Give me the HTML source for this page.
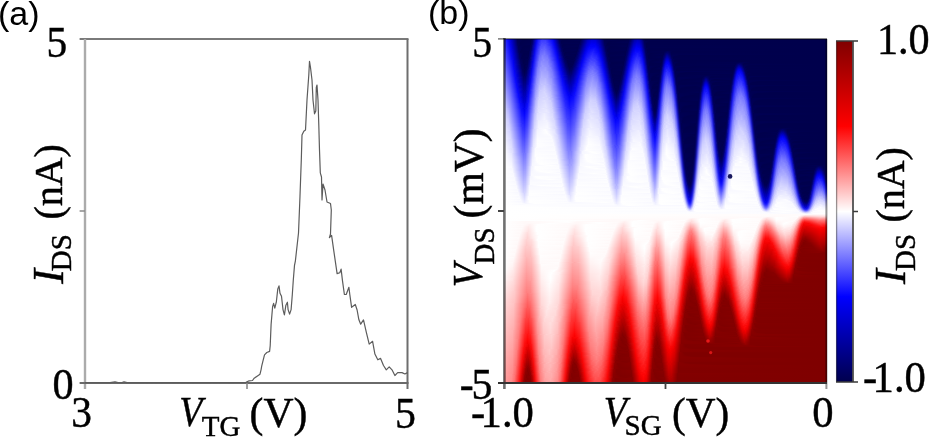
<!DOCTYPE html>
<html><head><meta charset="utf-8"><title>figure</title>
<style>
html,body{margin:0;padding:0;background:#fff}
body{width:930px;height:439px;position:relative;overflow:hidden}
#hm{position:absolute;left:504px;top:39px;width:323px;height:344px}
#hm i{display:block;height:1px;width:323px}
svg{position:absolute;left:0;top:0}
.s{font-family:"Liberation Serif","Times New Roman",serif;fill:#000;stroke:#000;stroke-width:0.45px}
.a{font-family:"Liberation Sans",Arial,sans-serif;fill:#000}
</style></head><body>

<div id="hm"><i style="background:linear-gradient(90deg,#2b2bff 0.5px,#0707f9 4.5px,#0000cd 7.5px,#000056 13.5px,#00004c 19.5px,#005 27.5px,#000081 29.5px,#0606e5 32.5px,#1c1cfd 34.5px,#3d3dff 38.5px,#3030ff 43.5px,#0808f6 48.5px,#0101d2 50.5px,#00006b 54.5px,#000050 56.5px,#000051 76.5px,#00007c 79.5px,#0000c6 84.5px,#0000dc 88.5px,#0000ce 92.5px,#000097 96.5px,#00005d 99.5px,#00004d 102.5px,#00004f 124.5px,#000063 126.5px,#0000a9 130.5px,#0000bd 133.5px,#0000b4 135.5px,#000090 137.5px,#000060 139.5px,#00004e 141.5px,#00004c 322.5px)"></i><i style="background:linear-gradient(90deg,#2d2dff 0.5px,#0909f9 4.5px,#0000cf 7.5px,#000057 13.5px,#00004c 18.5px,#00004f 26.5px,#000068 28.5px,#0707e8 32.5px,#1f1ffe 34.5px,#3c3cff 37.5px,#3d3dff 41.5px,#0909f8 48.5px,#0101d7 50.5px,#00005c 55.5px,#00004d 58.5px,#000053 76.5px,#0000c0 83.5px,#0000de 87.5px,#0000d9 91.5px,#0000ad 95.5px,#000053 100.5px,#00004c 118.5px,#00004f 124.5px,#006 126.5px,#0000ae 130.5px,#0000c2 133.5px,#0000b9 135.5px,#000095 137.5px,#000063 139.5px,#00004e 141.5px,#00004c 322.5px)"></i><i style="background:linear-gradient(90deg,#2f2fff 0.5px,#0a0afa 4.5px,#0000d2 7.5px,#000058 13.5px,#00004d 17.5px,#00004f 26.5px,#00006b 28.5px,#0909ec 32.5px,#2222fe 34.5px,#4040ff 37.5px,#4141ff 41.5px,#0c0cfa 48.5px,#0101dd 50.5px,#000060 55.5px,#00004e 57.5px,#00004f 75.5px,#000073 78.5px,#0000c6 83.5px,#0000e4 87.5px,#0000df 91.5px,#0000b2 95.5px,#005 100.5px,#00004c 106.5px,#000051 124.5px,#00006b 126.5px,#0000b5 130.5px,#0000c9 133.5px,#0000c0 135.5px,#00009c 137.5px,#000057 140.5px,#00004c 145.5px,#00004c 322.5px)"></i><i style="background:linear-gradient(90deg,#3232ff 0.5px,#0505f4 5.5px,#0000ad 9.5px,#00005a 13.5px,#00004d 16.5px,#000050 26.5px,#000070 28.5px,#0404d6 31.5px,#0b0bef 32.5px,#2626fe 34.5px,#44f 37.5px,#4545ff 41.5px,#1818fe 47.5px,#0707f3 49.5px,#0000b0 52.5px,#000065 55.5px,#00004f 57.5px,#000050 75.5px,#000079 78.5px,#0000cd 83.5px,#0000ea 87.5px,#0000e5 91.5px,#0000b8 95.5px,#000058 100.5px,#00004d 104.5px,#000053 124.5px,#008 127.5px,#0000bd 130.5px,#0000d1 133.5px,#0000c7 135.5px,#0000a4 137.5px,#000059 140.5px,#00004d 143.5px,#00004c 322.5px)"></i><i style="background:linear-gradient(90deg,#3434ff 0.5px,#0606f6 5.5px,#0000b0 9.5px,#00005d 13.5px,#00004d 16.5px,#000051 26.5px,#000074 28.5px,#0505db 31.5px,#0d0df1 32.5px,#3737ff 35.5px,#4c4cff 38.5px,#3f3fff 43.5px,#0909f7 49.5px,#0101d2 51.5px,#00006a 55.5px,#000050 57.5px,#000052 75.5px,#000080 78.5px,#0000d4 83.5px,#0000f1 87.5px,#0000ec 91.5px,#0000bf 95.5px,#00005b 100.5px,#00004d 103.5px,#00004f 123.5px,#000063 125.5px,#0000b6 129.5px,#0000d6 132.5px,#0000cf 135.5px,#0000ab 137.5px,#00005c 140.5px,#00004d 142.5px,#00004c 322.5px)"></i><i style="background:linear-gradient(90deg,#3737ff 0.5px,#0707f7 5.5px,#0000c8 8.5px,#00005f 13.5px,#00004d 16.5px,#000052 26.5px,#000079 28.5px,#0606e0 31.5px,#1e1efc 33.5px,#4d4dff 37.5px,#4d4dff 41.5px,#2020ff 47.5px,#0b0bf9 49.5px,#0101d9 51.5px,#00005d 56.5px,#00004d 59.5px,#00004f 74.5px,#000061 76.5px,#0000ce 82.5px,#0000f3 86.5px,#0101f6 90.5px,#0000d4 94.5px,#008 98.5px,#00005e 100.5px,#00004d 103.5px,#00004f 123.5px,#000068 125.5px,#0000be 129.5px,#00d 132.5px,#0000d7 135.5px,#0000b3 137.5px,#00005f 140.5px,#00004d 142.5px,#00004c 322.5px)"></i><i style="background:linear-gradient(90deg,#3939ff 0.5px,#0808f9 5.5px,#00c 8.5px,#000062 13.5px,#00004f 15.5px,#00004e 25.5px,#000064 27.5px,#0707e4 31.5px,#2222fd 33.5px,#5151ff 37.5px,#5151ff 41.5px,#2323ff 47.5px,#0606f1 50.5px,#0000ab 53.5px,#000061 56.5px,#00004e 58.5px,#000050 74.5px,#000079 77.5px,#0000d4 82.5px,#0202f8 86.5px,#0101f7 91.5px,#0000cb 95.5px,#000062 100.5px,#00004e 102.5px,#000051 123.5px,#00006e 125.5px,#0000c5 129.5px,#0000e5 132.5px,#0000df 135.5px,#00b 137.5px,#000063 140.5px,#00004e 142.5px,#00004c 322.5px)"></i><i style="background:linear-gradient(90deg,#3c3cff 0.5px,#0a0afa 5.5px,#0000cf 8.5px,#000056 14.5px,#00004c 20.5px,#00004f 25.5px,#000067 27.5px,#0909e8 31.5px,#2626fe 33.5px,#4e4eff 36.5px,#5959ff 40.5px,#3c3cff 45.5px,#0808f5 50.5px,#0101cd 52.5px,#006 56.5px,#00004f 58.5px,#000052 74.5px,#00007f 77.5px,#0000db 82.5px,#0202f8 85.5px,#0303fb 91.5px,#0000e0 94.5px,#000094 98.5px,#000057 101.5px,#00004c 106.5px,#000053 123.5px,#000074 125.5px,#0000cd 129.5px,#0000ed 132.5px,#0000e6 135.5px,#0000c2 137.5px,#000067 140.5px,#00004e 142.5px,#00004c 322.5px)"></i><i style="background:linear-gradient(90deg,#3e3eff 0.5px,#0c0cfb 5.5px,#0000d2 8.5px,#000058 14.5px,#00004d 18.5px,#00004f 25.5px,#00006b 27.5px,#0b0bec 31.5px,#2929fe 33.5px,#5252ff 36.5px,#5d5dff 40.5px,#3f3fff 45.5px,#0a0af7 50.5px,#0101d4 52.5px,#00006c 56.5px,#000051 58.5px,#00004e 73.5px,#000060 75.5px,#0000e2 82.5px,#0505fc 85.5px,#0606fd 91.5px,#0000e6 94.5px,#00009a 98.5px,#000059 101.5px,#00004d 105.5px,#00004f 122.5px,#000064 124.5px,#0000d5 129.5px,#0101f4 132.5px,#0000ed 135.5px,#0000ca 137.5px,#00006c 140.5px,#00004f 142.5px,#00004c 322.5px)"></i><i style="background:linear-gradient(90deg,#4141ff 0.5px,#0e0efc 5.5px,#0000d5 8.5px,#00005a 14.5px,#00004d 18.5px,#000050 25.5px,#000070 27.5px,#0404d6 30.5px,#0d0def 31.5px,#2d2dfe 33.5px,#5656ff 36.5px,#6161ff 40.5px,#4343ff 45.5px,#0d0dfa 50.5px,#0101da 52.5px,#00005e 57.5px,#00004d 60.5px,#00004f 73.5px,#000064 75.5px,#0000da 81.5px,#0505fa 84.5px,#0d0dff 90.5px,#0303f6 93.5px,#0000cb 96.5px,#00005c 101.5px,#00004d 104.5px,#00004f 122.5px,#000069 124.5px,#0000ca 128.5px,#0101f4 131.5px,#0202fa 134.5px,#0101e7 136.5px,#0000b5 138.5px,#000071 140.5px,#00005a 141.5px,#00004d 144.5px,#00004c 322.5px)"></i><i style="background:linear-gradient(90deg,#4343ff 0.5px,#0707f6 6.5px,#0000af 10.5px,#00005c 14.5px,#00004d 17.5px,#000051 25.5px,#000074 27.5px,#0505da 30.5px,#0f0ff1 31.5px,#4242ff 34.5px,#6262ff 37.5px,#6262ff 41.5px,#33f 47.5px,#1010fb 50.5px,#0202e0 52.5px,#000063 57.5px,#00004f 59.5px,#000051 73.5px,#00007e 76.5px,#0000e0 81.5px,#0808fc 84.5px,#1313ff 89.5px,#0505f9 93.5px,#0000d2 96.5px,#000060 101.5px,#00004e 103.5px,#000050 122.5px,#00006e 124.5px,#0000d2 128.5px,#0303f8 131.5px,#0303f8 135.5px,#0000d9 137.5px,#00005d 141.5px,#00004d 143.5px,#00004c 322.5px)"></i><i style="background:linear-gradient(90deg,#4646ff 0.5px,#0808f8 6.5px,#0000c8 9.5px,#00005f 14.5px,#00004d 17.5px,#000053 25.5px,#000079 27.5px,#0707df 30.5px,#2323fc 32.5px,#5f5fff 36.5px,#6969ff 40.5px,#4b4bff 45.5px,#1313fd 50.5px,#0303e5 52.5px,#000068 57.5px,#000050 59.5px,#000053 73.5px,#000084 76.5px,#0101e7 81.5px,#0c0cfe 84.5px,#1818ff 89.5px,#0303f5 94.5px,#0000c3 97.5px,#000064 101.5px,#00004f 103.5px,#000052 122.5px,#000074 124.5px,#0000d9 128.5px,#0606fc 131.5px,#0606fb 135.5px,#0101df 137.5px,#000060 141.5px,#00004d 143.5px,#00004f 165.5px,#00004c 322.5px)"></i><i style="background:linear-gradient(90deg,#4949ff 0.5px,#0a0af9 6.5px,#0000cb 9.5px,#000061 14.5px,#00004e 16.5px,#00004e 24.5px,#000064 26.5px,#0808e3 30.5px,#2626fd 32.5px,#6363ff 36.5px,#6e6eff 40.5px,#4f4fff 45.5px,#0b0bf8 51.5px,#0101d4 53.5px,#00006d 57.5px,#000051 59.5px,#00004f 72.5px,#000063 74.5px,#0202ec 81.5px,#1010fe 84.5px,#1d1dff 89.5px,#0505f8 94.5px,#0000c9 97.5px,#000068 101.5px,#00004f 103.5px,#00004e 121.5px,#000063 123.5px,#0101e0 128.5px,#0909fd 131.5px,#0a0afc 135.5px,#0202e5 137.5px,#0000a7 139.5px,#000063 141.5px,#00004e 143.5px,#000050 160.5px,#00005d 163.5px,#00004d 168.5px,#00004c 322.5px)"></i><i style="background:linear-gradient(90deg,#4b4bff 0.5px,#0b0bfa 6.5px,#0000cf 9.5px,#000064 14.5px,#00004f 16.5px,#00004f 24.5px,#000067 26.5px,#0909e7 30.5px,#2a2afe 32.5px,#6767ff 36.5px,#7272ff 40.5px,#5353ff 45.5px,#0e0efa 51.5px,#0202db 53.5px,#000060 58.5px,#00004d 61.5px,#000051 72.5px,#00007c 75.5px,#0101e3 80.5px,#0e0efe 83.5px,#22f 88.5px,#0808fa 94.5px,#0000cf 97.5px,#00005a 102.5px,#00004d 105.5px,#00004f 121.5px,#000068 123.5px,#0101e7 128.5px,#0e0efe 131.5px,#0e0efd 135.5px,#0404eb 137.5px,#0000ae 139.5px,#000067 141.5px,#00004e 143.5px,#00004f 159.5px,#000069 163.5px,#00004e 167.5px,#00004c 322.5px)"></i><i style="background:linear-gradient(90deg,#4e4eff 0.5px,#0d0dfb 6.5px,#0000d2 9.5px,#000058 15.5px,#00004d 19.5px,#00004f 24.5px,#00006b 26.5px,#0b0beb 30.5px,#2d2dfe 32.5px,#6b6bff 36.5px,#7676ff 40.5px,#5757ff 45.5px,#1010fb 51.5px,#0202e0 53.5px,#000065 58.5px,#00004f 60.5px,#000053 72.5px,#000082 75.5px,#0101e9 80.5px,#1212fe 83.5px,#2727ff 88.5px,#1212fe 93.5px,#0202e8 96.5px,#00008b 100.5px,#00005d 102.5px,#00004d 105.5px,#000050 121.5px,#00006d 123.5px,#0101d9 127.5px,#0707f8 129.5px,#1818ff 133.5px,#0b0bfa 136.5px,#0202d8 138.5px,#00006c 141.5px,#000057 142.5px,#00004c 146.5px,#000051 159.5px,#000074 162.5px,#00006e 164.5px,#00004f 167.5px,#00004c 322.5px)"></i><i style="background:linear-gradient(90deg,#5050ff 0.5px,#0f0ffc 6.5px,#0000d6 9.5px,#00005a 15.5px,#00004d 19.5px,#000050 24.5px,#00006f 26.5px,#0d0dee 30.5px,#3131fe 32.5px,#6f6fff 36.5px,#7a7aff 40.5px,#5b5bff 45.5px,#1313fd 51.5px,#0303e6 53.5px,#00006a 58.5px,#000051 60.5px,#00004f 71.5px,#000062 73.5px,#0303ee 80.5px,#1616ff 83.5px,#2b2bff 88.5px,#1616ff 93.5px,#0303ec 96.5px,#000091 100.5px,#000060 102.5px,#00004e 104.5px,#000051 121.5px,#000072 123.5px,#0101e0 127.5px,#0a0afa 129.5px,#1c1cff 133.5px,#0f0ffc 136.5px,#0303de 138.5px,#000071 141.5px,#000059 142.5px,#00004d 145.5px,#000053 159.5px,#000081 162.5px,#000085 163.5px,#000051 167.5px,#00004c 322.5px)"></i><i style="background:linear-gradient(90deg,#5353ff 0.5px,#0707f7 7.5px,#0000af 11.5px,#00005d 15.5px,#00004d 18.5px,#000051 24.5px,#000074 26.5px,#0505d8 29.5px,#0f0ff0 30.5px,#3535fe 32.5px,#6868ff 35.5px,#7e7eff 38.5px,#7070ff 43.5px,#2323ff 50.5px,#0c0cf8 52.5px,#0101d5 54.5px,#000070 58.5px,#000053 60.5px,#000050 71.5px,#00007a 74.5px,#0101e4 79.5px,#1212fe 82.5px,#2f2fff 87.5px,#22f 92.5px,#0a0afa 95.5px,#0101e0 97.5px,#000064 102.5px,#00004f 104.5px,#000053 121.5px,#000078 123.5px,#0202e6 127.5px,#0e0efc 129.5px,#2121ff 133.5px,#0a0af5 137.5px,#0404e3 138.5px,#000076 141.5px,#00005c 142.5px,#00004d 144.5px,#00004f 158.5px,#000069 160.5px,#000090 162.5px,#000093 163.5px,#007 165.5px,#005 167.5px,#00004c 175.5px,#00004c 322.5px)"></i><i style="background:linear-gradient(90deg,#55f 0.5px,#0909f8 7.5px,#0000c8 10.5px,#00005f 15.5px,#00004d 18.5px,#000053 24.5px,#000078 26.5px,#0606dc 29.5px,#2424fc 31.5px,#6c6cff 35.5px,#8181ff 38.5px,#7474ff 43.5px,#2626ff 50.5px,#0606ef 53.5px,#000062 59.5px,#00004d 62.5px,#000052 71.5px,#000080 74.5px,#0202e9 79.5px,#1616fe 82.5px,#3434ff 87.5px,#2626ff 92.5px,#0606f4 96.5px,#0000b8 99.5px,#000069 102.5px,#00004f 104.5px,#00004e 120.5px,#000065 122.5px,#0404eb 127.5px,#1212fd 129.5px,#2626ff 133.5px,#0d0df8 137.5px,#0606e8 138.5px,#0000a3 140.5px,#00005e 142.5px,#00004d 144.5px,#000051 158.5px,#000072 160.5px,#00009e 162.5px,#0000a2 163.5px,#000084 165.5px,#000059 167.5px,#00004d 170.5px,#00004c 322.5px)"></i><i style="background:linear-gradient(90deg,#5858ff 0.5px,#0b0bf9 7.5px,#0000cb 10.5px,#000062 15.5px,#00004f 17.5px,#00004e 23.5px,#000064 25.5px,#0808e0 29.5px,#2727fc 31.5px,#7070ff 35.5px,#8484ff 38.5px,#7878ff 43.5px,#3737ff 49.5px,#0707f2 53.5px,#000067 59.5px,#000050 61.5px,#00004f 70.5px,#000072 73.5px,#0303ee 79.5px,#1b1bff 82.5px,#3939ff 87.5px,#2b2bff 92.5px,#0808f7 96.5px,#0101d6 98.5px,#00005a 103.5px,#00004d 106.5px,#00004f 120.5px,#00006a 122.5px,#0202dd 126.5px,#0d0dfa 128.5px,#2929ff 132.5px,#2323ff 135.5px,#1010fa 137.5px,#0707ec 138.5px,#0000a9 140.5px,#000061 142.5px,#00004d 144.5px,#000052 158.5px,#00007c 160.5px,#0000ac 162.5px,#0000b1 163.5px,#000091 165.5px,#00005f 167.5px,#00004d 169.5px,#00004c 322.5px)"></i><i style="background:linear-gradient(90deg,#5a5aff 0.5px,#0c0cfa 7.5px,#0000cf 10.5px,#000065 15.5px,#00004f 17.5px,#00004f 23.5px,#000068 25.5px,#0909e4 29.5px,#2a2afd 31.5px,#7474ff 35.5px,#8686ff 38.5px,#7c7cff 43.5px,#3b3bff 49.5px,#0909f5 53.5px,#0000b4 56.5px,#00005c 60.5px,#00004d 63.5px,#000050 70.5px,#000078 73.5px,#0505f2 79.5px,#2828ff 83.5px,#3e3eff 88.5px,#2727ff 93.5px,#0a0af9 96.5px,#0101db 98.5px,#00005d 103.5px,#00004d 106.5px,#000050 120.5px,#00006f 122.5px,#0303e3 126.5px,#1111fc 128.5px,#2e2eff 132.5px,#2727ff 135.5px,#1414fb 137.5px,#0a0af0 138.5px,#0303d6 139.5px,#000064 142.5px,#00004e 144.5px,#00004e 157.5px,#005 158.5px,#000068 159.5px,#0000a7 161.5px,#00b 162.5px,#0000bf 163.5px,#0000b5 164.5px,#006 167.5px,#00004e 169.5px,#00004c 322.5px)"></i><i style="background:linear-gradient(90deg,#5d5dff 0.5px,#0e0efb 7.5px,#0000d2 10.5px,#000059 16.5px,#00004d 20.5px,#000059 24.5px,#000087 26.5px,#0a0ae8 29.5px,#2e2efe 31.5px,#77f 35.5px,#8a8aff 39.5px,#7878ff 44.5px,#0b0bf8 53.5px,#0101d5 55.5px,#000073 59.5px,#005 61.5px,#00004d 68.5px,#00005c 71.5px,#0000c0 76.5px,#0707f6 79.5px,#3b3bff 85.5px,#3f3fff 90.5px,#0d0dfb 96.5px,#0202e1 98.5px,#000060 103.5px,#00004e 105.5px,#000051 120.5px,#000074 122.5px,#0404e8 126.5px,#1515fd 128.5px,#33f 132.5px,#2c2cff 135.5px,#0c0cf2 138.5px,#0505db 139.5px,#000068 142.5px,#000054 143.5px,#00004c 152.5px,#00004f 157.5px,#000058 158.5px,#00006f 159.5px,#0000b5 161.5px,#0000ca 162.5px,#0000ce 163.5px,#0000c4 164.5px,#000059 168.5px,#00004d 171.5px,#00004c 322.5px)"></i><i style="background:linear-gradient(90deg,#5f5fff 0.5px,#1d1dff 6.5px,#0202e8 9.5px,#00005b 16.5px,#00004d 19.5px,#000051 23.5px,#000070 25.5px,#0c0cec 29.5px,#3131fe 31.5px,#7b7bff 35.5px,#8c8cff 39.5px,#7b7bff 44.5px,#0e0efa 53.5px,#0101db 55.5px,#006 60.5px,#00004d 63.5px,#005 70.5px,#000085 73.5px,#0303ed 78.5px,#1e1eff 81.5px,#44f 86.5px,#3e3eff 91.5px,#1010fc 96.5px,#0202e5 98.5px,#000064 103.5px,#00004f 105.5px,#000053 120.5px,#00007a 122.5px,#0202d7 125.5px,#0e0ef9 127.5px,#3434ff 131.5px,#3636ff 134.5px,#0f0ff5 138.5px,#0606e0 139.5px,#00006c 142.5px,#000056 143.5px,#00004c 148.5px,#000050 157.5px,#00005d 158.5px,#00009f 160.5px,#0000c2 161.5px,#0000d8 162.5px,#00d 163.5px,#0000d3 164.5px,#00009b 166.5px,#00005d 168.5px,#00004d 170.5px,#00004c 322.5px)"></i><i style="background:linear-gradient(90deg,#6262ff 0.5px,#1f1fff 6.5px,#0303eb 9.5px,#00005e 16.5px,#00004d 19.5px,#000052 23.5px,#000074 25.5px,#0404d5 28.5px,#0e0eee 29.5px,#3535fe 31.5px,#7171ff 34.5px,#8b8bff 37.5px,#8585ff 43.5px,#5353ff 48.5px,#1010fb 53.5px,#0202e0 55.5px,#00006b 60.5px,#00004e 63.5px,#000050 69.5px,#007 72.5px,#0505f1 78.5px,#2d2dff 82.5px,#4c4cff 87.5px,#3c3cff 92.5px,#0a0af7 97.5px,#0101d5 99.5px,#000068 103.5px,#00004f 105.5px,#00004f 119.5px,#006 121.5px,#0202dd 125.5px,#1212fb 127.5px,#3939ff 131.5px,#3b3bff 134.5px,#1212f7 138.5px,#0808e5 139.5px,#000071 142.5px,#000059 143.5px,#00004d 146.5px,#000052 157.5px,#000061 158.5px,#0000d0 161.5px,#0101e5 162.5px,#0101ea 163.5px,#0101e0 164.5px,#0000a8 166.5px,#000063 168.5px,#00004d 170.5px,#00004c 322.5px)"></i><i style="background:linear-gradient(90deg,#6464ff 0.5px,#22f 6.5px,#0303ed 9.5px,#000061 16.5px,#00004d 19.5px,#000054 23.5px,#000079 25.5px,#0505d9 28.5px,#1010f0 29.5px,#3939fe 31.5px,#7575ff 34.5px,#8e8eff 37.5px,#8787ff 43.5px,#5757ff 48.5px,#1313fc 53.5px,#0303e5 55.5px,#000071 60.5px,#00004f 63.5px,#000053 69.5px,#00007d 72.5px,#0202e7 77.5px,#0f0ffc 79.5px,#4a4aff 85.5px,#4c4cff 90.5px,#22f 95.5px,#0505ee 98.5px,#0000a4 101.5px,#00005a 104.5px,#00004d 107.5px,#00004f 119.5px,#00006b 121.5px,#0404e2 125.5px,#1616fc 127.5px,#3d3dff 131.5px,#3f3fff 134.5px,#1515f9 138.5px,#0909e9 139.5px,#01019f 141.5px,#000076 142.5px,#00005b 143.5px,#00004d 145.5px,#000053 157.5px,#006 158.5px,#0101db 161.5px,#0202ef 162.5px,#0303f4 163.5px,#0202eb 164.5px,#0101d7 165.5px,#000069 168.5px,#005 169.5px,#00004c 176.5px,#000050 232.5px,#000056 236.5px,#00004c 246.5px,#00004c 322.5px)"></i><i style="background:linear-gradient(90deg,#6767ff 0.5px,#2424ff 6.5px,#0404ef 9.5px,#000064 16.5px,#00004d 19.5px,#000056 23.5px,#00007e 25.5px,#0707dd 28.5px,#2626fc 30.5px,#7878ff 34.5px,#9191ff 37.5px,#8a8aff 43.5px,#6767ff 47.5px,#0b0bf7 54.5px,#0101d5 56.5px,#000065 61.5px,#00004d 64.5px,#005 69.5px,#000098 73.5px,#0303eb 77.5px,#1f1fff 80.5px,#4e4eff 85.5px,#5151ff 90.5px,#2626ff 95.5px,#0606f1 98.5px,#00a 101.5px,#00005c 104.5px,#00004d 107.5px,#000050 119.5px,#000070 121.5px,#0505e7 125.5px,#1a1afd 127.5px,#4242ff 131.5px,#44f 134.5px,#1919fa 138.5px,#0c0ced 139.5px,#0404cf 140.5px,#00007b 142.5px,#00005e 143.5px,#00004d 145.5px,#00004e 156.5px,#005 157.5px,#00006b 158.5px,#0303e5 161.5px,#0505f6 162.5px,#0404f4 164.5px,#0202e2 165.5px,#000071 168.5px,#000058 169.5px,#00004d 172.5px,#00004f 231.5px,#000067 235.5px,#00004d 240.5px,#00004c 322.5px)"></i><i style="background:linear-gradient(90deg,#6969ff 0.5px,#2727ff 6.5px,#0505f2 9.5px,#000058 17.5px,#00004d 21.5px,#000058 23.5px,#000083 25.5px,#0808e1 28.5px,#2929fd 30.5px,#7b7bff 34.5px,#9393ff 37.5px,#8c8cff 43.5px,#6b6bff 47.5px,#0d0df9 54.5px,#0101db 56.5px,#00006b 61.5px,#00004e 64.5px,#000051 68.5px,#007 71.5px,#0505f0 77.5px,#2323ff 80.5px,#5353ff 85.5px,#55f 90.5px,#2a2aff 95.5px,#0808f4 98.5px,#0101cc 100.5px,#000060 104.5px,#00004e 106.5px,#000052 119.5px,#000075 121.5px,#0202d4 124.5px,#1111f9 126.5px,#4141ff 130.5px,#4b4bff 133.5px,#3838ff 136.5px,#1c1cfb 138.5px,#0e0eef 139.5px,#0505d4 140.5px,#000080 142.5px,#000061 143.5px,#00004d 145.5px,#00004f 156.5px,#000058 157.5px,#000071 158.5px,#0303cc 160.5px,#0606eb 161.5px,#0a0afd 163.5px,#0404ea 165.5px,#0202cd 166.5px,#00007a 168.5px,#00005d 169.5px,#00004d 171.5px,#000052 231.5px,#000078 234.5px,#000073 236.5px,#000050 239.5px,#00004c 322.5px)"></i><i style="background:linear-gradient(90deg,#6c6cff 0.5px,#2929ff 6.5px,#0606f4 9.5px,#000093 14.5px,#00005b 17.5px,#00004d 20.5px,#00005b 23.5px,#008 25.5px,#0909e5 28.5px,#2c2cfd 30.5px,#7e7eff 34.5px,#9898ff 38.5px,#8a8aff 44.5px,#5454ff 49.5px,#0f0ffb 54.5px,#0202e0 56.5px,#000070 61.5px,#00004f 64.5px,#000054 68.5px,#00007d 71.5px,#0606f4 77.5px,#33f 81.5px,#5c5cff 86.5px,#5454ff 91.5px,#0a0af7 98.5px,#0101d2 100.5px,#000064 104.5px,#00004e 106.5px,#000053 119.5px,#00007b 121.5px,#0303da 124.5px,#1414fb 126.5px,#4545ff 130.5px,#5050ff 133.5px,#3c3cff 136.5px,#1111f2 139.5px,#0606d9 140.5px,#000063 143.5px,#00004d 145.5px,#000050 156.5px,#00005b 157.5px,#000079 158.5px,#0404d4 160.5px,#0a0af1 161.5px,#0f0ffe 163.5px,#0808f1 165.5px,#0303d8 166.5px,#000083 168.5px,#000061 169.5px,#00004d 171.5px,#00004f 230.5px,#000068 232.5px,#00008c 234.5px,#000090 235.5px,#000075 237.5px,#005 239.5px,#00004c 247.5px,#00004c 322.5px)"></i><i style="background:linear-gradient(90deg,#6f6fff 0.5px,#2c2cff 6.5px,#0707f6 9.5px,#0000ad 13.5px,#00005e 17.5px,#00004d 20.5px,#00005e 23.5px,#00008d 25.5px,#0a0ae9 28.5px,#2f2ffe 30.5px,#8181ff 34.5px,#9a9aff 38.5px,#8c8cff 44.5px,#5757ff 49.5px,#1212fc 54.5px,#0303e5 56.5px,#000076 61.5px,#000051 64.5px,#000050 67.5px,#000071 70.5px,#0808f7 77.5px,#5656ff 84.5px,#6464ff 88.5px,#4949ff 93.5px,#0d0df9 98.5px,#0101d7 100.5px,#000068 104.5px,#00004f 106.5px,#00004f 118.5px,#006 120.5px,#0404e0 124.5px,#1818fc 126.5px,#4a4aff 130.5px,#5454ff 133.5px,#4141ff 136.5px,#1414f5 139.5px,#0808de 140.5px,#006 143.5px,#000053 144.5px,#00004d 155.5px,#00005f 157.5px,#000081 158.5px,#0707dc 160.5px,#0d0df4 161.5px,#1111fd 164.5px,#0b0bf5 165.5px,#0505e0 166.5px,#006 169.5px,#000053 170.5px,#00004c 190.5px,#000051 230.5px,#000075 232.5px,#0000a2 234.5px,#0000a6 235.5px,#008 237.5px,#00005c 239.5px,#00004d 242.5px,#00004c 322.5px)"></i><i style="background:linear-gradient(90deg,#7171ff 0.5px,#2e2eff 6.5px,#0909f7 9.5px,#0000b0 13.5px,#000061 17.5px,#00004d 20.5px,#000054 22.5px,#000076 24.5px,#0c0cec 28.5px,#3333fe 30.5px,#7575ff 33.5px,#9696ff 36.5px,#9b9bff 41.5px,#8080ff 46.5px,#0a0af7 55.5px,#0000bd 58.5px,#00006b 62.5px,#00004f 65.5px,#00005b 68.5px,#00009d 72.5px,#0404ee 76.5px,#22f 79.5px,#5b5bff 84.5px,#6868ff 88.5px,#4d4dff 93.5px,#0f0ffa 98.5px,#0202dc 100.5px,#00006c 104.5px,#000050 106.5px,#00004f 118.5px,#00006b 120.5px,#0505e5 124.5px,#1c1cfd 126.5px,#4f4fff 130.5px,#5959ff 133.5px,#4545ff 136.5px,#1616f7 139.5px,#0909e3 140.5px,#00006a 143.5px,#005 144.5px,#00004c 151.5px,#000052 156.5px,#000063 157.5px,#0909e2 160.5px,#1212f7 161.5px,#1717fe 164.5px,#0808e8 166.5px,#0303c5 167.5px,#00006c 169.5px,#005 170.5px,#00004c 176.5px,#00004e 229.5px,#000067 231.5px,#0000a4 233.5px,#0000b7 234.5px,#0000bc 235.5px,#00009c 237.5px,#000065 239.5px,#00004e 241.5px,#00004c 322.5px)"></i><i style="background:linear-gradient(90deg,#7474ff 0.5px,#3131ff 6.5px,#0a0af9 9.5px,#0000c9 12.5px,#000064 17.5px,#00004e 20.5px,#000056 22.5px,#00007b 24.5px,#0404d6 27.5px,#1f1ffb 29.5px,#7979ff 33.5px,#9898ff 36.5px,#9d9dff 41.5px,#8383ff 46.5px,#0c0cf9 55.5px,#0101db 57.5px,#000071 62.5px,#000052 65.5px,#000060 68.5px,#0000b8 73.5px,#0606f2 76.5px,#3434ff 80.5px,#66f 85.5px,#6b6bff 89.5px,#4646ff 94.5px,#1212fc 98.5px,#0202e1 100.5px,#00005c 105.5px,#00004d 108.5px,#000050 118.5px,#000070 120.5px,#0707e9 124.5px,#2020fd 126.5px,#5454ff 130.5px,#5e5eff 133.5px,#4949ff 136.5px,#1919f9 139.5px,#0b0be7 140.5px,#00006e 143.5px,#000057 144.5px,#00004c 148.5px,#000053 156.5px,#000067 157.5px,#0d0de7 160.5px,#1616f9 161.5px,#1c1cfe 164.5px,#0b0bed 166.5px,#0505ce 167.5px,#000072 169.5px,#000058 170.5px,#00004d 173.5px,#000050 229.5px,#00005a 230.5px,#000096 232.5px,#0000b8 233.5px,#0000cd 234.5px,#0000d1 235.5px,#0000c7 236.5px,#000091 238.5px,#00005b 240.5px,#00004d 243.5px,#00004c 322.5px)"></i><i style="background:linear-gradient(90deg,#7676ff 0.5px,#33f 6.5px,#0c0cfa 9.5px,#0000cd 12.5px,#000059 18.5px,#000050 21.5px,#000068 23.5px,#0505da 27.5px,#2222fb 29.5px,#7c7cff 33.5px,#9b9bff 36.5px,#a0a0ff 41.5px,#7c7cff 47.5px,#0e0efb 55.5px,#0202e0 57.5px,#007 62.5px,#005 65.5px,#006 68.5px,#0000be 73.5px,#0707f5 76.5px,#4545ff 81.5px,#6f6fff 86.5px,#6c6cff 90.5px,#3e3eff 95.5px,#0a0af5 99.5px,#0101cd 101.5px,#000060 105.5px,#00004e 107.5px,#000052 118.5px,#000076 120.5px,#0303d6 123.5px,#1515fa 125.5px,#5959ff 130.5px,#6363ff 133.5px,#4e4eff 136.5px,#1d1dfa 139.5px,#0e0eea 140.5px,#0404c9 141.5px,#000073 143.5px,#000059 144.5px,#00004d 147.5px,#00004e 155.5px,#005 156.5px,#00006c 157.5px,#0707c9 159.5px,#1010ec 160.5px,#2323fe 162.5px,#1a1afc 165.5px,#0f0ff2 166.5px,#0707d7 167.5px,#00007a 169.5px,#00005c 170.5px,#00004d 172.5px,#000051 229.5px,#000060 230.5px,#0000cb 233.5px,#0101e0 234.5px,#0101e4 235.5px,#0101db 236.5px,#0000a4 238.5px,#000062 240.5px,#00004e 242.5px,#00004c 322.5px)"></i><i style="background:linear-gradient(90deg,#7979ff 0.5px,#3636ff 6.5px,#0505f2 10.5px,#00005c 18.5px,#00004f 20.5px,#00005b 22.5px,#0000a1 25.5px,#0606de 27.5px,#2626fc 29.5px,#7f7fff 33.5px,#9d9dff 36.5px,#a2a2ff 41.5px,#7f7fff 47.5px,#1111fc 55.5px,#0202e5 57.5px,#00007e 62.5px,#00005a 65.5px,#000060 67.5px,#00009c 71.5px,#0303ec 75.5px,#2020ff 78.5px,#6969ff 84.5px,#77f 88.5px,#5959ff 93.5px,#0c0cf7 99.5px,#0101d3 101.5px,#000064 105.5px,#00004e 107.5px,#000054 118.5px,#00007b 120.5px,#0404dc 123.5px,#1818fb 125.5px,#5454ff 129.5px,#6767ff 132.5px,#5d5dff 135.5px,#2020fb 139.5px,#1010ed 140.5px,#0606cf 141.5px,#000078 143.5px,#00005c 144.5px,#00004d 146.5px,#00004e 155.5px,#000056 156.5px,#000070 157.5px,#0909d0 159.5px,#1414f0 160.5px,#2929ff 162.5px,#1f1ffd 165.5px,#1313f6 166.5px,#0909de 167.5px,#010183 169.5px,#000060 170.5px,#00004d 172.5px,#00004e 228.5px,#000054 229.5px,#000067 230.5px,#0202dc 233.5px,#0202ee 234.5px,#0202eb 236.5px,#0101d7 237.5px,#00006c 240.5px,#000057 241.5px,#00004d 245.5px,#00004c 322.5px)"></i><i style="background:linear-gradient(90deg,#7b7bff 0.5px,#3939ff 6.5px,#0606f4 10.5px,#00005f 18.5px,#000050 20.5px,#00005f 22.5px,#0000a6 25.5px,#0707e2 27.5px,#2929fc 29.5px,#8282ff 33.5px,#a4a4ff 37.5px,#9e9eff 43.5px,#7676ff 48.5px,#0a0af7 56.5px,#0000c0 59.5px,#000074 63.5px,#000060 65.5px,#006 67.5px,#0000a2 71.5px,#0505f0 75.5px,#2424ff 78.5px,#6e6eff 84.5px,#7b7bff 88.5px,#5e5eff 93.5px,#0f0ff9 99.5px,#0202d8 101.5px,#000068 105.5px,#00004f 107.5px,#00004f 117.5px,#000067 119.5px,#0505e1 123.5px,#1c1cfc 125.5px,#5959ff 129.5px,#6c6cff 132.5px,#6161ff 135.5px,#2424fb 139.5px,#1313f0 140.5px,#0707d4 141.5px,#00007d 143.5px,#00005f 144.5px,#00004d 146.5px,#00004f 155.5px,#000059 156.5px,#010176 157.5px,#0b0bd7 159.5px,#1818f3 160.5px,#3030ff 163.5px,#1818f8 166.5px,#0c0ce4 167.5px,#000065 170.5px,#000052 171.5px,#00004f 228.5px,#000057 229.5px,#000070 230.5px,#0202c8 232.5px,#0404e8 233.5px,#0606fa 235.5px,#0303e6 237.5px,#0000a0 239.5px,#000078 240.5px,#00005c 241.5px,#00004d 243.5px,#00004c 322.5px)"></i><i style="background:linear-gradient(90deg,#7e7eff 0.5px,#3b3bff 6.5px,#0808f6 10.5px,#0000af 14.5px,#000062 18.5px,#000052 20.5px,#000062 22.5px,#0000ab 25.5px,#0909e5 27.5px,#2c2cfd 29.5px,#8585ff 33.5px,#a7a7ff 37.5px,#a0a0ff 43.5px,#7a7aff 48.5px,#0c0cf9 56.5px,#0101dc 58.5px,#00007a 63.5px,#006 65.5px,#00006c 67.5px,#0000a9 71.5px,#0606f3 75.5px,#3636ff 79.5px,#7272ff 84.5px,#7f7fff 88.5px,#6c6cff 92.5px,#1111fb 99.5px,#0202dd 101.5px,#00006c 105.5px,#000050 107.5px,#00004f 117.5px,#00006b 119.5px,#0606e6 123.5px,#2020fd 125.5px,#5e5eff 129.5px,#7171ff 132.5px,#6565ff 135.5px,#2727fc 139.5px,#1515f2 140.5px,#0808d9 141.5px,#000082 143.5px,#000061 144.5px,#00004d 146.5px,#000050 155.5px,#00005c 156.5px,#01017c 157.5px,#0e0edd 159.5px,#1c1cf6 160.5px,#3434ff 162.5px,#2a2afe 165.5px,#1d1dfa 166.5px,#1010e9 167.5px,#0606c5 168.5px,#000069 170.5px,#000054 171.5px,#00004c 182.5px,#000050 228.5px,#00005c 229.5px,#00007a 230.5px,#0303d5 232.5px,#0606f0 233.5px,#0a0afd 235.5px,#0606f0 237.5px,#0303d8 238.5px,#000063 241.5px,#00004d 243.5px,#00004c 322.5px)"></i><i style="background:linear-gradient(90deg,#8080ff 0.5px,#3e3eff 6.5px,#0909f8 10.5px,#0000b3 14.5px,#006 18.5px,#005 20.5px,#006 22.5px,#0000b0 25.5px,#0a0ae9 27.5px,#2f2ffe 29.5px,#88f 33.5px,#a9a9ff 37.5px,#a3a3ff 43.5px,#7d7dff 48.5px,#0e0efb 56.5px,#0202e1 58.5px,#000080 63.5px,#00006c 65.5px,#000072 67.5px,#0000af 71.5px,#0808f6 75.5px,#6363ff 82.5px,#8181ff 86.5px,#7878ff 91.5px,#4040ff 96.5px,#0909f4 100.5px,#0101c8 102.5px,#000071 105.5px,#000051 107.5px,#000050 117.5px,#000070 119.5px,#0808ea 123.5px,#2424fe 125.5px,#6363ff 129.5px,#7575ff 132.5px,#6a6aff 135.5px,#2b2bfd 139.5px,#1818f5 140.5px,#0a0ade 141.5px,#000064 144.5px,#000052 145.5px,#000051 155.5px,#000060 156.5px,#010183 157.5px,#1111e1 159.5px,#2121f7 160.5px,#3939ff 162.5px,#2f2fff 165.5px,#1414ee 167.5px,#0808cd 168.5px,#00006e 170.5px,#005 171.5px,#00004c 176.5px,#000052 228.5px,#000062 229.5px,#000086 230.5px,#0505e0 232.5px,#0a0af6 233.5px,#0d0dfd 236.5px,#0505e4 238.5px,#00006b 241.5px,#005 242.5px,#00004c 248.5px,#00004c 322.5px)"></i><i style="background:linear-gradient(90deg,#8383ff 0.5px,#4040ff 6.5px,#0b0bf9 10.5px,#0000cb 13.5px,#00006a 18.5px,#000058 20.5px,#00006b 22.5px,#0101b5 25.5px,#0b0bec 27.5px,#3232fe 29.5px,#8a8aff 33.5px,#acacff 37.5px,#a5a5ff 43.5px,#8080ff 48.5px,#1010fc 56.5px,#0202e6 58.5px,#000086 63.5px,#000072 65.5px,#000078 67.5px,#0000b5 71.5px,#0a0af9 75.5px,#7b7bff 84.5px,#8484ff 89.5px,#6a6aff 93.5px,#1717fd 99.5px,#0404e6 101.5px,#000060 106.5px,#00004e 108.5px,#000052 117.5px,#000076 119.5px,#0303d7 122.5px,#1717fa 124.5px,#6767ff 129.5px,#7a7aff 132.5px,#6e6eff 135.5px,#2e2efe 139.5px,#1b1bf7 140.5px,#0b0be2 141.5px,#000067 144.5px,#000053 145.5px,#00004d 154.5px,#000052 155.5px,#000063 156.5px,#02028a 157.5px,#1414e5 159.5px,#2525f9 160.5px,#3e3eff 162.5px,#3535ff 165.5px,#1818f2 167.5px,#0a0ad4 168.5px,#010173 170.5px,#000058 171.5px,#00004d 174.5px,#00004e 227.5px,#000053 228.5px,#000068 229.5px,#0808e8 232.5px,#0e0ef9 233.5px,#1212fe 236.5px,#0808ed 238.5px,#0303cf 239.5px,#000075 241.5px,#00005a 242.5px,#00004d 244.5px,#00004c 322.5px)"></i><i style="background:linear-gradient(90deg,#8585ff 0.5px,#4343ff 6.5px,#0d0dfa 10.5px,#0000cf 13.5px,#00006e 18.5px,#00005b 20.5px,#00006f 22.5px,#0101ba 25.5px,#0d0def 27.5px,#3636fe 29.5px,#8d8dff 33.5px,#aeaeff 37.5px,#a8a8ff 43.5px,#8282ff 48.5px,#0909f7 57.5px,#000080 64.5px,#007 66.5px,#000098 69.5px,#0505f2 74.5px,#3434ff 78.5px,#7676ff 83.5px,#8989ff 87.5px,#7878ff 92.5px,#0e0ef8 100.5px,#0101d3 102.5px,#000064 106.5px,#00004e 108.5px,#00004e 116.5px,#000063 118.5px,#0404dc 122.5px,#1a1afb 124.5px,#6c6cff 129.5px,#7e7eff 132.5px,#7272ff 135.5px,#4747ff 138.5px,#1e1ef8 140.5px,#0d0de6 141.5px,#00006a 144.5px,#005 145.5px,#00004d 152.5px,#000053 155.5px,#000067 156.5px,#0909c3 158.5px,#1818e9 159.5px,#2a2afa 160.5px,#44f 162.5px,#3a3aff 165.5px,#1c1cf5 167.5px,#0d0ddb 168.5px,#01017a 170.5px,#00005b 171.5px,#00004d 173.5px,#000051 200.5px,#00004e 227.5px,#000056 228.5px,#00006e 229.5px,#0505cd 231.5px,#0b0bee 232.5px,#1818ff 234.5px,#1212fd 237.5px,#0c0cf3 238.5px,#0505db 239.5px,#000081 241.5px,#000060 242.5px,#00004d 244.5px,#00004c 322.5px)"></i><i style="background:linear-gradient(90deg,#88f 0.5px,#4545ff 6.5px,#0f0ffb 10.5px,#0000d2 13.5px,#000065 19.5px,#000065 21.5px,#0000a2 24.5px,#0f0ff1 27.5px,#5252ff 30.5px,#9090ff 33.5px,#b1b1ff 37.5px,#aaf 43.5px,#7979ff 49.5px,#0b0bfa 57.5px,#0000c9 60.5px,#000086 64.5px,#00007d 66.5px,#00009e 69.5px,#0707f5 74.5px,#4646ff 79.5px,#8282ff 84.5px,#8b8bff 89.5px,#7272ff 93.5px,#1010fa 100.5px,#0202d9 102.5px,#000068 106.5px,#00004f 108.5px,#00004f 116.5px,#000067 118.5px,#0505e1 122.5px,#1e1efc 124.5px,#7171ff 129.5px,#8282ff 132.5px,#77f 135.5px,#4b4bff 138.5px,#2121f9 140.5px,#0f0fe9 141.5px,#010198 143.5px,#00006f 144.5px,#000057 145.5px,#00004c 149.5px,#000054 155.5px,#00006b 156.5px,#0b0bca 158.5px,#1b1bed 159.5px,#4040fe 161.5px,#4c4cff 163.5px,#3232fe 166.5px,#2121f7 167.5px,#1111e0 168.5px,#010181 170.5px,#00005e 171.5px,#00004d 173.5px,#000051 199.5px,#00005e 202.5px,#00004d 207.5px,#00004f 227.5px,#000059 228.5px,#000075 229.5px,#0707d7 231.5px,#0f0ff3 232.5px,#1e1eff 235.5px,#1010f8 238.5px,#0808e4 239.5px,#006 242.5px,#000053 243.5px,#00004c 280.5px,#00004c 322.5px)"></i><i style="background:linear-gradient(90deg,#8a8aff 0.5px,#4848ff 6.5px,#0707f5 11.5px,#000069 19.5px,#00006a 21.5px,#0000a7 24.5px,#1111f3 27.5px,#5656ff 30.5px,#9292ff 33.5px,#b3b3ff 37.5px,#acacff 43.5px,#7c7cff 49.5px,#0d0dfb 57.5px,#0202e3 59.5px,#00008c 64.5px,#000083 66.5px,#0000a5 69.5px,#0808f8 74.5px,#7e7eff 83.5px,#8f8fff 88.5px,#7676ff 93.5px,#1313fb 100.5px,#0202de 102.5px,#00006d 106.5px,#000050 108.5px,#000050 116.5px,#00006c 118.5px,#0707e6 122.5px,#2222fd 124.5px,#7575ff 129.5px,#8484ff 133.5px,#6f6fff 136.5px,#2424fa 140.5px,#1212eb 141.5px,#0606cb 142.5px,#000073 144.5px,#000059 145.5px,#00004d 148.5px,#00004e 154.5px,#005 155.5px,#01016f 156.5px,#0d0dd0 158.5px,#1f1ff0 159.5px,#4545ff 161.5px,#5252ff 163.5px,#3838fe 166.5px,#2626f9 167.5px,#1414e5 168.5px,#020289 170.5px,#000063 171.5px,#000052 172.5px,#00004f 198.5px,#00006b 201.5px,#000063 203.5px,#00004d 206.5px,#000050 227.5px,#00005d 228.5px,#01017e 229.5px,#0a0ade 231.5px,#1313f6 232.5px,#2323ff 235.5px,#1515fa 238.5px,#0c0cec 239.5px,#0505ca 240.5px,#00006d 242.5px,#005 243.5px,#00004c 249.5px,#00004c 322.5px)"></i><i style="background:linear-gradient(90deg,#8d8dff 0.5px,#4b4bff 6.5px,#0808f7 11.5px,#00009f 16.5px,#00006e 19.5px,#00006e 21.5px,#0000ac 24.5px,#0707e3 26.5px,#2727fc 28.5px,#8585ff 32.5px,#b1b1ff 36.5px,#b6b6ff 41.5px,#9494ff 47.5px,#44f 53.5px,#0707f6 58.5px,#000092 64.5px,#000089 66.5px,#0000ab 69.5px,#0404f0 73.5px,#22f 76.5px,#8282ff 83.5px,#9292ff 88.5px,#7a7aff 93.5px,#1616fc 100.5px,#0303e2 102.5px,#00005d 107.5px,#00004d 110.5px,#000051 116.5px,#000071 118.5px,#0808ea 122.5px,#2626fe 124.5px,#6d6dff 128.5px,#8686ff 131.5px,#7e7eff 135.5px,#5353ff 138.5px,#2828fb 140.5px,#1414ee 141.5px,#0707d0 142.5px,#000078 144.5px,#00005c 145.5px,#00004d 147.5px,#00004e 154.5px,#000057 155.5px,#010173 156.5px,#0f0fd6 158.5px,#2323f3 159.5px,#4a4aff 161.5px,#5757ff 163.5px,#3e3efe 166.5px,#2b2bfa 167.5px,#1818e9 168.5px,#0a0ac4 169.5px,#000067 171.5px,#000053 172.5px,#00004d 197.5px,#00005c 199.5px,#00007b 201.5px,#00007c 202.5px,#000053 205.5px,#000051 227.5px,#000062 228.5px,#010187 229.5px,#0d0de4 231.5px,#1717f8 232.5px,#2828ff 235.5px,#1a1afc 238.5px,#1010f1 239.5px,#0707d4 240.5px,#000075 242.5px,#000059 243.5px,#00004d 246.5px,#00004c 322.5px)"></i><i style="background:linear-gradient(90deg,#8f8fff 0.5px,#4d4dff 6.5px,#0a0af8 11.5px,#0000b6 15.5px,#000072 19.5px,#000073 21.5px,#0000b1 24.5px,#0808e6 26.5px,#2a2afd 28.5px,#88f 32.5px,#b4b4ff 36.5px,#b8b8ff 41.5px,#9797ff 47.5px,#4747ff 53.5px,#0909f8 58.5px,#000098 64.5px,#00008f 66.5px,#0000b1 69.5px,#0505f4 73.5px,#3434ff 77.5px,#8585ff 83.5px,#9595ff 88.5px,#7e7eff 93.5px,#1818fd 100.5px,#0404e6 102.5px,#000061 107.5px,#00004e 109.5px,#000053 116.5px,#007 118.5px,#0303d7 121.5px,#1818fa 123.5px,#7272ff 128.5px,#8989ff 131.5px,#8181ff 135.5px,#5757ff 138.5px,#2b2bfc 140.5px,#1717f1 141.5px,#0909d5 142.5px,#00007d 144.5px,#00005e 145.5px,#00004d 147.5px,#00004f 154.5px,#000059 155.5px,#010177 156.5px,#1212da 158.5px,#2727f5 159.5px,#5050ff 161.5px,#5d5dff 163.5px,#4343ff 166.5px,#1c1cee 168.5px,#0c0ccb 169.5px,#00006b 171.5px,#000054 172.5px,#00004c 181.5px,#00004e 197.5px,#000065 199.5px,#00008b 201.5px,#00008c 202.5px,#000057 205.5px,#00004c 210.5px,#000053 227.5px,#000067 228.5px,#0606c4 230.5px,#1010ea 231.5px,#1b1bfa 232.5px,#2e2eff 235.5px,#1f1ffd 238.5px,#1414f6 239.5px,#0a0add 240.5px,#01017f 242.5px,#00005e 243.5px,#00004d 245.5px,#00004c 322.5px)"></i><i style="background:linear-gradient(90deg,#9292ff 0.5px,#5050ff 6.5px,#0c0cfa 11.5px,#0000ce 14.5px,#000076 19.5px,#007 21.5px,#0000b6 24.5px,#0909ea 26.5px,#2d2dfe 28.5px,#8b8bff 32.5px,#b6b6ff 36.5px,#bbf 41.5px,#99f 47.5px,#5a5aff 52.5px,#0a0afa 58.5px,#0000ce 61.5px,#00009e 64.5px,#000095 66.5px,#0000b7 69.5px,#0707f7 73.5px,#4747ff 78.5px,#8989ff 83.5px,#99f 88.5px,#8181ff 93.5px,#0e0ef8 101.5px,#0101d4 103.5px,#000065 107.5px,#00004f 109.5px,#00004e 115.5px,#000064 117.5px,#0404dc 121.5px,#1b1bfb 123.5px,#7676ff 128.5px,#8e8eff 132.5px,#8585ff 135.5px,#5a5aff 138.5px,#1919f3 141.5px,#0a0ada 142.5px,#000082 144.5px,#000061 145.5px,#00004d 147.5px,#000050 154.5px,#00005c 155.5px,#02027d 156.5px,#1515de 158.5px,#2c2cf7 159.5px,#55f 161.5px,#6262ff 163.5px,#4949ff 166.5px,#2020f1 168.5px,#0e0ed2 169.5px,#01016f 171.5px,#000056 172.5px,#00004c 177.5px,#000050 197.5px,#00006f 199.5px,#00009c 201.5px,#00009d 202.5px,#00005c 205.5px,#00004d 207.5px,#00004e 226.5px,#005 227.5px,#00006c 228.5px,#0808ce 230.5px,#1313ef 231.5px,#2a2aff 233.5px,#3131ff 236.5px,#1919f8 239.5px,#0d0de5 240.5px,#000064 243.5px,#000052 244.5px,#00004c 322.5px)"></i><i style="background:linear-gradient(90deg,#9494ff 0.5px,#5252ff 6.5px,#0e0efb 11.5px,#0000d2 14.5px,#00007b 19.5px,#00007c 21.5px,#00b 24.5px,#0a0aed 26.5px,#3131fe 28.5px,#8e8eff 32.5px,#b9b9ff 36.5px,#bdbdff 41.5px,#9b9bff 47.5px,#5d5dff 52.5px,#0c0cfc 58.5px,#0000d4 61.5px,#0000a4 64.5px,#00009b 66.5px,#0000bd 69.5px,#0909f9 73.5px,#5b5bff 79.5px,#8c8cff 83.5px,#9c9cff 88.5px,#8585ff 93.5px,#1111fa 101.5px,#0202d9 103.5px,#000069 107.5px,#000050 109.5px,#00004f 115.5px,#000069 117.5px,#0505e1 121.5px,#1e1efc 123.5px,#7a7aff 128.5px,#9191ff 132.5px,#88f 135.5px,#5e5eff 138.5px,#1c1cf5 141.5px,#0b0bdf 142.5px,#000064 145.5px,#000052 146.5px,#000051 154.5px,#00005f 155.5px,#020283 156.5px,#1919e2 158.5px,#3030f8 159.5px,#5b5bff 161.5px,#6868ff 163.5px,#4f4fff 166.5px,#2525f4 168.5px,#1111d8 169.5px,#010174 171.5px,#000057 172.5px,#00004d 175.5px,#000051 197.5px,#000060 198.5px,#0000ae 201.5px,#0000af 202.5px,#00007f 204.5px,#000053 206.5px,#00004e 226.5px,#000056 227.5px,#010172 228.5px,#0b0bd5 230.5px,#1717f3 231.5px,#3535ff 234.5px,#3232ff 237.5px,#1e1efb 239.5px,#1111eb 240.5px,#0707c7 241.5px,#00006a 243.5px,#000054 244.5px,#00004c 255.5px,#00004c 322.5px)"></i><i style="background:linear-gradient(90deg,#9696ff 0.5px,#55f 6.5px,#0f0ffc 11.5px,#0000d5 14.5px,#00007f 19.5px,#000080 21.5px,#0101bf 24.5px,#0c0cef 26.5px,#3434fe 28.5px,#9090ff 32.5px,#bbf 36.5px,#c0c0ff 41.5px,#9e9eff 47.5px,#6060ff 52.5px,#0f0ffd 58.5px,#0000d9 61.5px,#00a 64.5px,#0000a1 66.5px,#0000c3 69.5px,#0b0bfb 73.5px,#8686ff 82.5px,#9f9fff 87.5px,#9090ff 92.5px,#6262ff 96.5px,#1313fb 101.5px,#0202de 103.5px,#00006e 107.5px,#000051 109.5px,#000050 115.5px,#00006e 117.5px,#0606e5 121.5px,#2222fd 123.5px,#7e7eff 128.5px,#9393ff 132.5px,#8282ff 136.5px,#4d4dff 139.5px,#1f1ff7 141.5px,#0d0de3 142.5px,#006 145.5px,#000053 146.5px,#00004d 153.5px,#000052 154.5px,#000063 155.5px,#030389 156.5px,#1c1ce5 158.5px,#3535f9 159.5px,#6060ff 161.5px,#6d6dff 163.5px,#5454ff 166.5px,#2a2af6 168.5px,#1515dc 169.5px,#020278 171.5px,#000059 172.5px,#00004d 174.5px,#00004e 196.5px,#000054 197.5px,#006 198.5px,#0000a9 200.5px,#0000bf 201.5px,#0000c0 202.5px,#0000ad 203.5px,#00006b 205.5px,#000056 206.5px,#00004c 211.5px,#00004f 226.5px,#000059 227.5px,#010177 228.5px,#0d0ddb 230.5px,#1b1bf5 231.5px,#3a3aff 234.5px,#3737ff 237.5px,#2323fc 239.5px,#1616f0 240.5px,#0a0ad1 241.5px,#010170 243.5px,#000056 244.5px,#00004c 248.5px,#00004c 322.5px)"></i><i style="background:linear-gradient(90deg,#99f 0.5px,#5858ff 6.5px,#0808f7 12.5px,#000084 19.5px,#000085 21.5px,#0101c4 24.5px,#0e0ef2 26.5px,#5151ff 29.5px,#9393ff 32.5px,#bebeff 36.5px,#c2c2ff 41.5px,#a0a0ff 47.5px,#6363ff 52.5px,#1111fe 58.5px,#0101df 61.5px,#0000b0 64.5px,#0000a7 66.5px,#0000c9 69.5px,#0606f6 72.5px,#4242ff 77.5px,#8a8aff 82.5px,#a2a2ff 87.5px,#9393ff 92.5px,#66f 96.5px,#1616fc 101.5px,#0303e2 103.5px,#00005f 108.5px,#00004e 110.5px,#000052 115.5px,#000073 117.5px,#0808ea 121.5px,#2626fe 123.5px,#7474ff 127.5px,#9191ff 130.5px,#9393ff 134.5px,#7878ff 137.5px,#2222f9 141.5px,#0f0fe6 142.5px,#00006a 145.5px,#005 146.5px,#00004d 153.5px,#000053 154.5px,#006 155.5px,#0c0cc3 157.5px,#1f1fe9 158.5px,#3a3afa 159.5px,#6565ff 161.5px,#7373ff 163.5px,#5a5aff 166.5px,#3030f7 168.5px,#1919e0 169.5px,#02027e 171.5px,#00005c 172.5px,#00004d 174.5px,#00004e 196.5px,#000057 197.5px,#00006e 198.5px,#0000b9 200.5px,#0000d0 201.5px,#0000d1 202.5px,#0000bd 203.5px,#000075 205.5px,#00005b 206.5px,#00004d 208.5px,#000050 226.5px,#00005c 227.5px,#01017e 228.5px,#1010e0 230.5px,#1f1ff7 231.5px,#3f3fff 234.5px,#3d3dff 237.5px,#1a1af4 240.5px,#0d0dd9 241.5px,#010177 243.5px,#000059 244.5px,#00004d 246.5px,#00004c 322.5px)"></i><i style="background:linear-gradient(90deg,#9b9bff 0.5px,#5a5aff 6.5px,#0909f8 12.5px,#008 19.5px,#00008a 21.5px,#0101c9 24.5px,#1010f3 26.5px,#6d6dff 30.5px,#a4a4ff 33.5px,#c5c5ff 37.5px,#bebeff 43.5px,#8f8fff 49.5px,#1414fe 58.5px,#0101e4 61.5px,#0000ae 65.5px,#0000b4 67.5px,#0707f8 72.5px,#4646ff 77.5px,#8d8dff 82.5px,#a5a5ff 87.5px,#9696ff 92.5px,#6a6aff 96.5px,#0c0cf6 102.5px,#0101cf 104.5px,#000063 108.5px,#00004f 110.5px,#000054 115.5px,#000079 117.5px,#0a0aee 121.5px,#2a2afe 123.5px,#7878ff 127.5px,#9797ff 131.5px,#9191ff 135.5px,#6a6aff 138.5px,#2525fa 141.5px,#1212e9 142.5px,#010197 144.5px,#00006e 145.5px,#000057 146.5px,#00004c 150.5px,#000054 154.5px,#01016a 155.5px,#0e0ec9 157.5px,#2323ed 158.5px,#5858fe 160.5px,#7575ff 162.5px,#6d6dff 165.5px,#3535f9 168.5px,#1d1de4 169.5px,#030385 171.5px,#000060 172.5px,#00004d 174.5px,#000050 196.5px,#00005b 197.5px,#007 198.5px,#0000c9 200.5px,#0101e0 201.5px,#0101e1 202.5px,#0000cd 203.5px,#000060 206.5px,#00004d 208.5px,#000051 226.5px,#000061 227.5px,#020286 228.5px,#1313e5 230.5px,#2323f9 231.5px,#44f 234.5px,#4242ff 237.5px,#1f1ff7 240.5px,#1010e0 241.5px,#010180 243.5px,#00005d 244.5px,#00004d 246.5px,#00004c 322.5px)"></i><i style="background:linear-gradient(90deg,#9e9eff 0.5px,#5d5dff 6.5px,#0b0bf9 12.5px,#00b 16.5px,#00008c 19.5px,#00008e 21.5px,#0606e5 25.5px,#2525fd 27.5px,#8686ff 31.5px,#bcbcff 35.5px,#c9c9ff 40.5px,#aeaeff 46.5px,#7878ff 51.5px,#1616fe 58.5px,#0202e9 61.5px,#0000b4 65.5px,#0000ba 67.5px,#0909fa 72.5px,#4a4aff 77.5px,#9090ff 82.5px,#a8a8ff 87.5px,#99f 92.5px,#6e6eff 96.5px,#0e0ef8 102.5px,#0101d4 104.5px,#000067 108.5px,#00004f 110.5px,#00004f 114.5px,#000067 116.5px,#0404db 120.5px,#1a1afb 122.5px,#7c7cff 127.5px,#9a9aff 131.5px,#9494ff 135.5px,#6e6eff 138.5px,#2929fa 141.5px,#1414ec 142.5px,#0707cb 143.5px,#000073 145.5px,#000059 146.5px,#00004d 149.5px,#005 154.5px,#01016d 155.5px,#1010cf 157.5px,#2626f0 158.5px,#5d5dff 160.5px,#7a7aff 162.5px,#7272ff 165.5px,#3a3afa 168.5px,#2121e9 169.5px,#0d0dc1 170.5px,#000064 172.5px,#000052 173.5px,#000051 196.5px,#000060 197.5px,#000082 198.5px,#0101d7 200.5px,#0202ec 201.5px,#0202ed 202.5px,#0101db 203.5px,#006 206.5px,#000053 207.5px,#00004d 225.5px,#000052 226.5px,#000065 227.5px,#1616ea 230.5px,#2727fa 231.5px,#4949ff 234.5px,#4747ff 237.5px,#2424f9 240.5px,#1414e6 241.5px,#000063 244.5px,#000052 245.5px,#00004c 322.5px)"></i><i style="background:linear-gradient(90deg,#a0a0ff 0.5px,#5f5fff 6.5px,#0d0dfb 12.5px,#0000d2 15.5px,#000091 19.5px,#000093 21.5px,#0707e8 25.5px,#2828fd 27.5px,#8989ff 31.5px,#bebeff 35.5px,#ccf 40.5px,#b0b0ff 46.5px,#6c6cff 52.5px,#0f0ffd 59.5px,#0101df 62.5px,#0000ba 65.5px,#0000c0 67.5px,#0c0cfc 72.5px,#5e5eff 78.5px,#9393ff 82.5px,#ababff 87.5px,#9c9cff 92.5px,#7171ff 96.5px,#1111fa 102.5px,#0202d9 104.5px,#00006c 108.5px,#000051 110.5px,#000050 114.5px,#00006c 116.5px,#0505e0 120.5px,#1e1efc 122.5px,#7f7fff 127.5px,#9d9dff 131.5px,#9797ff 135.5px,#7171ff 138.5px,#2c2cfb 141.5px,#1616ee 142.5px,#0808d0 143.5px,#000078 145.5px,#00005c 146.5px,#00004d 148.5px,#00004e 153.5px,#000056 154.5px,#010171 155.5px,#1212d4 157.5px,#2a2af3 158.5px,#6262ff 160.5px,#7e7eff 162.5px,#77f 165.5px,#5858ff 167.5px,#2525ed 169.5px,#0f0fc9 170.5px,#010168 172.5px,#000053 173.5px,#00004c 191.5px,#000053 196.5px,#006 197.5px,#0303e2 200.5px,#0505f5 201.5px,#0505f5 202.5px,#0303e6 203.5px,#0101c3 204.5px,#00006c 206.5px,#005 207.5px,#00004c 213.5px,#00004e 225.5px,#000054 226.5px,#01016a 227.5px,#0b0bcc 229.5px,#1a1aef 230.5px,#3b3bff 232.5px,#5151ff 235.5px,#4545ff 238.5px,#2a2afb 240.5px,#1818ec 241.5px,#0a0ac7 242.5px,#000068 244.5px,#000053 245.5px,#00004c 263.5px,#00004c 322.5px)"></i><i style="background:linear-gradient(90deg,#a3a3ff 0.5px,#6262ff 6.5px,#0f0ffc 12.5px,#0000d6 15.5px,#000095 19.5px,#000097 21.5px,#0909eb 25.5px,#2b2bfe 27.5px,#8c8cff 31.5px,#c1c1ff 35.5px,#ceceff 40.5px,#b2b2ff 46.5px,#6f6fff 52.5px,#1111fe 59.5px,#0101e5 62.5px,#0000c0 65.5px,#0000c6 67.5px,#0606f8 71.5px,#4141ff 76.5px,#8c8cff 81.5px,#adadff 86.5px,#a5a5ff 91.5px,#8383ff 95.5px,#1313fb 102.5px,#0202de 104.5px,#000072 108.5px,#000053 110.5px,#000052 114.5px,#000072 116.5px,#0606e5 120.5px,#2121fd 122.5px,#8383ff 127.5px,#a0a0ff 131.5px,#9a9aff 135.5px,#7575ff 138.5px,#2f2ffc 141.5px,#1919f1 142.5px,#0909d5 143.5px,#00007d 145.5px,#00005e 146.5px,#00004d 148.5px,#00004e 153.5px,#000058 154.5px,#010175 155.5px,#1515d8 157.5px,#2e2ef5 158.5px,#6767ff 160.5px,#8282ff 162.5px,#7c7cff 165.5px,#5e5eff 167.5px,#2929f0 169.5px,#1212cf 170.5px,#01016c 172.5px,#005 173.5px,#00004c 181.5px,#00004e 195.5px,#005 196.5px,#00006b 197.5px,#0303c8 199.5px,#0606ea 200.5px,#0909f9 201.5px,#0909fa 202.5px,#0606ed 203.5px,#0303ce 204.5px,#000073 206.5px,#000058 207.5px,#00004d 210.5px,#00004e 225.5px,#005 226.5px,#01016e 227.5px,#0d0dd2 229.5px,#1d1df2 230.5px,#4040ff 232.5px,#5656ff 235.5px,#4b4bff 238.5px,#2f2ffc 240.5px,#1d1df0 241.5px,#0d0dd0 242.5px,#01016e 244.5px,#005 245.5px,#00004c 251.5px,#00004c 322.5px)"></i><i style="background:linear-gradient(90deg,#a5a5ff 0.5px,#6464ff 6.5px,#0707f6 13.5px,#00009a 19.5px,#00009c 21.5px,#0a0aee 25.5px,#2e2efe 27.5px,#8f8fff 31.5px,#c3c3ff 35.5px,#d1d1ff 40.5px,#b5b5ff 46.5px,#7272ff 52.5px,#1313fe 59.5px,#0101ea 62.5px,#0000c6 65.5px,#00c 67.5px,#0808fa 71.5px,#4545ff 76.5px,#8f8fff 81.5px,#b0b0ff 86.5px,#a9a9ff 91.5px,#7878ff 96.5px,#1616fc 102.5px,#0303e3 104.5px,#000062 109.5px,#00004f 111.5px,#000054 114.5px,#000078 116.5px,#0707e9 120.5px,#2525fe 122.5px,#8686ff 127.5px,#a3a3ff 131.5px,#9d9dff 135.5px,#7878ff 138.5px,#3333fd 141.5px,#1b1bf3 142.5px,#0b0bda 143.5px,#000082 145.5px,#000061 146.5px,#00004d 148.5px,#00004f 153.5px,#00005a 154.5px,#02027a 155.5px,#1818dc 157.5px,#3232f6 158.5px,#6b6bff 160.5px,#8585ff 162.5px,#8080ff 165.5px,#6363ff 167.5px,#2e2ef3 169.5px,#1515d5 170.5px,#010170 172.5px,#000056 173.5px,#00004c 177.5px,#00004e 195.5px,#000056 196.5px,#000071 197.5px,#0404d1 199.5px,#0909f0 200.5px,#0d0dfc 202.5px,#0909f3 203.5px,#0505d8 204.5px,#00007c 206.5px,#00005c 207.5px,#00004d 209.5px,#00004e 225.5px,#000057 226.5px,#010173 227.5px,#1010d7 229.5px,#2121f4 230.5px,#5050ff 233.5px,#5b5bff 236.5px,#4545ff 239.5px,#2222f4 241.5px,#1010d7 242.5px,#010173 244.5px,#000057 245.5px,#00004d 248.5px,#00004c 322.5px)"></i><i style="background:linear-gradient(90deg,#a8a8ff 0.5px,#6767ff 6.5px,#0909f8 13.5px,#00009e 19.5px,#0000a0 21.5px,#0b0bf1 25.5px,#4b4bff 28.5px,#9191ff 31.5px,#c6c6ff 35.5px,#d3d3ff 40.5px,#b7b7ff 46.5px,#7575ff 52.5px,#1616ff 59.5px,#0202ee 62.5px,#00c 65.5px,#0000d2 67.5px,#0a0afc 71.5px,#4848ff 76.5px,#9292ff 81.5px,#b3b3ff 86.5px,#acacff 91.5px,#7c7cff 96.5px,#0c0cf6 103.5px,#0101d0 105.5px,#000067 109.5px,#000050 111.5px,#000057 114.5px,#00007e 116.5px,#0909ed 120.5px,#2828fe 122.5px,#8989ff 127.5px,#a6a6ff 131.5px,#9f9fff 135.5px,#7c7cff 138.5px,#1e1ef5 142.5px,#0c0cdf 143.5px,#000063 146.5px,#000052 147.5px,#000050 153.5px,#00005d 154.5px,#02027f 155.5px,#1b1bdf 157.5px,#3737f7 158.5px,#7070ff 160.5px,#88f 162.5px,#8383ff 165.5px,#6969ff 167.5px,#3333f5 169.5px,#1919d9 170.5px,#020274 172.5px,#000057 173.5px,#00004d 176.5px,#00004f 195.5px,#000059 196.5px,#007 197.5px,#0707d9 199.5px,#0d0df4 200.5px,#1212fd 202.5px,#0d0df6 203.5px,#0707e0 204.5px,#010185 206.5px,#000061 207.5px,#00004d 209.5px,#00004e 225.5px,#000059 226.5px,#020277 227.5px,#1313dc 229.5px,#2525f6 230.5px,#55f 233.5px,#6060ff 236.5px,#4b4bff 239.5px,#2727f6 241.5px,#1414dd 242.5px,#02027a 244.5px,#00005a 245.5px,#00004d 247.5px,#00004c 322.5px)"></i><i style="background:linear-gradient(90deg,#aaf 0.5px,#6a6aff 6.5px,#0a0af9 13.5px,#0000af 18.5px,#00009e 20.5px,#0000b5 22.5px,#0d0df3 25.5px,#6868ff 29.5px,#a5a5ff 32.5px,#cfcfff 36.5px,#d3d3ff 41.5px,#b1b1ff 47.5px,#6969ff 53.5px,#1818ff 59.5px,#0303f2 62.5px,#0000d2 65.5px,#0000d8 67.5px,#0c0cfd 71.5px,#4c4cff 76.5px,#9595ff 81.5px,#b6b6ff 86.5px,#afafff 91.5px,#7f7fff 96.5px,#0e0ef8 103.5px,#0101d5 105.5px,#00006c 109.5px,#000051 111.5px,#000051 113.5px,#00006c 115.5px,#0b0bf1 120.5px,#4141ff 123.5px,#8d8dff 127.5px,#a9a9ff 131.5px,#a2a2ff 135.5px,#7f7fff 138.5px,#2121f7 142.5px,#0e0ee3 143.5px,#006 146.5px,#000053 147.5px,#000051 153.5px,#000061 154.5px,#020285 155.5px,#1e1ee3 157.5px,#3b3bf8 158.5px,#7474ff 160.5px,#8b8bff 162.5px,#8787ff 165.5px,#6e6eff 167.5px,#3939f6 169.5px,#1d1ddc 170.5px,#020277 172.5px,#000058 173.5px,#00004d 175.5px,#000050 195.5px,#00005d 196.5px,#01017f 197.5px,#0a0ae0 199.5px,#1111f7 200.5px,#1717fe 202.5px,#1212f9 203.5px,#0a0ae6 204.5px,#006 207.5px,#000053 208.5px,#00004f 225.5px,#00005b 226.5px,#02027d 227.5px,#1616e0 229.5px,#2a2af7 230.5px,#5a5aff 233.5px,#6565ff 236.5px,#5050ff 239.5px,#2d2df8 241.5px,#1818e2 242.5px,#020281 244.5px,#00005e 245.5px,#00004d 247.5px,#00004c 322.5px)"></i><i style="background:linear-gradient(90deg,#adadff 0.5px,#6c6cff 6.5px,#0c0cfb 13.5px,#0000d4 16.5px,#0000a7 19.5px,#0000a9 21.5px,#0505e5 24.5px,#2121fc 26.5px,#9696ff 31.5px,#cacaff 35.5px,#d7d7ff 40.5px,#bcbcff 46.5px,#7b7bff 52.5px,#1b1bff 59.5px,#0404f6 62.5px,#0000d8 65.5px,#0000de 67.5px,#0f0ffe 71.5px,#4f4fff 76.5px,#9898ff 81.5px,#b9b9ff 86.5px,#b2b2ff 91.5px,#8282ff 96.5px,#1010fa 103.5px,#0202db 105.5px,#000072 109.5px,#000054 111.5px,#000053 113.5px,#000072 115.5px,#0404e1 119.5px,#1c1cfc 121.5px,#8282ff 126.5px,#a8a8ff 130.5px,#ababff 134.5px,#9292ff 137.5px,#5757ff 140.5px,#2424f9 142.5px,#1010e6 143.5px,#00006a 146.5px,#005 147.5px,#00004d 152.5px,#000052 153.5px,#000064 154.5px,#03038b 155.5px,#2121e6 157.5px,#3f3ff9 158.5px,#7878ff 160.5px,#8e8eff 162.5px,#8a8aff 165.5px,#7373ff 167.5px,#3e3ef7 169.5px,#2121e0 170.5px,#03037c 172.5px,#00005b 173.5px,#00004d 175.5px,#000051 195.5px,#000062 196.5px,#010188 197.5px,#0d0de6 199.5px,#1616f9 200.5px,#1616fb 203.5px,#0d0deb 204.5px,#0606c8 205.5px,#00006b 207.5px,#000054 208.5px,#00004c 217.5px,#000050 225.5px,#00005f 226.5px,#020284 227.5px,#1919e4 229.5px,#2e2ef9 230.5px,#5f5fff 233.5px,#6b6bff 236.5px,#5656ff 239.5px,#3232fa 241.5px,#1d1de8 242.5px,#0c0cbf 243.5px,#03038b 244.5px,#000063 245.5px,#000052 246.5px,#00004c 322.5px)"></i><i style="background:linear-gradient(90deg,#afafff 0.5px,#6f6fff 6.5px,#0e0efc 13.5px,#0000d8 16.5px,#0000ab 19.5px,#0000ae 21.5px,#0606e8 24.5px,#2323fd 26.5px,#99f 31.5px,#cdcdff 35.5px,#d8d8ff 40.5px,#bfbfff 46.5px,#7e7eff 52.5px,#1e1eff 59.5px,#0202f0 63.5px,#00d 66.5px,#0909fd 70.5px,#4343ff 75.5px,#9b9bff 81.5px,#bcbcff 86.5px,#b5b5ff 91.5px,#8686ff 96.5px,#1313fb 103.5px,#0202df 105.5px,#000064 110.5px,#000052 112.5px,#000063 114.5px,#0000ae 117.5px,#0606e5 119.5px,#1f1ffd 121.5px,#8585ff 126.5px,#ababff 130.5px,#adadff 134.5px,#9595ff 137.5px,#5b5bff 140.5px,#2727f9 142.5px,#1212e9 143.5px,#010197 145.5px,#00006e 146.5px,#000057 147.5px,#00004d 151.5px,#000053 153.5px,#000067 154.5px,#0e0ec3 156.5px,#2424e9 157.5px,#4343fa 158.5px,#7b7bff 160.5px,#9191ff 162.5px,#8d8dff 165.5px,#77f 167.5px,#4444f8 169.5px,#2525e4 170.5px,#040482 172.5px,#01015e 173.5px,#00004d 175.5px,#000053 195.5px,#000067 196.5px,#0707c5 198.5px,#1010eb 199.5px,#1a1afb 200.5px,#2121ff 202.5px,#1111f0 204.5px,#0808d0 205.5px,#000070 207.5px,#000056 208.5px,#00004c 212.5px,#000052 225.5px,#000063 226.5px,#03038c 227.5px,#0b0bc1 228.5px,#1c1ce9 229.5px,#3232fa 230.5px,#6464ff 233.5px,#7070ff 236.5px,#5c5cff 239.5px,#3838fb 241.5px,#2121ed 242.5px,#0e0ec9 243.5px,#010168 245.5px,#000053 246.5px,#00004c 268.5px,#00004c 322.5px)"></i><i style="background:linear-gradient(90deg,#b2b2ff 0.5px,#7171ff 6.5px,#0707f7 14.5px,#0000b0 19.5px,#0000b3 21.5px,#0707eb 24.5px,#2626fd 26.5px,#9c9cff 31.5px,#cfcfff 35.5px,#d8d8ff 41.5px,#c1c1ff 46.5px,#8181ff 52.5px,#2020ff 59.5px,#0303f4 63.5px,#0000e3 66.5px,#0c0cfe 70.5px,#4646ff 75.5px,#9e9eff 81.5px,#bfbfff 86.5px,#b8b8ff 91.5px,#8989ff 96.5px,#1515fc 103.5px,#0303e4 105.5px,#000069 110.5px,#005 112.5px,#000069 114.5px,#0707ea 119.5px,#2323fd 121.5px,#8989ff 126.5px,#aeaeff 130.5px,#b0b0ff 134.5px,#9898ff 137.5px,#5e5eff 140.5px,#2a2afa 142.5px,#1515eb 143.5px,#0707cb 144.5px,#000073 146.5px,#000059 147.5px,#00004d 150.5px,#000054 153.5px,#01016a 154.5px,#0f0fc9 156.5px,#2727ed 157.5px,#6767fe 159.5px,#8d8dff 161.5px,#9494ff 164.5px,#7b7bff 167.5px,#4949fa 169.5px,#2929e8 170.5px,#1111bf 171.5px,#040489 172.5px,#010162 173.5px,#000051 174.5px,#00004e 194.5px,#000054 195.5px,#00006b 196.5px,#0909cd 198.5px,#1414ef 199.5px,#2626ff 201.5px,#1515f4 204.5px,#0a0ad8 205.5px,#010175 207.5px,#000058 208.5px,#00004d 211.5px,#000053 225.5px,#010168 226.5px,#0d0dc9 228.5px,#2020ed 229.5px,#4b4bff 231.5px,#7171ff 234.5px,#7272ff 237.5px,#5252ff 240.5px,#2626f1 242.5px,#1111d1 243.5px,#01016d 245.5px,#005 246.5px,#00004c 253.5px,#00004c 322.5px)"></i><i style="background:linear-gradient(90deg,#b4b4ff 0.5px,#7474ff 6.5px,#0909f9 14.5px,#0000b4 19.5px,#0000b7 21.5px,#0808ef 24.5px,#4141ff 27.5px,#9e9eff 31.5px,#d1d1ff 35.5px,#d9d9ff 41.5px,#c3c3ff 46.5px,#7575ff 53.5px,#1919ff 60.5px,#0101f0 64.5px,#0000e9 66.5px,#0e0efe 70.5px,#4949ff 75.5px,#a1a1ff 81.5px,#c2c2ff 86.5px,#bbf 91.5px,#8c8cff 96.5px,#0c0cf7 104.5px,#0101d2 106.5px,#00006f 110.5px,#00005a 112.5px,#00006f 114.5px,#0808ee 119.5px,#2626fe 121.5px,#8c8cff 126.5px,#b1b1ff 130.5px,#b3b3ff 134.5px,#9b9bff 137.5px,#6262ff 140.5px,#2e2efb 142.5px,#1717ee 143.5px,#0808d0 144.5px,#000078 146.5px,#00005c 147.5px,#00004d 149.5px,#005 153.5px,#01016e 154.5px,#1111cf 156.5px,#2b2bf0 157.5px,#6c6cff 159.5px,#9090ff 161.5px,#9797ff 164.5px,#8080ff 167.5px,#4e4efb 169.5px,#2e2eec 170.5px,#1313c6 171.5px,#010166 173.5px,#000052 174.5px,#00004e 194.5px,#000056 195.5px,#010170 196.5px,#0c0cd4 198.5px,#1818f3 199.5px,#2b2bff 201.5px,#2525fe 203.5px,#1919f6 204.5px,#0d0ddd 205.5px,#01017c 207.5px,#00005b 208.5px,#00004d 210.5px,#00004e 224.5px,#000054 225.5px,#01016c 226.5px,#0f0fcf 228.5px,#2323f1 229.5px,#5050ff 231.5px,#7575ff 234.5px,#77f 237.5px,#5858ff 240.5px,#2b2bf4 242.5px,#1515d7 243.5px,#010172 245.5px,#000056 246.5px,#00004c 250.5px,#00004c 322.5px)"></i><i style="background:linear-gradient(90deg,#b7b7ff 0.5px,#7676ff 6.5px,#0a0afa 14.5px,#0000b8 19.5px,#0000bc 21.5px,#0a0af1 24.5px,#44f 27.5px,#a1a1ff 31.5px,#d3d3ff 35.5px,#d9d9ff 42.5px,#bdbdff 47.5px,#6868ff 54.5px,#1b1bff 60.5px,#0202f4 64.5px,#0101f3 67.5px,#1919ff 71.5px,#6e6eff 77.5px,#aeaeff 82.5px,#c7c7ff 87.5px,#b8b8ff 92.5px,#8181ff 97.5px,#0e0ef9 104.5px,#0101d7 106.5px,#000075 110.5px,#00005f 112.5px,#000075 114.5px,#0a0af1 119.5px,#3e3eff 122.5px,#8f8fff 126.5px,#b4b4ff 130.5px,#b6b6ff 134.5px,#9e9eff 137.5px,#6565ff 140.5px,#3131fc 142.5px,#1919f0 143.5px,#0a0ad5 144.5px,#00007d 146.5px,#00005f 147.5px,#00004d 149.5px,#00004e 152.5px,#000057 153.5px,#010171 154.5px,#1313d4 156.5px,#2e2ef2 157.5px,#7070ff 159.5px,#9494ff 161.5px,#9a9aff 164.5px,#8484ff 167.5px,#5454fc 169.5px,#3232ef 170.5px,#1515cc 171.5px,#01016a 173.5px,#000054 174.5px,#00004c 187.5px,#00004e 194.5px,#000057 195.5px,#010174 196.5px,#0f0fd9 198.5px,#1d1df5 199.5px,#3030ff 201.5px,#2a2afe 203.5px,#1e1ef8 204.5px,#1010e2 205.5px,#010183 207.5px,#00005f 208.5px,#00004d 210.5px,#00004e 224.5px,#005 225.5px,#01016f 226.5px,#1212d4 228.5px,#2727f3 229.5px,#55f 231.5px,#7a7aff 234.5px,#7c7cff 237.5px,#5e5eff 240.5px,#3131f6 242.5px,#1919db 243.5px,#020277 245.5px,#000058 246.5px,#00004d 249.5px,#00004c 322.5px)"></i><i style="background:linear-gradient(90deg,#b9b9ff 0.5px,#7979ff 6.5px,#0c0cfb 14.5px,#0000c8 18.5px,#0000b9 20.5px,#0101d0 22.5px,#0b0bf4 24.5px,#4747ff 27.5px,#a3a3ff 31.5px,#d4d4ff 35.5px,#dadaff 42.5px,#c0c0ff 47.5px,#6b6bff 54.5px,#1e1eff 60.5px,#0101f4 65.5px,#0b0bfe 69.5px,#4141ff 74.5px,#a7a7ff 81.5px,#c8c8ff 86.5px,#c1c1ff 91.5px,#9393ff 96.5px,#1010fa 104.5px,#0202dd 106.5px,#00007c 110.5px,#000065 112.5px,#00007c 114.5px,#0404e2 118.5px,#1a1afc 120.5px,#9292ff 126.5px,#b6b6ff 130.5px,#b9b9ff 134.5px,#a1a1ff 137.5px,#6969ff 140.5px,#1c1cf3 143.5px,#0b0bda 144.5px,#000082 146.5px,#000061 147.5px,#00004d 149.5px,#00004f 152.5px,#000059 153.5px,#010176 154.5px,#1515d8 156.5px,#3232f4 157.5px,#7474ff 159.5px,#9797ff 161.5px,#9d9dff 164.5px,#8787ff 167.5px,#5959fd 169.5px,#3737f2 170.5px,#1919d2 171.5px,#01016d 173.5px,#005 174.5px,#00004c 181.5px,#00004e 194.5px,#000059 195.5px,#020278 196.5px,#1212dd 198.5px,#2121f6 199.5px,#3535ff 201.5px,#2f2ffe 203.5px,#2323f9 204.5px,#1414e7 205.5px,#000064 208.5px,#000052 209.5px,#00004e 224.5px,#000057 225.5px,#020273 226.5px,#1515d8 228.5px,#2b2bf5 229.5px,#6a6aff 232.5px,#8181ff 235.5px,#7b7bff 238.5px,#5050fe 241.5px,#3737f7 242.5px,#1e1ee0 243.5px,#03037d 245.5px,#00005b 246.5px,#00004d 248.5px,#00004c 322.5px)"></i><i style="background:linear-gradient(90deg,#bbf 0.5px,#7c7cff 6.5px,#0e0efc 14.5px,#0000dc 17.5px,#0000c1 19.5px,#0000c5 21.5px,#0d0df5 24.5px,#4b4bff 27.5px,#a6a6ff 31.5px,#cfcfff 34.5px,#ddf 39.5px,#d1d1ff 45.5px,#8b8bff 52.5px,#2020ff 60.5px,#0101f8 65.5px,#0e0eff 69.5px,#44f 74.5px,#aaf 81.5px,#cbcbff 86.5px,#c4c4ff 91.5px,#9696ff 96.5px,#1313fc 104.5px,#0202e2 106.5px,#000082 110.5px,#00006c 112.5px,#000082 114.5px,#0505e6 118.5px,#1d1dfd 120.5px,#9595ff 126.5px,#b9b9ff 130.5px,#bcbcff 134.5px,#a4a4ff 137.5px,#6c6cff 140.5px,#1e1ef5 143.5px,#0c0cde 144.5px,#000064 147.5px,#000053 148.5px,#000050 152.5px,#00005c 153.5px,#01017b 154.5px,#1818dc 156.5px,#3535f6 157.5px,#7878ff 159.5px,#9a9aff 161.5px,#a0a0ff 164.5px,#8b8bff 167.5px,#5e5efd 169.5px,#3c3cf4 170.5px,#1c1cd6 171.5px,#020271 173.5px,#000056 174.5px,#00004c 178.5px,#00004f 194.5px,#00005b 195.5px,#02027e 196.5px,#1616e2 198.5px,#2626f8 199.5px,#3a3aff 201.5px,#3434fe 203.5px,#1717eb 205.5px,#0a0ac6 206.5px,#000068 208.5px,#000053 209.5px,#00004e 224.5px,#000058 225.5px,#020277 226.5px,#1818dc 228.5px,#2f2ff6 229.5px,#6f6fff 232.5px,#8484ff 235.5px,#77f 239.5px,#5656fe 241.5px,#3d3df9 242.5px,#2222e5 243.5px,#030385 245.5px,#01015f 246.5px,#00004d 248.5px,#00004c 322.5px)"></i><i style="background:linear-gradient(90deg,#bebeff 0.5px,#7e7eff 6.5px,#0707f8 15.5px,#0000c5 19.5px,#0000c9 21.5px,#0f0ff7 24.5px,#6767ff 28.5px,#b8b8ff 32.5px,#d7d7ff 35.5px,#dadaff 43.5px,#bbf 48.5px,#6262ff 55.5px,#1a1aff 61.5px,#0303fc 65.5px,#1010ff 69.5px,#4747ff 74.5px,#adadff 81.5px,#ceceff 86.5px,#c8c8ff 91.5px,#99f 96.5px,#1515fd 104.5px,#0303e6 106.5px,#000089 110.5px,#000072 112.5px,#000089 114.5px,#0606eb 118.5px,#2020fe 120.5px,#9898ff 126.5px,#bcbcff 130.5px,#bfbfff 134.5px,#a7a7ff 137.5px,#7070ff 140.5px,#2121f7 143.5px,#0e0ee3 144.5px,#000067 147.5px,#000054 148.5px,#000050 152.5px,#00005e 153.5px,#020280 154.5px,#1b1bdf 156.5px,#3939f7 157.5px,#7b7bff 159.5px,#9d9dff 161.5px,#a3a3ff 164.5px,#8e8eff 167.5px,#6464fd 169.5px,#4242f5 170.5px,#2121d9 171.5px,#0b0ba7 172.5px,#030374 173.5px,#000057 174.5px,#00004d 177.5px,#000050 194.5px,#00005f 195.5px,#030384 196.5px,#1919e6 198.5px,#2b2bf9 199.5px,#3f3fff 201.5px,#3939ff 203.5px,#1b1bef 205.5px,#0c0cce 206.5px,#01016c 208.5px,#000054 209.5px,#00004c 217.5px,#00004f 224.5px,#00005b 225.5px,#02027c 226.5px,#1b1bdf 228.5px,#3333f7 229.5px,#7373ff 232.5px,#8686ff 235.5px,#7b7bff 239.5px,#5c5cfe 241.5px,#4343fb 242.5px,#2727ea 243.5px,#1010c3 244.5px,#010164 246.5px,#000052 247.5px,#00004c 322.5px)"></i><i style="background:linear-gradient(90deg,#c0c0ff 0.5px,#8181ff 6.5px,#0909fa 15.5px,#0000ca 19.5px,#0000ce 21.5px,#1111f9 24.5px,#6a6aff 28.5px,#bbf 32.5px,#d9d9ff 35.5px,#dbdbff 43.5px,#bebeff 48.5px,#6565ff 55.5px,#1c1cff 61.5px,#0404fe 65.5px,#1313ff 69.5px,#4a4aff 74.5px,#b0b0ff 81.5px,#d1d1ff 86.5px,#cbcbff 91.5px,#9c9cff 96.5px,#0c0cf8 105.5px,#0101d5 107.5px,#00007f 111.5px,#000079 112.5px,#000090 114.5px,#0808ef 118.5px,#2424fe 120.5px,#8c8cff 125.5px,#b9b9ff 129.5px,#c4c4ff 133.5px,#aaf 137.5px,#7373ff 140.5px,#2424f8 143.5px,#1010e6 144.5px,#00006c 147.5px,#000056 148.5px,#00004d 151.5px,#000061 153.5px,#020286 154.5px,#1e1ee2 156.5px,#3d3df8 157.5px,#7f7fff 159.5px,#a0a0ff 161.5px,#a6a6ff 164.5px,#9292ff 167.5px,#6969fe 169.5px,#4747f6 170.5px,#2525dc 171.5px,#0e0eab 172.5px,#030377 173.5px,#000058 174.5px,#00004d 176.5px,#000051 194.5px,#010163 195.5px,#03038c 196.5px,#0d0dc3 197.5px,#1d1deb 198.5px,#2f2ffb 199.5px,#44f 201.5px,#3e3eff 203.5px,#1f1ff2 205.5px,#0e0ed4 206.5px,#010170 208.5px,#000056 209.5px,#00004c 213.5px,#000050 224.5px,#00005e 225.5px,#030382 226.5px,#1e1ee3 228.5px,#3838f8 229.5px,#77f 232.5px,#8989ff 235.5px,#7f7fff 239.5px,#6262ff 241.5px,#2c2cef 243.5px,#1313cb 244.5px,#010169 246.5px,#000053 247.5px,#00004c 263.5px,#00004c 322.5px)"></i><i style="background:linear-gradient(90deg,#c3c3ff 0.5px,#8383ff 6.5px,#0b0bfb 15.5px,#0000ce 19.5px,#0000d2 21.5px,#1313fa 24.5px,#adadff 31.5px,#d4d4ff 34.5px,#e0e0ff 40.5px,#d1d1ff 46.5px,#8585ff 53.5px,#2828ff 60.5px,#0606ff 65.5px,#1515ff 69.5px,#4d4dff 74.5px,#b3b3ff 81.5px,#d4d4ff 86.5px,#ceceff 91.5px,#9f9fff 96.5px,#0e0efa 105.5px,#0101db 107.5px,#000086 111.5px,#00007f 112.5px,#000096 114.5px,#0909f2 118.5px,#3b3bff 121.5px,#8f8fff 125.5px,#bcbcff 129.5px,#c7c7ff 133.5px,#adadff 137.5px,#77f 140.5px,#2727f9 143.5px,#1212e9 144.5px,#010199 146.5px,#000070 147.5px,#000058 148.5px,#00004d 151.5px,#000052 152.5px,#000064 153.5px,#0c0cbd 155.5px,#2121e5 156.5px,#4141f9 157.5px,#8282ff 159.5px,#a2a2ff 161.5px,#a9a9ff 164.5px,#9595ff 167.5px,#6e6efe 169.5px,#4c4cf7 170.5px,#2929df 171.5px,#1010b0 172.5px,#04047b 173.5px,#01015a 174.5px,#00004d 176.5px,#000053 194.5px,#010167 195.5px,#0f0fca 197.5px,#2121ef 198.5px,#4343ff 200.5px,#4a4aff 202.5px,#3636fd 204.5px,#2323f5 205.5px,#1111d9 206.5px,#010174 208.5px,#000057 209.5px,#00004d 212.5px,#000051 224.5px,#000062 225.5px,#030389 226.5px,#0d0dbe 227.5px,#2121e7 228.5px,#3c3cfa 229.5px,#7a7aff 232.5px,#8c8cff 236.5px,#7979ff 240.5px,#4f4ffd 242.5px,#3131f2 243.5px,#1717d2 244.5px,#01016e 246.5px,#005 247.5px,#00004c 254.5px,#00004c 322.5px)"></i><i style="background:linear-gradient(90deg,#c5c5ff 0.5px,#8686ff 6.5px,#0d0dfc 15.5px,#0000d3 19.5px,#0000d7 21.5px,#1515fb 24.5px,#b0b0ff 31.5px,#d6d6ff 34.5px,#e1e1ff 40.5px,#d3d3ff 46.5px,#88f 53.5px,#2b2bff 60.5px,#0808ff 65.5px,#1818ff 69.5px,#5050ff 74.5px,#b6b6ff 81.5px,#d6d6ff 86.5px,#cbcbff 92.5px,#9494ff 97.5px,#1010fb 105.5px,#0202e0 107.5px,#00008c 111.5px,#000086 112.5px,#00009d 114.5px,#0b0bf5 118.5px,#55f 122.5px,#a1a1ff 126.5px,#c5c5ff 130.5px,#c8c8ff 134.5px,#a2a2ff 138.5px,#6161ff 141.5px,#2a2afa 143.5px,#1414eb 144.5px,#0707cb 145.5px,#000075 147.5px,#00005b 148.5px,#00004d 150.5px,#000053 152.5px,#000067 153.5px,#0d0dc3 155.5px,#2424e8 156.5px,#4545fa 157.5px,#8686ff 159.5px,#a5a5ff 161.5px,#acacff 164.5px,#9898ff 167.5px,#7373fe 169.5px,#5252f8 170.5px,#2e2ee3 171.5px,#1212b6 172.5px,#050580 173.5px,#01015d 174.5px,#00004d 176.5px,#00004e 193.5px,#000054 194.5px,#01016b 195.5px,#1212d0 197.5px,#2525f1 198.5px,#4848ff 200.5px,#4f4fff 202.5px,#3b3bfe 204.5px,#2828f6 205.5px,#1515dc 206.5px,#020279 208.5px,#000059 209.5px,#00004d 211.5px,#000052 224.5px,#010166 225.5px,#0f0fc5 227.5px,#2525eb 228.5px,#5a5afe 230.5px,#7e7eff 232.5px,#8e8eff 236.5px,#7d7dff 240.5px,#5555fd 242.5px,#3737f4 243.5px,#1b1bd7 244.5px,#020272 246.5px,#000056 247.5px,#00004c 251.5px,#00004c 322.5px)"></i><i style="background:linear-gradient(90deg,#c8c8ff 0.5px,#88f 6.5px,#0f0ffd 15.5px,#0000d7 19.5px,#0101db 21.5px,#1818fc 24.5px,#b2b2ff 31.5px,#d7d7ff 34.5px,#e1e1ff 41.5px,#ceceff 47.5px,#7c7cff 54.5px,#2424ff 61.5px,#0b0bff 65.5px,#1a1aff 69.5px,#5353ff 74.5px,#b9b9ff 81.5px,#d5d5ff 85.5px,#d3d3ff 91.5px,#a5a5ff 96.5px,#1212fc 105.5px,#0303e5 107.5px,#000093 111.5px,#00008d 112.5px,#0000a4 114.5px,#0505e9 117.5px,#1b1bfd 119.5px,#9595ff 125.5px,#c2c2ff 129.5px,#cdcdff 133.5px,#b3b3ff 137.5px,#7e7eff 140.5px,#2e2efb 143.5px,#1717ee 144.5px,#0808d0 145.5px,#00007a 147.5px,#00005d 148.5px,#00004d 150.5px,#000054 152.5px,#01016b 153.5px,#0f0fc8 155.5px,#2727eb 156.5px,#6d6dfe 158.5px,#9d9dff 160.5px,#b0b0ff 163.5px,#9c9cff 167.5px,#7777fe 169.5px,#5757fa 170.5px,#3232e7 171.5px,#1414bd 172.5px,#050587 173.5px,#010160 174.5px,#000051 175.5px,#00004e 193.5px,#005 194.5px,#02026f 195.5px,#1515d4 197.5px,#2a2af3 198.5px,#4d4dff 200.5px,#5454ff 202.5px,#4040fe 204.5px,#2d2df7 205.5px,#1818e0 206.5px,#02027f 208.5px,#00005c 209.5px,#00004d 211.5px,#000054 224.5px,#01016a 225.5px,#11c 227.5px,#2828ef 228.5px,#5f5fff 230.5px,#8181ff 232.5px,#9191ff 236.5px,#8181ff 240.5px,#5b5bfe 242.5px,#3d3df6 243.5px,#2020db 244.5px,#030376 246.5px,#000058 247.5px,#00004d 250.5px,#00004c 322.5px)"></i><i style="background:linear-gradient(90deg,#cacaff 0.5px,#8b8bff 6.5px,#0808fa 16.5px,#0000d8 20.5px,#0c0cf7 23.5px,#4545ff 26.5px,#b4b4ff 31.5px,#d9d9ff 34.5px,#e2e2ff 41.5px,#d0d0ff 47.5px,#7f7fff 54.5px,#2626ff 61.5px,#0d0dff 65.5px,#1d1dff 69.5px,#5757ff 74.5px,#bcbcff 81.5px,#d7d7ff 85.5px,#d0d0ff 92.5px,#9a9aff 97.5px,#1515fd 105.5px,#0404e9 107.5px,#009 111.5px,#000093 112.5px,#0000ab 114.5px,#0606ed 117.5px,#1e1efe 119.5px,#9898ff 125.5px,#c5c5ff 129.5px,#d0d0ff 133.5px,#b6b6ff 137.5px,#8181ff 140.5px,#3131fc 143.5px,#1919f0 144.5px,#0909d5 145.5px,#000080 147.5px,#000060 148.5px,#00004d 150.5px,#000056 152.5px,#01016f 153.5px,#1010ce 155.5px,#2a2aef 156.5px,#7171ff 158.5px,#a0a0ff 160.5px,#b3b3ff 163.5px,#9f9fff 167.5px,#7c7cfe 169.5px,#5c5cfb 170.5px,#3636eb 171.5px,#1717c4 172.5px,#06068e 173.5px,#010164 174.5px,#000052 175.5px,#00004e 193.5px,#000057 194.5px,#020273 195.5px,#1919d8 197.5px,#2f2ff5 198.5px,#5252ff 200.5px,#5959ff 202.5px,#4545fe 204.5px,#3232f9 205.5px,#1c1ce4 206.5px,#030385 208.5px,#000060 209.5px,#00004d 211.5px,#00004e 223.5px,#005 224.5px,#01016d 225.5px,#1313d1 227.5px,#2c2cf2 228.5px,#6363ff 230.5px,#8484ff 232.5px,#9393ff 236.5px,#8484ff 240.5px,#6161fe 242.5px,#4343f7 243.5px,#2424e0 244.5px,#03037c 246.5px,#00005a 247.5px,#00004d 249.5px,#00004c 322.5px)"></i><i style="background:linear-gradient(90deg,#cdcdff 0.5px,#8d8dff 6.5px,#0a0afb 16.5px,#0000dc 20.5px,#0e0ef9 23.5px,#4848ff 26.5px,#b7b7ff 31.5px,#dadaff 34.5px,#e4e4ff 41.5px,#d2d2ff 47.5px,#8181ff 54.5px,#2929ff 61.5px,#0f0fff 65.5px,#1f1fff 69.5px,#5a5aff 74.5px,#bebeff 81.5px,#d8d8ff 85.5px,#d2d2ff 92.5px,#9d9dff 97.5px,#1818fe 105.5px,#0505ee 107.5px,#0000a0 111.5px,#00009a 112.5px,#0000b1 114.5px,#0707f1 117.5px,#3434ff 120.5px,#9b9bff 125.5px,#c8c8ff 129.5px,#d2d2ff 133.5px,#b9b9ff 137.5px,#8484ff 140.5px,#3434fc 143.5px,#1c1cf3 144.5px,#0b0bda 145.5px,#000063 148.5px,#00004e 150.5px,#000058 152.5px,#010174 153.5px,#1212d3 155.5px,#2d2df2 156.5px,#7575ff 158.5px,#a3a3ff 160.5px,#b6b6ff 163.5px,#a2a2ff 167.5px,#8080ff 169.5px,#3a3aee 171.5px,#1919ca 172.5px,#070794 173.5px,#010168 174.5px,#000053 175.5px,#00004e 193.5px,#000058 194.5px,#030376 195.5px,#1c1cdc 197.5px,#3434f6 198.5px,#5757ff 200.5px,#5e5eff 202.5px,#4a4afe 204.5px,#3636fa 205.5px,#1f1fe9 206.5px,#0d0dc1 207.5px,#03038c 208.5px,#000064 209.5px,#000052 210.5px,#00004e 223.5px,#000056 224.5px,#010170 225.5px,#1616d5 227.5px,#3030f4 228.5px,#7a7aff 231.5px,#9393ff 234.5px,#8e8eff 239.5px,#7b7bff 241.5px,#4949f9 243.5px,#2929e4 244.5px,#1010b8 245.5px,#040483 246.5px,#01015e 247.5px,#00004d 249.5px,#00004c 322.5px)"></i><i style="background:linear-gradient(90deg,#cfcfff 0.5px,#9090ff 6.5px,#0c0cfc 16.5px,#0000e1 20.5px,#1010fa 23.5px,#4b4bff 26.5px,#b9b9ff 31.5px,#dbdbff 34.5px,#e5e5ff 41.5px,#d3d3ff 47.5px,#8484ff 54.5px,#2b2bff 61.5px,#1212ff 65.5px,#22f 69.5px,#5d5dff 74.5px,#c1c1ff 81.5px,#d9d9ff 85.5px,#d4d4ff 92.5px,#afafff 96.5px,#0e0efb 106.5px,#0202e0 108.5px,#0000a7 111.5px,#0000a0 112.5px,#0000b8 114.5px,#0909f4 117.5px,#3838ff 120.5px,#9e9eff 125.5px,#cbcbff 129.5px,#d2d2ff 134.5px,#bbf 137.5px,#8787ff 140.5px,#1e1ef5 144.5px,#0c0cdf 145.5px,#000067 148.5px,#000054 149.5px,#000050 151.5px,#00005b 152.5px,#010179 153.5px,#1414d9 155.5px,#3030f4 156.5px,#9494ff 159.5px,#b1b1ff 161.5px,#b7b7ff 164.5px,#a5a5ff 167.5px,#8484ff 169.5px,#3f3ff1 171.5px,#1c1ccf 172.5px,#08089a 173.5px,#01016b 174.5px,#000054 175.5px,#00004c 185.5px,#00004e 193.5px,#000059 194.5px,#03037a 195.5px,#2020df 197.5px,#3939f7 198.5px,#5c5cff 200.5px,#6363ff 202.5px,#5050ff 204.5px,#2323ed 206.5px,#0f0fc8 207.5px,#010168 209.5px,#000053 210.5px,#00004e 223.5px,#000057 224.5px,#020274 225.5px,#1919d9 227.5px,#3434f5 228.5px,#7e7eff 231.5px,#9696ff 234.5px,#9191ff 239.5px,#7f7fff 241.5px,#4f4ffa 243.5px,#2e2ee9 244.5px,#1313c1 245.5px,#05058b 246.5px,#010162 247.5px,#000051 248.5px,#00004c 322.5px)"></i><i style="background:linear-gradient(90deg,#d1d1ff 0.5px,#9292ff 6.5px,#0e0efd 16.5px,#0000e5 20.5px,#1212fc 23.5px,#6767ff 27.5px,#bcbcff 31.5px,#ddf 34.5px,#e6e6ff 41.5px,#d5d5ff 47.5px,#8686ff 54.5px,#2e2eff 61.5px,#1414ff 65.5px,#2424ff 69.5px,#6060ff 74.5px,#c4c4ff 81.5px,#dbdbff 85.5px,#d6d6ff 92.5px,#b2b2ff 96.5px,#1010fc 106.5px,#0202e5 108.5px,#0000ad 111.5px,#0000a7 112.5px,#0000be 114.5px,#0b0bf6 117.5px,#5151ff 121.5px,#a1a1ff 125.5px,#cdcdff 129.5px,#d5d5ff 134.5px,#bebeff 137.5px,#8b8bff 140.5px,#2121f7 144.5px,#0e0ee3 145.5px,#00006c 148.5px,#000056 149.5px,#000051 151.5px,#00005e 152.5px,#01017e 153.5px,#1616dd 155.5px,#3333f6 156.5px,#7c7cff 158.5px,#a9a9ff 160.5px,#bcbcff 163.5px,#a8a8ff 167.5px,#88f 169.5px,#4545f3 171.5px,#2020d4 172.5px,#0a0a9f 173.5px,#02026f 174.5px,#005 175.5px,#00004c 181.5px,#00004f 193.5px,#01015b 194.5px,#04047e 195.5px,#2424e3 197.5px,#3e3ef8 198.5px,#6262ff 200.5px,#6868ff 202.5px,#55f 204.5px,#2727f0 206.5px,#1111ce 207.5px,#01016c 209.5px,#000054 210.5px,#00004c 219.5px,#00004e 223.5px,#000059 224.5px,#020277 225.5px,#1c1cdc 227.5px,#3838f6 228.5px,#6f6fff 230.5px,#9494ff 233.5px,#9797ff 238.5px,#8383ff 241.5px,#5555fc 243.5px,#3333ed 244.5px,#1616c9 245.5px,#010167 247.5px,#000053 248.5px,#00004c 322.5px)"></i><i style="background:linear-gradient(90deg,#d3d3ff 0.5px,#9494ff 6.5px,#1010fe 16.5px,#0101e9 20.5px,#1414fd 23.5px,#6a6aff 27.5px,#bebeff 31.5px,#dedeff 34.5px,#e5e5ff 42.5px,#d0d0ff 48.5px,#5e5eff 57.5px,#2020ff 63.5px,#1616ff 66.5px,#3a3aff 71.5px,#c7c7ff 81.5px,#dcdcff 85.5px,#d3d3ff 93.5px,#a7a7ff 97.5px,#1313fd 106.5px,#0303ea 108.5px,#0000b4 111.5px,#0000ae 112.5px,#0000c5 114.5px,#0d0df8 117.5px,#5454ff 121.5px,#a4a4ff 125.5px,#d0d0ff 129.5px,#d6d6ff 134.5px,#c1c1ff 137.5px,#8e8eff 140.5px,#2424f9 144.5px,#0f0fe7 145.5px,#000071 148.5px,#000059 149.5px,#000052 151.5px,#000061 152.5px,#020284 153.5px,#1919e0 155.5px,#3737f7 156.5px,#7f7fff 158.5px,#acacff 160.5px,#bfbfff 163.5px,#ababff 167.5px,#8d8dff 169.5px,#4a4af4 171.5px,#2525d7 172.5px,#0c0ca4 173.5px,#030372 174.5px,#000056 175.5px,#00004c 179.5px,#00004f 193.5px,#01015d 194.5px,#040483 195.5px,#2828e7 197.5px,#4242fa 198.5px,#6767ff 200.5px,#6e6eff 202.5px,#5a5aff 204.5px,#2b2bf3 206.5px,#1414d3 207.5px,#01016f 209.5px,#005 210.5px,#00004c 215.5px,#00004f 223.5px,#00005b 224.5px,#03037c 225.5px,#2020df 227.5px,#3c3cf7 228.5px,#7373ff 230.5px,#9797ff 233.5px,#9a9aff 238.5px,#8787ff 241.5px,#5b5bfd 243.5px,#3939f1 244.5px,#1a1acf 245.5px,#01016c 247.5px,#000054 248.5px,#00004c 257.5px,#00004c 322.5px)"></i><i style="background:linear-gradient(90deg,#d5d5ff 0.5px,#a4a4ff 5.5px,#1313fe 16.5px,#0101f0 19.5px,#0a0af9 22.5px,#3d3dff 25.5px,#aeaeff 30.5px,#d9d9ff 33.5px,#e9e9ff 39.5px,#d8d8ff 47.5px,#99f 53.5px,#33f 61.5px,#1919ff 65.5px,#2929ff 69.5px,#66f 74.5px,#c9c9ff 81.5px,#dedeff 86.5px,#d5d5ff 93.5px,#aaf 97.5px,#1515fe 106.5px,#0404ee 108.5px,#0000ba 111.5px,#0000b4 112.5px,#0000cb 114.5px,#0f0ffa 117.5px,#5858ff 121.5px,#a7a7ff 125.5px,#d2d2ff 129.5px,#d4d4ff 135.5px,#b7b7ff 138.5px,#7979ff 141.5px,#2727fa 144.5px,#1212ea 145.5px,#01019e 147.5px,#000076 148.5px,#00005c 149.5px,#000051 150.5px,#000053 151.5px,#000064 152.5px,#020289 153.5px,#1b1be3 155.5px,#3b3bf8 156.5px,#8383ff 158.5px,#afafff 160.5px,#c1c1ff 163.5px,#aeaeff 167.5px,#9090ff 169.5px,#5050f5 171.5px,#2929da 172.5px,#0f0fa8 173.5px,#030375 174.5px,#000057 175.5px,#00004d 178.5px,#000050 193.5px,#010160 194.5px,#050589 195.5px,#1313c2 196.5px,#2b2beb 197.5px,#4747fb 198.5px,#6c6cff 200.5px,#7373ff 202.5px,#5f5fff 204.5px,#3030f4 206.5px,#1717d7 207.5px,#020272 209.5px,#000057 210.5px,#00004d 213.5px,#000050 223.5px,#00005e 224.5px,#030382 225.5px,#2323e3 227.5px,#4040f8 228.5px,#77f 230.5px,#99f 233.5px,#9c9cff 238.5px,#8a8aff 241.5px,#6161fd 243.5px,#3f3ff3 244.5px,#1e1ed4 245.5px,#0a0aa1 246.5px,#020270 247.5px,#000056 248.5px,#00004c 253.5px,#00004c 322.5px)"></i><i style="background:linear-gradient(90deg,#d6d6ff 0.5px,#a6a6ff 5.5px,#0b0bfd 17.5px,#0101f1 20.5px,#1919fe 23.5px,#c2c2ff 31.5px,#e0e0ff 34.5px,#e8e8ff 42.5px,#d3d3ff 48.5px,#7272ff 56.5px,#2c2cff 62.5px,#1b1bff 66.5px,#4040ff 71.5px,#ccf 81.5px,#dfdfff 86.5px,#d7d7ff 93.5px,#adadff 97.5px,#1818fe 106.5px,#0505f2 108.5px,#0000c1 111.5px,#00b 112.5px,#0000d2 114.5px,#0707f4 116.5px,#3131ff 119.5px,#aaf 125.5px,#d4d4ff 129.5px,#d6d6ff 135.5px,#b9b9ff 138.5px,#7c7cff 141.5px,#2a2afa 144.5px,#1414ec 145.5px,#0202a4 147.5px,#00007b 148.5px,#00005e 149.5px,#000052 150.5px,#000054 151.5px,#000067 152.5px,#0a0abf 154.5px,#1e1ee6 155.5px,#3f3ff9 156.5px,#8686ff 158.5px,#b2b2ff 160.5px,#c4c4ff 163.5px,#b1b1ff 167.5px,#9494ff 169.5px,#5555f6 171.5px,#2e2edd 172.5px,#1111ac 173.5px,#040478 174.5px,#010158 175.5px,#00004d 177.5px,#000052 193.5px,#010164 194.5px,#060690 195.5px,#1515c8 196.5px,#3030ee 197.5px,#6363ff 199.5px,#77f 201.5px,#7171ff 203.5px,#4f4ffe 205.5px,#3535f5 206.5px,#1b1bdb 207.5px,#020276 209.5px,#000058 210.5px,#00004d 213.5px,#000051 223.5px,#010162 224.5px,#040488 225.5px,#2626e7 227.5px,#4444f9 228.5px,#7a7aff 230.5px,#9c9cff 233.5px,#9f9fff 238.5px,#8d8dff 241.5px,#6666fd 243.5px,#4545f5 244.5px,#2323d9 245.5px,#0c0ca6 246.5px,#030373 247.5px,#000057 248.5px,#00004d 251.5px,#00004c 322.5px)"></i><i style="background:linear-gradient(90deg,#d7d7ff 0.5px,#b5b5ff 4.5px,#0e0efe 17.5px,#0202f5 20.5px,#1c1cfe 23.5px,#c5c5ff 31.5px,#e1e1ff 34.5px,#e9e9ff 42.5px,#d5d5ff 48.5px,#7575ff 56.5px,#2f2fff 62.5px,#1d1dff 66.5px,#4242ff 71.5px,#ceceff 81.5px,#e0e0ff 87.5px,#d3d3ff 94.5px,#a0a0ff 98.5px,#1b1bff 106.5px,#0202e8 109.5px,#0000c7 111.5px,#0000c1 112.5px,#0101d8 114.5px,#0909f6 116.5px,#3535ff 119.5px,#adadff 125.5px,#d6d6ff 129.5px,#d8d8ff 135.5px,#bcbcff 138.5px,#8080ff 141.5px,#2d2dfb 144.5px,#1616ef 145.5px,#0808d3 146.5px,#000080 148.5px,#000062 149.5px,#000054 150.5px,#000056 151.5px,#00006b 152.5px,#0c0cc4 154.5px,#2121e9 155.5px,#4242fa 156.5px,#8a8aff 158.5px,#b5b5ff 160.5px,#c7c7ff 163.5px,#b5b5ff 167.5px,#9898ff 169.5px,#5a5af7 171.5px,#3232e0 172.5px,#1313b1 173.5px,#05057c 174.5px,#01015a 175.5px,#00004d 177.5px,#000053 193.5px,#020268 194.5px,#1919cd 196.5px,#3434f0 197.5px,#6868ff 199.5px,#7c7cff 201.5px,#7676ff 203.5px,#5555fe 205.5px,#3a3af7 206.5px,#1e1ede 207.5px,#03037a 209.5px,#00005a 210.5px,#00004d 212.5px,#000052 223.5px,#010165 224.5px,#1111c4 226.5px,#2929ea 227.5px,#4949fb 228.5px,#7e7eff 230.5px,#9e9eff 233.5px,#a1a1ff 238.5px,#9090ff 241.5px,#6c6cfe 243.5px,#4b4bf6 244.5px,#2828dc 245.5px,#0f0fac 246.5px,#040478 247.5px,#010159 248.5px,#00004d 250.5px,#00004c 322.5px)"></i><i style="background:linear-gradient(90deg,#d8d8ff 0.5px,#b7b7ff 4.5px,#1010fe 17.5px,#0303f8 20.5px,#1e1eff 23.5px,#c7c7ff 31.5px,#e2e2ff 34.5px,#eaeaff 42.5px,#d7d7ff 48.5px,#8585ff 55.5px,#3131ff 62.5px,#2020ff 66.5px,#4545ff 71.5px,#d0d0ff 81.5px,#e2e2ff 87.5px,#d4d4ff 94.5px,#a4a4ff 98.5px,#1d1dff 106.5px,#0303ec 109.5px,#0000ce 111.5px,#0000c8 112.5px,#0101de 114.5px,#1717fe 117.5px,#7878ff 122.5px,#bebeff 126.5px,#dadaff 130.5px,#d4d4ff 136.5px,#afafff 139.5px,#4c4cff 143.5px,#1919f1 145.5px,#0909d8 146.5px,#006 149.5px,#000056 150.5px,#000059 151.5px,#000070 152.5px,#0d0dca 154.5px,#2424eb 155.5px,#6c6cfe 157.5px,#a6a6ff 159.5px,#c8c8ff 162.5px,#c0c0ff 166.5px,#9b9bff 169.5px,#5f5ff9 171.5px,#3636e3 172.5px,#1616b7 173.5px,#060681 174.5px,#01015d 175.5px,#00004d 177.5px,#00004e 192.5px,#000054 193.5px,#02026b 194.5px,#1c1cd1 196.5px,#3939f2 197.5px,#6d6dff 199.5px,#8080ff 201.5px,#7a7aff 203.5px,#5a5afe 205.5px,#3f3ff8 206.5px,#2222e1 207.5px,#030380 209.5px,#00005d 210.5px,#00004d 212.5px,#000053 223.5px,#010169 224.5px,#1212ca 226.5px,#2c2cee 227.5px,#6b6bff 229.5px,#9090ff 231.5px,#a7a7ff 235.5px,#9b9bff 240.5px,#8686ff 242.5px,#5151f8 244.5px,#2d2de1 245.5px,#1212b2 246.5px,#04047d 247.5px,#01015b 248.5px,#00004d 250.5px,#00004c 322.5px)"></i><i style="background:linear-gradient(90deg,#dadaff 0.5px,#babaff 4.5px,#1313ff 17.5px,#0404fb 20.5px,#2121ff 23.5px,#c9c9ff 31.5px,#e7e7ff 35.5px,#e7e7ff 44.5px,#d1d1ff 49.5px,#3434ff 62.5px,#22f 66.5px,#4848ff 71.5px,#d2d2ff 81.5px,#e3e3ff 88.5px,#d6d6ff 94.5px,#a7a7ff 98.5px,#2020ff 106.5px,#0404f0 109.5px,#0000cf 112.5px,#0d0dfb 116.5px,#5050ff 120.5px,#b3b3ff 125.5px,#d4d4ff 128.5px,#dcdcff 134.5px,#ceceff 137.5px,#9e9eff 140.5px,#3333fd 144.5px,#1b1bf4 145.5px,#0a0add 146.5px,#00006b 149.5px,#00005a 150.5px,#00005d 151.5px,#010176 152.5px,#0f0fd0 154.5px,#2727ee 155.5px,#7070ff 157.5px,#a9a9ff 159.5px,#cbcbff 162.5px,#c3c3ff 166.5px,#9f9fff 169.5px,#6464fa 171.5px,#3b3be7 172.5px,#1818bd 173.5px,#060687 174.5px,#010160 175.5px,#000050 176.5px,#00004e 192.5px,#005 193.5px,#03036f 194.5px,#2020d4 196.5px,#3e3ef3 197.5px,#7272ff 199.5px,#8383ff 201.5px,#7e7eff 203.5px,#5f5ffe 205.5px,#4343f9 206.5px,#2626e5 207.5px,#040486 209.5px,#010160 210.5px,#00004d 212.5px,#00004e 222.5px,#000054 223.5px,#01016c 224.5px,#1515d0 226.5px,#3030f1 227.5px,#6f6fff 229.5px,#9393ff 231.5px,#a9a9ff 235.5px,#9e9eff 240.5px,#8a8aff 242.5px,#5757f9 244.5px,#3232e5 245.5px,#1414b9 246.5px,#050584 247.5px,#01015e 248.5px,#00004d 250.5px,#00004c 322.5px)"></i><i style="background:linear-gradient(90deg,#dbdbff 0.5px,#bcbcff 4.5px,#1515ff 17.5px,#0505fc 20.5px,#2424ff 23.5px,#babaff 30.5px,#dfdfff 33.5px,#eef 40.5px,#dadaff 48.5px,#9797ff 54.5px,#3636ff 62.5px,#2424ff 66.5px,#4b4bff 71.5px,#cbcbff 80.5px,#e2e2ff 85.5px,#d8d8ff 94.5px,#aaf 98.5px,#2323ff 106.5px,#0505f4 109.5px,#0000d5 112.5px,#1010fc 116.5px,#5353ff 120.5px,#b6b6ff 125.5px,#d6d6ff 128.5px,#dbdbff 135.5px,#c5c5ff 138.5px,#8989ff 141.5px,#1d1df6 145.5px,#0c0ce2 146.5px,#000070 149.5px,#00005d 150.5px,#000060 151.5px,#01017c 152.5px,#1010d5 154.5px,#2929f1 155.5px,#7474ff 157.5px,#adadff 159.5px,#ceceff 162.5px,#c6c6ff 166.5px,#a3a3ff 169.5px,#6969fb 171.5px,#3f3feb 172.5px,#1b1bc4 173.5px,#07078d 174.5px,#010164 175.5px,#000052 176.5px,#00004e 192.5px,#000056 193.5px,#030372 194.5px,#0e0ea4 195.5px,#2424d7 196.5px,#4343f4 197.5px,#7676ff 199.5px,#8686ff 201.5px,#77f 204.5px,#4848fa 206.5px,#2929e9 207.5px,#1111c1 208.5px,#04048d 209.5px,#010164 210.5px,#000052 211.5px,#00004e 222.5px,#005 223.5px,#01016f 224.5px,#1717d4 226.5px,#3434f3 227.5px,#7272ff 229.5px,#9696ff 231.5px,#acacff 235.5px,#a0a0ff 240.5px,#8d8dff 242.5px,#5c5cfa 244.5px,#3737ea 245.5px,#1717c2 246.5px,#06068c 247.5px,#010163 248.5px,#000051 249.5px,#00004c 322.5px)"></i><i style="background:linear-gradient(90deg,#dcdcff 0.5px,#bfbfff 4.5px,#1818ff 17.5px,#0707fe 20.5px,#2727ff 23.5px,#bdbdff 30.5px,#e0e0ff 33.5px,#efefff 40.5px,#dbdbff 48.5px,#9a9aff 54.5px,#3838ff 62.5px,#2727ff 66.5px,#4d4dff 71.5px,#ceceff 80.5px,#e3e3ff 85.5px,#d9d9ff 94.5px,#bcbcff 97.5px,#2626ff 106.5px,#0606f7 109.5px,#0000dc 112.5px,#0808f8 115.5px,#4242ff 119.5px,#b9b9ff 125.5px,#d7d7ff 128.5px,#dcdcff 135.5px,#c7c7ff 138.5px,#8d8dff 141.5px,#2020f8 145.5px,#0d0de6 146.5px,#000076 149.5px,#000061 150.5px,#000065 151.5px,#010182 152.5px,#1212da 154.5px,#2c2cf4 155.5px,#9898ff 158.5px,#c0c0ff 160.5px,#d3d3ff 163.5px,#c1c1ff 167.5px,#a6a6ff 169.5px,#6e6efc 171.5px,#44e 172.5px,#1d1dca 173.5px,#080894 174.5px,#010167 175.5px,#000053 176.5px,#00004e 192.5px,#010158 193.5px,#040476 194.5px,#1010a9 195.5px,#2828db 196.5px,#4848f6 197.5px,#7a7aff 199.5px,#8a8aff 202.5px,#7b7bff 204.5px,#4d4dfb 206.5px,#2d2dec 207.5px,#1313c8 208.5px,#010168 210.5px,#000053 211.5px,#00004e 222.5px,#000057 223.5px,#020272 224.5px,#1a1ad7 226.5px,#3838f4 227.5px,#7676ff 229.5px,#99f 231.5px,#aeaeff 235.5px,#a3a3ff 240.5px,#7f7fff 243.5px,#3c3cee 245.5px,#1a1ac9 246.5px,#070793 247.5px,#010167 248.5px,#000053 249.5px,#00004c 312.5px,#00004c 322.5px)"></i><i style="background:linear-gradient(90deg,#ddf 0.5px,#c1c1ff 4.5px,#1a1aff 17.5px,#0909ff 20.5px,#2a2aff 23.5px,#bfbfff 30.5px,#e2e2ff 33.5px,#f0f0ff 40.5px,#dcdcff 48.5px,#a9a9ff 53.5px,#3b3bff 62.5px,#2929ff 66.5px,#5050ff 71.5px,#d0d0ff 80.5px,#e5e5ff 86.5px,#dbdbff 94.5px,#bfbfff 97.5px,#2929ff 106.5px,#0303f1 110.5px,#0000e2 112.5px,#0a0afa 115.5px,#4545ff 119.5px,#bcbcff 125.5px,#d9d9ff 128.5px,#dedeff 135.5px,#cacaff 138.5px,#9090ff 141.5px,#2323f9 145.5px,#0f0fe9 146.5px,#00007c 149.5px,#006 150.5px,#00006a 151.5px,#010188 152.5px,#1414df 154.5px,#2f2ff6 155.5px,#9b9bff 158.5px,#c3c3ff 160.5px,#d5d5ff 163.5px,#c4c4ff 167.5px,#9494ff 170.5px,#4848f1 172.5px,#2121cf 173.5px,#0a0a99 174.5px,#02026b 175.5px,#000054 176.5px,#00004c 187.5px,#00004e 192.5px,#010159 193.5px,#040479 194.5px,#1212ae 195.5px,#2c2cde 196.5px,#4d4df7 197.5px,#7e7eff 199.5px,#8d8dff 202.5px,#7f7fff 204.5px,#5252fc 206.5px,#3131f0 207.5px,#1515ce 208.5px,#01016b 210.5px,#000054 211.5px,#00004d 221.5px,#000058 223.5px,#020276 224.5px,#1e1eda 226.5px,#3c3cf5 227.5px,#7a7aff 229.5px,#a5a5ff 232.5px,#b0b0ff 237.5px,#9e9eff 241.5px,#8383ff 243.5px,#4242f1 245.5px,#1e1ecf 246.5px,#09099a 247.5px,#02026b 248.5px,#000054 249.5px,#00004c 258.5px,#00004c 322.5px)"></i><i style="background:linear-gradient(90deg,#dedeff 0.5px,#c3c3ff 4.5px,#1d1dff 17.5px,#0c0cff 20.5px,#2c2cff 23.5px,#c1c1ff 30.5px,#e3e3ff 33.5px,#f1f1ff 40.5px,#dedeff 48.5px,#ababff 53.5px,#3d3dff 62.5px,#2b2bff 66.5px,#5353ff 71.5px,#d2d2ff 80.5px,#e6e6ff 86.5px,#dcdcff 94.5px,#c2c2ff 97.5px,#2b2bff 106.5px,#0404f5 110.5px,#0000e8 112.5px,#0c0cfc 115.5px,#4848ff 119.5px,#bebeff 125.5px,#dadaff 128.5px,#dfdfff 135.5px,#ccf 138.5px,#9393ff 141.5px,#2626fa 145.5px,#1212ec 146.5px,#0101a8 148.5px,#000083 149.5px,#00006d 150.5px,#000071 151.5px,#01018f 152.5px,#1616e2 154.5px,#3333f7 155.5px,#9e9eff 158.5px,#c6c6ff 160.5px,#d7d7ff 163.5px,#c7c7ff 167.5px,#9898ff 170.5px,#4d4df3 172.5px,#2525d3 173.5px,#0c0c9e 174.5px,#02026e 175.5px,#005 176.5px,#00004c 183.5px,#00004f 192.5px,#01015a 193.5px,#05057c 194.5px,#1414b3 195.5px,#3030e2 196.5px,#5252f8 197.5px,#8282ff 199.5px,#9090ff 202.5px,#8383ff 204.5px,#5757fd 206.5px,#3535f2 207.5px,#1818d2 208.5px,#01016e 210.5px,#005 211.5px,#00004c 217.5px,#00004f 222.5px,#00005a 223.5px,#03037a 224.5px,#2121dd 226.5px,#4040f6 227.5px,#7d7dff 229.5px,#a7a7ff 232.5px,#b3b3ff 237.5px,#9797ff 242.5px,#6d6dfd 244.5px,#4848f3 245.5px,#2323d4 246.5px,#0b0ba0 247.5px,#02026f 248.5px,#005 249.5px,#00004c 254.5px,#00004c 322.5px)"></i><i style="background:linear-gradient(90deg,#dfdfff 0.5px,#c5c5ff 4.5px,#2020ff 17.5px,#0f0fff 20.5px,#2f2fff 23.5px,#c3c3ff 30.5px,#e4e4ff 33.5px,#f2f2ff 40.5px,#dfdfff 48.5px,#aeaeff 53.5px,#4040ff 62.5px,#2e2eff 66.5px,#55f 71.5px,#d4d4ff 80.5px,#e8e8ff 87.5px,#d8d8ff 95.5px,#a5a5ff 99.5px,#2e2eff 106.5px,#0505f8 110.5px,#0202f2 113.5px,#1a1aff 116.5px,#6060ff 120.5px,#c1c1ff 125.5px,#dbdbff 128.5px,#e0e0ff 135.5px,#ceceff 138.5px,#9696ff 141.5px,#2929fb 145.5px,#1414ef 146.5px,#0202af 148.5px,#00008a 149.5px,#000074 150.5px,#000078 151.5px,#020296 152.5px,#1818e5 154.5px,#3636f8 155.5px,#a1a1ff 158.5px,#c9c9ff 160.5px,#d8d8ff 163.5px,#cacaff 167.5px,#9c9cff 170.5px,#5353f4 172.5px,#2929d6 173.5px,#0e0ea2 174.5px,#030371 175.5px,#000056 176.5px,#00004c 180.5px,#00004f 192.5px,#01015b 193.5px,#060680 194.5px,#1616b8 195.5px,#3434e5 196.5px,#5757f9 197.5px,#8585ff 199.5px,#9292ff 202.5px,#8686ff 204.5px,#5c5cfd 206.5px,#3a3af4 207.5px,#1b1bd6 208.5px,#020271 210.5px,#000056 211.5px,#00004c 215.5px,#000050 222.5px,#00005d 223.5px,#030380 224.5px,#0d0db3 225.5px,#2424e1 226.5px,#4545f7 227.5px,#8181ff 229.5px,#aaf 232.5px,#b5b5ff 237.5px,#9a9aff 242.5px,#7272fd 244.5px,#4e4ef5 245.5px,#2828d8 246.5px,#0e0ea5 247.5px,#030373 248.5px,#000057 249.5px,#00004d 252.5px,#00004c 322.5px)"></i><i style="background:linear-gradient(90deg,#e0e0ff 0.5px,#c8c8ff 4.5px,#2323ff 17.5px,#11f 20.5px,#3232ff 23.5px,#c5c5ff 30.5px,#e5e5ff 33.5px,#f3f3ff 40.5px,#dbdbff 49.5px,#7c7cff 57.5px,#3a3aff 63.5px,#3030ff 66.5px,#5858ff 71.5px,#d5d5ff 80.5px,#e9e9ff 87.5px,#dadaff 95.5px,#b9b9ff 98.5px,#3131ff 106.5px,#0707fb 110.5px,#0303f6 113.5px,#1d1dff 116.5px,#6464ff 120.5px,#c4c4ff 125.5px,#ddf 128.5px,#e1e1ff 135.5px,#d0d0ff 138.5px,#9a9aff 141.5px,#2c2cfc 145.5px,#1616f1 146.5px,#0202b6 148.5px,#000092 149.5px,#00007c 150.5px,#000080 151.5px,#0909c7 153.5px,#1b1be8 154.5px,#3a3af9 155.5px,#a4a4ff 158.5px,#cbcbff 160.5px,#d9d9ff 163.5px,#cdcdff 167.5px,#9f9fff 170.5px,#5858f5 172.5px,#2e2ed9 173.5px,#1111a7 174.5px,#040474 175.5px,#010157 176.5px,#00004d 179.5px,#00004f 192.5px,#01015d 193.5px,#060684 194.5px,#1818bd 195.5px,#3737e9 196.5px,#5b5bfa 197.5px,#8989ff 199.5px,#9595ff 202.5px,#8a8aff 204.5px,#6060fd 206.5px,#3f3ff5 207.5px,#1f1fd9 208.5px,#0a0aa7 209.5px,#020274 210.5px,#000057 211.5px,#00004d 214.5px,#000051 222.5px,#010160 223.5px,#040486 224.5px,#0f0fba 225.5px,#2727e4 226.5px,#4949f9 227.5px,#8484ff 229.5px,#adadff 232.5px,#b8b8ff 237.5px,#9d9dff 242.5px,#7777fe 244.5px,#5454f6 245.5px,#2d2ddc 246.5px,#1111ab 247.5px,#040477 248.5px,#010158 249.5px,#00004d 252.5px,#00004c 322.5px)"></i><i style="background:linear-gradient(90deg,#e1e1ff 0.5px,#cacaff 4.5px,#2525ff 17.5px,#1414ff 20.5px,#3535ff 23.5px,#c7c7ff 30.5px,#e6e6ff 33.5px,#f4f4ff 40.5px,#dcdcff 49.5px,#8b8bff 56.5px,#3d3dff 63.5px,#33f 66.5px,#5b5bff 71.5px,#ceceff 79.5px,#e7e7ff 84.5px,#e3e3ff 93.5px,#cacaff 97.5px,#2727ff 107.5px,#0404f9 111.5px,#0a0afd 114.5px,#3f3fff 118.5px,#c6c6ff 125.5px,#e1e1ff 129.5px,#dfdfff 136.5px,#c5c5ff 139.5px,#8383ff 142.5px,#1919f4 146.5px,#0909df 147.5px,#00009a 149.5px,#000084 150.5px,#008 151.5px,#0a0acc 153.5px,#1e1eeb 154.5px,#6464fe 156.5px,#a7a7ff 158.5px,#cdcdff 160.5px,#dadaff 164.5px,#c6c6ff 168.5px,#a3a3ff 170.5px,#5e5ef6 172.5px,#3333dc 173.5px,#1313ab 174.5px,#050577 175.5px,#010158 176.5px,#00004d 179.5px,#000050 192.5px,#010160 193.5px,#07078a 194.5px,#1a1ac3 195.5px,#3b3bec 196.5px,#6060fb 197.5px,#8c8cff 199.5px,#9898ff 202.5px,#8d8dff 204.5px,#6565fe 206.5px,#4444f6 207.5px,#2323dc 208.5px,#0c0cab 209.5px,#030378 210.5px,#000059 211.5px,#00004d 213.5px,#000052 222.5px,#010164 223.5px,#04048c 224.5px,#1111c0 225.5px,#2b2be8 226.5px,#4d4dfa 227.5px,#88f 229.5px,#afafff 232.5px,#babaff 237.5px,#a0a0ff 242.5px,#7c7cfe 244.5px,#5a5af7 245.5px,#3232e0 246.5px,#1414b1 247.5px,#05057c 248.5px,#01015a 249.5px,#00004d 251.5px,#00004c 322.5px)"></i><i style="background:linear-gradient(90deg,#e2e2ff 0.5px,#ccf 4.5px,#2828ff 17.5px,#1717ff 20.5px,#3838ff 23.5px,#cacaff 30.5px,#ececff 34.5px,#f3f3ff 42.5px,#d6d6ff 50.5px,#4747ff 62.5px,#3535ff 66.5px,#5e5eff 71.5px,#d0d0ff 79.5px,#e8e8ff 84.5px,#e4e4ff 93.5px,#ccf 97.5px,#2929ff 107.5px,#0505fc 111.5px,#0c0cfe 114.5px,#4242ff 118.5px,#babaff 124.5px,#dbdbff 127.5px,#e5e5ff 134.5px,#d4d4ff 138.5px,#a0a0ff 141.5px,#1b1bf6 146.5px,#0b0be4 147.5px,#0000a1 149.5px,#00008c 150.5px,#00008f 151.5px,#0c0cd2 153.5px,#2020ee 154.5px,#6868fe 156.5px,#aaf 158.5px,#d0d0ff 160.5px,#dbdbff 164.5px,#c8c8ff 168.5px,#a7a7ff 170.5px,#6363f7 172.5px,#3737df 173.5px,#1616af 174.5px,#05057a 175.5px,#010159 176.5px,#00004d 178.5px,#000051 192.5px,#020263 193.5px,#09098f 194.5px,#1d1dc8 195.5px,#4040ee 196.5px,#8080ff 198.5px,#9898ff 200.5px,#9898ff 203.5px,#8282ff 205.5px,#4949f7 207.5px,#2727df 208.5px,#0e0eb0 209.5px,#03037d 210.5px,#00005b 211.5px,#00004d 213.5px,#000053 222.5px,#010167 223.5px,#1313c6 225.5px,#2e2eeb 226.5px,#7272fe 228.5px,#9d9dff 230.5px,#bbf 234.5px,#b2b2ff 240.5px,#9595ff 243.5px,#5f5ff9 245.5px,#3838e4 246.5px,#1717b7 247.5px,#060682 248.5px,#01015e 249.5px,#00004d 251.5px,#00004c 322.5px)"></i><i style="background:linear-gradient(90deg,#e2e2ff 0.5px,#ceceff 4.5px,#2b2bff 17.5px,#1a1aff 20.5px,#3b3bff 23.5px,#ccf 30.5px,#eef 34.5px,#f4f4ff 42.5px,#d8d8ff 50.5px,#4a4aff 62.5px,#3737ff 66.5px,#6060ff 71.5px,#d2d2ff 79.5px,#eaeaff 85.5px,#e2e2ff 94.5px,#cfcfff 97.5px,#2c2cff 107.5px,#0707fe 111.5px,#0f0fff 114.5px,#4545ff 118.5px,#bdbdff 124.5px,#dcdcff 127.5px,#e4e4ff 135.5px,#d6d6ff 138.5px,#a3a3ff 141.5px,#1e1ef8 146.5px,#0c0ce8 147.5px,#0101a9 149.5px,#000093 150.5px,#000097 151.5px,#0d0dd7 153.5px,#2323f1 154.5px,#6b6bff 156.5px,#adadff 158.5px,#d2d2ff 160.5px,#ddf 164.5px,#cbcbff 168.5px,#ababff 170.5px,#6969f8 172.5px,#3c3ce2 173.5px,#1818b4 174.5px,#06067f 175.5px,#01015c 176.5px,#00004d 178.5px,#000052 192.5px,#020267 193.5px,#0b0b94 194.5px,#2121cc 195.5px,#4545f0 196.5px,#8484ff 198.5px,#9b9bff 200.5px,#9b9bff 203.5px,#8585ff 205.5px,#4e4ef8 207.5px,#2a2ae2 208.5px,#1010b6 209.5px,#040482 210.5px,#01015f 211.5px,#00004d 213.5px,#000054 222.5px,#01016a 223.5px,#1414cc 225.5px,#3131ee 226.5px,#7676ff 228.5px,#a0a0ff 230.5px,#bebeff 234.5px,#b5b5ff 240.5px,#99f 243.5px,#6565fa 245.5px,#3d3de8 246.5px,#1919bf 247.5px,#070789 248.5px,#010162 249.5px,#000051 250.5px,#00004c 322.5px)"></i><i style="background:linear-gradient(90deg,#e3e3ff 0.5px,#d0d0ff 4.5px,#2d2dff 17.5px,#1c1cff 20.5px,#3e3eff 23.5px,#ceceff 30.5px,#efefff 34.5px,#f4f4ff 43.5px,#d9d9ff 50.5px,#4c4cff 62.5px,#3a3aff 66.5px,#5757ff 70.5px,#d4d4ff 79.5px,#ebebff 85.5px,#e3e3ff 94.5px,#c4c4ff 98.5px,#2f2fff 107.5px,#0909ff 111.5px,#11f 114.5px,#4848ff 118.5px,#c0c0ff 124.5px,#ddf 127.5px,#e5e5ff 135.5px,#ccf 139.5px,#8d8dff 142.5px,#2020fa 146.5px,#0e0eeb 147.5px,#0101b0 149.5px,#00009b 150.5px,#01019f 151.5px,#0e0edd 153.5px,#2626f4 154.5px,#9393ff 157.5px,#c6c6ff 159.5px,#ddf 162.5px,#d6d6ff 167.5px,#afafff 170.5px,#6e6ef9 172.5px,#4040e6 173.5px,#1a1aba 174.5px,#070784 175.5px,#01015f 176.5px,#00004d 178.5px,#000053 192.5px,#03036a 193.5px,#0d0d99 194.5px,#2525cf 195.5px,#4a4af1 196.5px,#8787ff 198.5px,#a1a1ff 201.5px,#9696ff 204.5px,#7373fe 206.5px,#5252f9 207.5px,#2e2ee6 208.5px,#1212bc 209.5px,#050588 210.5px,#010162 211.5px,#000051 212.5px,#00004e 221.5px,#005 222.5px,#01016d 223.5px,#1616d1 225.5px,#3535f1 226.5px,#7a7aff 228.5px,#a3a3ff 230.5px,#c0c0ff 234.5px,#b8b8ff 240.5px,#9c9cff 243.5px,#6b6bfb 245.5px,#4242ed 246.5px,#1c1cc7 247.5px,#080891 248.5px,#010166 249.5px,#000052 250.5px,#00004c 322.5px)"></i><i style="background:linear-gradient(90deg,#e4e4ff 0.5px,#d2d2ff 4.5px,#2727ff 18.5px,#1f1fff 20.5px,#4141ff 23.5px,#d0d0ff 30.5px,#f0f0ff 34.5px,#f5f5ff 43.5px,#dbdbff 50.5px,#4646ff 63.5px,#3c3cff 66.5px,#5a5aff 70.5px,#d6d6ff 79.5px,#ededff 86.5px,#e0e0ff 95.5px,#c7c7ff 98.5px,#3232ff 107.5px,#0c0cff 111.5px,#1414ff 114.5px,#4b4bff 118.5px,#c2c2ff 124.5px,#dfdfff 127.5px,#e6e6ff 135.5px,#cfcfff 139.5px,#9090ff 142.5px,#2323fb 146.5px,#1010ee 147.5px,#0000a3 150.5px,#0101a7 151.5px,#1010e2 153.5px,#2828f6 154.5px,#b3b3ff 158.5px,#d5d5ff 160.5px,#dfdfff 164.5px,#d0d0ff 168.5px,#b2b2ff 170.5px,#7373fa 172.5px,#4545e9 173.5px,#1d1dc1 174.5px,#08088b 175.5px,#010162 176.5px,#000051 177.5px,#00004e 191.5px,#005 192.5px,#03036d 193.5px,#0f0f9d 194.5px,#2929d2 195.5px,#4f4ff3 196.5px,#8b8bff 198.5px,#a4a4ff 201.5px,#9a9aff 204.5px,#7777fe 206.5px,#5757fa 207.5px,#3232e9 208.5px,#1414c2 209.5px,#010165 211.5px,#000052 212.5px,#00004e 221.5px,#000056 222.5px,#010171 223.5px,#1919d5 225.5px,#3939f3 226.5px,#7d7dff 228.5px,#a5a5ff 230.5px,#c3c3ff 234.5px,#babaff 240.5px,#9f9fff 243.5px,#7070fc 245.5px,#4747f0 246.5px,#2020ce 247.5px,#090998 248.5px,#02026a 249.5px,#000054 250.5px,#00004c 263.5px,#00004c 322.5px)"></i><i style="background:linear-gradient(90deg,#e5e5ff 0.5px,#cacaff 5.5px,#33f 17.5px,#22f 20.5px,#4343ff 23.5px,#d1d1ff 30.5px,#f1f1ff 34.5px,#f6f6ff 43.5px,#dcdcff 50.5px,#4949ff 63.5px,#3e3eff 66.5px,#5c5cff 70.5px,#d7d7ff 79.5px,#eef 86.5px,#e2e2ff 95.5px,#cacaff 98.5px,#3434ff 107.5px,#0f0fff 111.5px,#1717ff 114.5px,#4e4eff 118.5px,#c5c5ff 124.5px,#e0e0ff 127.5px,#e7e7ff 135.5px,#d1d1ff 139.5px,#9494ff 142.5px,#2626fc 146.5px,#0606da 148.5px,#00a 150.5px,#0101ae 151.5px,#1212e6 153.5px,#4f4ffe 155.5px,#b6b6ff 158.5px,#d7d7ff 160.5px,#dfdfff 165.5px,#d3d3ff 168.5px,#b6b6ff 170.5px,#7777fb 172.5px,#4949ed 173.5px,#1f1fc7 174.5px,#080891 175.5px,#010166 176.5px,#000052 177.5px,#00004e 191.5px,#010156 192.5px,#040470 193.5px,#1111a2 194.5px,#2d2dd6 195.5px,#5454f4 196.5px,#8f8fff 198.5px,#a7a7ff 201.5px,#9d9dff 204.5px,#7b7bff 206.5px,#3636ed 208.5px,#1616c8 209.5px,#010168 211.5px,#000053 212.5px,#00004e 221.5px,#000057 222.5px,#020274 223.5px,#0909a6 224.5px,#1c1cd8 225.5px,#3d3df5 226.5px,#8181ff 228.5px,#a8a8ff 230.5px,#c5c5ff 234.5px,#bdbdff 240.5px,#a2a2ff 243.5px,#7575fd 245.5px,#4d4df2 246.5px,#2525d3 247.5px,#0b0b9e 248.5px,#02026e 249.5px,#005 250.5px,#00004c 257.5px,#00004c 322.5px)"></i><i style="background:linear-gradient(90deg,#e6e6ff 0.5px,#ccf 5.5px,#3535ff 17.5px,#2424ff 20.5px,#4646ff 23.5px,#d3d3ff 30.5px,#f2f2ff 34.5px,#f7f7ff 43.5px,#dedeff 50.5px,#4b4bff 63.5px,#4141ff 66.5px,#5f5fff 70.5px,#d9d9ff 79.5px,#efefff 86.5px,#e3e3ff 95.5px,#ccf 98.5px,#3737ff 107.5px,#11f 111.5px,#1919ff 114.5px,#5151ff 118.5px,#c7c7ff 124.5px,#e5e5ff 128.5px,#e6e6ff 136.5px,#d3d3ff 139.5px,#9797ff 142.5px,#2a2afc 146.5px,#0808e0 148.5px,#0000b2 150.5px,#0101b6 151.5px,#1414e9 153.5px,#5353fe 155.5px,#9d9dff 157.5px,#cdcdff 159.5px,#e1e1ff 162.5px,#d5d5ff 168.5px,#b9b9ff 170.5px,#7c7cfc 172.5px,#4d4df0 173.5px,#2222cd 174.5px,#0a0a97 175.5px,#020269 176.5px,#000053 177.5px,#00004d 190.5px,#010157 192.5px,#050573 193.5px,#1313a6 194.5px,#3131d9 195.5px,#5858f5 196.5px,#9292ff 198.5px,#aaf 201.5px,#a0a0ff 204.5px,#7f7fff 206.5px,#3939f0 208.5px,#1818ce 209.5px,#070799 210.5px,#01016b 211.5px,#000054 212.5px,#00004d 220.5px,#00005a 222.5px,#020278 223.5px,#0b0bab 224.5px,#2020db 225.5px,#4141f6 226.5px,#8585ff 228.5px,#b6b6ff 231.5px,#cacaff 235.5px,#b9b9ff 241.5px,#9494ff 244.5px,#7a7afd 245.5px,#5353f4 246.5px,#2a2ad7 247.5px,#0e0ea3 248.5px,#030371 249.5px,#000056 250.5px,#00004c 254.5px,#00004c 322.5px)"></i><i style="background:linear-gradient(90deg,#e7e7ff 0.5px,#ceceff 5.5px,#3838ff 17.5px,#2727ff 20.5px,#4949ff 23.5px,#d5d5ff 30.5px,#f3f3ff 34.5px,#f8f8ff 43.5px,#d8d8ff 51.5px,#4d4dff 63.5px,#4343ff 66.5px,#6262ff 70.5px,#dbdbff 79.5px,#f0f0ff 86.5px,#e4e4ff 95.5px,#ceceff 98.5px,#3a3aff 107.5px,#1414ff 111.5px,#1c1cff 114.5px,#5454ff 118.5px,#cacaff 124.5px,#e6e6ff 128.5px,#e7e7ff 136.5px,#d4d4ff 139.5px,#9a9aff 142.5px,#1717f6 147.5px,#0202cc 149.5px,#0101ba 150.5px,#0202bd 151.5px,#1616ec 153.5px,#5757fe 155.5px,#a0a0ff 157.5px,#cfcfff 159.5px,#e2e2ff 162.5px,#d7d7ff 168.5px,#bdbdff 170.5px,#8181fd 172.5px,#5353f2 173.5px,#2626d1 174.5px,#0c0c9c 175.5px,#02026c 176.5px,#000054 177.5px,#00004c 185.5px,#00004e 191.5px,#010158 192.5px,#050577 193.5px,#1515ab 194.5px,#3535dc 195.5px,#5d5df6 196.5px,#9696ff 198.5px,#adadff 201.5px,#a3a3ff 204.5px,#8383ff 206.5px,#3e3ef2 208.5px,#1b1bd2 209.5px,#08089e 210.5px,#01016e 211.5px,#005 212.5px,#00004c 218.5px,#000050 221.5px,#00005c 222.5px,#03037d 223.5px,#0c0cb0 224.5px,#2323de 225.5px,#4545f7 226.5px,#88f 228.5px,#b9b9ff 231.5px,#ccf 235.5px,#bcbcff 241.5px,#9898ff 244.5px,#7f7ffe 245.5px,#5959f5 246.5px,#2f2fda 247.5px,#1111a8 248.5px,#040475 249.5px,#010157 250.5px,#00004d 253.5px,#00004c 322.5px)"></i><i style="background:linear-gradient(90deg,#e8e8ff 0.5px,#d0d0ff 5.5px,#3232ff 18.5px,#2a2aff 20.5px,#4c4cff 23.5px,#d7d7ff 30.5px,#f4f4ff 34.5px,#f9f9ff 43.5px,#d9d9ff 51.5px,#5050ff 63.5px,#4545ff 66.5px,#6464ff 70.5px,#dcdcff 79.5px,#f2f2ff 87.5px,#e1e1ff 96.5px,#c3c3ff 99.5px,#3d3dff 107.5px,#1616ff 111.5px,#1f1fff 114.5px,#5858ff 118.5px,#ccf 124.5px,#e7e7ff 128.5px,#e8e8ff 136.5px,#d6d6ff 139.5px,#9d9dff 142.5px,#1919f8 147.5px,#0303d2 149.5px,#0101c1 150.5px,#0202c4 151.5px,#1919ef 153.5px,#5a5afe 155.5px,#a3a3ff 157.5px,#d1d1ff 159.5px,#e3e3ff 162.5px,#d8d8ff 168.5px,#c0c0ff 170.5px,#8686fd 172.5px,#5858f3 173.5px,#2b2bd5 174.5px,#0e0ea0 175.5px,#03036f 176.5px,#005 177.5px,#00004c 182.5px,#00004e 191.5px,#010159 192.5px,#06067a 193.5px,#1717af 194.5px,#3939df 195.5px,#6262f7 196.5px,#8383fe 197.5px,#a6a6ff 199.5px,#b0b0ff 202.5px,#9a9aff 205.5px,#6969fd 207.5px,#4242f4 208.5px,#1f1fd6 209.5px,#0909a3 210.5px,#020271 211.5px,#000056 212.5px,#00004c 216.5px,#000051 221.5px,#00005f 222.5px,#030383 223.5px,#0e0eb6 224.5px,#2626e2 225.5px,#4a4af8 226.5px,#8c8cff 228.5px,#bcbcff 231.5px,#cfcfff 236.5px,#bebeff 241.5px,#9c9cff 244.5px,#8383fe 245.5px,#5f5ff7 246.5px,#3535de 247.5px,#1414ae 248.5px,#050579 249.5px,#010159 250.5px,#00004d 252.5px,#00004c 322.5px)"></i><i style="background:linear-gradient(90deg,#e9e9ff 0.5px,#d2d2ff 5.5px,#3434ff 18.5px,#2d2dff 20.5px,#4f4fff 23.5px,#d8d8ff 30.5px,#f8f8ff 35.5px,#f6f6ff 45.5px,#d2d2ff 52.5px,#5252ff 63.5px,#4848ff 66.5px,#6767ff 70.5px,#d5d5ff 78.5px,#f0f0ff 84.5px,#eaeaff 94.5px,#d3d3ff 98.5px,#3f3fff 107.5px,#1919ff 111.5px,#2121ff 114.5px,#5b5bff 118.5px,#ceceff 124.5px,#e8e8ff 128.5px,#e9e9ff 136.5px,#d8d8ff 139.5px,#a0a0ff 142.5px,#1c1cfa 147.5px,#0303d8 149.5px,#0101c8 150.5px,#0202cb 151.5px,#1b1bf1 153.5px,#8484ff 156.5px,#c1c1ff 158.5px,#ddf 160.5px,#e2e2ff 166.5px,#d2d2ff 169.5px,#acacff 171.5px,#5e5ef4 173.5px,#3030d7 174.5px,#1111a4 175.5px,#040472 176.5px,#000056 177.5px,#00004c 181.5px,#00004f 191.5px,#01015a 192.5px,#07077d 193.5px,#1919b4 194.5px,#3d3de2 195.5px,#6666f8 196.5px,#8787fe 197.5px,#a9a9ff 199.5px,#b3b3ff 202.5px,#9d9dff 205.5px,#6e6efd 207.5px,#4747f5 208.5px,#2222d9 209.5px,#0b0ba7 210.5px,#020275 211.5px,#000058 212.5px,#00004d 215.5px,#000052 221.5px,#010162 222.5px,#040488 223.5px,#1010bc 224.5px,#2a2ae5 225.5px,#4e4ef9 226.5px,#8f8fff 228.5px,#bebeff 231.5px,#d2d2ff 236.5px,#c1c1ff 241.5px,#9f9fff 244.5px,#8888fe 245.5px,#6565f8 246.5px,#3a3ae1 247.5px,#1717b4 248.5px,#06067f 249.5px,#01015c 250.5px,#00004d 252.5px,#000050 275.5px,#000056 279.5px,#00004c 289.5px,#00004c 322.5px)"></i><i style="background:linear-gradient(90deg,#eaeaff 0.5px,#d3d3ff 5.5px,#3737ff 18.5px,#2f2fff 20.5px,#5252ff 23.5px,#cbcbff 29.5px,#f2f2ff 33.5px,#fdfdff 41.5px,#e3e3ff 50.5px,#afafff 55.5px,#55f 63.5px,#4a4aff 66.5px,#6969ff 70.5px,#d7d7ff 78.5px,#f1f1ff 84.5px,#ebebff 94.5px,#d5d5ff 98.5px,#4242ff 107.5px,#1b1bff 111.5px,#2424ff 114.5px,#5e5eff 118.5px,#d0d0ff 124.5px,#ebebff 129.5px,#e7e7ff 137.5px,#cdcdff 140.5px,#8989ff 143.5px,#1f1ffb 147.5px,#0404de 149.5px,#0101cf 150.5px,#0303d2 151.5px,#1e1ef4 153.5px,#a9a9ff 157.5px,#d5d5ff 159.5px,#e6e6ff 163.5px,#dcdcff 168.5px,#c6c6ff 170.5px,#9090fe 172.5px,#6464f5 173.5px,#3535da 174.5px,#1414a8 175.5px,#050575 176.5px,#010157 177.5px,#00004d 180.5px,#00004f 191.5px,#01015c 192.5px,#070781 193.5px,#1b1bb8 194.5px,#4141e6 195.5px,#6b6bf9 196.5px,#8b8bfe 197.5px,#acacff 199.5px,#b5b5ff 202.5px,#a1a1ff 205.5px,#7272fe 207.5px,#4c4cf6 208.5px,#2626dc 209.5px,#0d0dac 210.5px,#030379 211.5px,#00005a 212.5px,#00004d 214.5px,#000053 221.5px,#010166 222.5px,#1212c1 224.5px,#2d2de8 225.5px,#5252fa 226.5px,#9393ff 228.5px,#c1c1ff 231.5px,#d4d4ff 236.5px,#c4c4ff 241.5px,#a3a3ff 244.5px,#8d8dfe 245.5px,#6b6bf9 246.5px,#4040e6 247.5px,#1a1abb 248.5px,#070786 249.5px,#010160 250.5px,#00004d 252.5px,#000050 274.5px,#006 278.5px,#00004d 283.5px,#00004c 322.5px)"></i><i style="background:linear-gradient(90deg,#ebebff 0.5px,#d5d5ff 5.5px,#3a3aff 18.5px,#3232ff 20.5px,#55f 23.5px,#cdcdff 29.5px,#f3f3ff 33.5px,#fefeff 41.5px,#e4e4ff 50.5px,#b2b2ff 55.5px,#5757ff 63.5px,#4c4cff 66.5px,#6c6cff 70.5px,#d9d9ff 78.5px,#f4f4ff 85.5px,#e9e9ff 95.5px,#cbcbff 99.5px,#4545ff 107.5px,#1e1eff 111.5px,#2727ff 114.5px,#6161ff 118.5px,#c4c4ff 123.5px,#e2e2ff 126.5px,#efefff 134.5px,#dbdbff 139.5px,#a7a7ff 142.5px,#2222fc 147.5px,#0505e3 149.5px,#0202d6 150.5px,#0303d9 151.5px,#2020f7 153.5px,#acacff 157.5px,#d7d7ff 159.5px,#e8e8ff 163.5px,#d6d6ff 169.5px,#b4b4ff 171.5px,#6a6af6 173.5px,#3a3add 174.5px,#1616ad 175.5px,#050578 176.5px,#010159 177.5px,#00004d 179.5px,#00004f 191.5px,#01015d 192.5px,#080885 193.5px,#1e1ebe 194.5px,#4545e9 195.5px,#6f6ffa 196.5px,#8f8ffe 197.5px,#afafff 199.5px,#b8b8ff 202.5px,#a4a4ff 205.5px,#7777fe 207.5px,#5151f7 208.5px,#2a2adf 209.5px,#0f0fb1 210.5px,#04047e 211.5px,#00005d 212.5px,#00004d 214.5px,#000053 221.5px,#010169 222.5px,#1313c7 224.5px,#3131eb 225.5px,#7a7afe 227.5px,#aaf 229.5px,#ccf 232.5px,#d5d5ff 237.5px,#bebeff 242.5px,#9191fe 245.5px,#7070fa 246.5px,#4444ea 247.5px,#1d1dc3 248.5px,#08088d 249.5px,#010164 250.5px,#000052 251.5px,#00004e 273.5px,#000075 277.5px,#000071 279.5px,#00004e 283.5px,#00004c 322.5px)"></i><i style="background:linear-gradient(90deg,#ececff 0.5px,#cdcdff 6.5px,#3d3dff 18.5px,#3535ff 20.5px,#5757ff 23.5px,#cfcfff 29.5px,#f4f4ff 33.5px,#fefeff 42.5px,#e6e6ff 50.5px,#b4b4ff 55.5px,#5a5aff 63.5px,#4f4fff 66.5px,#6e6eff 70.5px,#dadaff 78.5px,#f5f5ff 85.5px,#eaeaff 95.5px,#cdcdff 99.5px,#4848ff 107.5px,#2121ff 111.5px,#2929ff 114.5px,#6464ff 118.5px,#c7c7ff 123.5px,#e3e3ff 126.5px,#f0f0ff 134.5px,#ddf 139.5px,#aaf 142.5px,#2525fd 147.5px,#0707e8 149.5px,#0202dd 150.5px,#0e0eed 152.5px,#4343fe 154.5px,#afafff 157.5px,#d8d8ff 159.5px,#e9e9ff 163.5px,#d8d8ff 169.5px,#b8b8ff 171.5px,#9a9afe 172.5px,#6f6ff7 173.5px,#3f3fe0 174.5px,#1919b1 175.5px,#06067c 176.5px,#01015b 177.5px,#00004d 179.5px,#000050 191.5px,#010160 192.5px,#09098a 193.5px,#2020c3 194.5px,#4949ec 195.5px,#7474fb 196.5px,#9393ff 197.5px,#b2b2ff 199.5px,#bbf 202.5px,#a7a7ff 205.5px,#7b7bfe 207.5px,#5656f8 208.5px,#2e2ee2 209.5px,#1111b6 210.5px,#040483 211.5px,#010160 212.5px,#00004d 214.5px,#005 221.5px,#01016c 222.5px,#1515cc 224.5px,#3434ee 225.5px,#7e7eff 227.5px,#adadff 229.5px,#ceceff 232.5px,#d6d6ff 238.5px,#b7b7ff 243.5px,#9595ff 245.5px,#4949ee 247.5px,#2020ca 248.5px,#090994 249.5px,#010168 250.5px,#000053 251.5px,#00004d 272.5px,#000059 274.5px,#008 277.5px,#000084 279.5px,#000050 283.5px,#00004c 322.5px)"></i><i style="background:linear-gradient(90deg,#ededff 0.5px,#cfcfff 6.5px,#3f3fff 18.5px,#3838ff 20.5px,#5a5aff 23.5px,#d1d1ff 29.5px,#f5f5ff 33.5px,#fefeff 42.5px,#e7e7ff 50.5px,#b6b6ff 55.5px,#5c5cff 63.5px,#5151ff 66.5px,#7171ff 70.5px,#dcdcff 78.5px,#f6f6ff 85.5px,#ebebff 95.5px,#d0d0ff 99.5px,#4b4bff 107.5px,#2323ff 111.5px,#2c2cff 114.5px,#6767ff 118.5px,#c9c9ff 123.5px,#e9e9ff 127.5px,#f0f0ff 135.5px,#dedeff 139.5px,#adadff 142.5px,#2828fd 147.5px,#0808ed 149.5px,#0505e5 151.5px,#2626fa 153.5px,#b2b2ff 157.5px,#dadaff 159.5px,#eaeaff 163.5px,#dadaff 169.5px,#bcbcff 171.5px,#9e9efe 172.5px,#7474f9 173.5px,#4343e4 174.5px,#1b1bb7 175.5px,#070782 176.5px,#01015d 177.5px,#00004d 179.5px,#000051 191.5px,#020263 192.5px,#0b0b8f 193.5px,#2323c7 194.5px,#4d4dee 195.5px,#9797ff 197.5px,#b5b5ff 199.5px,#bebeff 202.5px,#aaf 205.5px,#7f7ffe 207.5px,#5a5af9 208.5px,#3232e5 209.5px,#1313bc 210.5px,#050589 211.5px,#010162 212.5px,#000052 213.5px,#00004e 220.5px,#000056 221.5px,#01016f 222.5px,#1717d2 224.5px,#3737f1 225.5px,#8282ff 227.5px,#b0b0ff 229.5px,#d0d0ff 232.5px,#d7d7ff 238.5px,#c4c4ff 242.5px,#9898ff 245.5px,#7a7afd 246.5px,#4f4ff1 247.5px,#2424d0 248.5px,#0b0b9b 249.5px,#02026c 250.5px,#000054 251.5px,#00004c 260.5px,#000053 273.5px,#00009b 277.5px,#000097 279.5px,#000054 283.5px,#00004c 297.5px,#00004c 322.5px)"></i><i style="background:linear-gradient(90deg,#eef 0.5px,#d1d1ff 6.5px,#4242ff 18.5px,#3a3aff 20.5px,#5d5dff 23.5px,#d3d3ff 29.5px,#f6f6ff 33.5px,#fefeff 43.5px,#e2e2ff 51.5px,#5e5eff 63.5px,#5454ff 66.5px,#7474ff 70.5px,#ddf 78.5px,#f7f7ff 85.5px,#ececff 95.5px,#d2d2ff 99.5px,#4d4dff 107.5px,#2626ff 111.5px,#2f2fff 114.5px,#6a6aff 118.5px,#ccf 123.5px,#eaeaff 127.5px,#f1f1ff 135.5px,#e0e0ff 139.5px,#b0b0ff 142.5px,#1717fa 148.5px,#0404e9 150.5px,#1212f4 152.5px,#4a4afe 154.5px,#b5b5ff 157.5px,#dcdcff 159.5px,#ebebff 163.5px,#dbdbff 169.5px,#bfbfff 171.5px,#a3a3fe 172.5px,#7979fa 173.5px,#4848e7 174.5px,#1e1ebd 175.5px,#080888 176.5px,#010161 177.5px,#000051 178.5px,#000052 191.5px,#020266 192.5px,#0d0d93 193.5px,#2727cb 194.5px,#5252f0 195.5px,#7c7cfd 196.5px,#adadff 198.5px,#c1c1ff 201.5px,#b8b8ff 204.5px,#9d9dff 206.5px,#5f5ffa 208.5px,#3636e8 209.5px,#1515c1 210.5px,#010165 212.5px,#000052 213.5px,#00004f 220.5px,#000058 221.5px,#010174 222.5px,#0707a4 223.5px,#1a1ad6 224.5px,#3b3bf3 225.5px,#8686ff 227.5px,#b3b3ff 229.5px,#d3d3ff 232.5px,#d7d7ff 239.5px,#bdbdff 243.5px,#9c9cff 245.5px,#7f7ffd 246.5px,#5555f3 247.5px,#2929d4 248.5px,#0d0da0 249.5px,#03036f 250.5px,#005 251.5px,#00004c 256.5px,#00004f 272.5px,#00006c 274.5px,#0000a0 276.5px,#0000b2 278.5px,#00009b 280.5px,#00005a 283.5px,#00004d 286.5px,#00004c 322.5px)"></i><i style="background:linear-gradient(90deg,#efefff 0.5px,#d3d3ff 6.5px,#4545ff 18.5px,#3d3dff 20.5px,#6060ff 23.5px,#d5d5ff 29.5px,#f7f7ff 33.5px,#fcfcff 45.5px,#dcdcff 52.5px,#6161ff 63.5px,#5656ff 66.5px,#7676ff 70.5px,#dfdfff 78.5px,#f8f8ff 85.5px,#ededff 95.5px,#d4d4ff 99.5px,#4343ff 108.5px,#2626ff 112.5px,#3d3dff 115.5px,#9696ff 120.5px,#ceceff 123.5px,#ebebff 127.5px,#f2f2ff 135.5px,#d7d7ff 140.5px,#99f 143.5px,#1a1afc 148.5px,#0505ee 150.5px,#1414f6 152.5px,#4e4eff 154.5px,#b8b8ff 157.5px,#ddf 159.5px,#ececff 163.5px,#ddf 169.5px,#c2c2ff 171.5px,#a7a7fe 172.5px,#7e7efb 173.5px,#4c4ceb 174.5px,#2020c4 175.5px,#09098e 176.5px,#010164 177.5px,#000052 178.5px,#00004d 190.5px,#000053 191.5px,#030369 192.5px,#0f0f98 193.5px,#2c2cce 194.5px,#5757f1 195.5px,#8181fd 196.5px,#b0b0ff 198.5px,#c4c4ff 201.5px,#bbf 204.5px,#a0a0ff 206.5px,#6363fb 208.5px,#3a3aeb 209.5px,#1818c7 210.5px,#060693 211.5px,#010168 212.5px,#000053 213.5px,#00004f 220.5px,#00005a 221.5px,#020278 222.5px,#0909aa 223.5px,#1d1dda 224.5px,#4040f5 225.5px,#8a8aff 227.5px,#b6b6ff 229.5px,#d5d5ff 232.5px,#d9d9ff 239.5px,#c0c0ff 243.5px,#a0a0ff 245.5px,#8484fd 246.5px,#5b5bf5 247.5px,#2f2fd8 248.5px,#1010a5 249.5px,#040473 250.5px,#000057 251.5px,#00004d 254.5px,#000051 272.5px,#00005e 273.5px,#0000b3 276.5px,#0000c2 277.5px,#0000bf 279.5px,#000097 281.5px,#000062 283.5px,#00004e 285.5px,#00004c 322.5px)"></i><i style="background:linear-gradient(90deg,#f0f0ff 0.5px,#d5d5ff 6.5px,#4747ff 18.5px,#4040ff 20.5px,#6363ff 23.5px,#d7d7ff 29.5px,#f8f8ff 33.5px,#fbfbff 46.5px,#d5d5ff 53.5px,#6363ff 63.5px,#5858ff 66.5px,#7979ff 70.5px,#e0e0ff 78.5px,#f9f9ff 85.5px,#eef 95.5px,#d6d6ff 99.5px,#4646ff 108.5px,#2929ff 112.5px,#3f3fff 115.5px,#99f 120.5px,#d0d0ff 123.5px,#ececff 127.5px,#f3f3ff 135.5px,#d9d9ff 140.5px,#9d9dff 143.5px,#1d1dfd 148.5px,#0606f3 150.5px,#1717f9 152.5px,#5252ff 154.5px,#babaff 157.5px,#dfdfff 159.5px,#ededff 163.5px,#dfdfff 169.5px,#c5c5ff 171.5px,#ababff 172.5px,#5151ee 174.5px,#2323ca 175.5px,#0a0a94 176.5px,#020268 177.5px,#000053 178.5px,#00004e 190.5px,#010154 191.5px,#04046c 192.5px,#11119c 193.5px,#3030d2 194.5px,#5c5cf2 195.5px,#8585fd 196.5px,#b3b3ff 198.5px,#c7c7ff 201.5px,#bebeff 204.5px,#a4a4ff 206.5px,#6868fc 208.5px,#3e3eee 209.5px,#1a1acc 210.5px,#070799 211.5px,#01016c 212.5px,#000054 213.5px,#00004d 219.5px,#00005d 221.5px,#02027d 222.5px,#0b0baf 223.5px,#2020dd 224.5px,#4444f6 225.5px,#8d8dff 227.5px,#c7c7ff 230.5px,#dcdcff 234.5px,#d3d3ff 241.5px,#b6b6ff 244.5px,#8989fe 246.5px,#6262f6 247.5px,#3535db 248.5px,#1414aa 249.5px,#050577 250.5px,#010158 251.5px,#00004d 254.5px,#00004e 271.5px,#006 273.5px,#0000c5 276.5px,#0000d5 277.5px,#0000d2 279.5px,#00a 281.5px,#00006c 283.5px,#00004f 285.5px,#00004c 322.5px)"></i><i style="background:linear-gradient(90deg,#f1f1ff 0.5px,#d6d6ff 6.5px,#4a4aff 18.5px,#4242ff 20.5px,#6565ff 23.5px,#d8d8ff 29.5px,#f9f9ff 33.5px,#f9f9ff 47.5px,#d6d6ff 53.5px,#66f 63.5px,#5b5bff 66.5px,#8787ff 71.5px,#d9d9ff 77.5px,#f7f7ff 83.5px,#f5f5ff 93.5px,#d8d8ff 99.5px,#4949ff 108.5px,#2b2bff 112.5px,#4242ff 115.5px,#9c9cff 120.5px,#d2d2ff 123.5px,#f0f0ff 128.5px,#f2f2ff 136.5px,#dbdbff 140.5px,#a0a0ff 143.5px,#2020fe 148.5px,#0808f7 150.5px,#0a0af8 151.5px,#3333fe 153.5px,#bdbdff 157.5px,#e0e0ff 159.5px,#efefff 163.5px,#e0e0ff 169.5px,#c8c8ff 171.5px,#afafff 172.5px,#5656f1 174.5px,#2727cf 175.5px,#0b0b9a 176.5px,#02026b 177.5px,#000054 178.5px,#00004c 188.5px,#010155 191.5px,#05056f 192.5px,#1313a0 193.5px,#3434d4 194.5px,#6161f3 195.5px,#8989fd 196.5px,#b6b6ff 198.5px,#cacaff 201.5px,#c1c1ff 204.5px,#a7a7ff 206.5px,#6d6dfc 208.5px,#4242f1 209.5px,#1c1cd1 210.5px,#08089e 211.5px,#01016f 212.5px,#000056 213.5px,#00004d 218.5px,#000051 220.5px,#000060 221.5px,#030383 222.5px,#0c0cb4 223.5px,#2424e0 224.5px,#4949f7 225.5px,#9191ff 227.5px,#c9c9ff 230.5px,#dedeff 234.5px,#d5d5ff 241.5px,#b9b9ff 244.5px,#8e8efe 246.5px,#6868f7 247.5px,#3b3bdf 248.5px,#1717b0 249.5px,#06067c 250.5px,#01015b 251.5px,#00004d 253.5px,#00004f 271.5px,#000058 272.5px,#00006f 273.5px,#0101d7 276.5px,#0101ea 278.5px,#0000d5 280.5px,#00009c 282.5px,#00005f 284.5px,#00004d 286.5px,#00004c 322.5px)"></i><i style="background:linear-gradient(90deg,#f2f2ff 0.5px,#d8d8ff 6.5px,#4d4dff 18.5px,#4545ff 20.5px,#6868ff 23.5px,#dadaff 29.5px,#fafaff 33.5px,#fafaff 47.5px,#d8d8ff 53.5px,#6868ff 63.5px,#5d5dff 66.5px,#8a8aff 71.5px,#dbdbff 77.5px,#f9f9ff 84.5px,#f4f4ff 94.5px,#dadaff 99.5px,#4c4cff 108.5px,#2e2eff 112.5px,#4545ff 115.5px,#9f9fff 120.5px,#d4d4ff 123.5px,#f2f2ff 128.5px,#f3f3ff 136.5px,#dcdcff 140.5px,#a3a3ff 143.5px,#2323fe 148.5px,#0909fb 150.5px,#0c0cfb 151.5px,#3737fe 153.5px,#c0c0ff 157.5px,#e2e2ff 159.5px,#efefff 164.5px,#dadaff 170.5px,#b3b3ff 172.5px,#8d8dfd 173.5px,#5c5cf3 174.5px,#2b2bd3 175.5px,#0e0e9f 176.5px,#03036e 177.5px,#005 178.5px,#00004c 184.5px,#00004e 190.5px,#010156 191.5px,#050572 192.5px,#1616a4 193.5px,#3939d7 194.5px,#6666f4 195.5px,#8e8efd 196.5px,#babaff 198.5px,#cdcdff 201.5px,#c4c4ff 204.5px,#ababff 206.5px,#7171fd 208.5px,#4646f3 209.5px,#1f1fd6 210.5px,#0909a3 211.5px,#020273 212.5px,#000057 213.5px,#00004d 216.5px,#000052 220.5px,#000063 221.5px,#030388 222.5px,#0e0eba 223.5px,#2828e3 224.5px,#4d4df8 225.5px,#9595ff 227.5px,#ccf 230.5px,#dfdfff 234.5px,#d7d7ff 241.5px,#bcbcff 244.5px,#9393fe 246.5px,#6e6ef8 247.5px,#4040e3 248.5px,#1a1ab7 249.5px,#070782 250.5px,#01015e 251.5px,#00004d 253.5px,#000050 271.5px,#00005d 272.5px,#00007a 273.5px,#0101ca 275.5px,#0202e6 276.5px,#0303f6 278.5px,#0202e5 280.5px,#0000ae 282.5px,#000067 284.5px,#00004e 286.5px,#00004c 322.5px)"></i><i style="background:linear-gradient(90deg,#f3f3ff 0.5px,#dadaff 6.5px,#4f4fff 18.5px,#4848ff 20.5px,#6b6bff 23.5px,#dcdcff 29.5px,#fbfbff 33.5px,#fbfbff 47.5px,#dadaff 53.5px,#6a6aff 63.5px,#5f5fff 66.5px,#8c8cff 71.5px,#dcdcff 77.5px,#fbfbff 84.5px,#f5f5ff 94.5px,#dbdbff 99.5px,#9d9dff 103.5px,#4e4eff 108.5px,#3030ff 112.5px,#4848ff 115.5px,#a2a2ff 120.5px,#d6d6ff 123.5px,#f3f3ff 128.5px,#f4f4ff 136.5px,#dedeff 140.5px,#a6a6ff 143.5px,#2626ff 148.5px,#0c0cfe 150.5px,#0f0ffe 151.5px,#3a3aff 153.5px,#c2c2ff 157.5px,#e3e3ff 159.5px,#f1f1ff 164.5px,#dcdcff 170.5px,#b7b7ff 172.5px,#9393fd 173.5px,#6262f4 174.5px,#3131d6 175.5px,#1010a3 176.5px,#030371 177.5px,#000056 178.5px,#00004c 182.5px,#00004e 190.5px,#010157 191.5px,#060675 192.5px,#1818a9 193.5px,#3d3dda 194.5px,#6b6bf6 195.5px,#9292fe 196.5px,#bdbdff 198.5px,#d0d0ff 201.5px,#c7c7ff 204.5px,#aeaeff 206.5px,#7676fd 208.5px,#4b4bf5 209.5px,#2222d9 210.5px,#0b0ba9 211.5px,#020277 212.5px,#000059 213.5px,#00004d 215.5px,#000053 220.5px,#010166 221.5px,#1010bf 223.5px,#2b2be6 224.5px,#5252f9 225.5px,#9898ff 227.5px,#ceceff 230.5px,#e1e1ff 235.5px,#d3d3ff 242.5px,#afafff 245.5px,#9797fe 246.5px,#7373fa 247.5px,#4545e7 248.5px,#1d1dbe 249.5px,#080889 250.5px,#010162 251.5px,#000051 252.5px,#000052 271.5px,#000063 272.5px,#0202d9 275.5px,#0404f0 276.5px,#0707fc 278.5px,#0404f1 280.5px,#0202de 281.5px,#000071 284.5px,#000059 285.5px,#00004d 288.5px,#00004c 322.5px)"></i><i style="background:linear-gradient(90deg,#f3f3ff 0.5px,#d3d3ff 7.5px,#5252ff 18.5px,#4b4bff 20.5px,#6e6eff 23.5px,#dedeff 29.5px,#fcfcff 33.5px,#f9f9ff 48.5px,#d2d2ff 54.5px,#6d6dff 63.5px,#6262ff 66.5px,#8f8fff 71.5px,#dedeff 77.5px,#fcfcff 84.5px,#f6f6ff 94.5px,#ddf 99.5px,#a0a0ff 103.5px,#5151ff 108.5px,#33f 112.5px,#4a4aff 115.5px,#d8d8ff 123.5px,#f6f6ff 129.5px,#f2f2ff 137.5px,#d3d3ff 141.5px,#7373ff 145.5px,#2a2aff 148.5px,#0f0fff 150.5px,#1212ff 151.5px,#3e3eff 153.5px,#c5c5ff 157.5px,#e5e5ff 159.5px,#f2f2ff 164.5px,#ddf 170.5px,#bbf 172.5px,#9898fd 173.5px,#6868f5 174.5px,#3636d9 175.5px,#1313a7 176.5px,#040474 177.5px,#010157 178.5px,#00004d 181.5px,#00004e 190.5px,#010159 191.5px,#070778 192.5px,#1a1aad 193.5px,#4141dd 194.5px,#7070f7 195.5px,#9696fe 196.5px,#c0c0ff 198.5px,#d2d2ff 201.5px,#cacaff 204.5px,#b1b1ff 206.5px,#7a7afe 208.5px,#4f4ff6 209.5px,#2626dc 210.5px,#0d0dae 211.5px,#03037c 212.5px,#00005c 213.5px,#00004d 215.5px,#000054 220.5px,#010169 221.5px,#1212c4 223.5px,#2f2fe9 224.5px,#5656fa 225.5px,#9c9cff 227.5px,#d0d0ff 230.5px,#e3e3ff 235.5px,#d5d5ff 242.5px,#b2b2ff 245.5px,#7878fb 247.5px,#4a4aeb 248.5px,#2020c5 249.5px,#090991 250.5px,#010166 251.5px,#000053 252.5px,#00004e 270.5px,#005 271.5px,#00006a 272.5px,#0404e4 275.5px,#0808f6 276.5px,#0a0afd 279.5px,#0404ea 281.5px,#0202cf 282.5px,#00007e 284.5px,#00005f 285.5px,#00004d 287.5px,#00004c 322.5px)"></i><i style="background:linear-gradient(90deg,#f4f4ff 0.5px,#d4d4ff 7.5px,#55f 18.5px,#4d4dff 20.5px,#7171ff 23.5px,#dfdfff 29.5px,#fdfdff 33.5px,#fafaff 48.5px,#d3d3ff 54.5px,#6f6fff 63.5px,#6464ff 66.5px,#9191ff 71.5px,#dfdfff 77.5px,#fcfcff 84.5px,#f4f4ff 95.5px,#d5d5ff 100.5px,#5454ff 108.5px,#3636ff 112.5px,#4d4dff 115.5px,#dadaff 123.5px,#f7f7ff 129.5px,#f3f3ff 137.5px,#d5d5ff 141.5px,#9292ff 144.5px,#2d2dff 148.5px,#1212ff 150.5px,#1515ff 151.5px,#4141ff 153.5px,#c7c7ff 157.5px,#e6e6ff 159.5px,#f3f3ff 164.5px,#dfdfff 170.5px,#bfbfff 172.5px,#9d9dfe 173.5px,#6e6ef6 174.5px,#3b3bdc 175.5px,#1616ab 176.5px,#050577 177.5px,#010158 178.5px,#00004d 181.5px,#00004f 190.5px,#01015a 191.5px,#07077b 192.5px,#1d1db1 193.5px,#4545e0 194.5px,#7474f8 195.5px,#9a9afe 196.5px,#c3c3ff 198.5px,#d5d5ff 201.5px,#cdcdff 204.5px,#b4b4ff 206.5px,#7e7efe 208.5px,#5454f7 209.5px,#2b2bdf 210.5px,#0f0fb3 211.5px,#030381 212.5px,#00005f 213.5px,#00004d 215.5px,#005 220.5px,#01016c 221.5px,#1414ca 223.5px,#3232ec 224.5px,#8181fe 226.5px,#b6b6ff 228.5px,#dadaff 231.5px,#e3e3ff 238.5px,#d0d0ff 243.5px,#9f9fff 246.5px,#7d7dfc 247.5px,#4f4fef 248.5px,#2323cc 249.5px,#0a0a98 250.5px,#02026a 251.5px,#000054 252.5px,#00004c 264.5px,#00004f 270.5px,#000058 271.5px,#000071 272.5px,#0303cc 274.5px,#0707ec 275.5px,#1010fe 277.5px,#0c0cfc 280.5px,#0707f3 281.5px,#0303dd 282.5px,#006 285.5px,#000054 286.5px,#00004c 301.5px,#00004c 322.5px)"></i><i style="background:linear-gradient(90deg,#f5f5ff 0.5px,#d6d6ff 7.5px,#5858ff 18.5px,#5050ff 20.5px,#7373ff 23.5px,#e1e1ff 29.5px,#fdfdff 33.5px,#fbfbff 48.5px,#d5d5ff 54.5px,#7171ff 63.5px,#66f 66.5px,#9393ff 71.5px,#e1e1ff 77.5px,#fdfdff 84.5px,#f5f5ff 95.5px,#d7d7ff 100.5px,#5656ff 108.5px,#3838ff 112.5px,#5050ff 115.5px,#dcdcff 123.5px,#f8f8ff 129.5px,#f4f4ff 137.5px,#d7d7ff 141.5px,#9595ff 144.5px,#3030ff 148.5px,#1515ff 150.5px,#1818ff 151.5px,#4545ff 153.5px,#cacaff 157.5px,#e8e8ff 159.5px,#f4f4ff 164.5px,#e1e1ff 170.5px,#c2c2ff 172.5px,#a2a2fe 173.5px,#7474f7 174.5px,#4040df 175.5px,#1919b0 176.5px,#06067b 177.5px,#01015a 178.5px,#00004d 180.5px,#00004f 190.5px,#01015b 191.5px,#08087f 192.5px,#1f1fb6 193.5px,#4949e4 194.5px,#7979f9 195.5px,#9e9efe 196.5px,#c6c6ff 198.5px,#d7d7ff 201.5px,#cfcfff 204.5px,#b8b8ff 206.5px,#8383fe 208.5px,#5959f8 209.5px,#2f2fe2 210.5px,#1111b8 211.5px,#040486 212.5px,#010162 213.5px,#00004d 215.5px,#00004f 219.5px,#000057 220.5px,#010171 221.5px,#1616cf 223.5px,#3636ef 224.5px,#8585ff 226.5px,#b9b9ff 228.5px,#dcdcff 231.5px,#e4e4ff 238.5px,#d2d2ff 243.5px,#a3a3ff 246.5px,#8282fd 247.5px,#5555f2 248.5px,#2828d2 249.5px,#0c0c9e 250.5px,#02026e 251.5px,#005 252.5px,#00004c 258.5px,#000050 270.5px,#00005c 271.5px,#00007b 272.5px,#0505d6 274.5px,#0b0bf2 275.5px,#1616ff 277.5px,#0b0bf8 281.5px,#0606e7 282.5px,#0202c6 283.5px,#00006f 285.5px,#000057 286.5px,#00004c 290.5px,#00004c 322.5px)"></i><i style="background:linear-gradient(90deg,#f6f6ff 0.5px,#d8d8ff 7.5px,#5a5aff 18.5px,#5353ff 20.5px,#7676ff 23.5px,#e2e2ff 29.5px,#fdfdff 33.5px,#f8f8ff 49.5px,#ccf 55.5px,#7474ff 63.5px,#6969ff 66.5px,#9696ff 71.5px,#e2e2ff 77.5px,#fefeff 84.5px,#f6f6ff 95.5px,#d8d8ff 100.5px,#5959ff 108.5px,#3b3bff 112.5px,#5353ff 115.5px,#d1d1ff 122.5px,#f0f0ff 126.5px,#fafaff 135.5px,#e4e4ff 140.5px,#b2b2ff 143.5px,#3434ff 148.5px,#1919ff 150.5px,#1c1cff 151.5px,#4848ff 153.5px,#ccf 157.5px,#e9e9ff 159.5px,#f5f5ff 164.5px,#e2e2ff 170.5px,#c6c6ff 172.5px,#a7a7fe 173.5px,#7979f8 174.5px,#4545e2 175.5px,#1c1cb5 176.5px,#070780 177.5px,#01015d 178.5px,#00004d 180.5px,#00004f 190.5px,#01015d 191.5px,#090983 192.5px,#2121bb 193.5px,#4d4de7 194.5px,#7d7dfa 195.5px,#a2a2fe 196.5px,#c9c9ff 198.5px,#d8d8ff 202.5px,#c9c9ff 205.5px,#a6a6ff 207.5px,#5e5ef9 209.5px,#3333e5 210.5px,#1313bd 211.5px,#010164 213.5px,#000052 214.5px,#00004f 219.5px,#00005a 220.5px,#010176 221.5px,#0606a5 222.5px,#1818d5 223.5px,#3a3af2 224.5px,#8989ff 226.5px,#bcbcff 228.5px,#ddf 231.5px,#e4e4ff 239.5px,#d4d4ff 243.5px,#a7a7ff 246.5px,#8888fd 247.5px,#5c5cf4 248.5px,#2e2ed6 249.5px,#0f0fa3 250.5px,#030371 251.5px,#000056 252.5px,#00004c 256.5px,#000051 270.5px,#000061 271.5px,#010185 272.5px,#0808df 274.5px,#1010f6 275.5px,#1c1cff 278.5px,#1010fb 281.5px,#0909ef 282.5px,#0404d3 283.5px,#00007a 285.5px,#00005c 286.5px,#00004d 288.5px,#00004c 322.5px)"></i><i style="background:linear-gradient(90deg,#f7f7ff 0.5px,#d9d9ff 7.5px,#5d5dff 18.5px,#5656ff 20.5px,#7979ff 23.5px,#e4e4ff 29.5px,#fefeff 33.5px,#f9f9ff 49.5px,#ceceff 55.5px,#7676ff 63.5px,#6b6bff 66.5px,#9898ff 71.5px,#e4e4ff 77.5px,#fefeff 84.5px,#f7f7ff 95.5px,#dadaff 100.5px,#5c5cff 108.5px,#3d3dff 112.5px,#55f 115.5px,#d3d3ff 122.5px,#f5f5ff 127.5px,#f9f9ff 136.5px,#dbdbff 141.5px,#9c9cff 144.5px,#3737ff 148.5px,#1c1cff 150.5px,#1f1fff 151.5px,#4c4cff 153.5px,#b4b4ff 156.5px,#e0e0ff 158.5px,#f6f6ff 162.5px,#eaeaff 169.5px,#dadaff 171.5px,#c9c9ff 172.5px,#ababfe 173.5px,#7f7ff9 174.5px,#4a4ae6 175.5px,#1e1ebb 176.5px,#080886 177.5px,#010160 178.5px,#00004d 180.5px,#000050 190.5px,#02025f 191.5px,#0a0a88 192.5px,#2323c0 193.5px,#5050ea 194.5px,#8181fb 195.5px,#a6a6ff 196.5px,#ccf 198.5px,#dadaff 202.5px,#ccf 205.5px,#aaf 207.5px,#6363f9 209.5px,#3737e8 210.5px,#1515c2 211.5px,#010167 213.5px,#000053 214.5px,#000050 219.5px,#00005d 220.5px,#01017c 221.5px,#0707ab 222.5px,#1a1ada 223.5px,#3e3ef4 224.5px,#8d8dff 226.5px,#bfbfff 228.5px,#dfdfff 231.5px,#e5e5ff 239.5px,#cdcdff 244.5px,#ababff 246.5px,#8e8efe 247.5px,#6363f5 248.5px,#3434da 249.5px,#1212a8 250.5px,#040475 251.5px,#010158 252.5px,#00004d 255.5px,#000053 270.5px,#000067 271.5px,#0b0be6 274.5px,#1414f9 275.5px,#22f 278.5px,#0e0ef5 282.5px,#0606df 283.5px,#000062 286.5px,#000052 287.5px,#00004c 322.5px)"></i><i style="background:linear-gradient(90deg,#f8f8ff 0.5px,#dbdbff 7.5px,#6060ff 18.5px,#5858ff 20.5px,#7b7bff 23.5px,#e5e5ff 29.5px,#fefeff 33.5px,#fafaff 49.5px,#d0d0ff 55.5px,#7979ff 63.5px,#6e6eff 66.5px,#9a9aff 71.5px,#e5e5ff 77.5px,#fff 84.5px,#f9f9ff 95.5px,#dcdcff 100.5px,#5f5fff 108.5px,#4040ff 112.5px,#5858ff 115.5px,#d5d5ff 122.5px,#f6f6ff 127.5px,#fafaff 136.5px,#ddf 141.5px,#9f9fff 144.5px,#3a3aff 148.5px,#2020ff 150.5px,#2323ff 151.5px,#5050ff 153.5px,#b7b7ff 156.5px,#e2e2ff 158.5px,#f7f7ff 162.5px,#ececff 169.5px,#ccf 172.5px,#afaffe 173.5px,#8484fa 174.5px,#4f4fe9 175.5px,#2121c2 176.5px,#09098d 177.5px,#010164 178.5px,#000052 179.5px,#000051 190.5px,#020262 191.5px,#0b0b8d 192.5px,#2626c6 193.5px,#5555ed 194.5px,#8686fc 195.5px,#aaf 196.5px,#cfcfff 198.5px,#dbdbff 202.5px,#ceceff 205.5px,#adadff 207.5px,#6868fa 209.5px,#3b3beb 210.5px,#1818c7 211.5px,#060695 212.5px,#01016b 213.5px,#005 214.5px,#00004d 218.5px,#00005f 220.5px,#020281 221.5px,#0909b1 222.5px,#1e1edd 223.5px,#4242f6 224.5px,#9191ff 226.5px,#c2c2ff 228.5px,#e1e1ff 231.5px,#e7e7ff 239.5px,#d0d0ff 244.5px,#afafff 246.5px,#9393fe 247.5px,#6a6af6 248.5px,#3a3add 249.5px,#1616ae 250.5px,#05057a 251.5px,#01015a 252.5px,#00004d 254.5px,#00004e 269.5px,#005 270.5px,#00006c 271.5px,#0606ca 273.5px,#0f0fec 274.5px,#2222fe 276.5px,#22f 280.5px,#1212f9 282.5px,#0a0ae7 283.5px,#0404c3 284.5px,#000069 286.5px,#000054 287.5px,#00004c 296.5px,#00004c 322.5px)"></i><i style="background:linear-gradient(90deg,#f9f9ff 0.5px,#dcdcff 7.5px,#6262ff 18.5px,#5b5bff 20.5px,#7e7eff 23.5px,#e7e7ff 29.5px,#fefeff 33.5px,#fbfbff 49.5px,#d2d2ff 55.5px,#7b7bff 63.5px,#7070ff 66.5px,#9d9dff 71.5px,#e7e7ff 77.5px,#fefeff 83.5px,#fafaff 95.5px,#dedeff 100.5px,#8e8eff 105.5px,#4c4cff 110.5px,#4646ff 113.5px,#7b7bff 117.5px,#d7d7ff 122.5px,#f7f7ff 127.5px,#fbfbff 136.5px,#dedeff 141.5px,#a2a2ff 144.5px,#3e3eff 148.5px,#2323ff 150.5px,#2626ff 151.5px,#5353ff 153.5px,#b9b9ff 156.5px,#e3e3ff 158.5px,#f9f9ff 162.5px,#ededff 169.5px,#cfcfff 172.5px,#b4b4ff 173.5px,#5454ed 175.5px,#2424c8 176.5px,#0a0a93 177.5px,#010167 178.5px,#000053 179.5px,#00004d 189.5px,#000052 190.5px,#020266 191.5px,#0d0d92 192.5px,#2a2aca 193.5px,#5a5aef 194.5px,#8a8afc 195.5px,#aeaeff 196.5px,#d1d1ff 198.5px,#ddf 202.5px,#d1d1ff 205.5px,#b1b1ff 207.5px,#6d6dfb 209.5px,#3f3fee 210.5px,#1a1acc 211.5px,#07079b 212.5px,#01016f 213.5px,#000056 214.5px,#00004d 218.5px,#000062 220.5px,#020286 221.5px,#0b0bb6 222.5px,#2121e1 223.5px,#4747f7 224.5px,#9595ff 226.5px,#c5c5ff 228.5px,#e2e2ff 231.5px,#e8e8ff 239.5px,#d2d2ff 244.5px,#b3b3ff 246.5px,#9898fe 247.5px,#7070f8 248.5px,#4040e1 249.5px,#1919b4 250.5px,#060681 251.5px,#01015e 252.5px,#00004d 254.5px,#00004e 269.5px,#000058 270.5px,#000073 271.5px,#0909d3 273.5px,#1313f1 274.5px,#2727ff 276.5px,#2727ff 280.5px,#1717fb 282.5px,#0e0eee 283.5px,#0606cf 284.5px,#000071 286.5px,#000057 287.5px,#00004d 290.5px,#00004c 322.5px)"></i><i style="background:linear-gradient(90deg,#fafaff 0.5px,#dedeff 7.5px,#6565ff 18.5px,#5e5eff 20.5px,#8181ff 23.5px,#e8e8ff 29.5px,#fefeff 33.5px,#f8f8ff 50.5px,#c9c9ff 56.5px,#7d7dff 63.5px,#7272ff 66.5px,#9f9fff 71.5px,#e8e8ff 77.5px,#fff 83.5px,#f7f7ff 96.5px,#d5d5ff 101.5px,#6464ff 108.5px,#4747ff 111.5px,#5252ff 114.5px,#9191ff 118.5px,#d9d9ff 122.5px,#f8f8ff 127.5px,#f9f9ff 137.5px,#e0e0ff 141.5px,#a5a5ff 144.5px,#4141ff 148.5px,#2626ff 150.5px,#2a2aff 151.5px,#5757ff 153.5px,#bcbcff 156.5px,#e5e5ff 158.5px,#fafaff 162.5px,#eef 169.5px,#d1d1ff 172.5px,#b8b8ff 173.5px,#8e8efc 174.5px,#5959f0 175.5px,#2727ce 176.5px,#0b0b99 177.5px,#02026b 178.5px,#000054 179.5px,#00004d 188.5px,#000053 190.5px,#030369 191.5px,#0f0f97 192.5px,#2e2ece 193.5px,#5f5ff1 194.5px,#8f8ffd 195.5px,#b1b1ff 196.5px,#d3d3ff 198.5px,#ddf 203.5px,#c7c7ff 206.5px,#99f 208.5px,#4343f0 210.5px,#1c1cd2 211.5px,#0707a2 212.5px,#010174 213.5px,#000059 214.5px,#00004d 217.5px,#000053 219.5px,#000065 220.5px,#0d0dbb 222.5px,#2525e3 223.5px,#4c4cf8 224.5px,#99f 226.5px,#c8c8ff 228.5px,#e4e4ff 231.5px,#eaeaff 239.5px,#d4d4ff 244.5px,#b6b6ff 246.5px,#9c9cfe 247.5px,#7575f9 248.5px,#4545e5 249.5px,#1c1cbb 250.5px,#070787 251.5px,#010161 252.5px,#000051 253.5px,#00004f 269.5px,#00005b 270.5px,#01017b 271.5px,#0b0bdb 273.5px,#1818f5 274.5px,#3232ff 277.5px,#2626ff 281.5px,#1212f4 283.5px,#0808d9 284.5px,#01017b 286.5px,#00005c 287.5px,#00004d 289.5px,#00004c 322.5px)"></i><i style="background:linear-gradient(90deg,#fbfbff 0.5px,#dfdfff 7.5px,#6868ff 18.5px,#6060ff 20.5px,#8383ff 23.5px,#dedeff 28.5px,#fdfdff 32.5px,#f9f9ff 50.5px,#cbcbff 56.5px,#7f7fff 63.5px,#7575ff 66.5px,#a1a1ff 71.5px,#e1e1ff 76.5px,#fefeff 82.5px,#f8f8ff 96.5px,#d7d7ff 101.5px,#6767ff 108.5px,#4a4aff 111.5px,#5454ff 114.5px,#9494ff 118.5px,#dbdbff 122.5px,#fafaff 127.5px,#fafaff 137.5px,#e2e2ff 141.5px,#a8a8ff 144.5px,#4545ff 148.5px,#2a2aff 150.5px,#2d2dff 151.5px,#5a5aff 153.5px,#bfbfff 156.5px,#e6e6ff 158.5px,#fbfbff 162.5px,#f0f0ff 169.5px,#d4d4ff 172.5px,#bcbcff 173.5px,#9494fd 174.5px,#5f5ff2 175.5px,#2c2cd2 176.5px,#0d0d9e 177.5px,#02026e 178.5px,#005 179.5px,#00004c 185.5px,#000054 190.5px,#04046b 191.5px,#12129b 192.5px,#3333d1 193.5px,#6565f2 194.5px,#9494fd 195.5px,#b5b5ff 196.5px,#d5d5ff 198.5px,#dedeff 203.5px,#cacaff 206.5px,#9d9dff 208.5px,#4747f3 210.5px,#1e1ed7 211.5px,#0808a8 212.5px,#010179 213.5px,#00005b 214.5px,#00004d 216.5px,#005 219.5px,#000069 220.5px,#0f0fc0 222.5px,#2929e6 223.5px,#5050f9 224.5px,#9d9dff 226.5px,#cacaff 228.5px,#e5e5ff 231.5px,#ebebff 239.5px,#d7d7ff 244.5px,#babaff 246.5px,#a0a0fe 247.5px,#7a7afa 248.5px,#4a4ae9 249.5px,#1f1fc2 250.5px,#08088e 251.5px,#010165 252.5px,#000052 253.5px,#000051 269.5px,#000060 270.5px,#010183 271.5px,#0f0fe1 273.5px,#1d1df7 274.5px,#3737ff 277.5px,#2c2cff 281.5px,#1717f7 283.5px,#0c0ce2 284.5px,#010186 286.5px,#000061 287.5px,#00004d 289.5px,#00004c 322.5px)"></i><i style="background:linear-gradient(90deg,#fcfcff 0.5px,#d9d9ff 8.5px,#6a6aff 18.5px,#6363ff 20.5px,#8686ff 23.5px,#dfdfff 28.5px,#fbfbff 31.5px,#fafaff 50.5px,#cdcdff 56.5px,#8282ff 63.5px,#77f 66.5px,#a4a4ff 71.5px,#e3e3ff 76.5px,#fefeff 82.5px,#f9f9ff 96.5px,#d9d9ff 101.5px,#5e5eff 109.5px,#4a4aff 112.5px,#6363ff 115.5px,#ddf 122.5px,#fdfdff 128.5px,#f8f8ff 138.5px,#d6d6ff 142.5px,#3636ff 149.5px,#2d2dff 150.5px,#3131ff 151.5px,#5e5eff 153.5px,#c1c1ff 156.5px,#e8e8ff 158.5px,#fcfcff 162.5px,#f1f1ff 169.5px,#d7d7ff 172.5px,#c0c0ff 173.5px,#9a9afd 174.5px,#6565f4 175.5px,#3131d6 176.5px,#1010a2 177.5px,#030371 178.5px,#000056 179.5px,#00004c 183.5px,#00004e 189.5px,#010155 190.5px,#05056e 191.5px,#14149f 192.5px,#3838d3 193.5px,#6a6af3 194.5px,#9999fd 195.5px,#b9b9ff 196.5px,#d7d7ff 198.5px,#e0e0ff 203.5px,#cdcdff 206.5px,#a1a1ff 208.5px,#4c4cf5 210.5px,#2222db 211.5px,#0a0aae 212.5px,#02027e 213.5px,#00005e 214.5px,#00004d 216.5px,#000057 219.5px,#01016e 220.5px,#1111c6 222.5px,#2d2de9 223.5px,#7e7efe 225.5px,#babaff 227.5px,#e1e1ff 230.5px,#efefff 237.5px,#d9d9ff 244.5px,#bdbdff 246.5px,#a5a5ff 247.5px,#5050ed 249.5px,#2323c9 250.5px,#090995 251.5px,#010169 252.5px,#000054 253.5px,#00004d 267.5px,#000052 269.5px,#000065 270.5px,#1313e6 273.5px,#2222f9 274.5px,#3d3dff 277.5px,#3232ff 281.5px,#1c1cfa 283.5px,#0f0fe9 284.5px,#0606c4 285.5px,#000068 287.5px,#000053 288.5px,#00004c 306.5px,#00004c 322.5px)"></i><i style="background:linear-gradient(90deg,#fdfdff 0.5px,#dadaff 8.5px,#6d6dff 18.5px,#66f 20.5px,#88f 23.5px,#e1e1ff 28.5px,#fbfbff 31.5px,#fbfbff 50.5px,#cfcfff 56.5px,#8484ff 63.5px,#7979ff 66.5px,#a6a6ff 71.5px,#e4e4ff 76.5px,#fff 82.5px,#fafaff 96.5px,#dbdbff 101.5px,#6060ff 109.5px,#4d4dff 112.5px,#66f 115.5px,#dfdfff 122.5px,#fefeff 128.5px,#f9f9ff 138.5px,#d8d8ff 142.5px,#3a3aff 149.5px,#3131ff 150.5px,#3434ff 151.5px,#6161ff 153.5px,#c4c4ff 156.5px,#e9e9ff 158.5px,#fdfdff 162.5px,#f2f2ff 169.5px,#d9d9ff 172.5px,#c4c4ff 173.5px,#9f9ffd 174.5px,#6c6cf5 175.5px,#3737d9 176.5px,#1313a6 177.5px,#040474 178.5px,#010157 179.5px,#00004d 182.5px,#00004e 189.5px,#010156 190.5px,#050571 191.5px,#1717a3 192.5px,#3d3dd6 193.5px,#7070f4 194.5px,#9d9dfd 195.5px,#bcbcff 196.5px,#d9d9ff 198.5px,#e1e1ff 203.5px,#cfcfff 206.5px,#a4a4ff 208.5px,#5050f6 210.5px,#2525df 211.5px,#0c0cb3 212.5px,#020283 213.5px,#000061 214.5px,#00004d 216.5px,#00004f 218.5px,#00005a 219.5px,#010173 220.5px,#1313cb 222.5px,#3131ec 223.5px,#8383fe 225.5px,#bebeff 227.5px,#e3e3ff 230.5px,#f0f0ff 237.5px,#dbdbff 244.5px,#c1c1ff 246.5px,#a9a9ff 247.5px,#8585fc 248.5px,#5555f0 249.5px,#2727d0 250.5px,#0b0b9c 251.5px,#02026d 252.5px,#005 253.5px,#00004c 260.5px,#000054 269.5px,#00006a 270.5px,#0909c8 272.5px,#1717eb 273.5px,#3535fe 275.5px,#4343ff 278.5px,#2e2eff 282.5px,#1414ef 284.5px,#0909cf 285.5px,#00006e 287.5px,#000056 288.5px,#00004c 293.5px,#00004c 322.5px)"></i><i style="background:linear-gradient(90deg,#fefeff 0.5px,#dcdcff 8.5px,#7070ff 18.5px,#6969ff 20.5px,#8b8bff 23.5px,#e3e3ff 28.5px,#fcfcff 31.5px,#fcfcff 50.5px,#d1d1ff 56.5px,#8686ff 63.5px,#7c7cff 66.5px,#a9a9ff 71.5px,#e6e6ff 76.5px,#fefeff 81.5px,#f8f8ff 97.5px,#d1d1ff 102.5px,#6363ff 109.5px,#4f4fff 112.5px,#6969ff 115.5px,#e0e0ff 122.5px,#fcfcff 127.5px,#fafaff 138.5px,#dadaff 142.5px,#7e7eff 146.5px,#3d3dff 149.5px,#3434ff 150.5px,#3737ff 151.5px,#6565ff 153.5px,#c7c7ff 156.5px,#ebebff 158.5px,#fefeff 162.5px,#f4f4ff 169.5px,#dcdcff 172.5px,#c7c7ff 173.5px,#a5a5fe 174.5px,#7272f6 175.5px,#3c3cdc 176.5px,#1616ab 177.5px,#050578 178.5px,#010159 179.5px,#00004d 181.5px,#00004e 189.5px,#010157 190.5px,#060674 191.5px,#1919a7 192.5px,#4141d9 193.5px,#7575f5 194.5px,#a2a2fe 195.5px,#c0c0ff 196.5px,#dbdbff 198.5px,#e2e2ff 203.5px,#d2d2ff 206.5px,#a8a8ff 208.5px,#5656f7 210.5px,#2a2ae2 211.5px,#0e0eb8 212.5px,#030388 213.5px,#000064 214.5px,#000052 215.5px,#000050 218.5px,#00005c 219.5px,#010178 220.5px,#1515d1 222.5px,#3434ef 223.5px,#8787ff 225.5px,#c1c1ff 227.5px,#e5e5ff 230.5px,#f1f1ff 237.5px,#ddf 244.5px,#c4c4ff 246.5px,#8b8bfd 248.5px,#5c5cf3 249.5px,#2c2cd5 250.5px,#0d0da2 251.5px,#030371 252.5px,#000056 253.5px,#00004c 257.5px,#00004e 268.5px,#005 269.5px,#01016f 270.5px,#0c0cd0 272.5px,#1b1bf0 273.5px,#3a3aff 275.5px,#4949ff 278.5px,#3434ff 282.5px,#1919f4 284.5px,#0c0cd8 285.5px,#010176 287.5px,#000059 288.5px,#00004d 291.5px,#00004c 322.5px)"></i><i style="background:linear-gradient(90deg,#fefeff 0.5px,#dedeff 8.5px,#7272ff 18.5px,#6b6bff 20.5px,#8d8dff 23.5px,#e4e4ff 28.5px,#fcfcff 31.5px,#f9f9ff 51.5px,#c7c7ff 57.5px,#8282ff 64.5px,#8282ff 67.5px,#c6c6ff 73.5px,#f5f5ff 78.5px,#fff 86.5px,#f9f9ff 97.5px,#d3d3ff 102.5px,#66f 109.5px,#5252ff 112.5px,#6b6bff 115.5px,#d6d6ff 121.5px,#fafaff 126.5px,#fbfbff 138.5px,#dcdcff 142.5px,#9b9bff 145.5px,#4141ff 149.5px,#3737ff 150.5px,#3b3bff 151.5px,#6868ff 153.5px,#c9c9ff 156.5px,#ececff 158.5px,#fefeff 162.5px,#f5f5ff 169.5px,#dedeff 172.5px,#cbcbff 173.5px,#a9a9fe 174.5px,#7878f7 175.5px,#4242df 176.5px,#1919b0 177.5px,#06067d 178.5px,#01015b 179.5px,#00004d 181.5px,#00004e 189.5px,#010158 190.5px,#070777 191.5px,#1c1cab 192.5px,#4646dc 193.5px,#7a7af6 194.5px,#a6a6fe 195.5px,#c3c3ff 196.5px,#ddf 198.5px,#e1e1ff 204.5px,#c5c5ff 207.5px,#8989fe 209.5px,#5b5bf8 210.5px,#2e2ee4 211.5px,#1010bd 212.5px,#000067 214.5px,#000054 215.5px,#000051 218.5px,#00005f 219.5px,#01017e 220.5px,#1717d6 222.5px,#3838f2 223.5px,#8b8bff 225.5px,#c4c4ff 227.5px,#e6e6ff 230.5px,#f3f3ff 237.5px,#dfdfff 244.5px,#c7c7ff 246.5px,#9191fd 248.5px,#6363f5 249.5px,#3232d9 250.5px,#1111a8 251.5px,#030375 252.5px,#000058 253.5px,#00004d 256.5px,#00004e 268.5px,#000058 269.5px,#010174 270.5px,#0f0fd7 272.5px,#2020f3 273.5px,#4949ff 276.5px,#4949ff 280.5px,#2d2dfe 283.5px,#1e1ef7 284.5px,#0f0fdf 285.5px,#01017f 287.5px,#00005d 288.5px,#00004d 290.5px,#00004c 322.5px)"></i><i style="background:linear-gradient(90deg,#fefeff 0.5px,#dfdfff 8.5px,#7575ff 18.5px,#6e6eff 20.5px,#9090ff 23.5px,#e6e6ff 28.5px,#fdfdff 31.5px,#fafaff 51.5px,#c9c9ff 57.5px,#8484ff 64.5px,#8585ff 67.5px,#c8c8ff 73.5px,#f6f6ff 78.5px,#fff 88.5px,#fafaff 97.5px,#d5d5ff 102.5px,#6868ff 109.5px,#55f 112.5px,#6e6eff 115.5px,#d8d8ff 121.5px,#fbfbff 126.5px,#fcfcff 138.5px,#dedeff 142.5px,#9f9fff 145.5px,#44f 149.5px,#3b3bff 150.5px,#3e3eff 151.5px,#6c6cff 153.5px,#ccf 156.5px,#eef 158.5px,#fff 162.5px,#f6f6ff 169.5px,#e0e0ff 172.5px,#ceceff 173.5px,#aeaefe 174.5px,#7e7ef8 175.5px,#4747e2 176.5px,#1c1cb6 177.5px,#070782 178.5px,#01015f 179.5px,#00004d 181.5px,#00004e 189.5px,#010159 190.5px,#08087a 191.5px,#1e1eaf 192.5px,#4a4adf 193.5px,#7e7ef7 194.5px,#aaaafe 195.5px,#c6c6ff 196.5px,#dfdfff 198.5px,#e3e3ff 204.5px,#c8c8ff 207.5px,#8d8dfe 209.5px,#6060f9 210.5px,#3333e7 211.5px,#1313c2 212.5px,#01016c 214.5px,#000056 215.5px,#00004e 217.5px,#000063 219.5px,#010184 220.5px,#0707b1 221.5px,#1919db 222.5px,#3c3cf4 223.5px,#9090ff 225.5px,#c6c6ff 227.5px,#e8e8ff 230.5px,#f4f4ff 237.5px,#e0e0ff 244.5px,#cacaff 246.5px,#9797fe 248.5px,#6a6af6 249.5px,#3838dd 250.5px,#1414ae 251.5px,#05057b 252.5px,#01015b 253.5px,#00004d 255.5px,#00004f 268.5px,#00005b 269.5px,#01017b 270.5px,#1313dc 272.5px,#2525f6 273.5px,#4f4fff 276.5px,#4f4fff 280.5px,#3333fe 283.5px,#2323f9 284.5px,#1313e6 285.5px,#000063 288.5px,#000052 289.5px,#00004c 322.5px)"></i><i style="background:linear-gradient(90deg,#fff 0.5px,#e7e7ff 7.5px,#aaf 13.5px,#7272ff 19.5px,#77f 21.5px,#e8e8ff 28.5px,#fdfdff 31.5px,#fbfbff 51.5px,#cbcbff 57.5px,#8686ff 64.5px,#8787ff 67.5px,#cbcbff 73.5px,#f7f7ff 78.5px,#fff 92.5px,#f7f7ff 98.5px,#d7d7ff 102.5px,#6b6bff 109.5px,#5757ff 112.5px,#7171ff 115.5px,#dadaff 121.5px,#fcfcff 126.5px,#f9f9ff 139.5px,#e0e0ff 142.5px,#a2a2ff 145.5px,#4747ff 149.5px,#3e3eff 150.5px,#4242ff 151.5px,#6f6fff 153.5px,#ceceff 156.5px,#efefff 158.5px,#fff 162.5px,#f8f8ff 169.5px,#e2e2ff 172.5px,#d1d1ff 173.5px,#b3b3fe 174.5px,#8484f9 175.5px,#4c4ce6 176.5px,#1f1fbd 177.5px,#080889 178.5px,#010162 179.5px,#000051 180.5px,#00004f 189.5px,#01015b 190.5px,#09097d 191.5px,#2121b3 192.5px,#4e4ee2 193.5px,#8383f8 194.5px,#aeaefe 195.5px,#c9c9ff 196.5px,#e0e0ff 198.5px,#e4e4ff 204.5px,#cacaff 207.5px,#9292fe 209.5px,#3737ea 211.5px,#1515c8 212.5px,#010171 214.5px,#000059 215.5px,#00004e 217.5px,#005 218.5px,#000067 219.5px,#0808b8 221.5px,#1c1ce0 222.5px,#4141f6 223.5px,#9494ff 225.5px,#c9c9ff 227.5px,#e9e9ff 230.5px,#f5f5ff 238.5px,#e2e2ff 244.5px,#cdcdff 246.5px,#9c9cfe 248.5px,#7171f7 249.5px,#3e3ee1 250.5px,#1818b4 251.5px,#060681 252.5px,#01015f 253.5px,#00004d 255.5px,#000051 268.5px,#00005f 269.5px,#020282 270.5px,#1717e1 272.5px,#2a2af8 273.5px,#5454ff 276.5px,#5454ff 280.5px,#3939fe 283.5px,#1818ec 285.5px,#0a0ac8 286.5px,#000069 288.5px,#000054 289.5px,#00004c 303.5px,#00004c 322.5px)"></i><i style="background:linear-gradient(90deg,#fff 0.5px,#e8e8ff 7.5px,#adadff 13.5px,#7474ff 19.5px,#7a7aff 21.5px,#e9e9ff 28.5px,#fefeff 31.5px,#fcfcff 51.5px,#ceceff 57.5px,#88f 64.5px,#8989ff 67.5px,#ececff 76.5px,#fff 81.5px,#f8f8ff 98.5px,#d9d9ff 102.5px,#6e6eff 109.5px,#5a5aff 112.5px,#7474ff 115.5px,#dcdcff 121.5px,#fdfdff 126.5px,#fafaff 139.5px,#e2e2ff 142.5px,#a5a5ff 145.5px,#4b4bff 149.5px,#4141ff 150.5px,#4545ff 151.5px,#7373ff 153.5px,#d1d1ff 156.5px,#f1f1ff 158.5px,#fff 162.5px,#f4f4ff 170.5px,#d4d4ff 173.5px,#b7b7fe 174.5px,#8a8afa 175.5px,#5252e9 176.5px,#2222c3 177.5px,#09098f 178.5px,#010166 179.5px,#000052 180.5px,#00004f 189.5px,#01015d 190.5px,#090982 191.5px,#2323b9 192.5px,#5252e5 193.5px,#8888f9 194.5px,#b2b2fe 195.5px,#dadaff 197.5px,#e9e9ff 202.5px,#dadaff 206.5px,#b7b7ff 208.5px,#6b6bfb 210.5px,#3b3bed 211.5px,#1717cd 212.5px,#0606a0 213.5px,#010176 214.5px,#00005b 215.5px,#00004f 217.5px,#000057 218.5px,#00006c 219.5px,#0a0abd 221.5px,#2020e3 222.5px,#4646f8 223.5px,#99f 225.5px,#ccf 227.5px,#ebebff 230.5px,#f6f6ff 238.5px,#e4e4ff 244.5px,#bebeff 247.5px,#a1a1fe 248.5px,#7777f8 249.5px,#4444e4 250.5px,#1b1bbb 251.5px,#070788 252.5px,#010162 253.5px,#000052 254.5px,#000052 268.5px,#000063 269.5px,#03038a 270.5px,#1b1be6 272.5px,#3030f9 273.5px,#5a5aff 276.5px,#5a5aff 280.5px,#3f3fff 283.5px,#1d1df1 285.5px,#0d0dd2 286.5px,#01016f 288.5px,#000056 289.5px,#00004c 294.5px,#00004c 322.5px)"></i><i style="background:linear-gradient(90deg,#fff 0.5px,#eaeaff 7.5px,#afafff 13.5px,#77f 19.5px,#7c7cff 21.5px,#ebebff 28.5px,#fefeff 31.5px,#f9f9ff 52.5px,#c4c4ff 58.5px,#8b8bff 64.5px,#8b8bff 67.5px,#ededff 76.5px,#fff 81.5px,#f9f9ff 98.5px,#dbdbff 102.5px,#7070ff 109.5px,#5c5cff 112.5px,#77f 115.5px,#dedeff 121.5px,#fdfdff 126.5px,#fafaff 139.5px,#e3e3ff 142.5px,#a8a8ff 145.5px,#4e4eff 149.5px,#4545ff 150.5px,#4949ff 151.5px,#7676ff 153.5px,#d3d3ff 156.5px,#f2f2ff 158.5px,#fff 163.5px,#f6f6ff 170.5px,#d7d7ff 173.5px,#bcbcff 174.5px,#8f8ffb 175.5px,#5757ed 176.5px,#2525c9 177.5px,#0a0a95 178.5px,#020269 179.5px,#000053 180.5px,#00004d 188.5px,#000050 189.5px,#020260 190.5px,#0a0a87 191.5px,#2626bf 192.5px,#5757e9 193.5px,#8d8dfa 194.5px,#b6b6fe 195.5px,#dcdcff 197.5px,#eaeaff 202.5px,#dcdcff 206.5px,#bbf 208.5px,#7070fb 210.5px,#4040ef 211.5px,#1a1ad2 212.5px,#0707a7 213.5px,#01017b 214.5px,#00005e 215.5px,#000050 217.5px,#00005a 218.5px,#000071 219.5px,#0c0cc3 221.5px,#2424e6 222.5px,#4b4bf9 223.5px,#9d9dff 225.5px,#cfcfff 227.5px,#ececff 230.5px,#f8f8ff 238.5px,#e6e6ff 244.5px,#c1c1ff 247.5px,#a6a6fe 248.5px,#7d7dfa 249.5px,#4a4ae8 250.5px,#1f1fc2 251.5px,#08088f 252.5px,#010166 253.5px,#000053 254.5px,#00004d 267.5px,#000053 268.5px,#010168 269.5px,#0d0dc6 271.5px,#1f1feb 272.5px,#4949fe 274.5px,#6464ff 277.5px,#5a5aff 281.5px,#3535fd 284.5px,#2222f5 285.5px,#1111d9 286.5px,#010176 288.5px,#000058 289.5px,#00004d 292.5px,#00004c 322.5px)"></i><i style="background:linear-gradient(90deg,#fff 0.5px,#ebebff 7.5px,#bdbdff 12.5px,#7a7aff 19.5px,#7f7fff 21.5px,#ececff 28.5px,#fefeff 31.5px,#fafaff 52.5px,#c6c6ff 58.5px,#8d8dff 64.5px,#8e8eff 67.5px,#efefff 76.5px,#fff 81.5px,#fafaff 98.5px,#d1d1ff 103.5px,#7373ff 109.5px,#5f5fff 112.5px,#7979ff 115.5px,#e0e0ff 121.5px,#fefeff 126.5px,#fbfbff 139.5px,#e5e5ff 142.5px,#ababff 145.5px,#5252ff 149.5px,#4848ff 150.5px,#4c4cff 151.5px,#7a7aff 153.5px,#d5d5ff 156.5px,#f3f3ff 158.5px,#fff 163.5px,#f7f7ff 170.5px,#dadaff 173.5px,#c0c0ff 174.5px,#9595fc 175.5px,#5d5df0 176.5px,#2929cf 177.5px,#0b0b9b 178.5px,#02026c 179.5px,#005 180.5px,#00004d 187.5px,#000051 189.5px,#020263 190.5px,#0b0b8e 191.5px,#2828c5 192.5px,#5b5bec 193.5px,#9191fb 194.5px,#b9b9ff 195.5px,#dedeff 197.5px,#ececff 202.5px,#dedeff 206.5px,#bebeff 208.5px,#7575fc 210.5px,#4444f2 211.5px,#1c1cd8 212.5px,#0707ad 213.5px,#010181 214.5px,#000062 215.5px,#000054 216.5px,#000052 217.5px,#00005d 218.5px,#007 219.5px,#0e0ec8 221.5px,#2828e9 222.5px,#7c7cfe 224.5px,#bdbdff 226.5px,#dfdfff 228.5px,#f8f8ff 233.5px,#f1f1ff 242.5px,#d6d6ff 246.5px,#aaaafe 248.5px,#5050ec 250.5px,#2222c9 251.5px,#090996 252.5px,#01016a 253.5px,#000054 254.5px,#00004c 264.5px,#005 268.5px,#01016d 269.5px,#0f0fce 271.5px,#2323ef 272.5px,#4f4fff 274.5px,#6969ff 277.5px,#6060ff 281.5px,#3b3bfe 284.5px,#2828f7 285.5px,#1515e0 286.5px,#02027e 288.5px,#00005c 289.5px,#00004d 291.5px,#00004c 322.5px)"></i><i style="background:linear-gradient(90deg,#fff 0.5px,#ececff 7.5px,#c0c0ff 12.5px,#7c7cff 19.5px,#8181ff 21.5px,#eef 28.5px,#fff 32.5px,#fbfbff 52.5px,#c8c8ff 58.5px,#8f8fff 64.5px,#9090ff 67.5px,#f0f0ff 76.5px,#fff 81.5px,#fbfbff 98.5px,#d3d3ff 103.5px,#7676ff 109.5px,#6262ff 112.5px,#7c7cff 115.5px,#e2e2ff 121.5px,#fefeff 126.5px,#f8f8ff 140.5px,#d9d9ff 143.5px,#55f 149.5px,#4c4cff 150.5px,#4f4fff 151.5px,#7d7dff 153.5px,#d7d7ff 156.5px,#f5f5ff 158.5px,#fff 164.5px,#f8f8ff 170.5px,#dcdcff 173.5px,#c4c4ff 174.5px,#9b9bfd 175.5px,#6363f3 176.5px,#2d2dd4 177.5px,#0d0da0 178.5px,#020270 179.5px,#000056 180.5px,#00004c 185.5px,#000052 189.5px,#020267 190.5px,#0d0d93 191.5px,#2c2cca 192.5px,#6060ef 193.5px,#9696fc 194.5px,#bdbdff 195.5px,#e0e0ff 197.5px,#ededff 202.5px,#e0e0ff 206.5px,#c2c2ff 208.5px,#a4a4ff 209.5px,#4848f5 211.5px,#1f1fdc 212.5px,#0808b4 213.5px,#000067 215.5px,#000056 216.5px,#005 217.5px,#000061 218.5px,#0404a4 220.5px,#1010cd 221.5px,#2c2cec 222.5px,#8080fe 224.5px,#c1c1ff 226.5px,#eaeaff 229.5px,#fbfbff 236.5px,#e9e9ff 244.5px,#c8c8ff 247.5px,#afafff 248.5px,#8888fc 249.5px,#5656f0 250.5px,#2626cf 251.5px,#0b0b9d 252.5px,#02026e 253.5px,#005 254.5px,#00004c 259.5px,#00004e 267.5px,#000057 268.5px,#010171 269.5px,#1212d4 271.5px,#2828f3 272.5px,#55f 274.5px,#6f6fff 277.5px,#6565ff 281.5px,#4141fe 284.5px,#2e2ef9 285.5px,#1919e6 286.5px,#030387 288.5px,#000061 289.5px,#000051 290.5px,#00004c 322.5px)"></i><i style="background:linear-gradient(90deg,#fff 0.5px,#eef 7.5px,#c2c2ff 12.5px,#7f7fff 19.5px,#8484ff 21.5px,#efefff 28.5px,#fff 32.5px,#fcfcff 52.5px,#cbcbff 58.5px,#9191ff 64.5px,#9292ff 67.5px,#f1f1ff 76.5px,#fff 82.5px,#f8f8ff 99.5px,#d5d5ff 103.5px,#7979ff 109.5px,#6464ff 112.5px,#7f7fff 115.5px,#e3e3ff 121.5px,#fefeff 126.5px,#f9f9ff 140.5px,#dbdbff 143.5px,#5858ff 149.5px,#4f4fff 150.5px,#5353ff 151.5px,#8181ff 153.5px,#d9d9ff 156.5px,#f6f6ff 158.5px,#fff 165.5px,#f4f4ff 171.5px,#dfdfff 173.5px,#c8c8ff 174.5px,#a1a1fd 175.5px,#6a6af4 176.5px,#3333d8 177.5px,#1010a5 178.5px,#030373 179.5px,#000057 180.5px,#00004d 183.5px,#000053 189.5px,#03036a 190.5px,#0f0f98 191.5px,#3030ce 192.5px,#6666f1 193.5px,#9b9bfd 194.5px,#c1c1ff 195.5px,#e2e2ff 197.5px,#eef 203.5px,#d7d7ff 207.5px,#a8a8ff 209.5px,#4d4df6 211.5px,#2222e1 212.5px,#0a0aba 213.5px,#00006c 215.5px,#00005a 216.5px,#000058 217.5px,#000067 218.5px,#0404ab 220.5px,#1212d3 221.5px,#3030ee 222.5px,#8585fe 224.5px,#c4c4ff 226.5px,#ebebff 229.5px,#fdfdff 236.5px,#ebebff 244.5px,#cbcbff 247.5px,#b4b4ff 248.5px,#8f8ffd 249.5px,#5c5cf3 250.5px,#2b2bd5 251.5px,#0d0da4 252.5px,#020273 253.5px,#000058 254.5px,#00004d 257.5px,#00004f 267.5px,#000059 268.5px,#020277 269.5px,#1616da 271.5px,#2e2ef5 272.5px,#5b5bff 274.5px,#7575ff 277.5px,#6b6bff 281.5px,#4848ff 284.5px,#1e1eec 286.5px,#0d0dc7 287.5px,#010167 289.5px,#000053 290.5px,#00004c 322.5px)"></i><i style="background:linear-gradient(90deg,#fff 0.5px,#efefff 7.5px,#c5c5ff 12.5px,#8181ff 19.5px,#8787ff 21.5px,#f1f1ff 28.5px,#fff 32.5px,#f8f8ff 53.5px,#b6b6ff 60.5px,#8f8fff 65.5px,#9c9cff 68.5px,#f3f3ff 76.5px,#fff 82.5px,#f9f9ff 99.5px,#d8d8ff 103.5px,#7171ff 110.5px,#6767ff 112.5px,#8282ff 115.5px,#e5e5ff 121.5px,#fff 126.5px,#fafaff 140.5px,#ddf 143.5px,#5c5cff 149.5px,#5252ff 150.5px,#5656ff 151.5px,#8484ff 153.5px,#dbdbff 156.5px,#f7f7ff 158.5px,#fff 168.5px,#eef 172.5px,#ccf 174.5px,#a7a7fe 175.5px,#7171f6 176.5px,#3939db 177.5px,#1313aa 178.5px,#040478 179.5px,#01015a 180.5px,#00004d 182.5px,#000054 189.5px,#04046d 190.5px,#11119c 191.5px,#3535d2 192.5px,#6c6cf2 193.5px,#a0a0fd 194.5px,#c5c5ff 195.5px,#e4e4ff 197.5px,#efefff 203.5px,#d9d9ff 207.5px,#acacff 209.5px,#5252f8 211.5px,#2626e4 212.5px,#0c0cc0 213.5px,#000072 215.5px,#00005f 216.5px,#00005d 217.5px,#00006d 218.5px,#0505b2 220.5px,#1515d8 221.5px,#3434f1 222.5px,#8a8aff 224.5px,#c7c7ff 226.5px,#ededff 229.5px,#fefeff 236.5px,#ededff 244.5px,#cfcfff 247.5px,#b8b8ff 248.5px,#9595fd 249.5px,#6464f5 250.5px,#3131da 251.5px,#1010aa 252.5px,#030379 253.5px,#00005b 254.5px,#00004d 256.5px,#000050 267.5px,#00005c 268.5px,#02027d 269.5px,#1a1ade 271.5px,#3434f7 272.5px,#6161ff 274.5px,#7a7aff 277.5px,#7171ff 281.5px,#4e4eff 284.5px,#2323f1 286.5px,#1010d0 287.5px,#01016d 289.5px,#005 290.5px,#00004c 297.5px,#00004c 322.5px)"></i><i style="background:linear-gradient(90deg,#fff 0.5px,#f0f0ff 7.5px,#c7c7ff 12.5px,#8484ff 19.5px,#8989ff 21.5px,#f2f2ff 28.5px,#fff 32.5px,#f9f9ff 53.5px,#b8b8ff 60.5px,#9292ff 65.5px,#9e9eff 68.5px,#f4f4ff 76.5px,#fff 83.5px,#fafaff 99.5px,#dadaff 103.5px,#7373ff 110.5px,#6969ff 112.5px,#8585ff 115.5px,#dbdbff 120.5px,#fbfbff 124.5px,#fafaff 140.5px,#dfdfff 143.5px,#5f5fff 149.5px,#5656ff 150.5px,#5a5aff 151.5px,#8787ff 153.5px,#dedeff 156.5px,#f8f8ff 158.5px,#fefeff 169.5px,#e4e4ff 173.5px,#cfcfff 174.5px,#acacfe 175.5px,#7878f7 176.5px,#3f3fde 177.5px,#1717b0 178.5px,#05057d 179.5px,#01015c 180.5px,#00004d 182.5px,#00004e 188.5px,#010155 189.5px,#04046f 190.5px,#1414a0 191.5px,#3a3ad4 192.5px,#7272f3 193.5px,#a5a5fd 194.5px,#c8c8ff 195.5px,#e5e5ff 197.5px,#f0f0ff 203.5px,#dcdcff 207.5px,#b0b0ff 209.5px,#5858f9 211.5px,#2a2ae7 212.5px,#0e0ec5 213.5px,#000079 215.5px,#000065 216.5px,#000063 217.5px,#000073 218.5px,#0606b9 220.5px,#1717dd 221.5px,#3939f4 222.5px,#b1b1ff 225.5px,#dbdbff 227.5px,#f8f8ff 231.5px,#fafaff 241.5px,#dfdfff 246.5px,#bcbcff 248.5px,#9b9bfe 249.5px,#6b6bf6 250.5px,#3838de 251.5px,#1313b1 252.5px,#04047f 253.5px,#01015e 254.5px,#00004d 256.5px,#000051 267.5px,#000060 268.5px,#030385 269.5px,#1f1fe3 271.5px,#3939f8 272.5px,#6767ff 274.5px,#7f7fff 277.5px,#7676ff 281.5px,#5454ff 284.5px,#2929f4 286.5px,#1414d8 287.5px,#010173 289.5px,#000057 290.5px,#00004d 293.5px,#00004c 322.5px)"></i><i style="background:linear-gradient(90deg,#fff 0.5px,#f1f1ff 7.5px,#bebeff 13.5px,#8686ff 19.5px,#8c8cff 21.5px,#f3f3ff 28.5px,#fff 33.5px,#fafaff 53.5px,#c6c6ff 59.5px,#9494ff 65.5px,#a0a0ff 68.5px,#f5f5ff 76.5px,#fff 84.5px,#fbfbff 99.5px,#dcdcff 103.5px,#7676ff 110.5px,#6c6cff 112.5px,#88f 115.5px,#ddf 120.5px,#fcfcff 124.5px,#fbfbff 140.5px,#e1e1ff 143.5px,#6262ff 149.5px,#5959ff 150.5px,#5d5dff 151.5px,#8b8bff 153.5px,#e0e0ff 156.5px,#fdfdff 159.5px,#f8f8ff 171.5px,#e6e6ff 173.5px,#d3d3ff 174.5px,#b1b1fe 175.5px,#7e7ef8 176.5px,#4545e2 177.5px,#1a1ab6 178.5px,#060683 179.5px,#010160 180.5px,#00004d 182.5px,#00004e 188.5px,#010156 189.5px,#050572 190.5px,#1717a4 191.5px,#4040d7 192.5px,#7777f4 193.5px,#aaaafd 194.5px,#cbcbff 195.5px,#e7e7ff 197.5px,#f2f2ff 203.5px,#dedeff 207.5px,#b4b4ff 209.5px,#5d5dfa 211.5px,#2f2fea 212.5px,#1111ca 213.5px,#000080 215.5px,#00006c 216.5px,#00006a 217.5px,#00007a 218.5px,#0707bf 220.5px,#1919e2 221.5px,#3d3df6 222.5px,#9393ff 224.5px,#cdcdff 226.5px,#f0f0ff 229.5px,#fff 236.5px,#f0f0ff 244.5px,#d5d5ff 247.5px,#a1a1fe 249.5px,#7272f8 250.5px,#3e3ee2 251.5px,#1717b8 252.5px,#050586 253.5px,#010162 254.5px,#00004d 256.5px,#000052 267.5px,#010165 268.5px,#0e0ec0 270.5px,#2424e7 271.5px,#3f3ff9 272.5px,#6c6cff 274.5px,#8383ff 277.5px,#7474ff 282.5px,#4747fe 285.5px,#2f2ff6 286.5px,#1919dd 287.5px,#02027a 289.5px,#00005a 290.5px,#00004d 292.5px,#00004c 322.5px)"></i><i style="background:linear-gradient(90deg,#fff 0.5px,#f3f3ff 7.5px,#c0c0ff 13.5px,#8989ff 19.5px,#8e8eff 21.5px,#f4f4ff 28.5px,#fff 33.5px,#fbfbff 53.5px,#c8c8ff 59.5px,#9696ff 65.5px,#a3a3ff 68.5px,#f6f6ff 76.5px,#fff 87.5px,#f7f7ff 100.5px,#d1d1ff 104.5px,#7979ff 110.5px,#6f6fff 112.5px,#8b8bff 115.5px,#dfdfff 120.5px,#fdfdff 124.5px,#fcfcff 140.5px,#e3e3ff 143.5px,#66f 149.5px,#5d5dff 150.5px,#6060ff 151.5px,#8e8eff 153.5px,#e2e2ff 156.5px,#fefeff 159.5px,#f9f9ff 171.5px,#e8e8ff 173.5px,#d6d6ff 174.5px,#b6b6fe 175.5px,#8585f9 176.5px,#4b4be5 177.5px,#1e1ebc 178.5px,#070789 179.5px,#010163 180.5px,#000052 181.5px,#00004e 188.5px,#010157 189.5px,#060675 190.5px,#1a1aa8 191.5px,#4545da 192.5px,#7d7df5 193.5px,#aeaefe 194.5px,#ceceff 195.5px,#e9e9ff 197.5px,#f3f3ff 203.5px,#e0e0ff 207.5px,#b8b8ff 209.5px,#6363fa 211.5px,#3434ec 212.5px,#1313cf 213.5px,#010187 215.5px,#000073 216.5px,#000071 217.5px,#000082 218.5px,#0808c6 220.5px,#1d1de6 221.5px,#4242f8 222.5px,#9898ff 224.5px,#d0d0ff 226.5px,#f2f2ff 229.5px,#fff 236.5px,#f2f2ff 244.5px,#d7d7ff 247.5px,#a6a6fe 249.5px,#7979f9 250.5px,#4545e6 251.5px,#1b1bbe 252.5px,#07078c 253.5px,#010165 254.5px,#000053 255.5px,#00004e 266.5px,#000054 267.5px,#010169 268.5px,#1111c7 270.5px,#2828eb 271.5px,#5f5ffe 273.5px,#7d7dff 275.5px,#8686ff 279.5px,#6f6fff 283.5px,#3636f8 286.5px,#1e1ee3 287.5px,#030382 289.5px,#00005e 290.5px,#00004d 292.5px,#00004c 322.5px)"></i><i style="background:linear-gradient(90deg,#fff 0.5px,#f4f4ff 7.5px,#c2c2ff 13.5px,#8b8bff 19.5px,#9090ff 21.5px,#f6f6ff 28.5px,#fff 35.5px,#fcfcff 53.5px,#cacaff 59.5px,#9898ff 65.5px,#a5a5ff 68.5px,#f8f8ff 76.5px,#fff 94.5px,#f8f8ff 100.5px,#d4d4ff 104.5px,#7b7bff 110.5px,#7171ff 112.5px,#8e8eff 115.5px,#e1e1ff 120.5px,#fdfdff 124.5px,#fcfcff 140.5px,#e5e5ff 143.5px,#9191ff 147.5px,#6969ff 149.5px,#6060ff 150.5px,#6464ff 151.5px,#9191ff 153.5px,#e4e4ff 156.5px,#fefeff 159.5px,#fafaff 171.5px,#d9d9ff 174.5px,#bbbbfe 175.5px,#8b8bfa 176.5px,#5151e8 177.5px,#2121c2 178.5px,#08088f 179.5px,#010166 180.5px,#000053 181.5px,#00004f 188.5px,#010159 189.5px,#070778 190.5px,#1d1dac 191.5px,#4a4add 192.5px,#8282f6 193.5px,#b3b3fe 194.5px,#d1d1ff 195.5px,#eaeaff 197.5px,#f5f5ff 203.5px,#e2e2ff 207.5px,#bcbcff 209.5px,#6969fb 211.5px,#3939ef 212.5px,#1616d4 213.5px,#01018e 215.5px,#00007a 216.5px,#000079 217.5px,#000089 218.5px,#0a0acb 220.5px,#2121e9 221.5px,#7474fe 223.5px,#bcbcff 225.5px,#e2e2ff 227.5px,#fcfcff 231.5px,#f8f8ff 243.5px,#dadaff 247.5px,#ababfe 249.5px,#8080fa 250.5px,#4b4be9 251.5px,#1f1fc5 252.5px,#080893 253.5px,#010169 254.5px,#000054 255.5px,#00004d 265.5px,#005 267.5px,#01016d 268.5px,#1313ce 270.5px,#2d2def 271.5px,#6565ff 273.5px,#8282ff 275.5px,#88f 280.5px,#7575ff 283.5px,#3c3cfa 286.5px,#2323e9 287.5px,#0e0ec2 288.5px,#04048c 289.5px,#010163 290.5px,#000052 291.5px,#00004c 322.5px)"></i><i style="background:linear-gradient(90deg,#fff 0.5px,#f5f5ff 7.5px,#c5c5ff 13.5px,#8e8eff 19.5px,#9393ff 21.5px,#f7f7ff 28.5px,#fff 37.5px,#f8f8ff 54.5px,#9e9eff 64.5px,#9f9fff 67.5px,#f9f9ff 76.5px,#fdfdff 99.5px,#e2e2ff 103.5px,#7e7eff 110.5px,#7474ff 112.5px,#9191ff 115.5px,#e3e3ff 120.5px,#fefeff 124.5px,#f9f9ff 141.5px,#d8d8ff 144.5px,#6d6dff 149.5px,#6363ff 150.5px,#6767ff 151.5px,#9595ff 153.5px,#e6e6ff 156.5px,#fefeff 159.5px,#fbfbff 171.5px,#ddf 174.5px,#c0c0fe 175.5px,#9292fb 176.5px,#5757ec 177.5px,#2424c8 178.5px,#0a0a96 179.5px,#01016a 180.5px,#000054 181.5px,#00004d 187.5px,#01015b 189.5px,#08087d 190.5px,#2020b1 191.5px,#4f4fe0 192.5px,#8888f7 193.5px,#b7b7fe 194.5px,#d4d4ff 195.5px,#f1f1ff 198.5px,#f1f1ff 205.5px,#d6d6ff 208.5px,#bfbfff 209.5px,#6f6ffc 211.5px,#3d3df2 212.5px,#1818da 213.5px,#0606b7 214.5px,#010196 215.5px,#000082 216.5px,#000080 217.5px,#000090 218.5px,#0d0dd0 220.5px,#2525ec 221.5px,#7a7afe 223.5px,#c0c0ff 225.5px,#e4e4ff 227.5px,#fdfdff 231.5px,#f9f9ff 243.5px,#ddf 247.5px,#b0b0fe 249.5px,#5151ed 251.5px,#2323cc 252.5px,#09099b 253.5px,#01016e 254.5px,#000056 255.5px,#00004c 260.5px,#00004e 266.5px,#000057 267.5px,#010172 268.5px,#1616d5 270.5px,#3232f3 271.5px,#6b6bff 273.5px,#8686ff 275.5px,#8b8bff 280.5px,#7a7aff 283.5px,#4343fc 286.5px,#2828ef 287.5px,#1212cb 288.5px,#010169 290.5px,#000053 291.5px,#00004c 306.5px,#00004d 322.5px)"></i><i style="background:linear-gradient(90deg,#fff 0.5px,#f6f6ff 7.5px,#c7c7ff 13.5px,#9090ff 19.5px,#9595ff 21.5px,#f8f8ff 28.5px,#fff 46.5px,#fafaff 54.5px,#a0a0ff 64.5px,#a1a1ff 67.5px,#fafaff 76.5px,#fafaff 100.5px,#d8d8ff 104.5px,#8181ff 110.5px,#7676ff 112.5px,#9393ff 115.5px,#e5e5ff 120.5px,#fefeff 124.5px,#fafaff 141.5px,#dadaff 144.5px,#7070ff 149.5px,#6767ff 150.5px,#6b6bff 151.5px,#9898ff 153.5px,#e7e7ff 156.5px,#fefeff 159.5px,#fcfcff 171.5px,#e0e0ff 174.5px,#c5c5ff 175.5px,#9898fc 176.5px,#5d5def 177.5px,#2828ce 178.5px,#0b0b9c 179.5px,#02026e 180.5px,#005 181.5px,#00004d 186.5px,#000050 188.5px,#01015e 189.5px,#090982 190.5px,#2323b7 191.5px,#5454e3 192.5px,#8d8df8 193.5px,#bbbbfe 194.5px,#d7d7ff 195.5px,#f3f3ff 198.5px,#f2f2ff 205.5px,#d9d9ff 208.5px,#a2a2ff 210.5px,#4242f4 212.5px,#1b1bdf 213.5px,#0707be 214.5px,#01019d 215.5px,#000089 216.5px,#000087 217.5px,#000098 218.5px,#0f0fd5 220.5px,#2a2aef 221.5px,#7f7ffe 223.5px,#c3c3ff 225.5px,#e6e6ff 227.5px,#fefeff 231.5px,#fbfbff 243.5px,#dfdfff 247.5px,#b5b5ff 249.5px,#8d8dfc 250.5px,#5858f1 251.5px,#2727d3 252.5px,#0b0ba3 253.5px,#020274 254.5px,#000059 255.5px,#00004d 258.5px,#00004f 266.5px,#00005a 267.5px,#020278 268.5px,#1b1bda 270.5px,#3838f5 271.5px,#7070ff 273.5px,#8a8aff 275.5px,#8f8fff 280.5px,#7373ff 284.5px,#4949fd 286.5px,#2e2ef2 287.5px,#1616d3 288.5px,#01016f 290.5px,#005 291.5px,#00004c 296.5px,#000053 313.5px,#00004d 322.5px)"></i><i style="background:linear-gradient(90deg,#fff 0.5px,#f8f8ff 7.5px,#c9c9ff 13.5px,#9393ff 19.5px,#9898ff 21.5px,#f0f0ff 27.5px,#fff 31.5px,#fbfbff 54.5px,#9f9fff 65.5px,#acacff 68.5px,#f5f5ff 75.5px,#fff 82.5px,#fbfbff 100.5px,#dadaff 104.5px,#8484ff 110.5px,#7979ff 112.5px,#9797ff 115.5px,#e7e7ff 120.5px,#fefeff 124.5px,#fbfbff 141.5px,#dcdcff 144.5px,#7373ff 149.5px,#6a6aff 150.5px,#6e6eff 151.5px,#9b9bff 153.5px,#e9e9ff 156.5px,#fefeff 159.5px,#f8f8ff 172.5px,#e2e2ff 174.5px,#c9c9ff 175.5px,#9e9efd 176.5px,#6363f2 177.5px,#2c2cd4 178.5px,#0d0da3 179.5px,#020273 180.5px,#000057 181.5px,#00004d 184.5px,#000051 188.5px,#010161 189.5px,#0a0a88 190.5px,#2626bd 191.5px,#5959e7 192.5px,#9393f9 193.5px,#bfbffe 194.5px,#dadaff 195.5px,#f4f4ff 198.5px,#f4f4ff 205.5px,#dbdbff 208.5px,#a6a6ff 210.5px,#4747f6 212.5px,#1e1ee3 213.5px,#0808c4 214.5px,#0101a4 215.5px,#000090 216.5px,#00008e 217.5px,#01019f 218.5px,#1111db 220.5px,#2e2ef1 221.5px,#aaf 224.5px,#dbdbff 226.5px,#f8f8ff 229.5px,#fcfcff 243.5px,#e2e2ff 247.5px,#babaff 249.5px,#9393fd 250.5px,#5f5ff4 251.5px,#2c2cd9 252.5px,#0d0dab 253.5px,#02027b 254.5px,#00005c 255.5px,#00004d 257.5px,#000050 266.5px,#00005e 267.5px,#02027f 268.5px,#1f1fdf 270.5px,#3e3ef7 271.5px,#7676ff 273.5px,#9292ff 276.5px,#8b8bff 282.5px,#6767ff 285.5px,#3535f5 287.5px,#1b1bda 288.5px,#020275 290.5px,#000058 291.5px,#00004d 294.5px,#00004f 311.5px,#000062 315.5px,#00004d 320.5px,#00004d 322.5px)"></i><i style="background:linear-gradient(90deg,#fff 0.5px,#f9f9ff 7.5px,#cbcbff 13.5px,#9595ff 19.5px,#9a9aff 21.5px,#f2f2ff 27.5px,#fff 31.5px,#fbfbff 54.5px,#a1a1ff 65.5px,#aeaeff 68.5px,#f6f6ff 75.5px,#fff 85.5px,#f7f7ff 101.5px,#cfcfff 105.5px,#8787ff 110.5px,#7c7cff 112.5px,#9a9aff 115.5px,#e8e8ff 120.5px,#fefeff 124.5px,#fcfcff 141.5px,#dfdfff 144.5px,#77f 149.5px,#6e6eff 150.5px,#7272ff 151.5px,#9f9fff 153.5px,#ebebff 156.5px,#fff 159.5px,#f9f9ff 172.5px,#e5e5ff 174.5px,#cdcdff 175.5px,#a4a4fd 176.5px,#6a6af4 177.5px,#3232d9 178.5px,#0f0fa9 179.5px,#030378 180.5px,#00005a 181.5px,#00004d 183.5px,#000052 188.5px,#020265 189.5px,#0b0b8e 190.5px,#2929c3 191.5px,#5e5eea 192.5px,#9898fb 193.5px,#c3c3fe 194.5px,#e9e9ff 196.5px,#fbfbff 201.5px,#f0f0ff 206.5px,#dedeff 208.5px,#ababff 210.5px,#4c4cf8 212.5px,#2121e7 213.5px,#0a0aca 214.5px,#000097 216.5px,#000096 217.5px,#0505c2 219.5px,#1414e0 220.5px,#5e5efc 222.5px,#afafff 224.5px,#dedeff 226.5px,#f9f9ff 229.5px,#fafaff 244.5px,#e4e4ff 247.5px,#bfbfff 249.5px,#9a9afe 250.5px,#6767f6 251.5px,#3232de 252.5px,#1010b2 253.5px,#030382 254.5px,#000060 255.5px,#00004d 257.5px,#000051 266.5px,#000061 267.5px,#030386 268.5px,#0e0eb8 269.5px,#2424e3 270.5px,#4444f8 271.5px,#7b7bff 273.5px,#9696ff 276.5px,#8f8fff 282.5px,#6e6eff 285.5px,#3b3bf7 287.5px,#2020df 288.5px,#03037c 290.5px,#00005b 291.5px,#00004d 293.5px,#000052 311.5px,#000071 314.5px,#00006c 316.5px,#00004f 319.5px,#00004d 322.5px)"></i><i style="background:linear-gradient(90deg,#fff 0.5px,#f5f5ff 8.5px,#c3c3ff 14.5px,#9797ff 19.5px,#9c9cff 21.5px,#f3f3ff 27.5px,#fff 31.5px,#fcfcff 54.5px,#cacaff 60.5px,#a3a3ff 65.5px,#b0b0ff 68.5px,#f8f8ff 75.5px,#fff 92.5px,#f9f9ff 101.5px,#d2d2ff 105.5px,#8a8aff 110.5px,#7e7eff 112.5px,#9d9dff 115.5px,#eaeaff 120.5px,#fff 124.5px,#fcfcff 141.5px,#e1e1ff 144.5px,#7a7aff 149.5px,#7171ff 150.5px,#7575ff 151.5px,#a2a2ff 153.5px,#ededff 156.5px,#fff 159.5px,#fafaff 172.5px,#e7e7ff 174.5px,#d1d1ff 175.5px,#aaaafe 176.5px,#7272f6 177.5px,#3838dd 178.5px,#1212af 179.5px,#04047e 180.5px,#00005d 181.5px,#00004d 183.5px,#000053 188.5px,#020268 189.5px,#0c0c94 190.5px,#2c2cc9 191.5px,#6363ee 192.5px,#9d9dfc 193.5px,#c7c7ff 194.5px,#ebebff 196.5px,#fcfcff 201.5px,#ebebff 207.5px,#cdcdff 209.5px,#afafff 210.5px,#5252fa 212.5px,#2626eb 213.5px,#0c0cd0 214.5px,#00009f 216.5px,#00009d 217.5px,#0606c9 219.5px,#1616e5 220.5px,#6464fd 222.5px,#b3b3ff 224.5px,#e0e0ff 226.5px,#fbfbff 229.5px,#fbfbff 244.5px,#d9d9ff 248.5px,#c3c3ff 249.5px,#a1a1fe 250.5px,#6f6ff7 251.5px,#3939e2 252.5px,#1414b9 253.5px,#040488 254.5px,#010164 255.5px,#000052 256.5px,#00004d 265.5px,#000053 266.5px,#010165 267.5px,#1010bf 269.5px,#2929e7 270.5px,#4b4bf9 271.5px,#8080ff 273.5px,#9a9aff 276.5px,#9292ff 282.5px,#7474ff 285.5px,#4242f9 287.5px,#2525e5 288.5px,#040484 290.5px,#01015f 291.5px,#00004d 293.5px,#000050 310.5px,#000082 314.5px,#00007c 316.5px,#000053 319.5px,#00004d 322.5px)"></i><i style="background:linear-gradient(90deg,#fff 0.5px,#f6f6ff 8.5px,#bbf 15.5px,#9a9aff 19.5px,#9f9fff 21.5px,#f4f4ff 27.5px,#fff 32.5px,#f9f9ff 55.5px,#a5a5ff 65.5px,#b2b2ff 68.5px,#f9f9ff 75.5px,#fdfdff 100.5px,#e1e1ff 104.5px,#8484ff 111.5px,#8686ff 113.5px,#ececff 120.5px,#fff 124.5px,#f8f8ff 142.5px,#d2d2ff 145.5px,#7e7eff 149.5px,#7474ff 150.5px,#7878ff 151.5px,#a5a5ff 153.5px,#eef 156.5px,#fff 159.5px,#fbfbff 172.5px,#eaeaff 174.5px,#d5d5ff 175.5px,#b0b0fe 176.5px,#7a7af7 177.5px,#3f3fe1 178.5px,#1616b6 179.5px,#050584 180.5px,#010161 181.5px,#00004d 183.5px,#000054 188.5px,#02026b 189.5px,#0e0e9a 190.5px,#2f2fcf 191.5px,#6868f1 192.5px,#a2a2fc 193.5px,#cbcbff 194.5px,#ededff 196.5px,#fdfdff 202.5px,#ededff 207.5px,#d0d0ff 209.5px,#b3b3ff 210.5px,#5858fa 212.5px,#2a2aed 213.5px,#0e0ed5 214.5px,#0000a6 216.5px,#0000a4 217.5px,#0707cf 219.5px,#1919e9 220.5px,#6969fe 222.5px,#b7b7ff 224.5px,#e3e3ff 226.5px,#fcfcff 229.5px,#fcfcff 244.5px,#dcdcff 248.5px,#c8c8ff 249.5px,#a7a7fe 250.5px,#7777f9 251.5px,#4141e6 252.5px,#1818bf 253.5px,#06068f 254.5px,#010168 255.5px,#000054 256.5px,#00004e 265.5px,#000054 266.5px,#01016a 267.5px,#1313c7 269.5px,#2e2eeb 270.5px,#6f6ffe 272.5px,#9191ff 274.5px,#a0a0ff 278.5px,#9090ff 283.5px,#7979ff 285.5px,#4949fb 287.5px,#2b2beb 288.5px,#1212c4 289.5px,#010165 291.5px,#000052 292.5px,#000052 310.5px,#000093 314.5px,#00008d 316.5px,#000058 319.5px,#00004d 322.5px)"></i><i style="background:linear-gradient(90deg,#fff 0.5px,#f8f8ff 8.5px,#bdbdff 15.5px,#9c9cff 19.5px,#a1a1ff 21.5px,#f5f5ff 27.5px,#fff 33.5px,#fafaff 55.5px,#a7a7ff 65.5px,#b5b5ff 68.5px,#fafaff 75.5px,#fbfbff 101.5px,#d7d7ff 105.5px,#8787ff 111.5px,#8989ff 113.5px,#eef 120.5px,#fff 124.5px,#f9f9ff 142.5px,#d4d4ff 145.5px,#8181ff 149.5px,#7878ff 150.5px,#7c7cff 151.5px,#a8a8ff 153.5px,#dedeff 155.5px,#fafaff 157.5px,#fcfcff 172.5px,#ececff 174.5px,#d9d9ff 175.5px,#b6b6fe 176.5px,#8181f8 177.5px,#4646e4 178.5px,#1a1abc 179.5px,#06068a 180.5px,#010164 181.5px,#000052 182.5px,#00004e 187.5px,#005 188.5px,#03036e 189.5px,#10109f 190.5px,#3434d3 191.5px,#6e6ef3 192.5px,#a8a8fd 193.5px,#ceceff 194.5px,#efefff 196.5px,#fefeff 202.5px,#efefff 207.5px,#d3d3ff 209.5px,#b7b7ff 210.5px,#5e5efb 212.5px,#3030f0 213.5px,#1111da 214.5px,#0101ad 216.5px,#0000ab 217.5px,#0909d5 219.5px,#1d1ded 220.5px,#6f6ffe 222.5px,#bbf 224.5px,#e5e5ff 226.5px,#fcfcff 229.5px,#f9f9ff 245.5px,#dfdfff 248.5px,#ccf 249.5px,#adadfe 250.5px,#4848e9 252.5px,#1c1cc6 253.5px,#070797 254.5px,#01016e 255.5px,#000056 256.5px,#00004d 260.5px,#00004e 265.5px,#000056 266.5px,#01016f 267.5px,#1616ce 269.5px,#3333ef 270.5px,#7575ff 272.5px,#9595ff 274.5px,#a3a3ff 278.5px,#9494ff 283.5px,#6b6bff 286.5px,#3131f0 288.5px,#1616ce 289.5px,#01016b 291.5px,#000054 292.5px,#00004c 303.5px,#00004f 309.5px,#000068 311.5px,#000098 313.5px,#0000a7 315.5px,#00008c 317.5px,#00005f 319.5px,#00004e 321.5px,#00004d 322.5px)"></i><i style="background:linear-gradient(90deg,#fff 0.5px,#f9f9ff 8.5px,#cacaff 14.5px,#9f9fff 19.5px,#a4a4ff 21.5px,#f7f7ff 27.5px,#fff 36.5px,#fbfbff 55.5px,#a9a9ff 65.5px,#b7b7ff 68.5px,#fbfbff 75.5px,#fcfcff 101.5px,#d9d9ff 105.5px,#8a8aff 111.5px,#8c8cff 113.5px,#efefff 120.5px,#fff 124.5px,#fafaff 142.5px,#d7d7ff 145.5px,#8585ff 149.5px,#7b7bff 150.5px,#7f7fff 151.5px,#acacff 153.5px,#e0e0ff 155.5px,#fafaff 157.5px,#fdfdff 172.5px,#eef 174.5px,#ddf 175.5px,#bcbcfe 176.5px,#8989f9 177.5px,#4d4de7 178.5px,#1e1ec2 179.5px,#070790 180.5px,#010168 181.5px,#000054 182.5px,#00004e 187.5px,#000056 188.5px,#040472 189.5px,#1313a3 190.5px,#3a3ad6 191.5px,#7575f4 192.5px,#adadfd 193.5px,#d2d2ff 194.5px,#f1f1ff 196.5px,#fff 202.5px,#f0f0ff 207.5px,#d6d6ff 209.5px,#bcbcff 210.5px,#6464fc 212.5px,#3535f2 213.5px,#1414df 214.5px,#0101b4 216.5px,#0000b3 217.5px,#0b0bda 219.5px,#2222f0 220.5px,#7575fe 222.5px,#bfbfff 224.5px,#e7e7ff 226.5px,#fdfdff 229.5px,#fbfbff 245.5px,#e2e2ff 248.5px,#b2b2fe 250.5px,#4f4fed 252.5px,#2121cd 253.5px,#08089f 254.5px,#010174 255.5px,#00005a 256.5px,#00004d 259.5px,#00004f 265.5px,#000059 266.5px,#010175 267.5px,#1919d5 269.5px,#3939f2 270.5px,#7a7aff 272.5px,#99f 274.5px,#a6a6ff 279.5px,#9090ff 284.5px,#7171ff 286.5px,#3838f3 288.5px,#1b1bd5 289.5px,#020270 291.5px,#000056 292.5px,#00004c 296.5px,#000050 309.5px,#000074 311.5px,#00a 313.5px,#0000b9 315.5px,#00009e 317.5px,#000057 320.5px,#00004d 322.5px)"></i><i style="background:linear-gradient(90deg,#fff 0.5px,#fafaff 8.5px,#ccf 14.5px,#a1a1ff 19.5px,#a6a6ff 21.5px,#f8f8ff 27.5px,#fff 44.5px,#f7f7ff 56.5px,#acacff 65.5px,#b9b9ff 68.5px,#fcfcff 75.5px,#fcfcff 101.5px,#dcdcff 105.5px,#8d8dff 111.5px,#8f8fff 113.5px,#f1f1ff 120.5px,#fff 124.5px,#fbfbff 142.5px,#d9d9ff 145.5px,#88f 149.5px,#7f7fff 150.5px,#8383ff 151.5px,#afafff 153.5px,#e2e2ff 155.5px,#fbfbff 157.5px,#f9f9ff 173.5px,#e0e0ff 175.5px,#c2c2fe 176.5px,#5353eb 178.5px,#2222c8 179.5px,#090997 180.5px,#01016d 181.5px,#000056 182.5px,#00004d 186.5px,#010158 188.5px,#050576 189.5px,#1616a8 190.5px,#4040d9 191.5px,#7b7bf5 192.5px,#b2b2fe 193.5px,#d5d5ff 194.5px,#f2f2ff 196.5px,#fff 202.5px,#f2f2ff 207.5px,#d9d9ff 209.5px,#c0c0ff 210.5px,#6a6afd 212.5px,#3a3af5 213.5px,#1616e4 214.5px,#0606cc 215.5px,#0101bb 216.5px,#0000ba 217.5px,#0e0edf 219.5px,#2727f2 220.5px,#a4a4ff 223.5px,#dadaff 225.5px,#fafaff 228.5px,#fcfcff 245.5px,#e4e4ff 248.5px,#b7b7ff 250.5px,#5656f1 252.5px,#2525d4 253.5px,#0a0aa8 254.5px,#02027b 255.5px,#00005d 256.5px,#00004d 258.5px,#000050 265.5px,#00005c 266.5px,#02027c 267.5px,#0909ac 268.5px,#1d1ddb 269.5px,#3f3ff5 270.5px,#8080ff 272.5px,#9d9dff 274.5px,#a9a9ff 279.5px,#9494ff 284.5px,#7878ff 286.5px,#3f3ff6 288.5px,#2121db 289.5px,#030376 291.5px,#000058 292.5px,#00004d 295.5px,#000053 309.5px,#000063 310.5px,#00b 313.5px,#0000cb 315.5px,#0000af 317.5px,#00005c 320.5px,#00004d 322.5px)"></i><i style="background:linear-gradient(90deg,#fff 0.5px,#f7f7ff 9.5px,#a3a3ff 19.5px,#a8a8ff 21.5px,#f9f9ff 27.5px,#fcfcff 55.5px,#aeaeff 65.5px,#bbf 68.5px,#f7f7ff 74.5px,#fff 89.5px,#f9f9ff 102.5px,#d1d1ff 106.5px,#9090ff 111.5px,#9292ff 113.5px,#f2f2ff 120.5px,#fff 125.5px,#fcfcff 142.5px,#dcdcff 145.5px,#8b8bff 149.5px,#8282ff 150.5px,#8686ff 151.5px,#b2b2ff 153.5px,#e5e5ff 155.5px,#fcfcff 157.5px,#fafaff 173.5px,#e3e3ff 175.5px,#c7c7ff 176.5px,#9797fb 177.5px,#5a5aee 178.5px,#2626ce 179.5px,#0a0a9f 180.5px,#010172 181.5px,#000058 182.5px,#00004d 185.5px,#00004f 187.5px,#01015b 188.5px,#06067b 189.5px,#1a1aad 190.5px,#4646dd 191.5px,#8282f6 192.5px,#b7b7fe 193.5px,#d8d8ff 194.5px,#f4f4ff 196.5px,#fff 203.5px,#f4f4ff 207.5px,#dcdcff 209.5px,#c4c4ff 210.5px,#7171fd 212.5px,#1919e8 214.5px,#0707d3 215.5px,#0101c2 216.5px,#0101c1 217.5px,#1010e4 219.5px,#2c2cf5 220.5px,#a9a9ff 223.5px,#ddf 225.5px,#fbfbff 228.5px,#f8f8ff 246.5px,#d7d7ff 249.5px,#bdbdff 250.5px,#9494fd 251.5px,#5d5df4 252.5px,#2a2adb 253.5px,#0c0cb0 254.5px,#020282 255.5px,#000061 256.5px,#00004d 258.5px,#000051 265.5px,#000060 266.5px,#020283 267.5px,#0b0bb4 268.5px,#2222df 269.5px,#4545f7 270.5px,#8585ff 272.5px,#a7a7ff 275.5px,#a9a9ff 281.5px,#8d8dff 285.5px,#6666fe 287.5px,#4747f8 288.5px,#2727e1 289.5px,#0f0fb2 290.5px,#04047e 291.5px,#01015b 292.5px,#00004d 294.5px,#00004e 308.5px,#000056 309.5px,#00006b 310.5px,#0000cd 313.5px,#0000dc 315.5px,#0000c1 317.5px,#000063 320.5px,#00004e 322.5px)"></i><i style="background:linear-gradient(90deg,#fff 0.5px,#f8f8ff 9.5px,#a6a6ff 19.5px,#ababff 21.5px,#fafaff 27.5px,#f9f9ff 56.5px,#b0b0ff 65.5px,#bdbdff 68.5px,#f9f9ff 74.5px,#fdfdff 101.5px,#e0e0ff 105.5px,#9393ff 111.5px,#9595ff 113.5px,#f4f4ff 120.5px,#fff 126.5px,#fcfcff 142.5px,#dedeff 145.5px,#8f8fff 149.5px,#8686ff 150.5px,#8989ff 151.5px,#e7e7ff 155.5px,#fcfcff 157.5px,#fbfbff 173.5px,#e6e6ff 175.5px,#cbcbff 176.5px,#9d9dfc 177.5px,#6161f2 178.5px,#2a2ad5 179.5px,#0b0ba7 180.5px,#020279 181.5px,#00005b 182.5px,#00004d 184.5px,#000050 187.5px,#01015e 188.5px,#070780 189.5px,#1d1db3 190.5px,#4c4ce0 191.5px,#8989f7 192.5px,#bcbcfe 193.5px,#dcdcff 194.5px,#f6f6ff 196.5px,#fff 204.5px,#ededff 208.5px,#c8c8ff 210.5px,#7777fe 212.5px,#1d1ded 214.5px,#0808d9 215.5px,#0101c9 216.5px,#0101c8 217.5px,#1313e9 219.5px,#3131f7 220.5px,#adadff 223.5px,#e0e0ff 225.5px,#fcfcff 228.5px,#fafaff 246.5px,#dbdbff 249.5px,#c2c2ff 250.5px,#9b9bfe 251.5px,#6666f6 252.5px,#3131e0 253.5px,#0f0fb8 254.5px,#006 256.5px,#000054 257.5px,#00004d 264.5px,#000052 265.5px,#000064 266.5px,#0e0eba 268.5px,#2727e3 269.5px,#4c4cf8 270.5px,#8a8aff 272.5px,#ababff 275.5px,#acacff 281.5px,#9292ff 285.5px,#6c6cfe 287.5px,#4e4ef9 288.5px,#2d2de7 289.5px,#1212bd 290.5px,#050587 291.5px,#010160 292.5px,#000051 293.5px,#000050 308.5px,#00005b 309.5px,#000075 310.5px,#0000c3 312.5px,#0101dd 313.5px,#0202eb 315.5px,#0101d2 317.5px,#00006c 320.5px,#000057 321.5px,#00004f 322.5px)"></i><i style="background:linear-gradient(90deg,#fff 0.5px,#f9f9ff 9.5px,#a8a8ff 19.5px,#adadff 21.5px,#fafaff 27.5px,#fafaff 56.5px,#b2b2ff 65.5px,#c0c0ff 68.5px,#fafaff 74.5px,#fbfbff 102.5px,#d6d6ff 106.5px,#9696ff 111.5px,#9898ff 113.5px,#f5f5ff 120.5px,#fff 127.5px,#f8f8ff 143.5px,#ceceff 146.5px,#9292ff 149.5px,#8989ff 150.5px,#8d8dff 151.5px,#e9e9ff 155.5px,#fdfdff 157.5px,#fcfcff 173.5px,#e9e9ff 175.5px,#d0d0ff 176.5px,#a4a4fd 177.5px,#6868f4 178.5px,#2f2fdb 179.5px,#0e0eae 180.5px,#02027f 181.5px,#00005f 182.5px,#00004d 184.5px,#000051 187.5px,#010161 188.5px,#080886 189.5px,#2121b9 190.5px,#5252e3 191.5px,#8f8ff8 192.5px,#c1c1fe 193.5px,#dfdfff 194.5px,#f7f7ff 196.5px,#fefeff 205.5px,#efefff 208.5px,#ccf 210.5px,#7d7dfe 212.5px,#2121f0 214.5px,#0a0adf 215.5px,#0202d0 216.5px,#0101cf 217.5px,#1616ed 219.5px,#6161fe 221.5px,#b2b2ff 223.5px,#e3e3ff 225.5px,#fdfdff 228.5px,#fbfbff 246.5px,#dedeff 249.5px,#c7c7ff 250.5px,#a3a3fe 251.5px,#6f6ff8 252.5px,#3838e5 253.5px,#1313bf 254.5px,#01016c 256.5px,#000056 257.5px,#00004d 262.5px,#000054 265.5px,#010169 266.5px,#1111c1 268.5px,#2d2de7 269.5px,#5252f9 270.5px,#8f8fff 272.5px,#afafff 275.5px,#b0b0ff 281.5px,#9797ff 285.5px,#7373ff 287.5px,#3333ec 289.5px,#1616c7 290.5px,#010166 292.5px,#000052 293.5px,#000051 308.5px,#000061 309.5px,#0101d2 312.5px,#0303ea 313.5px,#0505f6 315.5px,#0202e1 317.5px,#00009e 319.5px,#00005c 321.5px,#000050 322.5px)"></i><i style="background:linear-gradient(90deg,#fff 0.5px,#fafaff 9.5px,#ababff 19.5px,#b0b0ff 21.5px,#f4f4ff 26.5px,#fff 31.5px,#fbfbff 56.5px,#b4b4ff 65.5px,#c2c2ff 68.5px,#fbfbff 74.5px,#fcfcff 102.5px,#d8d8ff 106.5px,#99f 111.5px,#9b9bff 113.5px,#eef 119.5px,#fff 123.5px,#f9f9ff 143.5px,#d1d1ff 146.5px,#9696ff 149.5px,#8c8cff 150.5px,#9090ff 151.5px,#ebebff 155.5px,#fdfdff 157.5px,#fdfdff 173.5px,#ebebff 175.5px,#d4d4ff 176.5px,#ababfe 177.5px,#7070f6 178.5px,#3636df 179.5px,#1111b5 180.5px,#030386 181.5px,#000063 182.5px,#00004d 184.5px,#000052 187.5px,#010165 188.5px,#09098c 189.5px,#2424bf 190.5px,#5858e7 191.5px,#9595f9 192.5px,#c5c5fe 193.5px,#e2e2ff 194.5px,#fdfdff 197.5px,#f8f8ff 207.5px,#e4e4ff 209.5px,#afafff 211.5px,#2626f3 214.5px,#0d0de4 215.5px,#0303d6 216.5px,#0202d6 217.5px,#0808e2 218.5px,#1a1af1 219.5px,#9393ff 222.5px,#d2d2ff 224.5px,#fafaff 227.5px,#fcfcff 246.5px,#e1e1ff 249.5px,#ccf 250.5px,#a9a9fe 251.5px,#4040e9 253.5px,#1818c7 254.5px,#06069a 255.5px,#010172 256.5px,#00005a 257.5px,#00004d 260.5px,#00004f 264.5px,#000057 265.5px,#01016f 266.5px,#1414c9 268.5px,#3232eb 269.5px,#7c7cfe 271.5px,#a3a3ff 273.5px,#b8b8ff 277.5px,#ababff 283.5px,#8e8eff 286.5px,#5d5dfc 288.5px,#3a3af1 289.5px,#1b1bd0 290.5px,#02026c 292.5px,#000054 293.5px,#00004c 301.5px,#000053 308.5px,#000067 309.5px,#0404df 312.5px,#0707f3 313.5px,#0b0bfc 315.5px,#0505ec 317.5px,#0202d4 318.5px,#000062 321.5px,#000052 322.5px)"></i><i style="background:linear-gradient(90deg,#fff 0.5px,#f7f7ff 10.5px,#adadff 19.5px,#b2b2ff 21.5px,#f5f5ff 26.5px,#fff 32.5px,#fcfcff 56.5px,#b7b7ff 65.5px,#c4c4ff 68.5px,#fcfcff 74.5px,#fdfdff 102.5px,#dbdbff 106.5px,#9c9cff 111.5px,#9e9eff 113.5px,#f0f0ff 119.5px,#fff 123.5px,#fafaff 143.5px,#d4d4ff 146.5px,#99f 149.5px,#9090ff 150.5px,#9494ff 151.5px,#ececff 155.5px,#fff 158.5px,#f9f9ff 174.5px,#d9d9ff 176.5px,#b3b3fe 177.5px,#7979f8 178.5px,#3d3de3 179.5px,#1515bc 180.5px,#04048c 181.5px,#010167 182.5px,#000054 183.5px,#00004e 186.5px,#000054 187.5px,#020269 188.5px,#0a0a93 189.5px,#2828c5 190.5px,#5e5eea 191.5px,#9b9bfa 192.5px,#cacafe 193.5px,#e5e5ff 194.5px,#fdfdff 197.5px,#f9f9ff 207.5px,#e6e6ff 209.5px,#b4b4ff 211.5px,#2c2cf5 214.5px,#1010e9 215.5px,#0303dc 217.5px,#0a0ae7 218.5px,#1f1ff4 219.5px,#bbf 223.5px,#e8e8ff 225.5px,#fefeff 228.5px,#f9f9ff 247.5px,#e4e4ff 249.5px,#d0d0ff 250.5px,#b0b0fe 251.5px,#4848ec 253.5px,#1c1cce 254.5px,#0707a3 255.5px,#01017a 256.5px,#00005e 257.5px,#00004d 259.5px,#000050 264.5px,#00005a 265.5px,#010176 266.5px,#1717d0 268.5px,#3838ef 269.5px,#8181ff 271.5px,#a7a7ff 273.5px,#bbf 277.5px,#afafff 283.5px,#9393ff 286.5px,#6464fd 288.5px,#4141f4 289.5px,#2020d7 290.5px,#0b0ba4 291.5px,#020272 292.5px,#000057 293.5px,#00004d 296.5px,#00004e 307.5px,#000056 308.5px,#00006e 309.5px,#0303c8 311.5px,#0808e9 312.5px,#1111fe 314.5px,#0a0af4 317.5px,#0505e0 318.5px,#00006a 321.5px,#005 322.5px)"></i><i style="background:linear-gradient(90deg,#fff 0.5px,#f8f8ff 10.5px,#afafff 19.5px,#b5b5ff 21.5px,#f7f7ff 26.5px,#fff 35.5px,#f9f9ff 57.5px,#b9b9ff 65.5px,#c6c6ff 68.5px,#fcfcff 74.5px,#f9f9ff 103.5px,#c2c2ff 108.5px,#9f9fff 111.5px,#a1a1ff 113.5px,#f2f2ff 119.5px,#fff 123.5px,#fbfbff 143.5px,#d7d7ff 146.5px,#9d9dff 149.5px,#9494ff 150.5px,#9797ff 151.5px,#eef 155.5px,#fff 158.5px,#fafaff 174.5px,#ddf 176.5px,#b9b9fe 177.5px,#8282f9 178.5px,#4545e7 179.5px,#1919c2 180.5px,#060694 181.5px,#01016d 182.5px,#000057 183.5px,#00004e 186.5px,#005 187.5px,#02026d 188.5px,#0c0c99 189.5px,#2b2bcc 190.5px,#6363ee 191.5px,#a1a1fb 192.5px,#ceceff 193.5px,#e7e7ff 194.5px,#fefeff 197.5px,#fbfbff 207.5px,#e9e9ff 209.5px,#b9b9ff 211.5px,#3131f8 214.5px,#1212ed 215.5px,#0505e3 216.5px,#0d0dec 218.5px,#2424f7 219.5px,#c0c0ff 223.5px,#eaeaff 225.5px,#fefeff 228.5px,#fafaff 247.5px,#e7e7ff 249.5px,#d5d5ff 250.5px,#b6b6ff 251.5px,#4f4ff0 253.5px,#2121d5 254.5px,#0808ac 255.5px,#000063 257.5px,#00004e 259.5px,#000051 264.5px,#00005e 265.5px,#01017d 266.5px,#0707ab 267.5px,#1a1ad7 268.5px,#3e3ef2 269.5px,#8787ff 271.5px,#ababff 273.5px,#bfbfff 277.5px,#b3b3ff 283.5px,#9797ff 286.5px,#6c6cfe 288.5px,#4a4af6 289.5px,#2727dd 290.5px,#0e0ead 291.5px,#030379 292.5px,#000059 293.5px,#00004d 295.5px,#00004f 307.5px,#00005a 308.5px,#007 309.5px,#0606d3 311.5px,#0d0df0 312.5px,#1919fe 314.5px,#1111f9 317.5px,#0909ea 318.5px,#0404ca 319.5px,#000073 321.5px,#000059 322.5px)"></i><i style="background:linear-gradient(90deg,#fff 0.5px,#f9f9ff 10.5px,#b2b2ff 19.5px,#b7b7ff 21.5px,#f8f8ff 26.5px,#fff 45.5px,#fafaff 57.5px,#bbf 65.5px,#c9c9ff 68.5px,#f9f9ff 73.5px,#fefeff 102.5px,#e0e0ff 106.5px,#a3a3ff 111.5px,#a4a4ff 113.5px,#f3f3ff 119.5px,#fff 124.5px,#fbfbff 143.5px,#dadaff 146.5px,#a1a1ff 149.5px,#9797ff 150.5px,#9b9bff 151.5px,#f0f0ff 155.5px,#fff 158.5px,#fbfbff 174.5px,#e1e1ff 176.5px,#c0c0fe 177.5px,#4d4dea 179.5px,#1e1ec9 180.5px,#07079c 181.5px,#010173 182.5px,#00005a 183.5px,#00004d 185.5px,#000058 187.5px,#020272 188.5px,#0d0da1 189.5px,#2f2fd2 190.5px,#6a6af1 191.5px,#a7a7fc 192.5px,#d2d2ff 193.5px,#f6f6ff 195.5px,#fff 202.5px,#f6f6ff 208.5px,#d9d9ff 210.5px,#9696ff 212.5px,#3737fa 214.5px,#1616f2 215.5px,#0606e9 216.5px,#0505e9 217.5px,#1010f1 218.5px,#2a2af9 219.5px,#a4a4ff 222.5px,#dcdcff 224.5px,#fcfcff 227.5px,#fbfbff 247.5px,#d9d9ff 250.5px,#bcbcff 251.5px,#5858f3 253.5px,#2626dc 254.5px,#0a0ab5 255.5px,#000069 257.5px,#00004f 259.5px,#000053 264.5px,#000063 265.5px,#020284 266.5px,#0909b3 267.5px,#1f1fdd 268.5px,#4444f5 269.5px,#8d8dff 271.5px,#afafff 273.5px,#c2c2ff 277.5px,#b7b7ff 283.5px,#9c9cff 286.5px,#7373fe 288.5px,#5252f8 289.5px,#2d2de3 290.5px,#1212b7 291.5px,#050582 292.5px,#01015e 293.5px,#00004d 295.5px,#000051 307.5px,#00005f 308.5px,#010181 309.5px,#0909de 311.5px,#1313f5 312.5px,#2323ff 315.5px,#1919fc 317.5px,#0f0ff1 318.5px,#0707d6 319.5px,#00007d 321.5px,#00005e 322.5px)"></i><i style="background:linear-gradient(90deg,#fff 0.5px,#fafaff 10.5px,#b4b4ff 19.5px,#b9b9ff 21.5px,#f9f9ff 26.5px,#fbfbff 57.5px,#bdbdff 65.5px,#cbcbff 68.5px,#fafaff 73.5px,#fbfbff 103.5px,#d6d6ff 107.5px,#a6a6ff 111.5px,#a8a8ff 113.5px,#f5f5ff 119.5px,#fff 125.5px,#fcfcff 143.5px,#dcdcff 146.5px,#a4a4ff 149.5px,#9b9bff 150.5px,#9f9fff 151.5px,#f1f1ff 155.5px,#fff 159.5px,#fcfcff 174.5px,#e5e5ff 176.5px,#c6c6fe 177.5px,#5454ee 179.5px,#2222d0 180.5px,#0909a4 181.5px,#01017a 182.5px,#00005e 183.5px,#00004e 185.5px,#00005b 187.5px,#030378 188.5px,#0f0fa8 189.5px,#3434d8 190.5px,#7070f4 191.5px,#adadfd 192.5px,#d6d6ff 193.5px,#f7f7ff 195.5px,#fefeff 206.5px,#ededff 209.5px,#c2c2ff 211.5px,#3e3efc 214.5px,#1a1af6 215.5px,#0808ef 216.5px,#0707ef 217.5px,#1313f5 218.5px,#5858fe 220.5px,#aaf 222.5px,#e0e0ff 224.5px,#fdfdff 227.5px,#fcfcff 247.5px,#ddf 250.5px,#c2c2ff 251.5px,#9898fd 252.5px,#6060f6 253.5px,#2c2ce2 254.5px,#0d0dbd 255.5px,#000070 257.5px,#00005a 258.5px,#00004d 261.5px,#005 264.5px,#000068 265.5px,#0c0cbb 267.5px,#2424e2 268.5px,#4b4bf7 269.5px,#9292ff 271.5px,#b3b3ff 273.5px,#c6c6ff 277.5px,#babaff 283.5px,#a1a1ff 286.5px,#7a7afe 288.5px,#5959fa 289.5px,#3434e9 290.5px,#1616c1 291.5px,#06068c 292.5px,#010163 293.5px,#000052 294.5px,#000052 307.5px,#000065 308.5px,#0e0ee6 311.5px,#1919f8 312.5px,#2b2bff 315.5px,#1616f6 318.5px,#0b0be1 319.5px,#000064 322.5px)"></i><i style="background:linear-gradient(90deg,#fff 0.5px,#f7f7ff 11.5px,#b7b7ff 19.5px,#bcbcff 21.5px,#fafaff 26.5px,#fcfcff 57.5px,#bfbfff 65.5px,#cdcdff 68.5px,#fbfbff 73.5px,#fcfcff 103.5px,#d8d8ff 107.5px,#a9a9ff 111.5px,#ababff 113.5px,#f6f6ff 119.5px,#fff 127.5px,#fdfdff 143.5px,#dfdfff 146.5px,#a8a8ff 149.5px,#9e9eff 150.5px,#a2a2ff 151.5px,#f3f3ff 155.5px,#fff 159.5px,#fdfdff 174.5px,#e8e8ff 176.5px,#cbcbff 177.5px,#9a9afc 178.5px,#5c5cf1 179.5px,#2626d6 180.5px,#0a0aad 181.5px,#020282 182.5px,#000062 183.5px,#00004e 185.5px,#00005e 187.5px,#04047e 188.5px,#1212af 189.5px,#3a3adc 190.5px,#7878f5 191.5px,#b3b3fe 192.5px,#dadaff 193.5px,#f9f9ff 195.5px,#fdfdff 207.5px,#e0e0ff 210.5px,#a2a2ff 212.5px,#4545fd 214.5px,#1f1ff9 215.5px,#0b0bf4 216.5px,#0909f4 217.5px,#1818f8 218.5px,#5f5fff 220.5px,#afafff 222.5px,#e3e3ff 224.5px,#fefeff 227.5px,#f8f8ff 248.5px,#e1e1ff 250.5px,#c8c8ff 251.5px,#a0a0fe 252.5px,#6a6af8 253.5px,#3333e7 254.5px,#1111c5 255.5px,#000078 257.5px,#00005f 258.5px,#00004e 260.5px,#00004f 263.5px,#000059 264.5px,#00006f 265.5px,#0f0fc2 267.5px,#2a2ae6 268.5px,#5252f9 269.5px,#9898ff 271.5px,#b7b7ff 273.5px,#c9c9ff 277.5px,#bebeff 283.5px,#9797ff 287.5px,#6161fc 289.5px,#3b3bef 290.5px,#1a1acc 291.5px,#080897 292.5px,#01016a 293.5px,#000054 294.5px,#00004d 305.5px,#000054 307.5px,#00006b 308.5px,#0808c9 310.5px,#1313ec 311.5px,#2c2cfe 313.5px,#3131ff 316.5px,#1e1ef9 318.5px,#1111e9 319.5px,#0606c5 320.5px,#00006c 322.5px)"></i><i style="background:linear-gradient(90deg,#fff 0.5px,#f8f8ff 11.5px,#b9b9ff 19.5px,#bebeff 21.5px,#fbfbff 26.5px,#fdfdff 57.5px,#c1c1ff 65.5px,#cfcfff 68.5px,#fcfcff 73.5px,#fdfdff 103.5px,#dbdbff 107.5px,#acacff 111.5px,#aeaeff 113.5px,#f8f8ff 119.5px,#fff 135.5px,#f9f9ff 144.5px,#d0d0ff 147.5px,#a2a2ff 150.5px,#a6a6ff 151.5px,#f4f4ff 155.5px,#fff 160.5px,#f8f8ff 175.5px,#ebebff 176.5px,#d0d0ff 177.5px,#a2a2fd 178.5px,#6464f4 179.5px,#2b2bdd 180.5px,#0c0cb5 181.5px,#000068 183.5px,#000056 184.5px,#000052 186.5px,#010162 187.5px,#050585 188.5px,#1616b5 189.5px,#4141e0 190.5px,#7f7ff7 191.5px,#b9b9fe 192.5px,#dedeff 193.5px,#fafaff 195.5px,#fafaff 208.5px,#e3e3ff 210.5px,#a8a8ff 212.5px,#2525fb 215.5px,#0f0ff8 216.5px,#0d0df8 217.5px,#1e1efb 218.5px,#b4b4ff 222.5px,#e6e6ff 224.5px,#fefeff 227.5px,#fafaff 248.5px,#e4e4ff 250.5px,#ceceff 251.5px,#a8a8fe 252.5px,#3c3ceb 254.5px,#1515cd 255.5px,#0505a6 256.5px,#000065 258.5px,#00004f 260.5px,#000051 263.5px,#00005d 264.5px,#010177 265.5px,#1212c9 267.5px,#3030ea 268.5px,#8080fe 270.5px,#afafff 272.5px,#cbcbff 276.5px,#c2c2ff 283.5px,#9c9cff 287.5px,#6969fd 289.5px,#4444f3 290.5px,#2020d4 291.5px,#0a0aa1 292.5px,#020270 293.5px,#000056 294.5px,#00004c 298.5px,#00004e 306.5px,#000057 307.5px,#010172 308.5px,#0c0cd3 310.5px,#1a1af1 311.5px,#3434ff 313.5px,#3a3aff 316.5px,#2727fb 318.5px,#1717ef 319.5px,#0a0ad0 320.5px,#000076 322.5px)"></i><i style="background:linear-gradient(90deg,#fff 0.5px,#f9f9ff 11.5px,#bcbcff 19.5px,#c1c1ff 21.5px,#fbfbff 26.5px,#f9f9ff 58.5px,#c4c4ff 65.5px,#d2d2ff 68.5px,#fcfcff 73.5px,#fafaff 104.5px,#afafff 111.5px,#b1b1ff 113.5px,#f9f9ff 119.5px,#fafaff 144.5px,#d3d3ff 147.5px,#a5a5ff 150.5px,#a9a9ff 151.5px,#f6f6ff 155.5px,#fff 161.5px,#f9f9ff 175.5px,#eef 176.5px,#d6d6ff 177.5px,#aaaafe 178.5px,#6d6df7 179.5px,#3232e2 180.5px,#0f0fbd 181.5px,#00006f 183.5px,#00005a 184.5px,#005 186.5px,#010167 187.5px,#06068c 188.5px,#1a1abb 189.5px,#4848e3 190.5px,#8787f8 191.5px,#bfbffe 192.5px,#e1e1ff 193.5px,#fbfbff 195.5px,#fbfbff 208.5px,#e6e6ff 210.5px,#adadff 212.5px,#2c2cfd 215.5px,#1414fb 216.5px,#1212fb 217.5px,#2424fd 218.5px,#b9b9ff 222.5px,#e9e9ff 224.5px,#fefeff 227.5px,#fbfbff 248.5px,#e8e8ff 250.5px,#d3d3ff 251.5px,#b0b0fe 252.5px,#4545ee 254.5px,#1a1ad4 255.5px,#0606af 256.5px,#00006d 258.5px,#000051 260.5px,#000054 263.5px,#000063 264.5px,#0505a7 266.5px,#1616d1 267.5px,#3636ee 268.5px,#8787fe 270.5px,#b4b4ff 272.5px,#cfcfff 276.5px,#c6c6ff 283.5px,#a1a1ff 287.5px,#7171fe 289.5px,#4c4cf5 290.5px,#2727db 291.5px,#0e0eaa 292.5px,#030377 293.5px,#000059 294.5px,#00004d 296.5px,#00004f 306.5px,#00005a 307.5px,#010179 308.5px,#1010db 310.5px,#2020f5 311.5px,#4343ff 314.5px,#3c3cff 317.5px,#1f1ff4 319.5px,#0f0fdb 320.5px,#010184 322.5px)"></i><i style="background:linear-gradient(90deg,#fff 0.5px,#fbfbff 11.5px,#bebeff 19.5px,#c3c3ff 21.5px,#fcfcff 26.5px,#fbfbff 58.5px,#c6c6ff 65.5px,#d4d4ff 68.5px,#fdfdff 73.5px,#fbfbff 104.5px,#c7c7ff 109.5px,#afafff 112.5px,#cdcdff 115.5px,#fafaff 119.5px,#fbfbff 144.5px,#d6d6ff 147.5px,#a9a9ff 150.5px,#adadff 151.5px,#f7f7ff 155.5px,#fff 163.5px,#fafaff 175.5px,#dbdbff 177.5px,#b2b2fe 178.5px,#7777f9 179.5px,#3a3ae7 180.5px,#1313c5 181.5px,#007 183.5px,#00005f 184.5px,#005 185.5px,#000059 186.5px,#01016e 187.5px,#070794 188.5px,#1e1ec2 189.5px,#4f4fe7 190.5px,#8f8ff9 191.5px,#c4c4fe 192.5px,#e5e5ff 193.5px,#fcfcff 195.5px,#fcfcff 208.5px,#e8e8ff 210.5px,#b3b3ff 212.5px,#3333fe 215.5px,#1b1bfe 216.5px,#1818fe 217.5px,#2b2bfe 218.5px,#bfbfff 222.5px,#ebebff 224.5px,#fefeff 227.5px,#fcfcff 248.5px,#ebebff 250.5px,#d7d7ff 251.5px,#b7b7ff 252.5px,#4d4df2 254.5px,#1f1fdb 255.5px,#0808b8 256.5px,#000075 258.5px,#000054 260.5px,#000051 262.5px,#00006a 264.5px,#0707b1 266.5px,#1919d8 267.5px,#3d3df1 268.5px,#8d8dff 270.5px,#b8b8ff 272.5px,#d2d2ff 276.5px,#cacaff 283.5px,#a7a7ff 287.5px,#7979fe 289.5px,#5555f8 290.5px,#2f2fe1 291.5px,#1212b4 292.5px,#040480 293.5px,#01015d 294.5px,#00004d 296.5px,#000050 306.5px,#00005f 307.5px,#020283 308.5px,#1616e2 310.5px,#2828f8 311.5px,#4c4cff 314.5px,#4545ff 317.5px,#2727f7 319.5px,#1515e3 320.5px,#020295 322.5px)"></i><i style="background:linear-gradient(90deg,#fff 0.5px,#f7f7ff 12.5px,#c0c0ff 19.5px,#c5c5ff 21.5px,#f7f7ff 25.5px,#fff 36.5px,#fcfcff 58.5px,#c8c8ff 65.5px,#d6d6ff 68.5px,#fefeff 73.5px,#fcfcff 104.5px,#cacaff 109.5px,#b2b2ff 112.5px,#cfcfff 115.5px,#fbfbff 119.5px,#fcfcff 144.5px,#d9d9ff 147.5px,#adadff 150.5px,#b0b0ff 151.5px,#f8f8ff 155.5px,#fff 168.5px,#fbfbff 175.5px,#e0e0ff 177.5px,#babafe 178.5px,#4343ea 180.5px,#1818cc 181.5px,#0505a4 182.5px,#006 184.5px,#00005a 185.5px,#00005f 186.5px,#010175 187.5px,#09099c 188.5px,#2323c9 189.5px,#5656ea 190.5px,#9696fa 191.5px,#cacafe 192.5px,#e8e8ff 193.5px,#fdfdff 195.5px,#fcfcff 208.5px,#ebebff 210.5px,#b8b8ff 212.5px,#3b3bff 215.5px,#2323ff 216.5px,#2020ff 217.5px,#3434ff 218.5px,#c4c4ff 222.5px,#eef 224.5px,#fff 227.5px,#fdfdff 248.5px,#eef 250.5px,#dcdcff 251.5px,#bebeff 252.5px,#5656f5 254.5px,#2525e2 255.5px,#0a0ac1 256.5px,#00007f 258.5px,#00005a 260.5px,#005 262.5px,#000072 264.5px,#0808ba 266.5px,#1d1ddf 267.5px,#4343f5 268.5px,#9494ff 270.5px,#bdbdff 272.5px,#d5d5ff 276.5px,#ceceff 283.5px,#acacff 287.5px,#8181fe 289.5px,#5e5efa 290.5px,#3636e8 291.5px,#1616bf 292.5px,#06068b 293.5px,#010163 294.5px,#000052 295.5px,#000052 306.5px,#000065 307.5px,#0b0bc1 309.5px,#1b1be8 310.5px,#3030fa 311.5px,#5454ff 314.5px,#4f4fff 317.5px,#3131fa 319.5px,#1c1cea 320.5px,#0303a7 322.5px)"></i><i style="background:linear-gradient(90deg,#fff 0.5px,#f9f9ff 12.5px,#c3c3ff 19.5px,#c8c8ff 21.5px,#f8f8ff 25.5px,#fefeff 57.5px,#e8e8ff 61.5px,#cacaff 65.5px,#d8d8ff 68.5px,#fbfbff 72.5px,#fdfdff 104.5px,#d9d9ff 108.5px,#b8b8ff 111.5px,#babaff 113.5px,#f6f6ff 118.5px,#fff 126.5px,#fcfcff 144.5px,#dbdbff 147.5px,#b0b0ff 150.5px,#b4b4ff 151.5px,#f9f9ff 155.5px,#fcfcff 175.5px,#e4e4ff 177.5px,#c2c2fe 178.5px,#4c4cee 180.5px,#1d1dd2 181.5px,#0707ad 182.5px,#00006f 184.5px,#000062 185.5px,#006 186.5px,#01017e 187.5px,#0a0aa5 188.5px,#2727cf 189.5px,#5d5dee 190.5px,#9d9dfb 191.5px,#cfcffe 192.5px,#ebebff 193.5px,#fdfdff 195.5px,#f8f8ff 209.5px,#dbdbff 211.5px,#9797ff 213.5px,#44f 215.5px,#2c2cff 216.5px,#2929ff 217.5px,#3d3dff 218.5px,#c9c9ff 222.5px,#f0f0ff 224.5px,#fff 228.5px,#fafaff 249.5px,#e1e1ff 251.5px,#c5c5ff 252.5px,#9999fe 253.5px,#2c2ce7 255.5px,#0d0dca 256.5px,#008 258.5px,#000062 260.5px,#00005c 262.5px,#00007b 264.5px,#0a0ac2 266.5px,#2222e4 267.5px,#4b4bf7 268.5px,#9a9aff 270.5px,#c1c1ff 272.5px,#d9d9ff 276.5px,#d1d1ff 283.5px,#b1b1ff 287.5px,#88f 289.5px,#3e3eee 291.5px,#1b1bca 292.5px,#080896 293.5px,#01016a 294.5px,#000054 295.5px,#00004e 305.5px,#000054 306.5px,#01016b 307.5px,#0f0fcb 309.5px,#22e 310.5px,#4a4aff 312.5px,#5f5fff 315.5px,#4d4dff 318.5px,#2424f0 320.5px,#0404b8 322.5px)"></i><i style="background:linear-gradient(90deg,#fff 0.5px,#fafaff 12.5px,#c5c5ff 19.5px,#cacaff 21.5px,#fafaff 25.5px,#f9f9ff 59.5px,#ccf 65.5px,#dbdbff 68.5px,#fcfcff 72.5px,#f9f9ff 105.5px,#bbf 111.5px,#bdbdff 113.5px,#f7f7ff 118.5px,#fff 133.5px,#f8f8ff 145.5px,#b4b4ff 150.5px,#b7b7ff 151.5px,#f9f9ff 155.5px,#fdfdff 175.5px,#e8e8ff 177.5px,#c8c8ff 178.5px,#5555f1 180.5px,#2222d9 181.5px,#0909b6 182.5px,#000078 184.5px,#00006b 185.5px,#000070 186.5px,#020287 187.5px,#0b0bae 188.5px,#2b2bd6 189.5px,#6565f1 190.5px,#a5a5fc 191.5px,#d4d4ff 192.5px,#eef 193.5px,#fefeff 195.5px,#f9f9ff 209.5px,#dedeff 211.5px,#9e9eff 213.5px,#4d4dff 215.5px,#3535ff 216.5px,#33f 217.5px,#4646ff 218.5px,#ceceff 222.5px,#f3f3ff 224.5px,#fff 228.5px,#fbfbff 249.5px,#e5e5ff 251.5px,#ccf 252.5px,#a3a3fe 253.5px,#3434ec 255.5px,#1111d2 256.5px,#000092 258.5px,#00006b 260.5px,#000065 262.5px,#000085 264.5px,#0e0eca 266.5px,#2929e9 267.5px,#7e7efe 269.5px,#b7b7ff 271.5px,#d6d6ff 274.5px,#d8d8ff 282.5px,#c1c1ff 286.5px,#9090ff 289.5px,#4747f2 291.5px,#2121d4 292.5px,#0b0ba1 293.5px,#020271 294.5px,#000056 295.5px,#00004c 299.5px,#00004e 305.5px,#000056 306.5px,#010171 307.5px,#1313d4 309.5px,#2929f2 310.5px,#5252ff 312.5px,#6868ff 315.5px,#5757ff 318.5px,#2c2cf5 320.5px,#0707c8 322.5px)"></i><i style="background:linear-gradient(90deg,#fff 0.5px,#fbfbff 12.5px,#c8c8ff 19.5px,#cdcdff 21.5px,#fafaff 25.5px,#fbfbff 59.5px,#cfcfff 65.5px,#ddf 68.5px,#fdfdff 72.5px,#fbfbff 105.5px,#bebeff 111.5px,#c0c0ff 113.5px,#f9f9ff 118.5px,#fdfdff 144.5px,#e1e1ff 147.5px,#b7b7ff 150.5px,#bbf 151.5px,#f1f1ff 154.5px,#fff 157.5px,#f9f9ff 176.5px,#ebebff 177.5px,#cfcfff 178.5px,#9d9dfd 179.5px,#5e5ef4 180.5px,#2727e0 181.5px,#0a0abf 182.5px,#000082 184.5px,#000075 185.5px,#00007a 186.5px,#020291 187.5px,#0d0db7 188.5px,#3030dd 189.5px,#6c6cf4 190.5px,#acacfd 191.5px,#d9d9ff 192.5px,#f0f0ff 193.5px,#fff 196.5px,#fafaff 209.5px,#e2e2ff 211.5px,#a5a5ff 213.5px,#5757ff 215.5px,#3f3fff 216.5px,#3c3cff 217.5px,#4f4fff 218.5px,#d2d2ff 222.5px,#f5f5ff 224.5px,#fff 229.5px,#fcfcff 249.5px,#e9e9ff 251.5px,#d2d2ff 252.5px,#acacfe 253.5px,#3e3ef0 255.5px,#1717d9 256.5px,#0505ba 257.5px,#000085 259.5px,#00006d 261.5px,#000079 263.5px,#0404af 265.5px,#1111d1 266.5px,#3030ed 267.5px,#8686fe 269.5px,#bcbcff 271.5px,#d9d9ff 274.5px,#dbdbff 282.5px,#c6c6ff 286.5px,#9797ff 289.5px,#5151f5 291.5px,#2929db 292.5px,#0f0fab 293.5px,#030379 294.5px,#00005a 295.5px,#00004d 297.5px,#00004f 305.5px,#00005a 306.5px,#020278 307.5px,#1919db 309.5px,#3030f5 310.5px,#5a5aff 312.5px,#7070ff 315.5px,#6161ff 318.5px,#3636f9 320.5px,#0a0ad7 322.5px)"></i><i style="background:linear-gradient(90deg,#fff 0.5px,#f8f8ff 13.5px,#cacaff 19.5px,#cfcfff 21.5px,#fbfbff 25.5px,#fcfcff 59.5px,#d1d1ff 65.5px,#e0e0ff 68.5px,#fdfdff 72.5px,#fcfcff 105.5px,#bfbfff 112.5px,#fafaff 118.5px,#fafaff 145.5px,#bbf 150.5px,#ceceff 152.5px,#f2f2ff 154.5px,#fff 158.5px,#fafaff 176.5px,#efefff 177.5px,#d5d5ff 178.5px,#a7a7fe 179.5px,#2e2ee6 181.5px,#0d0dc8 182.5px,#00008c 184.5px,#00007f 185.5px,#000083 186.5px,#03039b 187.5px,#1010bf 188.5px,#3636e2 189.5px,#7575f7 190.5px,#b3b3fe 191.5px,#ddf 192.5px,#f3f3ff 193.5px,#fff 197.5px,#fbfbff 209.5px,#e5e5ff 211.5px,#ababff 213.5px,#5f5fff 215.5px,#4848ff 216.5px,#4646ff 217.5px,#5858ff 218.5px,#d7d7ff 222.5px,#f7f7ff 224.5px,#fff 232.5px,#fdfdff 249.5px,#ececff 251.5px,#d8d8ff 252.5px,#b4b4ff 253.5px,#4848f3 255.5px,#1c1ce0 256.5px,#0707c3 257.5px,#00008f 259.5px,#007 261.5px,#000084 263.5px,#0505b8 265.5px,#1515d9 266.5px,#3737f0 267.5px,#8e8efe 269.5px,#c1c1ff 271.5px,#dcdcff 274.5px,#dedeff 282.5px,#cacaff 286.5px,#9e9eff 289.5px,#5b5bf8 291.5px,#3232e2 292.5px,#1313b7 293.5px,#050584 294.5px,#010160 295.5px,#00004d 297.5px,#000050 305.5px,#00005e 306.5px,#030381 307.5px,#1f1fe2 309.5px,#3939f8 310.5px,#6363ff 312.5px,#7979ff 315.5px,#6b6bff 318.5px,#4141fb 320.5px,#0f0fe4 322.5px)"></i><i style="background:linear-gradient(90deg,#fff 0.5px,#f9f9ff 13.5px,#cdcdff 19.5px,#d2d2ff 21.5px,#fcfcff 25.5px,#fcfcff 59.5px,#d3d3ff 65.5px,#e2e2ff 68.5px,#fefeff 72.5px,#fcfcff 105.5px,#c2c2ff 112.5px,#fbfbff 118.5px,#fbfbff 145.5px,#bebeff 150.5px,#d1d1ff 152.5px,#f4f4ff 154.5px,#fff 158.5px,#fbfbff 176.5px,#f2f2ff 177.5px,#dbdbff 178.5px,#b0b0fe 179.5px,#3636ea 181.5px,#1111cf 182.5px,#000096 184.5px,#000089 185.5px,#00008d 186.5px,#0404a4 187.5px,#1414c6 188.5px,#3e3ee6 189.5px,#7e7ef8 190.5px,#bbbbfe 191.5px,#e2e2ff 192.5px,#fcfcff 194.5px,#fcfcff 209.5px,#e8e8ff 211.5px,#b2b2ff 213.5px,#6868ff 215.5px,#5151ff 216.5px,#4f4fff 217.5px,#6161ff 218.5px,#dbdbff 222.5px,#f8f8ff 224.5px,#fff 248.5px,#f0f0ff 251.5px,#ddf 252.5px,#bdbdff 253.5px,#5252f7 255.5px,#2222e6 256.5px,#0909cc 257.5px,#009 259.5px,#000081 261.5px,#00008e 263.5px,#0707c1 265.5px,#1919df 266.5px,#6c6cfc 268.5px,#b2b2ff 270.5px,#d2d2ff 272.5px,#e5e5ff 277.5px,#d6d6ff 285.5px,#b7b7ff 288.5px,#8a8afe 290.5px,#6565fa 291.5px,#3a3ae9 292.5px,#1818c3 293.5px,#060690 294.5px,#010167 295.5px,#000053 296.5px,#00004d 304.5px,#000052 305.5px,#010164 306.5px,#04048c 307.5px,#1010c0 308.5px,#2626e8 309.5px,#4141fa 310.5px,#6c6cff 312.5px,#8181ff 315.5px,#7575ff 318.5px,#4c4cfd 320.5px,#1414f0 322.5px)"></i><i style="background:linear-gradient(90deg,#fff 0.5px,#fbfbff 13.5px,#cfcfff 19.5px,#d4d4ff 21.5px,#fdfdff 25.5px,#f9f9ff 60.5px,#d6d6ff 65.5px,#e4e4ff 68.5px,#fefeff 72.5px,#f9f9ff 106.5px,#c5c5ff 112.5px,#fcfcff 118.5px,#fcfcff 145.5px,#dadaff 148.5px,#c2c2ff 150.5px,#d4d4ff 152.5px,#f5f5ff 154.5px,#fff 160.5px,#fcfcff 176.5px,#e1e1ff 178.5px,#babafe 179.5px,#4040ee 181.5px,#1616d6 182.5px,#0505b9 183.5px,#0101a0 184.5px,#000093 185.5px,#010197 186.5px,#0606ad 187.5px,#1919cd 188.5px,#4646ea 189.5px,#c2c2fe 191.5px,#e6e6ff 192.5px,#fdfdff 194.5px,#fdfdff 209.5px,#ebebff 211.5px,#b8b8ff 213.5px,#7171ff 215.5px,#5b5bff 216.5px,#5858ff 217.5px,#6a6aff 218.5px,#dfdfff 222.5px,#fafaff 224.5px,#fbfbff 250.5px,#e2e2ff 252.5px,#c5c5ff 253.5px,#5d5df9 255.5px,#2a2aec 256.5px,#0c0cd5 257.5px,#0000a3 259.5px,#00008b 261.5px,#000098 263.5px,#0909ca 265.5px,#1e1ee6 266.5px,#7575fd 268.5px,#b8b8ff 270.5px,#dedeff 273.5px,#e6e6ff 281.5px,#d3d3ff 286.5px,#ababff 289.5px,#6f6ffc 291.5px,#4444ef 292.5px,#1e1ece 293.5px,#09099c 294.5px,#02026f 295.5px,#000056 296.5px,#00004c 301.5px,#000054 305.5px,#01016a 306.5px,#1414cb 308.5px,#2d2dee 309.5px,#6363ff 311.5px,#8787ff 314.5px,#8686ff 317.5px,#6f6fff 319.5px,#1d1df9 322.5px)"></i><i style="background:linear-gradient(90deg,#fff 0.5px,#f7f7ff 14.5px,#d2d2ff 19.5px,#d7d7ff 21.5px,#fdfdff 25.5px,#fbfbff 60.5px,#d8d8ff 65.5px,#f0f0ff 69.5px,#fff 73.5px,#fafaff 106.5px,#c8c8ff 112.5px,#fdfdff 118.5px,#fdfdff 145.5px,#ddf 148.5px,#c5c5ff 150.5px,#d7d7ff 152.5px,#f7f7ff 154.5px,#fff 162.5px,#fdfdff 176.5px,#e6e6ff 178.5px,#c2c2ff 179.5px,#4a4af2 181.5px,#1c1cdd 182.5px,#0707c2 183.5px,#00009d 185.5px,#0101a1 186.5px,#0707b6 187.5px,#1e1ed4 188.5px,#4f4fee 189.5px,#c8c8fe 191.5px,#e9e9ff 192.5px,#fefeff 194.5px,#f9f9ff 210.5px,#dbdbff 212.5px,#7a7aff 215.5px,#6464ff 216.5px,#6262ff 217.5px,#8f8fff 219.5px,#e3e3ff 222.5px,#fbfbff 224.5px,#fcfcff 250.5px,#e7e7ff 252.5px,#cdcdff 253.5px,#a2a2fe 254.5px,#3434f1 256.5px,#1111dc 257.5px,#0000ad 259.5px,#000095 261.5px,#0000a2 263.5px,#0b0bd2 265.5px,#2424eb 266.5px,#7e7efe 268.5px,#bebeff 270.5px,#e1e1ff 273.5px,#e8e8ff 281.5px,#d7d7ff 286.5px,#b2b2ff 289.5px,#7979fd 291.5px,#4e4ef4 292.5px,#2626d8 293.5px,#0c0ca9 294.5px,#030378 295.5px,#00005a 296.5px,#00004d 298.5px,#00004e 304.5px,#000056 305.5px,#020271 306.5px,#1919d4 308.5px,#3535f2 309.5px,#6c6cff 311.5px,#9090ff 314.5px,#9090ff 317.5px,#7a7aff 319.5px,#2929fd 322.5px)"></i><i style="background:linear-gradient(90deg,#fff 0.5px,#f9f9ff 14.5px,#d3d3ff 20.5px,#fefeff 25.5px,#fcfcff 60.5px,#dbdbff 65.5px,#fff 72.5px,#fbfbff 106.5px,#cbcbff 112.5px,#fdfdff 118.5px,#f8f8ff 146.5px,#c9c9ff 150.5px,#dadaff 152.5px,#f8f8ff 154.5px,#fff 169.5px,#f9f9ff 177.5px,#eaeaff 178.5px,#cacaff 179.5px,#5555f5 181.5px,#2222e4 182.5px,#0909cb 183.5px,#0000a7 185.5px,#0101ab 186.5px,#0909bf 187.5px,#2323db 188.5px,#5858f1 189.5px,#9a9afc 190.5px,#cfcfff 191.5px,#ededff 192.5px,#fefeff 194.5px,#fafaff 210.5px,#dfdfff 212.5px,#8383ff 215.5px,#6d6dff 216.5px,#6b6bff 217.5px,#9797ff 219.5px,#e7e7ff 222.5px,#fcfcff 224.5px,#fdfdff 250.5px,#ebebff 252.5px,#d4d4ff 253.5px,#acacff 254.5px,#3e3ef4 256.5px,#1717e3 257.5px,#0606cc 258.5px,#0000a7 260.5px,#0000a0 262.5px,#0303c0 264.5px,#0f0fda 265.5px,#2c2cef 266.5px,#8787fe 268.5px,#c4c4ff 270.5px,#e4e4ff 273.5px,#ebebff 281.5px,#d3d3ff 287.5px,#a2a2ff 290.5px,#5959f7 292.5px,#2f2fe1 293.5px,#1111b6 294.5px,#040484 295.5px,#010161 296.5px,#00004d 298.5px,#00004f 304.5px,#00005a 305.5px,#030379 306.5px,#1f1fdb 308.5px,#3e3ef5 309.5px,#7575ff 311.5px,#99f 314.5px,#99f 317.5px,#8484ff 319.5px,#3737ff 322.5px)"></i><i style="background:linear-gradient(90deg,#fff 0.5px,#fafaff 14.5px,#d6d6ff 20.5px,#fefeff 25.5px,#f8f8ff 61.5px,#ddf 65.5px,#fff 72.5px,#fcfcff 106.5px,#ceceff 112.5px,#fefeff 118.5px,#fafaff 146.5px,#ccf 150.5px,#ddf 152.5px,#fefeff 155.5px,#fafaff 177.5px,#eef 178.5px,#d2d2ff 179.5px,#a0a0fe 180.5px,#2929ea 182.5px,#0c0cd3 183.5px,#0000b1 185.5px,#0202b5 186.5px,#0b0bc8 187.5px,#2828e2 188.5px,#a3a3fd 190.5px,#d5d5ff 191.5px,#f0f0ff 192.5px,#fff 195.5px,#fbfbff 210.5px,#e3e3ff 212.5px,#8b8bff 215.5px,#77f 216.5px,#7474ff 217.5px,#9f9fff 219.5px,#ebebff 222.5px,#fff 225.5px,#fafaff 251.5px,#dadaff 253.5px,#b7b7ff 254.5px,#4a4af7 256.5px,#1e1eea 257.5px,#0808d5 258.5px,#0000b1 260.5px,#00a 262.5px,#0505ca 264.5px,#1414e1 265.5px,#3434f3 266.5px,#9090ff 268.5px,#cacaff 270.5px,#e7e7ff 273.5px,#ededff 282.5px,#d8d8ff 287.5px,#aaf 290.5px,#6565f9 292.5px,#3939e8 293.5px,#1717c3 294.5px,#010169 296.5px,#000054 297.5px,#00004d 303.5px,#01015f 305.5px,#040483 306.5px,#0f0fb6 307.5px,#2727e2 308.5px,#4747f8 309.5px,#7e7eff 311.5px,#a1a1ff 314.5px,#a2a2ff 317.5px,#8f8fff 319.5px,#4747ff 322.5px)"></i><i style="background:linear-gradient(90deg,#fff 0.5px,#fcfcff 14.5px,#d9d9ff 20.5px,#fefeff 25.5px,#fafaff 61.5px,#e1e1ff 66.5px,#fefeff 71.5px,#f9f9ff 107.5px,#d1d1ff 112.5px,#fcfcff 117.5px,#fbfbff 146.5px,#d0d0ff 150.5px,#e1e1ff 152.5px,#fefeff 155.5px,#fcfcff 177.5px,#f2f2ff 178.5px,#dadaff 179.5px,#acacfe 180.5px,#3232ef 182.5px,#1010db 183.5px,#0101bb 185.5px,#0202be 186.5px,#0d0dd1 187.5px,#2f2fe8 188.5px,#acacfd 190.5px,#dbdbff 191.5px,#f3f3ff 192.5px,#fff 195.5px,#fcfcff 210.5px,#e7e7ff 212.5px,#8080ff 216.5px,#7e7eff 217.5px,#a7a7ff 219.5px,#eef 222.5px,#fff 225.5px,#fbfbff 251.5px,#e1e1ff 253.5px,#c1c1ff 254.5px,#2626f0 257.5px,#0b0bde 258.5px,#00b 260.5px,#0000b4 262.5px,#0606d3 264.5px,#1919e8 265.5px,#6d6dfd 267.5px,#b9b9ff 269.5px,#ddf 271.5px,#f2f2ff 276.5px,#e7e7ff 285.5px,#c5c5ff 289.5px,#9797ff 291.5px,#4444ef 293.5px,#1d1dcf 294.5px,#0808a0 295.5px,#010173 296.5px,#000059 297.5px,#00004d 300.5px,#000053 304.5px,#010166 305.5px,#1313c2 307.5px,#2f2fe8 308.5px,#5151fa 309.5px,#88f 311.5px,#aaf 314.5px,#a4a4ff 318.5px,#8787ff 320.5px,#5656ff 322.5px)"></i><i style="background:linear-gradient(90deg,#fff 0.5px,#f9f9ff 15.5px,#dcdcff 20.5px,#fcfcff 24.5px,#fbfbff 61.5px,#e4e4ff 66.5px,#fefeff 71.5px,#fbfbff 107.5px,#d4d4ff 112.5px,#fcfcff 117.5px,#fcfcff 146.5px,#d4d4ff 150.5px,#e4e4ff 152.5px,#fefeff 155.5px,#fdfdff 177.5px,#f5f5ff 178.5px,#e0e0ff 179.5px,#b7b7fe 180.5px,#3d3df3 182.5px,#1515e2 183.5px,#0505cf 184.5px,#0101c4 185.5px,#0303c8 186.5px,#1111d9 187.5px,#3737ed 188.5px,#b6b6fe 190.5px,#e1e1ff 191.5px,#f5f5ff 192.5px,#fff 197.5px,#fdfdff 210.5px,#ebebff 212.5px,#8989ff 216.5px,#8787ff 217.5px,#afafff 219.5px,#f1f1ff 222.5px,#fff 226.5px,#fcfcff 251.5px,#e6e6ff 253.5px,#cacaff 254.5px,#3030f4 257.5px,#1010e5 258.5px,#0000c5 260.5px,#0000be 262.5px,#0909db 264.5px,#1f1fee 265.5px,#a2a2ff 268.5px,#d4d4ff 270.5px,#f1f1ff 274.5px,#eef 284.5px,#d8d8ff 288.5px,#b9b9ff 290.5px,#7c7cfd 292.5px,#4f4ff4 293.5px,#2626db 294.5px,#0c0cae 295.5px,#02027f 296.5px,#00005f 297.5px,#00004d 299.5px,#000056 304.5px,#01016e 305.5px,#1818cd 307.5px,#3737ee 308.5px,#7b7bff 310.5px,#a3a3ff 312.5px,#b6b6ff 315.5px,#aeaeff 318.5px,#9292ff 320.5px,#6565ff 322.5px)"></i><i style="background:linear-gradient(90deg,#fff 0.5px,#fafaff 15.5px,#dfdfff 20.5px,#fdfdff 24.5px,#fcfcff 61.5px,#e7e7ff 66.5px,#fff 71.5px,#fcfcff 107.5px,#d8d8ff 112.5px,#fdfdff 117.5px,#fdfdff 146.5px,#d7d7ff 150.5px,#e7e7ff 152.5px,#fefeff 155.5px,#fdfdff 177.5px,#e6e6ff 179.5px,#c2c2ff 180.5px,#4a4af6 182.5px,#1c1ce9 183.5px,#0707d8 184.5px,#0202ce 185.5px,#0505d1 186.5px,#1616e0 187.5px,#4141f1 188.5px,#bfbffe 190.5px,#e6e6ff 191.5px,#fdfdff 193.5px,#f9f9ff 211.5px,#dadaff 213.5px,#9292ff 216.5px,#9090ff 217.5px,#b6b6ff 219.5px,#f4f4ff 222.5px,#fff 227.5px,#f8f8ff 252.5px,#ececff 253.5px,#d3d3ff 254.5px,#a9a9ff 255.5px,#3c3cf8 257.5px,#1717ec 258.5px,#0606dc 259.5px,#0000c7 261.5px,#0303d2 263.5px,#0d0de3 264.5px,#2727f2 265.5px,#ababff 268.5px,#d9d9ff 270.5px,#f4f4ff 274.5px,#f1f1ff 284.5px,#dcdcff 288.5px,#c1c1ff 290.5px,#8888fe 292.5px,#5c5cf8 293.5px,#3030e4 294.5px,#1212bd 295.5px,#010169 297.5px,#005 298.5px,#00004d 302.5px,#00005a 304.5px,#020277 305.5px,#0a0aa7 306.5px,#1f1fd7 307.5px,#4141f3 308.5px,#8585ff 310.5px,#adadff 312.5px,#bfbfff 315.5px,#b7b7ff 318.5px,#88f 321.5px,#7575ff 322.5px)"></i><i style="background:linear-gradient(90deg,#fff 0.5px,#fcfcff 15.5px,#e2e2ff 20.5px,#fefeff 24.5px,#fafaff 62.5px,#e9e9ff 66.5px,#fff 71.5px,#fdfdff 107.5px,#dbdbff 112.5px,#fefeff 117.5px,#f9f9ff 147.5px,#dbdbff 150.5px,#e9e9ff 152.5px,#fff 155.5px,#fafaff 178.5px,#ececff 179.5px,#ccf 180.5px,#2424ef 183.5px,#0a0ae1 184.5px,#0707da 186.5px,#1c1ce7 187.5px,#4c4cf5 188.5px,#c7c7ff 190.5px,#eaeaff 191.5px,#fefeff 193.5px,#fafaff 211.5px,#dfdfff 213.5px,#9b9bff 216.5px,#99f 217.5px,#bebeff 219.5px,#eaeaff 221.5px,#fff 224.5px,#fafaff 252.5px,#dbdbff 254.5px,#b6b6ff 255.5px,#4a4afa 257.5px,#1f1ff2 258.5px,#0909e5 259.5px,#0000d1 261.5px,#0404dc 263.5px,#1212ea 264.5px,#3030f6 265.5px,#b3b3ff 268.5px,#dedeff 270.5px,#f7f7ff 274.5px,#f2f2ff 285.5px,#d7d7ff 289.5px,#b3b3ff 291.5px,#6a6afa 293.5px,#3c3cec 294.5px,#1818cb 295.5px,#06069f 296.5px,#010175 297.5px,#00005b 298.5px,#00004d 300.5px,#000052 303.5px,#000061 304.5px,#030383 305.5px,#0e0eb4 306.5px,#2727e0 307.5px,#4b4bf7 308.5px,#9090ff 310.5px,#b6b6ff 312.5px,#c7c7ff 315.5px,#b7b7ff 319.5px,#8383ff 322.5px)"></i><i style="background:linear-gradient(90deg,#fff 0.5px,#f9f9ff 16.5px,#e5e5ff 20.5px,#fefeff 24.5px,#fbfbff 62.5px,#ececff 66.5px,#fff 71.5px,#fafaff 108.5px,#dfdfff 112.5px,#fefeff 117.5px,#fafaff 147.5px,#dfdfff 150.5px,#fff 155.5px,#fbfbff 178.5px,#f0f0ff 179.5px,#d5d5ff 180.5px,#a4a4fe 181.5px,#2e2ef4 183.5px,#0f0fe9 184.5px,#0404e1 185.5px,#0909e3 186.5px,#2323ed 187.5px,#5757f8 188.5px,#d0d0ff 190.5px,#efefff 191.5px,#fefeff 193.5px,#fcfcff 211.5px,#e4e4ff 213.5px,#a4a4ff 216.5px,#a2a2ff 217.5px,#eef 221.5px,#fff 224.5px,#fcfcff 252.5px,#e2e2ff 254.5px,#c2c2ff 255.5px,#2a2af7 258.5px,#0e0eec 259.5px,#0101da 261.5px,#0707e4 263.5px,#1818f0 264.5px,#3b3bf9 265.5px,#9898ff 267.5px,#d4d4ff 269.5px,#f3f3ff 272.5px,#fcfcff 281.5px,#e6e6ff 288.5px,#bbf 291.5px,#7878fc 293.5px,#4a4af2 294.5px,#2121d9 295.5px,#0a0ab0 296.5px,#000065 298.5px,#00004f 300.5px,#000056 303.5px,#01016a 304.5px,#1313c1 306.5px,#3030e7 307.5px,#5757f9 308.5px,#9c9cff 310.5px,#c0c0ff 312.5px,#cfcfff 316.5px,#c1c1ff 319.5px,#9191ff 322.5px)"></i><i style="background:linear-gradient(90deg,#fff 0.5px,#fbfbff 16.5px,#e9e9ff 20.5px,#fff 25.5px,#fcfcff 62.5px,#efefff 66.5px,#fff 72.5px,#fbfbff 108.5px,#e2e2ff 112.5px,#fefeff 117.5px,#fbfbff 147.5px,#e3e3ff 150.5px,#fff 155.5px,#fdfdff 178.5px,#f4f4ff 179.5px,#dedeff 180.5px,#b2b2ff 181.5px,#3b3bf8 183.5px,#1515f0 184.5px,#0707e9 185.5px,#0d0deb 186.5px,#2b2bf3 187.5px,#a5a5fe 189.5px,#d8d8ff 190.5px,#f2f2ff 191.5px,#fff 194.5px,#fdfdff 211.5px,#e9e9ff 213.5px,#adadff 216.5px,#ababff 217.5px,#f1f1ff 221.5px,#fff 225.5px,#fdfdff 252.5px,#e9e9ff 254.5px,#cdcdff 255.5px,#3737fa 258.5px,#1616f3 259.5px,#0101e4 261.5px,#0a0aec 263.5px,#2020f6 264.5px,#a3a3ff 267.5px,#dbdbff 269.5px,#f6f6ff 272.5px,#fcfcff 283.5px,#e2e2ff 289.5px,#c4c4ff 291.5px,#8686fe 293.5px,#5858f7 294.5px,#2c2ce4 295.5px,#0f0fc1 296.5px,#000074 298.5px,#000053 300.5px,#000052 302.5px,#00005d 303.5px,#010177 304.5px,#0707a1 305.5px,#1919cf 306.5px,#3a3aee 307.5px,#8a8afe 309.5px,#bcbcff 311.5px,#d5d5ff 314.5px,#d1d1ff 318.5px,#9f9fff 322.5px)"></i><i style="background:linear-gradient(90deg,#fff 0.5px,#f8f8ff 17.5px,#ececff 20.5px,#fff 25.5px,#fafaff 63.5px,#f2f2ff 66.5px,#fff 72.5px,#fcfcff 108.5px,#e6e6ff 112.5px,#fff 117.5px,#fcfcff 147.5px,#e7e7ff 150.5px,#fff 155.5px,#fdfdff 178.5px,#e6e6ff 180.5px,#c0c0ff 181.5px,#4a4afb 183.5px,#1f1ff6 184.5px,#0c0cf1 185.5px,#1313f2 186.5px,#3636f8 187.5px,#b2b2fe 189.5px,#dfdfff 190.5px,#f5f5ff 191.5px,#fff 196.5px,#f8f8ff 212.5px,#b6b6ff 216.5px,#b4b4ff 217.5px,#f4f4ff 221.5px,#fff 226.5px,#fafaff 253.5px,#efefff 254.5px,#d7d7ff 255.5px,#afafff 256.5px,#4747fd 258.5px,#2020f8 259.5px,#0b0bf2 260.5px,#0505ee 262.5px,#1010f3 263.5px,#2b2bfa 264.5px,#afafff 267.5px,#e1e1ff 269.5px,#f9f9ff 272.5px,#fbfbff 285.5px,#e7e7ff 289.5px,#cdcdff 291.5px,#9494fe 293.5px,#3a3aed 295.5px,#1717d1 296.5px,#010186 298.5px,#00005d 300.5px,#00005a 302.5px,#000069 303.5px,#020287 304.5px,#0a0ab2 305.5px,#2020db 306.5px,#4646f4 307.5px,#9797ff 309.5px,#c6c6ff 311.5px,#dbdbff 314.5px,#d2d2ff 319.5px,#acacff 322.5px)"></i><i style="background:linear-gradient(90deg,#fff 0.5px,#fafaff 17.5px,#efefff 20.5px,#fff 25.5px,#fcfcff 63.5px,#f8f8ff 67.5px,#fff 101.5px,#fafaff 109.5px,#eaeaff 112.5px,#fff 117.5px,#f8f8ff 148.5px,#ececff 151.5px,#fff 155.5px,#fafaff 179.5px,#ececff 180.5px,#ccf 181.5px,#2b2bfa 184.5px,#1515f7 185.5px,#1c1cf8 186.5px,#4343fb 187.5px,#bebeff 189.5px,#e6e6ff 190.5px,#f8f8ff 191.5px,#fff 208.5px,#fafaff 212.5px,#bfbfff 216.5px,#bdbdff 217.5px,#f7f7ff 221.5px,#fff 231.5px,#fcfcff 253.5px,#e0e0ff 255.5px,#bebeff 256.5px,#2e2efc 259.5px,#1313f8 260.5px,#0808f5 261.5px,#0a0af5 262.5px,#1919f9 263.5px,#3838fc 264.5px,#babaff 267.5px,#e6e6ff 269.5px,#fefeff 273.5px,#f8f8ff 287.5px,#d5d5ff 291.5px,#a2a2ff 293.5px,#4a4af4 295.5px,#2121df 296.5px,#0a0abe 297.5px,#00007f 299.5px,#006 301.5px,#000069 302.5px,#00007a 303.5px,#0f0fc2 305.5px,#2a2ae5 306.5px,#5454f8 307.5px,#a4a4ff 309.5px,#d0d0ff 311.5px,#e2e2ff 315.5px,#dadaff 319.5px,#b9b9ff 322.5px)"></i><i style="background:linear-gradient(90deg,#fff 0.5px,#fcfcff 17.5px,#f6f6ff 21.5px,#fff 30.5px,#fafaff 64.5px,#fbfbff 109.5px,#ededff 112.5px,#fff 118.5px,#fafaff 148.5px,#f0f0ff 151.5px,#fff 155.5px,#fcfcff 179.5px,#f2f2ff 180.5px,#d8d8ff 181.5px,#a9a9ff 182.5px,#3c3cfd 184.5px,#2222fc 185.5px,#2a2afc 186.5px,#5454fd 187.5px,#cacaff 189.5px,#ececff 190.5px,#fefeff 192.5px,#fcfcff 212.5px,#c7c7ff 216.5px,#c6c6ff 217.5px,#f9f9ff 221.5px,#fdfdff 253.5px,#e8e8ff 255.5px,#cbcbff 256.5px,#4040fe 259.5px,#2020fc 260.5px,#1212fb 261.5px,#1414fb 262.5px,#2626fc 263.5px,#7575ff 265.5px,#c5c5ff 267.5px,#ececff 269.5px,#fefeff 273.5px,#f7f7ff 288.5px,#dcdcff 291.5px,#b0b0ff 293.5px,#5c5cf9 295.5px,#2f2fea 296.5px,#1111d0 297.5px,#010195 299.5px,#00007a 301.5px,#00007e 302.5px,#01018f 303.5px,#1616d1 305.5px,#3737ed 306.5px,#8f8ffe 308.5px,#cacaff 310.5px,#e4e4ff 313.5px,#e0e0ff 319.5px,#c6c6ff 322.5px)"></i><i style="background:linear-gradient(90deg,#fff 0.5px,#fafaff 18.5px,#fcfcff 22.5px,#fcfcff 109.5px,#f4f4ff 113.5px,#fff 119.5px,#fcfcff 148.5px,#f3f3ff 151.5px,#fff 157.5px,#fdfdff 179.5px,#f6f6ff 180.5px,#e2e2ff 181.5px,#bbf 182.5px,#5151fe 184.5px,#3535fe 185.5px,#3d3dfe 186.5px,#6868ff 187.5px,#d5d5ff 189.5px,#f1f1ff 190.5px,#fff 192.5px,#fdfdff 212.5px,#d0d0ff 216.5px,#d8d8ff 218.5px,#fbfbff 221.5px,#fafaff 254.5px,#efefff 255.5px,#d8d8ff 256.5px,#5454ff 259.5px,#3232fe 260.5px,#2222fe 261.5px,#2323fe 262.5px,#3737fe 263.5px,#afafff 266.5px,#e4e4ff 268.5px,#fdfdff 271.5px,#fafaff 288.5px,#e4e4ff 291.5px,#bdbdff 293.5px,#7070fc 295.5px,#1c1ce0 297.5px,#0808c5 298.5px,#009 300.5px,#000094 302.5px,#0909c1 304.5px,#1f1fdf 305.5px,#7474fc 307.5px,#bfbfff 309.5px,#e0e0ff 311.5px,#ededff 316.5px,#d9d9ff 321.5px,#d1d1ff 322.5px)"></i><i style="background:linear-gradient(90deg,#fff 0.5px,#fdfdff 22.5px,#fafaff 110.5px,#f7f7ff 113.5px,#fff 124.5px,#f9f9ff 149.5px,#f9f9ff 180.5px,#ebebff 181.5px,#cbcbff 182.5px,#6969ff 184.5px,#4d4dff 185.5px,#5454ff 186.5px,#7d7dff 187.5px,#dfdfff 189.5px,#f5f5ff 190.5px,#fff 195.5px,#f9f9ff 213.5px,#d8d8ff 216.5px,#e0e0ff 218.5px,#fdfdff 221.5px,#fcfcff 254.5px,#e3e3ff 256.5px,#9898ff 258.5px,#4848ff 260.5px,#3636ff 261.5px,#3737ff 262.5px,#4b4bff 263.5px,#bebeff 266.5px,#ebebff 268.5px,#fefeff 271.5px,#f9f9ff 289.5px,#dedeff 292.5px,#adadff 294.5px,#5656f9 296.5px,#2b2bec 297.5px,#1010d8 298.5px,#0101b1 300.5px,#0101ac 302.5px,#1010d3 304.5px,#2c2cea 305.5px,#8787fe 307.5px,#ccf 309.5px,#e7e7ff 311.5px,#f1f1ff 317.5px,#dbdbff 322.5px)"></i><i style="background:linear-gradient(90deg,#fff 0.5px,#f9f9ff 111.5px,#fbfbff 149.5px,#fcfcff 180.5px,#f2f2ff 181.5px,#d9d9ff 182.5px,#8383ff 184.5px,#6767ff 185.5px,#6d6dff 186.5px,#e8e8ff 189.5px,#fefeff 191.5px,#fbfbff 213.5px,#e0e0ff 216.5px,#e7e7ff 218.5px,#fefeff 221.5px,#f9f9ff 255.5px,#ececff 256.5px,#d3d3ff 257.5px,#6060ff 260.5px,#4d4dff 261.5px,#4d4dff 262.5px,#6161ff 263.5px,#ccf 266.5px,#f2f2ff 268.5px,#fff 272.5px,#f8f8ff 290.5px,#d7d7ff 293.5px,#9b9bfe 295.5px,#4040f5 297.5px,#1d1de8 298.5px,#0303c8 300.5px,#0202c3 302.5px,#1a1ae3 304.5px,#6c6cfc 306.5px,#bfbfff 308.5px,#e6e6ff 310.5px,#f7f7ff 315.5px,#e9e9ff 321.5px,#e4e4ff 322.5px)"></i><i style="background:linear-gradient(90deg,#fff 0.5px,#fdfdff 180.5px,#e6e6ff 182.5px,#9d9dff 184.5px,#8383ff 185.5px,#88f 186.5px,#d4d4ff 188.5px,#f0f0ff 189.5px,#fefeff 191.5px,#fdfdff 213.5px,#e7e7ff 217.5px,#fefeff 221.5px,#fcfcff 255.5px,#e1e1ff 257.5px,#7979ff 260.5px,#6565ff 261.5px,#66f 262.5px,#7979ff 263.5px,#d9d9ff 266.5px,#f7f7ff 268.5px,#fff 278.5px,#f7f7ff 291.5px,#e2e2ff 293.5px,#b1b1ff 295.5px,#3232f3 298.5px,#1616e8 299.5px,#0404d6 301.5px,#1010e2 303.5px,#2929f0 304.5px,#afafff 307.5px,#ceceff 308.5px,#eef 310.5px,#fbfbff 316.5px,#ececff 322.5px)"></i><i style="background:linear-gradient(90deg,#fff 0.5px,#fbfbff 181.5px,#f0f0ff 182.5px,#a2a2ff 185.5px,#a6a6ff 186.5px,#e3e3ff 188.5px,#fdfdff 190.5px,#fbfbff 214.5px,#eef 217.5px,#fff 222.5px,#f9f9ff 256.5px,#d6d6ff 258.5px,#9696ff 260.5px,#8282ff 261.5px,#8181ff 262.5px,#b2b2ff 264.5px,#e6e6ff 266.5px,#fefeff 269.5px,#fbfbff 291.5px,#ddf 294.5px,#a4a4ff 296.5px,#2d2df4 299.5px,#1818ee 300.5px,#1212eb 302.5px,#2222f1 303.5px,#4242f8 304.5px,#c3c3ff 307.5px,#ececff 309.5px,#fdfdff 313.5px,#f3f3ff 322.5px)"></i><i style="background:linear-gradient(90deg,#fff 0.5px,#fdfdff 181.5px,#e9e9ff 183.5px,#c3c3ff 185.5px,#c5c5ff 186.5px,#efefff 188.5px,#fefeff 190.5px,#f9f9ff 215.5px,#fcfcff 219.5px,#fcfcff 256.5px,#e7e7ff 258.5px,#a3a3ff 261.5px,#a2a2ff 262.5px,#f0f0ff 266.5px,#fff 270.5px,#fbfbff 292.5px,#eaeaff 294.5px,#bfbfff 296.5px,#5151fb 299.5px,#3636f9 300.5px,#2a2af7 301.5px,#2d2df7 302.5px,#4141fa 303.5px,#b8b8ff 306.5px,#eaeaff 308.5px,#fdfdff 311.5px,#f9f9ff 322.5px)"></i><i style="background:linear-gradient(90deg,#fff 0.5px,#fcfcff 182.5px,#dfdfff 185.5px,#ececff 187.5px,#fff 190.5px,#fbfbff 257.5px,#c6c6ff 261.5px,#c5c5ff 262.5px,#f8f8ff 266.5px,#fff 283.5px,#fbfbff 293.5px,#eaeaff 295.5px,#bfbfff 297.5px,#6666fd 300.5px,#5858fd 301.5px,#5b5bfd 302.5px,#6e6efe 303.5px,#d2d2ff 306.5px,#f4f4ff 308.5px,#fff 314.5px,#fdfdff 322.5px)"></i><i style="background:linear-gradient(90deg,#fff 0.5px,#fbfbff 183.5px,#f2f2ff 186.5px,#fff 192.5px,#fafaff 258.5px,#e2e2ff 262.5px,#fefeff 267.5px,#fbfbff 294.5px,#dcdcff 297.5px,#9d9dff 300.5px,#9292ff 301.5px,#9494ff 302.5px,#bbf 304.5px,#e7e7ff 306.5px,#fdfdff 309.5px,#fff 322.5px)"></i><i style="background:linear-gradient(90deg,#fff 0.5px,#fbfbff 259.5px,#f7f7ff 263.5px,#fff 279.5px,#f8f8ff 296.5px,#c8c8ff 301.5px,#d2d2ff 303.5px,#fbfbff 307.5px,#fff 322.5px)"></i><i style="background:linear-gradient(90deg,#fff 0.5px,#fbfbff 297.5px,#ececff 302.5px,#fff 309.5px,#fff 322.5px)"></i><i style="background:linear-gradient(90deg,#fff 0.5px,#fffbfb 297.5px,#fff7f7 309.5px,#fff8f8 322.5px)"></i><i style="background:linear-gradient(90deg,#fff 0.5px,#fffbfb 295.5px,#ffe0e0 301.5px,#ffecec 321.5px,#ffebeb 322.5px)"></i><i style="background:linear-gradient(90deg,#fff 0.5px,#fffafa 259.5px,#fff9f9 265.5px,#fffdfd 293.5px,#ffeaea 296.5px,#ffc1c1 300.5px,#ffdcdc 318.5px,#ffd6d6 322.5px)"></i><i style="background:linear-gradient(90deg,#fff 0.5px,#fffbfb 184.5px,#fffafa 218.5px,#fff9f9 258.5px,#ffebeb 263.5px,#fff 272.5px,#fff9f9 293.5px,#ffd7d7 296.5px,#ffa3a3 299.5px,#ff9c9c 302.5px,#ffc4c4 316.5px,#ffbaba 322.5px)"></i><i style="background:linear-gradient(90deg,#fff 0.5px,#fffafa 183.5px,#fff2f2 188.5px,#fff 197.5px,#fff9f9 217.5px,#fff7f7 222.5px,#fff 241.5px,#fffafa 257.5px,#ffdede 262.5px,#fff 272.5px,#fff9f9 292.5px,#ffd5d5 295.5px,#ff8080 299.5px,#ff7878 302.5px,#ffa9a9 315.5px,#ffa0a0 321.5px,#ff9d9d 322.5px)"></i><i style="background:linear-gradient(90deg,#fff 0.5px,#fff9f9 116.5px,#fffafa 151.5px,#fffafa 182.5px,#ffeaea 187.5px,#fff 195.5px,#fff9f9 216.5px,#ffefef 221.5px,#fff 228.5px,#fffbfb 256.5px,#ffd2d2 262.5px,#fffefe 272.5px,#fff9f9 291.5px,#ffd8d8 294.5px,#ff7171 298.5px,#ff5656 300.5px,#ff6a6a 306.5px,#ff8f8f 315.5px,#ff8686 321.5px,#ff8282 322.5px)"></i><i style="background:linear-gradient(90deg,#fff 0.5px,#fff 28.5px,#fffefe 74.5px,#fff9f9 115.5px,#fff7f7 121.5px,#fff 136.5px,#fff8f8 151.5px,#fffefe 180.5px,#ffe3e3 187.5px,#fff 195.5px,#fffafa 215.5px,#ffe7e7 220.5px,#fff 228.5px,#fffcfc 255.5px,#ffc7c7 261.5px,#ffcbcb 264.5px,#fffcfc 272.5px,#fffafa 290.5px,#ffdcdc 293.5px,#ff8f8f 296.5px,#ff5454 298.5px,#ff3838 300.5px,#ff4949 305.5px,#ff7676 314.5px,#ff7474 320.5px,#ff6b6b 322.5px)"></i><i style="background:linear-gradient(90deg,#fff 0.5px,#fff8f8 22.5px,#fff 63.5px,#fff9f9 72.5px,#fff9f9 114.5px,#fff1f1 120.5px,#fff 129.5px,#fff9f9 150.5px,#fff5f5 154.5px,#fff 163.5px,#fff9f9 181.5px,#ffdcdc 187.5px,#fffefe 195.5px,#fffcfc 214.5px,#ffe2e2 220.5px,#fff 228.5px,#fffafa 255.5px,#ffb9b9 261.5px,#ffbebe 264.5px,#fff8f8 272.5px,#fffdfd 288.5px,#ffeded 291.5px,#ffb8b8 294.5px,#fe3a3a 298.5px,#fd1e1e 300.5px,#fe2929 304.5px,#ff6161 313.5px,#ff6565 319.5px,#ff5757 322.5px)"></i><i style="background:linear-gradient(90deg,#fff 0.5px,#fff8f8 21.5px,#fffefe 64.5px,#fff7f7 72.5px,#fff 93.5px,#fffafa 113.5px,#ffeded 120.5px,#fff 128.5px,#fffbfb 149.5px,#fff2f2 154.5px,#fff 161.5px,#fffafa 180.5px,#ffd4d4 186.5px,#ffe9e9 191.5px,#fff 196.5px,#fffafa 214.5px,#ffdcdc 219.5px,#ffefef 224.5px,#fff 229.5px,#fffcfc 254.5px,#ffe1e1 257.5px,#ffacac 261.5px,#ffb0b0 264.5px,#fff3f3 272.5px,#fff 282.5px,#fff5f5 289.5px,#ffd6d6 292.5px,#ffa7a7 294.5px,#fd2424 298.5px,#fa0c0c 300.5px,#fe1a1a 305.5px,#ff4f4f 313.5px,#ff5454 319.5px,#ff4545 322.5px)"></i><i style="background:linear-gradient(90deg,#fff 0.5px,#fff8f8 20.5px,#fff7f7 26.5px,#fff 45.5px,#fff9f9 66.5px,#fff7f7 73.5px,#fff 95.5px,#fff8f8 113.5px,#ffe8e8 119.5px,#fff 128.5px,#fffafa 149.5px,#ffeded 153.5px,#fff 160.5px,#fffcfc 179.5px,#ffcbcb 186.5px,#ffdbdb 190.5px,#fffefe 196.5px,#fffcfc 213.5px,#ffd6d6 219.5px,#ffe3e3 223.5px,#fffefe 228.5px,#fffafa 254.5px,#ffd9d9 257.5px,#ff9e9e 261.5px,#ffa3a3 264.5px,#fee 272.5px,#fff 280.5px,#fff6f6 288.5px,#ffdcdc 291.5px,#ffb4b4 293.5px,#fd2d2d 297.5px,#f70808 299.5px,#f90707 304.5px,#f44 315.5px,#ff3e3e 320.5px,#ff3232 322.5px)"></i><i style="background:linear-gradient(90deg,#fff 0.5px,#fffafa 19.5px,#fff2f2 25.5px,#fff 33.5px,#fffafa 65.5px,#fff3f3 72.5px,#fff 82.5px,#fffafa 112.5px,#ffe5e5 119.5px,#fff 128.5px,#fff8f8 149.5px,#ffeaea 153.5px,#fff 160.5px,#fffafa 179.5px,#ffc1c1 186.5px,#fcc 189.5px,#fffdfd 196.5px,#fffafa 213.5px,#ffd0d0 219.5px,#ffdede 223.5px,#fffdfd 228.5px,#fffcfc 253.5px,#ffe0e0 256.5px,#ff9191 261.5px,#ff9595 264.5px,#ffe8e8 272.5px,#fffdfd 279.5px,#fff6f6 287.5px,#ffd2d2 291.5px,#ffa6a6 293.5px,#fa1f1f 297.5px,#f10303 299.5px,#fb0909 307.5px,#ff3636 316.5px,#ff2727 321.5px,#ff2121 322.5px)"></i><i style="background:linear-gradient(90deg,#fff 0.5px,#fff8f8 19.5px,#fff0f0 25.5px,#fff 33.5px,#fff9f9 65.5px,#ffefef 71.5px,#fff 81.5px,#fffbfb 111.5px,#ffe1e1 119.5px,#fff 128.5px,#fffbfb 148.5px,#ffe7e7 153.5px,#fff 160.5px,#fff8f8 179.5px,#ffb7b7 186.5px,#ffc3c3 189.5px,#fffbfb 196.5px,#fffcfc 212.5px,#ffc9c9 219.5px,#ffd9d9 223.5px,#fffefe 229.5px,#fffafa 253.5px,#ffd9d9 256.5px,#ff8f8f 260.5px,#ff8181 262.5px,#ff9c9c 266.5px,#ffe1e1 272.5px,#fffafa 279.5px,#fff1f1 287.5px,#ffd8d8 290.5px,#ffb3b3 292.5px,#f71414 297.5px,#eb0101 299.5px,#f70303 307.5px,#ff2626 317.5px,#fe1212 322.5px)"></i><i style="background:linear-gradient(90deg,#fff 0.5px,#fffafa 18.5px,#ffecec 24.5px,#fff 32.5px,#fffafa 64.5px,#ffeded 71.5px,#fff 81.5px,#fffafa 111.5px,#ffdede 119.5px,#fff 128.5px,#fffafa 148.5px,#ffe4e4 153.5px,#fff 160.5px,#fffafa 178.5px,#fcc 183.5px,#ffadad 186.5px,#fbb 189.5px,#fff9f9 196.5px,#fffbfb 212.5px,#ffc2c2 219.5px,#ffd3d3 223.5px,#fffdfd 229.5px,#fffcfc 252.5px,#ffe2e2 255.5px,#ff8383 260.5px,#ff7575 262.5px,#ff8f8f 266.5px,#ffdbdb 272.5px,#fff7f7 279.5px,#fff0f0 286.5px,#ffd0d0 290.5px,#ff8a8a 293.5px,#f92222 296.5px,#ea0303 298.5px,#e20000 302.5px,#fd0b0b 312.5px,#ff1717 318.5px,#fb0707 322.5px)"></i><i style="background:linear-gradient(90deg,#fff 0.5px,#fff8f8 18.5px,#ffeaea 24.5px,#fff 32.5px,#fff9f9 64.5px,#ffebeb 71.5px,#fff 81.5px,#fffcfc 110.5px,#ffdada 118.5px,#fff5f5 125.5px,#fff 134.5px,#fff8f8 148.5px,#ffe1e1 153.5px,#fff 160.5px,#fff8f8 178.5px,#ffc5c5 183.5px,#ffa3a3 186.5px,#ffb2b2 189.5px,#fff6f6 196.5px,#fff 205.5px,#fff9f9 212.5px,#fbb 219.5px,#ffc4c4 222.5px,#fffcfc 229.5px,#fffbfb 252.5px,#ffdcdc 255.5px,#ff7979 260.5px,#ff6b6b 262.5px,#ff8484 266.5px,#ffdcdc 273.5px,#fff4f4 280.5px,#ffe6e6 287.5px,#ffc8c8 290.5px,#ff7d7d 293.5px,#f61818 296.5px,#e30202 298.5px,#dc0000 302.5px,#fd0909 315.5px,#f70202 322.5px)"></i><i style="background:linear-gradient(90deg,#fff 0.5px,#fffbfb 17.5px,#ffe8e8 24.5px,#fff 32.5px,#fffbfb 63.5px,#ffe8e8 70.5px,#fff 81.5px,#fffafa 110.5px,#ffd7d7 118.5px,#ffeded 124.5px,#fff 130.5px,#fffcfc 147.5px,#ffdede 153.5px,#fff 160.5px,#fffbfb 177.5px,#fcc 182.5px,#f99 186.5px,#ff9e9e 188.5px,#ffebeb 195.5px,#fff 200.5px,#fffbfb 211.5px,#ffb4b4 219.5px,#ffbebe 222.5px,#fffbfb 229.5px,#fffdfd 251.5px,#ffe5e5 254.5px,#ff6f6f 260.5px,#ff6161 262.5px,#ff7979 266.5px,#ffd5d5 273.5px,#fee 279.5px,#ffe7e7 286.5px,#ffcece 289.5px,#ff9090 292.5px,#fa2a2a 295.5px,#f21111 296.5px,#dd0101 298.5px,#d50000 302.5px,#fb0404 316.5px,#f30000 322.5px)"></i><i style="background:linear-gradient(90deg,#fff 0.5px,#fff9f9 17.5px,#ffe6e6 24.5px,#fff 32.5px,#fffafa 63.5px,#ffe5e5 70.5px,#fff 81.5px,#fff8f8 110.5px,#ffd4d4 118.5px,#ffebeb 124.5px,#fff 130.5px,#fffbfb 147.5px,#ffdbdb 152.5px,#ffeaea 156.5px,#fff 161.5px,#fff9f9 177.5px,#ffd4d4 181.5px,#ff8f8f 186.5px,#ff9595 188.5px,#ffe7e7 195.5px,#fffefe 200.5px,#fff9f9 211.5px,#ffadad 219.5px,#ffb7b7 222.5px,#fff9f9 229.5px,#fffcfc 251.5px,#ffe0e0 254.5px,#ff6565 260.5px,#ff5959 263.5px,#ff7a7a 267.5px,#ffcece 273.5px,#ffe8e8 278.5px,#ffe6e6 285.5px,#ffc6c6 289.5px,#ff8484 292.5px,#f82020 295.5px,#e10303 297.5px,#c00 300.5px,#f70101 316.5px,#ed0000 322.5px)"></i><i style="background:linear-gradient(90deg,#fff 0.5px,#fff8f8 17.5px,#ffe4e4 24.5px,#fff 32.5px,#fff9f9 63.5px,#ffe3e3 70.5px,#fff 81.5px,#fffbfb 109.5px,#ffd1d1 118.5px,#ffe8e8 124.5px,#fff 130.5px,#fff9f9 147.5px,#ffd8d8 152.5px,#ffe7e7 156.5px,#fff 161.5px,#fffcfc 176.5px,#ffdcdc 180.5px,#ff8f8f 185.5px,#ff8686 187.5px,#ffe3e3 195.5px,#fffefe 200.5px,#fffcfc 210.5px,#ffd0d0 215.5px,#ffa7a7 219.5px,#ffb0b0 222.5px,#fff6f6 229.5px,#fff 239.5px,#fffafa 251.5px,#ffdada 254.5px,#ff5b5b 260.5px,#ff4e4e 262.5px,#ff6565 266.5px,#ffd0d0 274.5px,#ffe7e7 280.5px,#fdd 286.5px,#ffbebe 289.5px,#ff7979 292.5px,#f41818 295.5px,#da0101 297.5px,#c50000 300.5px,#f20000 316.5px,#e80000 322.5px)"></i><i style="background:linear-gradient(90deg,#fff 0.5px,#fffafa 16.5px,#ffe2e2 24.5px,#fff 32.5px,#fffbfb 62.5px,#ffe1e1 70.5px,#fff 81.5px,#fff9f9 109.5px,#ffcece 118.5px,#ffe5e5 124.5px,#fff 130.5px,#fff8f8 147.5px,#ffd5d5 152.5px,#ffe5e5 156.5px,#fff 161.5px,#fffafa 176.5px,#ffd8d8 180.5px,#ff8787 185.5px,#ff7f7f 187.5px,#ffa0a0 190.5px,#ffdfdf 195.5px,#fffcfc 200.5px,#fffafa 210.5px,#fcc 215.5px,#ffa0a0 219.5px,#faa 222.5px,#fff3f3 229.5px,#fff 235.5px,#fffcfc 250.5px,#ffe4e4 253.5px,#faa 256.5px,#ff6262 259.5px,#ff4848 261.5px,#ff4b4b 264.5px,#ff8181 269.5px,#ffc8c8 274.5px,#ffe2e2 279.5px,#fdd 285.5px,#ffc5c5 288.5px,#ff8b8b 291.5px,#fa2b2b 294.5px,#f01212 295.5px,#d30101 297.5px,#be0000 300.5px,#ed0000 316.5px,#e30000 322.5px)"></i><i style="background:linear-gradient(90deg,#fff 0.5px,#fff9f9 16.5px,#ffdfdf 23.5px,#fff 33.5px,#fffafa 62.5px,#ffdfdf 70.5px,#fff 82.5px,#fffbfb 108.5px,#ffcbcb 118.5px,#ffdcdc 123.5px,#fffefe 130.5px,#fffcfc 146.5px,#ffd2d2 152.5px,#ffe2e2 156.5px,#fffefe 161.5px,#fff8f8 176.5px,#ffd3d3 180.5px,#ff8080 185.5px,#ff7979 187.5px,#f99 190.5px,#ffdada 195.5px,#fffdfd 201.5px,#fff7f7 210.5px,#ffc7c7 215.5px,#f99 219.5px,#ffa3a3 222.5px,#fff0f0 229.5px,#fff 234.5px,#fffbfb 250.5px,#ffdfdf 253.5px,#ffa2a2 256.5px,#ff5959 259.5px,#ff3e3e 261.5px,#ff4141 264.5px,#ff7878 269.5px,#ffc9c9 275.5px,#ffdfdf 280.5px,#ffd2d2 286.5px,#ffaeae 289.5px,#ff6464 292.5px,#f72222 294.5px,#dc0303 296.5px,#ba0000 299.5px,#c40000 305.5px,#e80000 315.5px,#d00 322.5px)"></i><i style="background:linear-gradient(90deg,#fff 0.5px,#fff8f8 16.5px,#fdd 23.5px,#fff 33.5px,#fff9f9 62.5px,#fdd 70.5px,#fff 82.5px,#fffafa 108.5px,#ffc8c8 118.5px,#ffd9d9 123.5px,#fffefe 130.5px,#fffbfb 146.5px,#ffcece 152.5px,#ffdfdf 156.5px,#fffefe 161.5px,#fffbfb 175.5px,#ffdbdb 179.5px,#ff7b7b 185.5px,#ff7979 188.5px,#ffd6d6 195.5px,#fffbfb 201.5px,#fff9f9 209.5px,#ffd0d0 214.5px,#ff9292 219.5px,#ff9c9c 222.5px,#ffeded 229.5px,#fff 234.5px,#fff9f9 250.5px,#ffdada 253.5px,#ff9a9a 256.5px,#ff4f4f 259.5px,#ff3434 261.5px,#ff3838 264.5px,#ff6e6e 269.5px,#ffc1c1 275.5px,#ffdada 280.5px,#ffd2d2 285.5px,#ffb6b6 288.5px,#ff7878 291.5px,#f41b1b 294.5px,#d50202 296.5px,#b30000 299.5px,#b90000 304.5px,#e30000 315.5px,#d80000 322.5px)"></i><i style="background:linear-gradient(90deg,#fff 0.5px,#fffafa 15.5px,#ffdbdb 23.5px,#fff 33.5px,#fffbfb 61.5px,#ffdbdb 70.5px,#fff 82.5px,#fff9f9 108.5px,#ffc7c7 117.5px,#ffd0d0 122.5px,#fffefe 130.5px,#fffafa 146.5px,#ffcbcb 152.5px,#ffdcdc 156.5px,#fffefe 161.5px,#fff9f9 175.5px,#ffd7d7 179.5px,#ff7575 185.5px,#ff7474 188.5px,#ffd2d2 195.5px,#fff8f8 201.5px,#fffbfb 208.5px,#ffd7d7 213.5px,#ff8c8c 219.5px,#ff9696 222.5px,#ffeaea 229.5px,#fff 234.5px,#fffbfb 249.5px,#ffe4e4 252.5px,#ffacac 255.5px,#ff4646 259.5px,#ff2b2b 261.5px,#ff2e2e 264.5px,#ff6565 269.5px,#ffb9b9 275.5px,#ffd5d5 280.5px,#fcc 285.5px,#ffaeae 288.5px,#ff6e6e 291.5px,#f11515 294.5px,#cf0101 296.5px,#ab0000 299.5px,#b30000 304.5px,#de0000 315.5px,#d30000 322.5px)"></i><i style="background:linear-gradient(90deg,#fff 0.5px,#fff9f9 15.5px,#ffd9d9 23.5px,#fff1f1 29.5px,#fff 35.5px,#fffafa 61.5px,#ffd9d9 69.5px,#fff1f1 77.5px,#fff 84.5px,#fffbfb 107.5px,#ffc4c4 117.5px,#ffcdcd 122.5px,#fffdfd 130.5px,#fff9f9 146.5px,#ffc7c7 152.5px,#ffd1d1 155.5px,#fffdfd 161.5px,#fffbfb 174.5px,#ffd3d3 179.5px,#ff7b7b 184.5px,#ff6b6b 187.5px,#ff8686 190.5px,#ffcfcf 195.5px,#fff5f5 201.5px,#fff8f8 208.5px,#ffd4d4 213.5px,#ff8686 219.5px,#ff9090 222.5px,#ffe7e7 229.5px,#fff 234.5px,#fffafa 249.5px,#ffd0d0 253.5px,#ff8b8b 256.5px,#ff3d3d 259.5px,#ff2121 261.5px,#ff2424 264.5px,#ff5c5c 269.5px,#ffbaba 276.5px,#ffd1d1 281.5px,#ffbebe 286.5px,#ff9595 289.5px,#fd4646 292.5px,#ed1010 294.5px,#c80101 296.5px,#a40000 299.5px,#ac0000 304.5px,#d90000 315.5px,#d10000 321.5px,#cd0000 322.5px)"></i><i style="background:linear-gradient(90deg,#fff 0.5px,#fff8f8 15.5px,#ffd7d7 23.5px,#ffefef 29.5px,#fff 34.5px,#fff9f9 61.5px,#ffd7d7 69.5px,#ffefef 77.5px,#fff 84.5px,#fffafa 107.5px,#ffc1c1 117.5px,#ffcaca 122.5px,#fffcfc 130.5px,#fffcfc 145.5px,#ffc4c4 152.5px,#ffcece 155.5px,#fffcfc 161.5px,#fffafa 174.5px,#ffcfcf 179.5px,#ff7676 184.5px,#f66 187.5px,#ff8080 190.5px,#ffcbcb 195.5px,#fff2f2 201.5px,#fff5f5 208.5px,#ffd0d0 213.5px,#ff8080 219.5px,#ff8a8a 222.5px,#ffecec 230.5px,#fff 235.5px,#fff8f8 249.5px,#ffdbdb 252.5px,#ff9e9e 255.5px,#ff3434 259.5px,#ff1717 261.5px,#ff1b1b 264.5px,#ff5353 269.5px,#ffb2b2 276.5px,#ffcaca 281.5px,#ffb7b7 286.5px,#ff8d8d 289.5px,#f62020 293.5px,#d50303 295.5px,#a40000 298.5px,#9b0000 301.5px,#d40000 315.5px,#c00 321.5px,#c80000 322.5px)"></i><i style="background:linear-gradient(90deg,#fff 0.5px,#fffbfb 14.5px,#ffd5d5 23.5px,#fee 29.5px,#fff 34.5px,#fff8f8 61.5px,#ffd5d5 69.5px,#ffe9e9 76.5px,#fff 83.5px,#fff8f8 107.5px,#ffbebe 117.5px,#ffc8c8 122.5px,#fffbfb 130.5px,#fffbfb 145.5px,#ffc0c0 152.5px,#ffcbcb 155.5px,#fffcfc 161.5px,#fff8f8 174.5px,#ffd8d8 178.5px,#ff7171 184.5px,#ff6262 187.5px,#ff7b7b 190.5px,#ffc7c7 195.5px,#ffefef 201.5px,#fff5f5 207.5px,#ffd8d8 212.5px,#ff7c7c 219.5px,#ff8484 222.5px,#ffe9e9 230.5px,#fff 235.5px,#fffafa 248.5px,#ffd7d7 252.5px,#ff9797 255.5px,#ff2b2b 259.5px,#fe0f0f 261.5px,#ff1212 264.5px,#ff4a4a 269.5px,#faa 276.5px,#ffc4c4 281.5px,#ffb8b8 285.5px,#ff9797 288.5px,#fe5353 291.5px,#f31919 293.5px,#ce0202 295.5px,#9d0000 298.5px,#940000 301.5px,#cf0000 315.5px,#c70000 321.5px,#c30000 322.5px)"></i><i style="background:linear-gradient(90deg,#fff 0.5px,#fffafa 14.5px,#ffd4d4 23.5px,#ffecec 29.5px,#fff 34.5px,#fffbfb 60.5px,#ffd3d3 69.5px,#ffe7e7 76.5px,#fff 83.5px,#fffbfb 106.5px,#ffbcbc 117.5px,#ffc5c5 122.5px,#fffdfd 131.5px,#fffafa 145.5px,#ffbdbd 152.5px,#ffc8c8 155.5px,#fffafa 161.5px,#fffafa 173.5px,#ffd5d5 178.5px,#ff6c6c 184.5px,#ff5d5d 187.5px,#ff7676 190.5px,#ffc3c3 195.5px,#ffecec 201.5px,#fff3f3 207.5px,#ffd4d4 212.5px,#ff7f7f 218.5px,#ff7878 221.5px,#ffa6a6 225.5px,#ffe6e6 230.5px,#fffefe 235.5px,#fff9f9 248.5px,#ffd3d3 252.5px,#ff9090 255.5px,#f22 259.5px,#fd0808 261.5px,#fe0a0a 264.5px,#f33 268.5px,#ffa2a2 276.5px,#ffbdbd 281.5px,#ffb2b2 285.5px,#ff8f8f 288.5px,#fe4a4a 291.5px,#f01414 293.5px,#c70101 295.5px,#960000 298.5px,#8e0000 301.5px,#cb0000 315.5px,#c10000 321.5px,#bd0000 322.5px)"></i><i style="background:linear-gradient(90deg,#fff 0.5px,#fff9f9 14.5px,#ffd3d3 22.5px,#ffdede 27.5px,#fffefe 33.5px,#fffafa 60.5px,#ffd1d1 69.5px,#ffe5e5 76.5px,#fff 83.5px,#fffafa 106.5px,#ffb9b9 117.5px,#ffc2c2 122.5px,#fffcfc 131.5px,#fff9f9 145.5px,#ffb9b9 152.5px,#ffc4c4 155.5px,#fff9f9 161.5px,#fffcfc 172.5px,#fdd 177.5px,#ff9b9b 181.5px,#ff6767 184.5px,#ff5959 187.5px,#ff7171 190.5px,#ffc0c0 195.5px,#ffeaea 201.5px,#fff0f0 207.5px,#ffd1d1 212.5px,#ff7b7b 218.5px,#ff7474 221.5px,#ff9191 224.5px,#ffe3e3 230.5px,#fffefe 235.5px,#fffbfb 247.5px,#ffdcdc 251.5px,#ffa4a4 254.5px,#fe1a1a 259.5px,#fb0404 261.5px,#fd0a0a 265.5px,#ff4848 270.5px,#ff9a9a 276.5px,#ffb6b6 281.5px,#ffabab 285.5px,#f88 288.5px,#fe4242 291.5px,#ec0f0f 293.5px,#c00101 295.5px,#900000 298.5px,#8a0000 302.5px,#c40000 314.5px,#c10000 320.5px,#b80000 322.5px)"></i><i style="background:linear-gradient(90deg,#fff 0.5px,#fff7f7 14.5px,#ffd1d1 22.5px,#ffdcdc 27.5px,#fffefe 33.5px,#fff9f9 60.5px,#ffd0d0 69.5px,#ffe3e3 76.5px,#fff 83.5px,#fff8f8 106.5px,#ffb6b6 117.5px,#ffbfbf 122.5px,#fffbfb 131.5px,#fffcfc 144.5px,#ffdede 148.5px,#ffb6b6 152.5px,#ffc1c1 155.5px,#fff8f8 161.5px,#fffdfd 171.5px,#ffe3e3 176.5px,#ffbebe 179.5px,#ff6363 184.5px,#ff5454 187.5px,#ff6c6c 190.5px,#ffbcbc 195.5px,#ffe7e7 201.5px,#ffeded 207.5px,#ffcece 212.5px,#ff7676 218.5px,#ff7070 221.5px,#ff8c8c 224.5px,#ffe0e0 230.5px,#fffdfd 235.5px,#fff9f9 247.5px,#ffd9d9 251.5px,#ff9e9e 254.5px,#fe2929 258.5px,#fa0707 260.5px,#fb0505 265.5px,#ff2f2f 269.5px,#ff9292 276.5px,#ffafaf 281.5px,#ffa4a4 285.5px,#ff8181 288.5px,#f61f1f 292.5px,#d10303 294.5px,#950000 297.5px,#830000 300.5px,#970000 306.5px,#c10000 315.5px,#bc0000 320.5px,#b30000 322.5px)"></i><i style="background:linear-gradient(90deg,#fff 0.5px,#fffafa 13.5px,#ffd0d0 22.5px,#ffdada 27.5px,#fff 34.5px,#fffcfc 59.5px,#ffcece 69.5px,#ffe2e2 76.5px,#fffefe 83.5px,#fffbfb 105.5px,#ffb3b3 117.5px,#ffbcbc 122.5px,#fff9f9 131.5px,#fffcfc 144.5px,#ffdbdb 148.5px,#ffb2b2 152.5px,#ffbebe 155.5px,#fff6f6 161.5px,#fff 169.5px,#ffe9e9 175.5px,#ffb9b9 179.5px,#ff6b6b 183.5px,#ff5050 186.5px,#ff5c5c 189.5px,#ffc4c4 196.5px,#ffeaea 203.5px,#ffe2e2 209.5px,#ffc0c0 213.5px,#ff7272 218.5px,#ff6c6c 221.5px,#ff8787 224.5px,#ffdcdc 230.5px,#fffdfd 236.5px,#fff7f7 247.5px,#ffd5d5 251.5px,#ff9898 254.5px,#fe2121 258.5px,#f80404 260.5px,#fb0606 266.5px,#ff3636 270.5px,#ff8a8a 276.5px,#ffa8a8 281.5px,#ff9d9d 285.5px,#ff7979 288.5px,#f31919 292.5px,#cb0202 294.5px,#8f0000 297.5px,#810000 301.5px,#980000 307.5px,#bc0000 315.5px,#b70000 320.5px,#ad0000 322.5px)"></i><i style="background:linear-gradient(90deg,#fff 0.5px,#fff9f9 13.5px,#ffcece 22.5px,#ffd8d8 27.5px,#fffefe 34.5px,#fffbfb 59.5px,#fcc 69.5px,#ffe0e0 76.5px,#fff 84.5px,#fffafa 105.5px,#ffb0b0 117.5px,#ffb9b9 122.5px,#fff8f8 131.5px,#fffefe 143.5px,#ffe4e4 147.5px,#ffafaf 152.5px,#fbb 155.5px,#fff4f4 161.5px,#fff 168.5px,#ffeded 174.5px,#ffc6c6 178.5px,#ff5959 184.5px,#ff4b4b 187.5px,#ff6363 190.5px,#ffc0c0 196.5px,#ffe7e7 203.5px,#ffdfdf 209.5px,#ffbcbc 213.5px,#ff6e6e 218.5px,#ff6868 221.5px,#ff8282 224.5px,#ffd9d9 230.5px,#fffcfc 236.5px,#fff9f9 246.5px,#fdd 250.5px,#ffabab 253.5px,#fd1b1b 258.5px,#f40303 260.5px,#f50101 265.5px,#fe1111 268.5px,#ff8383 276.5px,#ffa1a1 281.5px,#ff9797 285.5px,#ff7272 288.5px,#fb2b2b 291.5px,#dd0606 293.5px,#980000 296.5px,#800000 299.5px,#8c0000 306.5px,#b70000 315.5px,#b20000 320.5px,#a80000 322.5px)"></i><i style="background:linear-gradient(90deg,#fff 0.5px,#fff8f8 13.5px,#ffcdcd 22.5px,#ffd7d7 27.5px,#fffefe 34.5px,#fffafa 59.5px,#ffcaca 69.5px,#ffdede 76.5px,#fff 84.5px,#fff8f8 105.5px,#ffadad 117.5px,#ffb6b6 122.5px,#fff6f6 131.5px,#fff 142.5px,#ffecec 146.5px,#ffabab 152.5px,#ffb7b7 155.5px,#fff3f3 161.5px,#fff 167.5px,#ffebeb 174.5px,#ffc2c2 178.5px,#ff6262 183.5px,#ff4747 186.5px,#ff5353 189.5px,#ffbdbd 196.5px,#ffe1e1 202.5px,#ffe1e1 208.5px,#ffb9b9 213.5px,#ff6a6a 218.5px,#ff6565 221.5px,#ff8c8c 225.5px,#ffd6d6 230.5px,#fffafa 236.5px,#fffafa 245.5px,#ffdada 250.5px,#ffa6a6 253.5px,#fb1515 258.5px,#f10202 260.5px,#f10000 265.5px,#fc0b0b 268.5px,#ff7b7b 276.5px,#ff9a9a 281.5px,#ff9090 285.5px,#ff6b6b 288.5px,#f92525 291.5px,#d70404 293.5px,#920000 296.5px,#800000 299.5px,#870000 306.5px,#b30000 315.5px,#ad0000 320.5px,#a30000 322.5px)"></i><i style="background:linear-gradient(90deg,#fff 0.5px,#fff7f7 13.5px,#ffcbcb 22.5px,#ffd5d5 27.5px,#fffefe 34.5px,#fff9f9 59.5px,#ffc9c9 69.5px,#ffdcdc 76.5px,#fffefe 84.5px,#fffbfb 104.5px,#ffabab 117.5px,#ffb4b4 122.5px,#fff5f5 131.5px,#fff 141.5px,#ffebeb 146.5px,#ffa7a7 152.5px,#ffb4b4 155.5px,#fff1f1 161.5px,#fffefe 167.5px,#ffe9e9 174.5px,#ffbebe 178.5px,#ff5d5d 183.5px,#ff4242 186.5px,#ff4e4e 189.5px,#ffbaba 196.5px,#ffdfdf 202.5px,#ffdfdf 208.5px,#ffb6b6 213.5px,#f66 218.5px,#ff6161 221.5px,#ff8787 225.5px,#ffd2d2 230.5px,#fff8f8 236.5px,#fff8f8 245.5px,#ffd7d7 250.5px,#ffa0a0 253.5px,#fd2626 257.5px,#f30505 259.5px,#e80000 263.5px,#fa0707 268.5px,#ff7d7d 277.5px,#ff9595 282.5px,#ff8080 286.5px,#ff5050 289.5px,#f71f1f 291.5px,#d10303 293.5px,#8e0000 296.5px,#800000 299.5px,#800 307.5px,#ae0000 315.5px,#a80000 320.5px,#9d0000 322.5px)"></i><i style="background:linear-gradient(90deg,#fff 0.5px,#fffafa 12.5px,#ffc9c9 22.5px,#ffd3d3 27.5px,#fffefe 34.5px,#fffcfc 58.5px,#ffc7c7 69.5px,#ffdada 76.5px,#fffefe 84.5px,#fffafa 104.5px,#ffa8a8 117.5px,#ffb1b1 122.5px,#fff3f3 131.5px,#fff 140.5px,#fff1f1 145.5px,#ffa4a4 152.5px,#ffb1b1 155.5px,#ffefef 161.5px,#fffdfd 167.5px,#ffe6e6 174.5px,#ffbaba 178.5px,#ff5959 183.5px,#ff3e3e 186.5px,#ff4a4a 189.5px,#ffb7b7 196.5px,#ffdcdc 202.5px,#ffdcdc 208.5px,#ffc0c0 212.5px,#ff6262 218.5px,#ff5d5d 221.5px,#ff8282 225.5px,#ffd9d9 231.5px,#fff9f9 237.5px,#fff6f6 245.5px,#ffd3d3 250.5px,#ff9b9b 253.5px,#fc2020 257.5px,#f00303 259.5px,#e40000 263.5px,#fb0a0a 269.5px,#ff7676 277.5px,#ff8e8e 282.5px,#ff7a7a 286.5px,#ff4848 289.5px,#f41919 291.5px,#ca0202 293.5px,#900 295.5px,#820000 297.5px,#840000 307.5px,#ab0000 316.5px,#9d0000 321.5px,#980000 322.5px)"></i><i style="background:linear-gradient(90deg,#fff 0.5px,#fff9f9 12.5px,#ffcaca 21.5px,#ffcdcd 26.5px,#fffdfd 34.5px,#fffbfb 58.5px,#ffc7c7 68.5px,#ffcfcf 74.5px,#fffefe 84.5px,#fff8f8 104.5px,#ffa5a5 117.5px,#ffaeae 122.5px,#fff2f2 131.5px,#fff 140.5px,#fff0f0 145.5px,#ffa0a0 152.5px,#ffaeae 155.5px,#ffeded 161.5px,#fffbfb 167.5px,#ffe4e4 174.5px,#ffb6b6 178.5px,#ff5454 183.5px,#ff3939 186.5px,#ff4545 189.5px,#ff8484 193.5px,#ffbebe 197.5px,#ffdede 204.5px,#ffd5d5 209.5px,#ffb0b0 213.5px,#ff5e5e 218.5px,#ff5959 221.5px,#ff7e7e 225.5px,#ffd6d6 231.5px,#fff7f7 237.5px,#fff4f4 245.5px,#ffcfcf 250.5px,#ff9595 253.5px,#fb1a1a 257.5px,#ed0202 259.5px,#e00000 263.5px,#f90606 269.5px,#ff6f6f 277.5px,#ff8787 282.5px,#ff7373 286.5px,#fe4141 289.5px,#f21414 291.5px,#c40101 293.5px,#940000 295.5px,#810000 297.5px,#850000 308.5px,#a60000 316.5px,#980000 321.5px,#920000 322.5px)"></i><i style="background:linear-gradient(90deg,#fff 0.5px,#fff8f8 12.5px,#ffc9c9 21.5px,#ffcbcb 26.5px,#fffdfd 34.5px,#fffafa 58.5px,#ffc5c5 68.5px,#ffcdcd 74.5px,#fffefe 85.5px,#fffbfb 103.5px,#ffc8c8 111.5px,#ffa2a2 117.5px,#ffabab 122.5px,#fff0f0 131.5px,#fff 140.5px,#fee 145.5px,#ffa3a3 151.5px,#ffa1a1 154.5px,#ffebeb 161.5px,#fffafa 167.5px,#ffe2e2 174.5px,#ffb3b3 178.5px,#ff5050 183.5px,#ff3535 186.5px,#ff4141 189.5px,#ff8080 193.5px,#fbb 197.5px,#ffd9d9 203.5px,#ffd2d2 209.5px,#ffadad 213.5px,#ff5b5b 218.5px,#f55 221.5px,#ff7a7a 225.5px,#ffd3d3 231.5px,#fff5f5 237.5px,#fff4f4 244.5px,#ffd8d8 249.5px,#ffa8a8 252.5px,#f91515 257.5px,#e90101 259.5px,#dc0000 263.5px,#f60404 269.5px,#ff2525 272.5px,#ff6767 277.5px,#ff8181 282.5px,#ff6d6d 286.5px,#fe3a3a 289.5px,#ee1010 291.5px,#a30000 294.5px,#850000 296.5px,#860000 309.5px,#a20000 317.5px,#8d0000 322.5px)"></i><i style="background:linear-gradient(90deg,#fff 0.5px,#fff7f7 12.5px,#ffc7c7 21.5px,#ffcaca 26.5px,#fffefe 35.5px,#fff9f9 58.5px,#ffc3c3 68.5px,#fcc 74.5px,#fffefe 85.5px,#fff9f9 103.5px,#ffc6c6 111.5px,#ff9f9f 117.5px,#ffa8a8 122.5px,#ffefef 131.5px,#fff 140.5px,#ffeded 145.5px,#ff9f9f 151.5px,#ff9e9e 154.5px,#ffe9e9 161.5px,#fff8f8 167.5px,#ffdfdf 174.5px,#ffafaf 178.5px,#ff4b4b 183.5px,#ff3030 186.5px,#ff3c3c 189.5px,#ff7c7c 193.5px,#ffb8b8 197.5px,#ffd7d7 203.5px,#ffd0d0 209.5px,#ffa9a9 213.5px,#ff6262 217.5px,#ff4f4f 220.5px,#ff6969 224.5px,#ffd0d0 231.5px,#fff3f3 237.5px,#fff2f2 244.5px,#ffd5d5 249.5px,#ffa3a3 252.5px,#f71111 257.5px,#e50101 259.5px,#d70000 263.5px,#f80606 270.5px,#ff6969 278.5px,#ff7979 283.5px,#f66 286.5px,#fe3333 289.5px,#ea0c0c 291.5px,#8c0000 295.5px,#800000 299.5px,#860000 310.5px,#9d0000 317.5px,#890000 322.5px)"></i><i style="background:linear-gradient(90deg,#fff 0.5px,#fffafa 11.5px,#ffc5c5 21.5px,#ffc8c8 26.5px,#fffefe 35.5px,#fff8f8 58.5px,#ffc2c2 68.5px,#ffcaca 74.5px,#fffdfd 85.5px,#fff8f8 103.5px,#ffc4c4 111.5px,#ff9c9c 117.5px,#ffa5a5 122.5px,#ffeded 131.5px,#fffefe 140.5px,#ffebeb 145.5px,#ff9c9c 151.5px,#ff9b9b 154.5px,#ffe7e7 161.5px,#fff6f6 167.5px,#fdd 174.5px,#ffabab 178.5px,#ff4747 183.5px,#ff2b2b 186.5px,#ff3838 189.5px,#f77 193.5px,#ffb6b6 197.5px,#ffd4d4 203.5px,#ffcece 209.5px,#ffa6a6 213.5px,#ff5e5e 217.5px,#ff4b4b 220.5px,#ff6565 224.5px,#ffcdcd 231.5px,#ffeded 236.5px,#fff3f3 243.5px,#ffdbdb 248.5px,#ffb4b4 251.5px,#ff6464 254.5px,#fb2323 256.5px,#eb0303 258.5px,#d30000 262.5px,#e80000 268.5px,#fb0a0a 271.5px,#ff6262 278.5px,#ff7373 283.5px,#ff6060 286.5px,#f61818 290.5px,#cc0202 292.5px,#980000 294.5px,#820000 296.5px,#870000 311.5px,#970000 318.5px,#850000 322.5px)"></i><i style="background:linear-gradient(90deg,#fff 0.5px,#fff9f9 11.5px,#ffc4c4 21.5px,#ffc7c7 26.5px,#fffefe 35.5px,#fffbfb 57.5px,#ffc0c0 68.5px,#ffc8c8 74.5px,#fffdfd 85.5px,#fffafa 102.5px,#ffd2d2 109.5px,#f99 117.5px,#ffa2a2 122.5px,#ffecec 131.5px,#fffdfd 140.5px,#ffe9e9 145.5px,#ff9898 151.5px,#ff9797 154.5px,#ffe5e5 161.5px,#fff5f5 166.5px,#ffe2e2 173.5px,#ffb8b8 177.5px,#ff4242 183.5px,#ff2727 186.5px,#f33 189.5px,#ff7373 193.5px,#ffb3b3 197.5px,#ffd0d0 202.5px,#ffd0d0 208.5px,#ffb2b2 212.5px,#ff4f4f 218.5px,#ff4949 221.5px,#ff6d6d 225.5px,#ffc9c9 231.5px,#ffebeb 236.5px,#fff0f0 243.5px,#ffd8d8 248.5px,#ffafaf 251.5px,#ff5d5d 254.5px,#fa1e1e 256.5px,#e80202 258.5px,#cf0000 262.5px,#e30000 268.5px,#f80707 271.5px,#ff5b5b 278.5px,#ff6d6d 283.5px,#ff5a5a 286.5px,#f31313 290.5px,#c60202 292.5px,#940000 294.5px,#810000 296.5px,#870000 312.5px,#930000 318.5px,#820000 322.5px)"></i><i style="background:linear-gradient(90deg,#fff 0.5px,#fff8f8 11.5px,#ffc2c2 21.5px,#ffc5c5 26.5px,#fffdfd 35.5px,#fffafa 57.5px,#ffbebe 68.5px,#ffc6c6 74.5px,#fffcfc 85.5px,#fff9f9 102.5px,#ffd0d0 109.5px,#ff9797 117.5px,#ffa0a0 122.5px,#ffeaea 131.5px,#fffcfc 140.5px,#ffe8e8 145.5px,#ff9595 151.5px,#ff9494 154.5px,#ffe4e4 161.5px,#fff4f4 166.5px,#ffe0e0 173.5px,#ffb5b5 177.5px,#ff3d3d 183.5px,#f22 186.5px,#ff2e2e 189.5px,#ff6f6f 193.5px,#ffb0b0 197.5px,#ffcece 202.5px,#ffcece 208.5px,#ffafaf 212.5px,#ff5656 217.5px,#ff4343 220.5px,#ff5d5d 224.5px,#ffd1d1 232.5px,#ffefef 238.5px,#ffe8e8 245.5px,#ffcbcb 249.5px,#ff9494 252.5px,#f91919 256.5px,#e40202 258.5px,#cd0000 261.5px,#d90000 267.5px,#fb0b0b 272.5px,#ff5454 278.5px,#f66 283.5px,#ff5353 286.5px,#fb2020 289.5px,#db0505 291.5px,#8f0000 294.5px,#800000 297.5px,#860000 313.5px,#8b0000 319.5px,#810000 322.5px)"></i><i style="background:linear-gradient(90deg,#fff 0.5px,#fff7f7 11.5px,#ffc1c1 21.5px,#ffc3c3 26.5px,#fffdfd 35.5px,#fffafa 57.5px,#ffbcbc 68.5px,#ffc5c5 74.5px,#fffdfd 86.5px,#fff8f8 102.5px,#ffcece 109.5px,#ff9494 117.5px,#ff9d9d 122.5px,#ffe9e9 131.5px,#fffbfb 140.5px,#ffe6e6 145.5px,#ff9191 151.5px,#ff9090 154.5px,#ffe2e2 161.5px,#fff2f2 166.5px,#fdd 173.5px,#ffb2b2 177.5px,#ff3939 183.5px,#ff1e1e 186.5px,#ff2a2a 189.5px,#ff6a6a 193.5px,#ffadad 197.5px,#fcc 202.5px,#fcc 208.5px,#ffacac 212.5px,#ff5252 217.5px,#ff3f3f 220.5px,#ff5959 224.5px,#ffcdcd 232.5px,#ffecec 238.5px,#ffe6e6 245.5px,#ffc7c7 249.5px,#ff8f8f 252.5px,#f71414 256.5px,#e00101 258.5px,#c90000 261.5px,#d50000 267.5px,#f80707 272.5px,#ff5454 279.5px,#ff6060 283.5px,#ff4d4d 286.5px,#f91b1b 289.5px,#d50303 291.5px,#8c0000 294.5px,#800000 298.5px,#800 315.5px,#800000 322.5px)"></i><i style="background:linear-gradient(90deg,#fff 0.5px,#fffafa 10.5px,#ffbfbf 21.5px,#ffc2c2 26.5px,#fffcfc 35.5px,#fff9f9 57.5px,#fbb 68.5px,#ffc3c3 74.5px,#fffdfd 86.5px,#fffafa 101.5px,#ffd5d5 108.5px,#ff9595 116.5px,#ff9191 120.5px,#ffbcbc 126.5px,#ffecec 132.5px,#fffafa 140.5px,#ffe4e4 145.5px,#ff8e8e 151.5px,#ff8d8d 154.5px,#ffe0e0 161.5px,#fff0f0 166.5px,#ffdbdb 173.5px,#ffaeae 177.5px,#ff3434 183.5px,#ff1919 186.5px,#ff2525 189.5px,#f66 193.5px,#faa 197.5px,#ffcaca 202.5px,#ffcaca 208.5px,#faa 212.5px,#ff4e4e 217.5px,#ff3b3b 220.5px,#f55 224.5px,#ffcaca 232.5px,#ffeaea 238.5px,#ffe4e4 245.5px,#ffc4c4 249.5px,#ff8a8a 252.5px,#fc2929 255.5px,#f51010 256.5px,#dc0101 258.5px,#c50000 261.5px,#d00000 267.5px,#f50404 272.5px,#ff4d4d 279.5px,#ff5a5a 283.5px,#ff4646 286.5px,#f71616 289.5px,#cf0202 291.5px,#900 293.5px,#820000 295.5px,#800000 322.5px)"></i><i style="background:linear-gradient(90deg,#fff 0.5px,#fff9f9 10.5px,#ffbebe 21.5px,#ffc0c0 26.5px,#fffcfc 35.5px,#fffbfb 56.5px,#ffb9b9 68.5px,#ffc1c1 74.5px,#fffcfc 86.5px,#fff9f9 101.5px,#ffd3d3 108.5px,#ff9292 116.5px,#ff8e8e 120.5px,#ffbaba 126.5px,#ffeaea 132.5px,#fff9f9 140.5px,#ffe3e3 145.5px,#ff8a8a 151.5px,#ff8a8a 154.5px,#ffdede 161.5px,#ffefef 166.5px,#ffd9d9 173.5px,#ffabab 177.5px,#ff3030 183.5px,#ff1515 186.5px,#ff2121 189.5px,#ff6262 193.5px,#ffa8a8 197.5px,#ffc8c8 202.5px,#ffc8c8 208.5px,#ffa7a7 212.5px,#ff4a4a 217.5px,#ff3838 220.5px,#ff5151 224.5px,#ffc7c7 232.5px,#ffe6e6 237.5px,#ffe5e5 244.5px,#fcc 248.5px,#ff9e9e 251.5px,#fa2424 255.5px,#e50303 257.5px,#c10000 261.5px,#c00 267.5px,#f80707 273.5px,#ff4c4c 280.5px,#ff5050 284.5px,#ff3232 287.5px,#f41111 289.5px,#c90202 291.5px,#950000 293.5px,#810000 295.5px,#800000 322.5px)"></i><i style="background:linear-gradient(90deg,#fff 0.5px,#fff8f8 10.5px,#ffbcbc 21.5px,#ffbfbf 26.5px,#fffefe 36.5px,#fffbfb 56.5px,#ffb7b7 68.5px,#ffbfbf 74.5px,#fffbfb 86.5px,#fffafa 100.5px,#ffd9d9 107.5px,#ff8f8f 116.5px,#ff8b8b 120.5px,#ffb7b7 126.5px,#ffe4e4 131.5px,#fff8f8 139.5px,#ffe9e9 144.5px,#ffc6c6 147.5px,#ff8787 151.5px,#ff8686 154.5px,#ffdcdc 161.5px,#ffeded 166.5px,#ffd7d7 173.5px,#ffa7a7 177.5px,#ff2b2b 183.5px,#ff1010 186.5px,#ff1c1c 189.5px,#ff5d5d 193.5px,#ffa5a5 197.5px,#ffc6c6 202.5px,#ffc6c6 208.5px,#ffa4a4 212.5px,#ff4747 217.5px,#ff3434 220.5px,#ff4d4d 224.5px,#ffc4c4 232.5px,#ffe4e4 237.5px,#ffe3e3 244.5px,#ffc9c9 248.5px,#f99 251.5px,#f91f1f 255.5px,#e20303 257.5px,#c10000 260.5px,#c00000 265.5px,#ed0101 272.5px,#fe1616 275.5px,#ff4646 280.5px,#ff4a4a 284.5px,#fe2c2c 287.5px,#f10d0d 289.5px,#910000 293.5px,#810000 295.5px,#800000 322.5px)"></i><i style="background:linear-gradient(90deg,#fff 0.5px,#fff6f6 10.5px,#fbb 21.5px,#ffbdbd 26.5px,#fffdfd 36.5px,#fffafa 56.5px,#ffb5b5 68.5px,#ffbebe 74.5px,#fffafa 86.5px,#fff9f9 100.5px,#ffd7d7 107.5px,#ff8d8d 116.5px,#f88 120.5px,#ffb4b4 126.5px,#ffe2e2 131.5px,#fff7f7 139.5px,#ffe8e8 144.5px,#ffc3c3 147.5px,#ff8484 151.5px,#ff8383 154.5px,#ffdada 161.5px,#ffebeb 166.5px,#ffd5d5 173.5px,#ffa4a4 177.5px,#ff2727 183.5px,#ff0c0c 186.5px,#ff1818 189.5px,#ff5959 193.5px,#ffa2a2 197.5px,#ffc4c4 202.5px,#ffc4c4 208.5px,#ffa1a1 212.5px,#ff4343 217.5px,#ff3030 220.5px,#ff4949 224.5px,#ffc1c1 232.5px,#ffe1e1 237.5px,#ffe1e1 244.5px,#ffc6c6 248.5px,#ff9595 251.5px,#f71a1a 255.5px,#de0202 257.5px,#bd0000 260.5px,#bc0000 265.5px,#e80000 272.5px,#fd1010 275.5px,#ff3f3f 280.5px,#f44 284.5px,#fe2626 287.5px,#ee0a0a 289.5px,#8d0000 293.5px,#800000 296.5px,#800000 322.5px)"></i><i style="background:linear-gradient(90deg,#fff 0.5px,#fffafa 9.5px,#ffb7b7 22.5px,#ffc1c1 27.5px,#fffdfd 36.5px,#fff9f9 56.5px,#ffb4b4 68.5px,#ffbcbc 74.5px,#fff9f9 86.5px,#fffafa 99.5px,#ffd5d5 107.5px,#ff8a8a 116.5px,#ff8585 120.5px,#ffb1b1 126.5px,#ffe6e6 132.5px,#fff5f5 140.5px,#ffdede 145.5px,#ff8080 151.5px,#ff8080 154.5px,#ffd8d8 161.5px,#ffeaea 166.5px,#ffd3d3 173.5px,#ffa1a1 177.5px,#f22 183.5px,#ff0808 186.5px,#ff1313 189.5px,#ff5454 193.5px,#ff9f9f 197.5px,#ffc2c2 202.5px,#ffc2c2 208.5px,#ff9e9e 212.5px,#ff3f3f 217.5px,#ff2c2c 220.5px,#ff4545 224.5px,#ffbebe 232.5px,#ffdfdf 237.5px,#ffdfdf 244.5px,#ffc3c3 248.5px,#ff9090 251.5px,#f61616 255.5px,#da0101 257.5px,#b90000 260.5px,#b70000 265.5px,#e30000 272.5px,#fb0b0b 275.5px,#ff3d3d 281.5px,#ff3d3d 284.5px,#f71212 288.5px,#d20202 290.5px,#9c0000 292.5px,#820000 294.5px,#800000 322.5px)"></i><i style="background:linear-gradient(90deg,#fff 0.5px,#fff8f8 9.5px,#ffb5b5 22.5px,#ffbfbf 27.5px,#fffcfc 36.5px,#fff8f8 56.5px,#ffb2b2 68.5px,#ffbaba 74.5px,#fff7f7 86.5px,#fffbfb 98.5px,#ffdbdb 106.5px,#ff8787 116.5px,#ff8282 120.5px,#ffafaf 126.5px,#ffe5e5 132.5px,#fff4f4 140.5px,#ffdcdc 145.5px,#ff7d7d 151.5px,#ff7d7d 154.5px,#ffd6d6 161.5px,#ffe8e8 166.5px,#ffd7d7 172.5px,#ffaeae 176.5px,#ff1e1e 183.5px,#fd0404 186.5px,#ff0f0f 189.5px,#ff3b3b 192.5px,#ff9c9c 197.5px,#ffc0c0 202.5px,#ffc0c0 208.5px,#ff9c9c 212.5px,#ff3b3b 217.5px,#ff2828 220.5px,#ff4242 224.5px,#ffbaba 232.5px,#fdd 237.5px,#ffdcdc 244.5px,#ffc0c0 248.5px,#ff8b8b 251.5px,#f41212 255.5px,#d60101 257.5px,#b50000 260.5px,#b30000 265.5px,#de0000 272.5px,#fd0f0f 276.5px,#ff3636 281.5px,#ff3737 284.5px,#f50d0d 288.5px,#cb0101 290.5px,#970000 292.5px,#810000 294.5px,#800000 322.5px)"></i><i style="background:linear-gradient(90deg,#fff 0.5px,#fff7f7 9.5px,#ffb3b3 22.5px,#ffbebe 27.5px,#fffcfc 36.5px,#fffbfb 55.5px,#ffb0b0 68.5px,#ffb8b8 74.5px,#fff6f6 86.5px,#fffcfc 97.5px,#ffe0e0 105.5px,#ff8484 116.5px,#ff7f7f 120.5px,#ffacac 126.5px,#ffe3e3 132.5px,#fff3f3 140.5px,#ffe3e3 144.5px,#ffbaba 147.5px,#ff7a7a 151.5px,#ff7a7a 154.5px,#ffd4d4 161.5px,#ffe6e6 166.5px,#ffd5d5 172.5px,#ffabab 176.5px,#ff1a1a 183.5px,#fb0202 186.5px,#fe0b0b 189.5px,#ff3737 192.5px,#f99 197.5px,#ffbebe 202.5px,#ffbebe 208.5px,#f99 212.5px,#ff3737 217.5px,#ff2424 220.5px,#ff3e3e 224.5px,#ffc2c2 233.5px,#ffdede 238.5px,#ffdada 244.5px,#ffbcbc 248.5px,#ff8787 251.5px,#fa2727 254.5px,#f10f0f 255.5px,#d20101 257.5px,#b10000 260.5px,#af0000 265.5px,#d90000 272.5px,#fb0a0a 276.5px,#f33 282.5px,#ff2b2b 285.5px,#f20a0a 288.5px,#920000 292.5px,#810000 294.5px,#7f0000 322.5px)"></i><i style="background:linear-gradient(90deg,#fff 0.5px,#fff6f6 9.5px,#ffb2b2 22.5px,#ffbcbc 27.5px,#fffbfb 36.5px,#fffafa 55.5px,#ffaeae 68.5px,#ffb7b7 74.5px,#fff5f5 86.5px,#fffbfb 97.5px,#ffdede 105.5px,#ff8181 116.5px,#ff7c7c 120.5px,#ffa9a9 126.5px,#ffe2e2 132.5px,#fff2f2 140.5px,#ffe2e2 144.5px,#ffb8b8 147.5px,#f77 151.5px,#f77 154.5px,#ffd2d2 161.5px,#ffe5e5 166.5px,#ffd3d3 172.5px,#ffa8a8 176.5px,#ff2525 182.5px,#fa0404 185.5px,#fd0808 189.5px,#ff3232 192.5px,#ff9696 197.5px,#ffb8b8 201.5px,#ffc0c0 207.5px,#ffa5a5 211.5px,#f33 217.5px,#ff2020 220.5px,#ff3a3a 224.5px,#ffbfbf 233.5px,#ffdcdc 238.5px,#ffd8d8 244.5px,#ffb9b9 248.5px,#ff8282 251.5px,#f92222 254.5px,#df0303 256.5px,#b50000 259.5px,#a70000 263.5px,#c40000 270.5px,#f80606 276.5px,#ff2c2c 282.5px,#ff2424 285.5px,#ee0707 288.5px,#8e0000 292.5px,#800000 295.5px,#7f0000 322.5px)"></i><i style="background:linear-gradient(90deg,#fff 0.5px,#fff5f5 9.5px,#ffb0b0 22.5px,#fbb 27.5px,#fffafa 36.5px,#fff9f9 55.5px,#ffadad 68.5px,#ffb5b5 74.5px,#fff4f4 86.5px,#fffafa 97.5px,#fdd 105.5px,#ff7e7e 116.5px,#ff7979 120.5px,#ffa6a6 126.5px,#ffe0e0 132.5px,#fff0f0 140.5px,#ffe0e0 144.5px,#ffb5b5 147.5px,#ff7f7f 150.5px,#ff6f6f 153.5px,#ff8c8c 156.5px,#ffd0d0 161.5px,#ffe3e3 166.5px,#ffd1d1 172.5px,#ffa5a5 176.5px,#ff2121 182.5px,#f80202 185.5px,#fb0606 189.5px,#ff2e2e 192.5px,#ff9393 197.5px,#ffb6b6 201.5px,#ffbebe 207.5px,#ffa2a2 211.5px,#ff2f2f 217.5px,#ff1d1d 220.5px,#ff3636 224.5px,#ffbcbc 233.5px,#ffd9d9 238.5px,#ffd5d5 244.5px,#ffb6b6 248.5px,#ff7d7d 251.5px,#f71e1e 254.5px,#db0202 256.5px,#b10000 259.5px,#a30000 263.5px,#bf0000 270.5px,#fa0808 277.5px,#ff2626 282.5px,#ff1e1e 285.5px,#f70c0c 287.5px,#d30101 289.5px,#8b0000 292.5px,#800000 296.5px,#7f0000 322.5px)"></i><i style="background:linear-gradient(90deg,#fff 0.5px,#fff8f8 8.5px,#ffafaf 22.5px,#ffb9b9 27.5px,#fffafa 36.5px,#fffcfc 54.5px,#ffbfbf 64.5px,#ffa9a9 70.5px,#ffc4c4 77.5px,#fff3f3 86.5px,#fffafa 96.5px,#ffdbdb 105.5px,#ff7b7b 116.5px,#ff7676 120.5px,#ffa4a4 126.5px,#ffdfdf 132.5px,#ffefef 140.5px,#ffdfdf 144.5px,#ffb2b2 147.5px,#ff7c7c 150.5px,#ff6c6c 153.5px,#ff8989 156.5px,#ffcece 161.5px,#ffe1e1 166.5px,#ffcfcf 172.5px,#ffa2a2 176.5px,#fe1d1d 182.5px,#f40101 185.5px,#f80404 189.5px,#ff2929 192.5px,#ff9191 197.5px,#ffb4b4 201.5px,#ffbcbc 207.5px,#ffa0a0 211.5px,#ff2b2b 217.5px,#ff1919 220.5px,#ff3232 224.5px,#ffb9b9 233.5px,#ffd7d7 238.5px,#ffd3d3 244.5px,#ffb2b2 248.5px,#ff7878 251.5px,#f61919 254.5px,#d70202 256.5px,#ad0000 259.5px,#9f0000 263.5px,#ba0000 270.5px,#fc0a0a 278.5px,#ff2020 283.5px,#f40808 287.5px,#cc0101 289.5px,#900 291.5px,#820000 293.5px,#7f0000 322.5px)"></i><i style="background:linear-gradient(90deg,#fff 0.5px,#fff6f6 8.5px,#ffadad 22.5px,#ffb8b8 27.5px,#fff9f9 36.5px,#fffbfb 54.5px,#ffa9a9 68.5px,#ffb2b2 74.5px,#fff2f2 86.5px,#fff9f9 96.5px,#ffe0e0 104.5px,#ff7878 116.5px,#ff7272 120.5px,#ffa1a1 126.5px,#fdd 132.5px,#fee 140.5px,#fdd 144.5px,#ffafaf 147.5px,#ff7979 150.5px,#ff6969 153.5px,#ff8686 156.5px,#fcc 161.5px,#ffe0e0 166.5px,#ffcdcd 172.5px,#ff9f9f 176.5px,#fe1919 182.5px,#f10101 185.5px,#f00101 188.5px,#fe1414 191.5px,#ff8e8e 197.5px,#ffb2b2 201.5px,#ffbaba 207.5px,#ff9d9d 211.5px,#ff2727 217.5px,#ff1515 220.5px,#ff2e2e 224.5px,#ffb6b6 233.5px,#ffd5d5 238.5px,#ffd0d0 244.5px,#ffafaf 248.5px,#ff7373 251.5px,#f41515 254.5px,#d30101 256.5px,#a90000 259.5px,#9b0000 263.5px,#b50000 270.5px,#f90606 278.5px,#ff1a1a 283.5px,#fa0b0b 286.5px,#de0101 288.5px,#940000 291.5px,#810000 293.5px,#7f0000 322.5px)"></i><i style="background:linear-gradient(90deg,#fff 0.5px,#fff5f5 8.5px,#ffacac 22.5px,#ffb6b6 27.5px,#fffcfc 37.5px,#fffafa 54.5px,#ffa7a7 68.5px,#ffb0b0 74.5px,#fff1f1 86.5px,#fff8f8 96.5px,#ffdede 104.5px,#ff7070 117.5px,#ff7474 121.5px,#ffb5b5 128.5px,#ffe1e1 133.5px,#ffebeb 141.5px,#ffd0d0 145.5px,#ff7676 150.5px,#f66 153.5px,#ff8383 156.5px,#ffcaca 161.5px,#ffdede 166.5px,#ffcbcb 172.5px,#ff9c9c 176.5px,#fd1515 182.5px,#ed0000 185.5px,#ec0000 188.5px,#fd1111 191.5px,#ff8a8a 197.5px,#ffb0b0 201.5px,#ffb8b8 207.5px,#ff9b9b 211.5px,#ff2323 217.5px,#f11 220.5px,#ff2a2a 224.5px,#ffb2b2 233.5px,#ffd2d2 238.5px,#ffcece 244.5px,#ffacac 248.5px,#ff6e6e 251.5px,#f21212 254.5px,#cf0101 256.5px,#a40000 259.5px,#970000 263.5px,#b10000 270.5px,#fb0606 279.5px,#ff1212 284.5px,#eb0303 287.5px,#900000 291.5px,#800000 294.5px,#7f0000 322.5px)"></i><i style="background:linear-gradient(90deg,#fff 0.5px,#fff4f4 8.5px,#faa 22.5px,#ffb5b5 27.5px,#fffbfb 37.5px,#fff9f9 54.5px,#ffa6a6 68.5px,#ffaeae 74.5px,#ffefef 86.5px,#fff7f7 96.5px,#fdd 104.5px,#ff7171 116.5px,#ff6c6c 120.5px,#ff9b9b 126.5px,#ffdada 132.5px,#ffecec 140.5px,#ffdada 144.5px,#ff9494 148.5px,#ff6868 151.5px,#ff6868 154.5px,#ffc8c8 161.5px,#ffdcdc 166.5px,#ffc8c8 172.5px,#f99 176.5px,#fc1212 182.5px,#ea0000 185.5px,#e80000 188.5px,#fb0d0d 191.5px,#ff5e5e 195.5px,#ff9595 198.5px,#ffb6b6 203.5px,#ffb3b3 208.5px,#ff9898 211.5px,#ff1f1f 217.5px,#ff0d0d 220.5px,#ff2626 224.5px,#ffafaf 233.5px,#ffd0d0 238.5px,#ffcbcb 244.5px,#ffa9a9 248.5px,#ff8484 250.5px,#fa2727 253.5px,#ef0f0f 254.5px,#cb0101 256.5px,#a00000 259.5px,#930000 263.5px,#ac0000 270.5px,#fb0606 280.5px,#fe0c0c 284.5px,#f30404 286.5px,#b70000 289.5px,#8c0000 291.5px,#800000 294.5px,#7f0000 322.5px)"></i><i style="background:linear-gradient(90deg,#fff 0.5px,#fff3f3 8.5px,#ffa8a8 22.5px,#ffb3b3 27.5px,#fffafa 37.5px,#fff9f9 54.5px,#ffa4a4 68.5px,#ffacac 74.5px,#fee 86.5px,#fff6f6 96.5px,#ffdbdb 104.5px,#ff6e6e 116.5px,#ff6969 120.5px,#f99 126.5px,#ffd8d8 132.5px,#ffebeb 139.5px,#ffe0e0 143.5px,#ffbaba 146.5px,#ff7070 150.5px,#ff6060 153.5px,#ff7d7d 156.5px,#ffc6c6 161.5px,#ffdada 165.5px,#ffcdcd 171.5px,#ffa6a6 175.5px,#ff6969 178.5px,#fe1f1f 181.5px,#f50505 183.5px,#e10000 187.5px,#fa0b0b 191.5px,#ff4242 194.5px,#ff8484 197.5px,#ffacac 201.5px,#ffb5b5 207.5px,#ff9595 211.5px,#ff1b1b 217.5px,#ff0909 220.5px,#f22 224.5px,#ff8282 230.5px,#ffb6b6 234.5px,#ffd1d1 240.5px,#ffc3c3 245.5px,#ff9595 249.5px,#ff6363 251.5px,#f82323 253.5px,#da0303 255.5px,#a70000 258.5px,#910000 261.5px,#9d0000 268.5px,#d90000 276.5px,#fb0505 281.5px,#f80404 285.5px,#df0101 287.5px,#890000 291.5px,#7f0000 296.5px,#7f0000 322.5px)"></i><i style="background:linear-gradient(90deg,#fff 0.5px,#fff1f1 8.5px,#ffa7a7 22.5px,#ffb2b2 27.5px,#fff9f9 37.5px,#fffbfb 53.5px,#ffcece 61.5px,#ffa2a2 68.5px,#ffabab 74.5px,#ffeded 86.5px,#fff5f5 96.5px,#ffdada 104.5px,#ff6b6b 116.5px,#ff6565 120.5px,#ff9696 126.5px,#ffdcdc 133.5px,#ffe9e9 140.5px,#ffd6d6 144.5px,#ff6d6d 150.5px,#ff5d5d 153.5px,#ff7a7a 156.5px,#ffc4c4 161.5px,#ffd9d9 165.5px,#ffcbcb 171.5px,#ffa4a4 175.5px,#ff6464 178.5px,#fd1c1c 181.5px,#f20404 183.5px,#d00 187.5px,#f80808 191.5px,#ff3e3e 194.5px,#ff9090 198.5px,#ffb2b2 203.5px,#ffafaf 208.5px,#ff9393 211.5px,#ff1818 217.5px,#fe0606 220.5px,#ff1e1e 224.5px,#ff7e7e 230.5px,#ffb3b3 234.5px,#ffcdcd 239.5px,#ffc6c6 244.5px,#ffa2a2 248.5px,#ff7b7b 250.5px,#f71e1e 253.5px,#d60303 255.5px,#a30000 258.5px,#8d0000 261.5px,#980000 268.5px,#d30000 276.5px,#fa0303 282.5px,#f40202 285.5px,#c20000 288.5px,#870000 291.5px,#7f0000 302.5px,#7f0000 322.5px)"></i><i style="background:linear-gradient(90deg,#fff 0.5px,#fff0f0 8.5px,#ffa5a5 22.5px,#ffb0b0 27.5px,#fff9f9 37.5px,#fffafa 53.5px,#fcc 61.5px,#ffa1a1 68.5px,#ffa9a9 74.5px,#ffecec 86.5px,#fff4f4 96.5px,#ffd8d8 104.5px,#ff6868 116.5px,#ff6262 120.5px,#ff9393 126.5px,#ffdbdb 133.5px,#ffe8e8 140.5px,#ffd4d4 144.5px,#ff6a6a 150.5px,#ff5a5a 153.5px,#f77 156.5px,#ffc2c2 161.5px,#ffd7d7 165.5px,#ffc9c9 171.5px,#ffa1a1 175.5px,#ff6060 178.5px,#fd1818 181.5px,#ef0303 183.5px,#d90000 186.5px,#e30000 189.5px,#fb1212 192.5px,#ff8d8d 198.5px,#ffadad 202.5px,#ffb1b1 207.5px,#ff9090 211.5px,#ff2323 216.5px,#fd0404 219.5px,#f11 223.5px,#ff5656 228.5px,#ffa6a6 233.5px,#ffc8c8 238.5px,#ffc8c8 243.5px,#ffacac 247.5px,#ff7676 250.5px,#f51a1a 253.5px,#d20202 255.5px,#9f0000 258.5px,#870000 262.5px,#9e0000 270.5px,#f20101 281.5px,#f50101 284.5px,#d00000 287.5px,#900000 290.5px,#800000 293.5px,#7f0000 322.5px)"></i><i style="background:linear-gradient(90deg,#fff 0.5px,#ffefef 8.5px,#ffa4a4 22.5px,#ffafaf 27.5px,#fff8f8 37.5px,#fffcfc 52.5px,#ffd3d3 60.5px,#ff9f9f 68.5px,#ffa7a7 74.5px,#ffebeb 86.5px,#fff2f2 96.5px,#ffd7d7 104.5px,#ff6565 116.5px,#ff5f5f 120.5px,#ff9090 126.5px,#ffd9d9 133.5px,#ffe7e7 140.5px,#ffd2d2 144.5px,#ff6767 150.5px,#ff5757 153.5px,#ff7474 156.5px,#ffc0c0 161.5px,#ffd5d5 165.5px,#ffc7c7 171.5px,#ff9e9e 175.5px,#ff5c5c 178.5px,#fc1515 181.5px,#ec0202 183.5px,#d50000 186.5px,#df0000 189.5px,#fa0f0f 192.5px,#ff8b8b 198.5px,#ffabab 202.5px,#ffafaf 207.5px,#ff9b9b 210.5px,#ff6464 213.5px,#ff1f1f 216.5px,#fb0202 219.5px,#fe0d0d 223.5px,#ff4040 227.5px,#ffa3a3 233.5px,#ffc6c6 238.5px,#ffc5c5 243.5px,#ffa8a8 247.5px,#ff7171 250.5px,#f31616 253.5px,#ce0101 255.5px,#9b0000 258.5px,#840000 262.5px,#900 270.5px,#ef0000 282.5px,#e70000 285.5px,#b40000 288.5px,#8c0000 290.5px,#800000 294.5px,#7f0000 322.5px)"></i><i style="background:linear-gradient(90deg,#fffefe 0.5px,#ffe8e8 9.5px,#ffa2a2 22.5px,#ffadad 27.5px,#fff7f7 37.5px,#fff 50.5px,#ffe0e0 58.5px,#ff9d9d 68.5px,#ffa5a5 74.5px,#ffeaea 86.5px,#fff1f1 96.5px,#ffd5d5 104.5px,#ff6161 116.5px,#ff5c5c 120.5px,#ff8e8e 126.5px,#ffd7d7 133.5px,#ffe6e6 140.5px,#ffd0d0 144.5px,#ff6464 150.5px,#ff5454 153.5px,#ff7171 156.5px,#ffbebe 161.5px,#ffd4d4 165.5px,#ffc5c5 171.5px,#ff9b9b 175.5px,#ff3d3d 179.5px,#fb1212 181.5px,#de0000 184.5px,#d10000 187.5px,#f00404 191.5px,#fd1b1b 193.5px,#f88 198.5px,#ffa9a9 202.5px,#ffadad 207.5px,#f99 210.5px,#ff6060 213.5px,#fe1c1c 216.5px,#f70101 219.5px,#fe0a0a 223.5px,#ff3c3c 227.5px,#ffa0a0 233.5px,#ffc3c3 238.5px,#ffc3c3 243.5px,#ffa5a5 247.5px,#ff6c6c 250.5px,#f11313 253.5px,#ca0101 255.5px,#970000 258.5px,#810000 262.5px,#940000 270.5px,#e80000 282.5px,#df0000 285.5px,#890000 290.5px,#7f0000 295.5px,#7f0000 322.5px)"></i><i style="background:linear-gradient(90deg,#fffdfd 0.5px,#ffe7e7 9.5px,#ffa1a1 22.5px,#ffacac 27.5px,#fff6f6 37.5px,#fff 49.5px,#ffe5e5 57.5px,#ff9b9b 68.5px,#ffa4a4 74.5px,#ffe9e9 86.5px,#fff0f0 96.5px,#ffd3d3 104.5px,#ff5e5e 116.5px,#ff5959 120.5px,#ff8b8b 126.5px,#ffd6d6 133.5px,#ffe5e5 140.5px,#ffcece 144.5px,#ff6161 150.5px,#ff5151 153.5px,#ff6e6e 156.5px,#ffbcbc 161.5px,#ffd2d2 165.5px,#ffc3c3 171.5px,#ff9898 175.5px,#f90f0f 181.5px,#da0000 184.5px,#cd0000 187.5px,#ec0303 191.5px,#fc1818 193.5px,#ff8585 198.5px,#ffa7a7 202.5px,#ffabab 207.5px,#ff9797 210.5px,#ff5c5c 213.5px,#fe1818 216.5px,#f30101 219.5px,#fc0707 223.5px,#ff3838 227.5px,#ff9d9d 233.5px,#ffc1c1 238.5px,#ffc0c0 243.5px,#ffa2a2 247.5px,#ff8181 249.5px,#fa2828 252.5px,#ee1010 253.5px,#c60101 255.5px,#930000 258.5px,#800000 262.5px,#900000 270.5px,#e00000 282.5px,#d80000 285.5px,#870000 290.5px,#7f0000 303.5px,#7f0000 322.5px)"></i><i style="background:linear-gradient(90deg,#fffcfc 0.5px,#ffe6e6 9.5px,#ff9f9f 22.5px,#faa 27.5px,#fff5f5 37.5px,#fff 47.5px,#ffefef 55.5px,#ff9a9a 68.5px,#ffa2a2 74.5px,#ffe8e8 86.5px,#ffefef 96.5px,#ffd2d2 104.5px,#ff5b5b 116.5px,#f55 120.5px,#f88 126.5px,#ffd4d4 133.5px,#ffe3e3 140.5px,#ffd7d7 143.5px,#ffa9a9 146.5px,#ff5f5f 150.5px,#ff4e4e 153.5px,#ff6b6b 156.5px,#ffbaba 161.5px,#ffd0d0 165.5px,#ffc1c1 171.5px,#ff9696 175.5px,#fd1d1d 180.5px,#ee0404 182.5px,#ca0000 186.5px,#d30000 189.5px,#f40808 192.5px,#ff4040 195.5px,#ff8181 198.5px,#ffa5a5 202.5px,#ffa9a9 207.5px,#ff9494 210.5px,#ff5858 213.5px,#fd1515 216.5px,#ef0000 219.5px,#fa0505 223.5px,#ff3434 227.5px,#ff9a9a 233.5px,#ffbebe 238.5px,#ffbdbd 243.5px,#ff9f9f 247.5px,#ff7d7d 249.5px,#f82424 252.5px,#d80404 254.5px,#9c0000 257.5px,#820000 260.5px,#870000 269.5px,#d90000 282.5px,#d10000 285.5px,#850000 290.5px,#7f0000 322.5px)"></i><i style="background:linear-gradient(90deg,#fffbfb 0.5px,#ffe4e4 9.5px,#ff9d9d 22.5px,#ffa9a9 27.5px,#fff4f4 37.5px,#fff 47.5px,#fee 55.5px,#ff9898 68.5px,#ffa0a0 74.5px,#ffe6e6 86.5px,#fee 96.5px,#ffd0d0 104.5px,#ff5858 116.5px,#ff5252 120.5px,#ff8585 126.5px,#ffd2d2 133.5px,#ffe3e3 139.5px,#ffd5d5 143.5px,#ffa6a6 146.5px,#ff5c5c 150.5px,#ff4b4b 153.5px,#ff6868 156.5px,#ffb8b8 161.5px,#ffcece 165.5px,#ffbfbf 171.5px,#ff9393 175.5px,#fc1a1a 180.5px,#eb0303 182.5px,#c60000 186.5px,#cf0000 189.5px,#f10606 192.5px,#fe2424 194.5px,#ff7e7e 198.5px,#ffa3a3 202.5px,#ffa8a8 207.5px,#ff9292 210.5px,#ff5454 213.5px,#fc1212 216.5px,#ea0000 219.5px,#fc0909 224.5px,#ff4242 228.5px,#ff9797 233.5px,#ffbcbc 238.5px,#fbb 243.5px,#ff9c9c 247.5px,#ff7979 249.5px,#f72020 252.5px,#d40303 254.5px,#980000 257.5px,#810000 260.5px,#870000 270.5px,#d20000 282.5px,#c90000 285.5px,#830000 290.5px,#7f0000 322.5px)"></i><i style="background:linear-gradient(90deg,#fffafa 0.5px,#ffe3e3 9.5px,#ff9c9c 22.5px,#ffa7a7 27.5px,#fff3f3 37.5px,#fff 46.5px,#fff1f1 54.5px,#ff9696 68.5px,#ff9f9f 74.5px,#ffe5e5 86.5px,#ffeded 96.5px,#ffcece 104.5px,#f55 116.5px,#ff4f4f 120.5px,#ff8282 126.5px,#ffd0d0 133.5px,#ffe2e2 139.5px,#ffd3d3 143.5px,#ffa3a3 146.5px,#ff5959 150.5px,#ff4848 153.5px,#ff6565 156.5px,#ffb6b6 161.5px,#ffcdcd 165.5px,#ffbdbd 171.5px,#ff9090 175.5px,#fb1616 180.5px,#e80202 182.5px,#c20000 186.5px,#cb0000 189.5px,#ee0505 192.5px,#fd2020 194.5px,#ff7b7b 198.5px,#ff9c9c 201.5px,#ffa8a8 206.5px,#ff8f8f 210.5px,#ff5050 213.5px,#fb0f0f 216.5px,#e60000 219.5px,#f40202 223.5px,#ff1d1d 226.5px,#ff9494 233.5px,#ffb9b9 238.5px,#ffb8b8 243.5px,#f99 247.5px,#ff7474 249.5px,#f51c1c 252.5px,#d00202 254.5px,#940000 257.5px,#800000 260.5px,#800 271.5px,#ca0000 282.5px,#c20000 285.5px,#800 289.5px,#7f0000 297.5px,#7f0000 322.5px)"></i><i style="background:linear-gradient(90deg,#fff8f8 0.5px,#ffe2e2 9.5px,#ff9a9a 22.5px,#ffa6a6 27.5px,#fff2f2 37.5px,#fff 46.5px,#ffecec 55.5px,#ff9494 68.5px,#ff9d9d 74.5px,#ffe4e4 86.5px,#ffeded 95.5px,#ffd4d4 103.5px,#ff7878 112.5px,#ff4c4c 117.5px,#ff5151 121.5px,#ff9797 128.5px,#ffd4d4 134.5px,#ffe0e0 140.5px,#ffd2d2 143.5px,#ff8b8b 147.5px,#ff5656 150.5px,#ff4545 153.5px,#ff6262 156.5px,#ffb4b4 161.5px,#ffcbcb 165.5px,#fbb 171.5px,#ff8d8d 175.5px,#fa1313 180.5px,#e40202 182.5px,#be0000 186.5px,#c70000 189.5px,#f60c0c 193.5px,#ff8787 199.5px,#ffa3a3 203.5px,#ff9f9f 208.5px,#ff7d7d 211.5px,#fd1c1c 215.5px,#f10404 217.5px,#e00000 220.5px,#f80505 224.5px,#ff2929 227.5px,#ff9191 233.5px,#ffb6b6 238.5px,#ffb6b6 243.5px,#ff9696 247.5px,#ff7070 249.5px,#f31818 252.5px,#cb0202 254.5px,#910000 257.5px,#800000 260.5px,#800 272.5px,#c30000 282.5px,#ba0000 285.5px,#850000 289.5px,#7f0000 322.5px)"></i><i style="background:linear-gradient(90deg,#fff7f7 0.5px,#ffe0e0 9.5px,#f99 22.5px,#ffa4a4 27.5px,#fff1f1 37.5px,#fff 46.5px,#ffebeb 55.5px,#ff9393 68.5px,#ff9b9b 74.5px,#ffe3e3 86.5px,#ffecec 95.5px,#ffd2d2 103.5px,#ff7575 112.5px,#ff4949 117.5px,#ff4d4d 121.5px,#ff9595 128.5px,#ffd2d2 134.5px,#ffdfdf 140.5px,#ffd0d0 143.5px,#f88 147.5px,#ff5353 150.5px,#ff4242 153.5px,#ff5f5f 156.5px,#ffb2b2 161.5px,#ffc9c9 165.5px,#ffb9b9 171.5px,#ff8a8a 175.5px,#f81111 180.5px,#d30000 183.5px,#ba0000 186.5px,#c30000 189.5px,#f40a0a 193.5px,#ff4747 196.5px,#ff8484 199.5px,#ffa1a1 203.5px,#ff9d9d 208.5px,#ff7979 211.5px,#fc1919 215.5px,#ed0303 217.5px,#db0000 220.5px,#fb0a0a 225.5px,#ff4848 229.5px,#ff8d8d 233.5px,#ffb4b4 238.5px,#ffb3b3 243.5px,#ff9393 247.5px,#ff6b6b 249.5px,#f21515 252.5px,#c70101 254.5px,#8e0000 257.5px,#800000 261.5px,#850000 272.5px,#bc0000 282.5px,#b30000 285.5px,#830000 289.5px,#7f0000 322.5px)"></i><i style="background:linear-gradient(90deg,#fff6f6 0.5px,#ffdfdf 9.5px,#ff9797 22.5px,#ffa3a3 27.5px,#fff1f1 37.5px,#fff 46.5px,#ffeaea 55.5px,#ff9191 68.5px,#f99 74.5px,#ffe2e2 86.5px,#ffebeb 95.5px,#ffd1d1 103.5px,#ff7272 112.5px,#ff4646 117.5px,#ff4a4a 121.5px,#ff9292 128.5px,#ffd0d0 134.5px,#fdd 140.5px,#ffcdcd 143.5px,#ff8585 147.5px,#ff5050 150.5px,#ff3f3f 153.5px,#ff5c5c 156.5px,#ffb0b0 161.5px,#ffc7c7 165.5px,#ffb7b7 171.5px,#ff9898 174.5px,#ff5656 177.5px,#f70e0e 180.5px,#cf0000 183.5px,#b60000 186.5px,#bf0000 189.5px,#f10808 193.5px,#ff4242 196.5px,#ff8181 199.5px,#ff9f9f 203.5px,#ff9b9b 208.5px,#ff7676 211.5px,#fb1616 215.5px,#e90202 217.5px,#d60000 220.5px,#f90808 225.5px,#f44 229.5px,#ff8a8a 233.5px,#ffb1b1 238.5px,#ffb0b0 243.5px,#ff8f8f 247.5px,#f66 249.5px,#ef1212 252.5px,#c30101 254.5px,#8b0000 257.5px,#800000 262.5px,#850000 273.5px,#b40000 282.5px,#ab0000 285.5px,#820000 289.5px,#7f0000 322.5px)"></i><i style="background:linear-gradient(90deg,#fff5f5 0.5px,#ffe3e3 8.5px,#ff9696 22.5px,#ffa1a1 27.5px,#fff0f0 37.5px,#fff 46.5px,#ffe9e9 55.5px,#ff8f8f 68.5px,#ff9898 74.5px,#ffe1e1 86.5px,#ffeaea 95.5px,#ffcfcf 103.5px,#ff6f6f 112.5px,#ff4242 117.5px,#ff4747 121.5px,#ff8f8f 128.5px,#ffcece 134.5px,#ffdcdc 140.5px,#ffcbcb 143.5px,#ff4d4d 150.5px,#ff3c3c 153.5px,#ff5959 156.5px,#ffaeae 161.5px,#ffc6c6 165.5px,#ffb5b5 171.5px,#ff9595 174.5px,#ff5252 177.5px,#f50c0c 180.5px,#bf0000 184.5px,#b10000 187.5px,#c50000 190.5px,#ee0606 193.5px,#fd2626 195.5px,#ff7e7e 199.5px,#ff9d9d 203.5px,#f99 208.5px,#ff7373 211.5px,#fa1313 215.5px,#da0000 218.5px,#d40000 221.5px,#f60606 225.5px,#ff2e2e 228.5px,#ff8787 233.5px,#ffafaf 238.5px,#ffaeae 243.5px,#ff8c8c 247.5px,#ff6262 249.5px,#f92626 251.5px,#d70404 253.5px,#950000 256.5px,#800000 259.5px,#860000 274.5px,#ae0000 283.5px,#900 286.5px,#810000 289.5px,#7f0000 322.5px)"></i><i style="background:linear-gradient(90deg,#fff4f4 0.5px,#ffe2e2 8.5px,#ff9494 22.5px,#ffa0a0 27.5px,#ffefef 37.5px,#fffefe 46.5px,#ffe8e8 55.5px,#ff8d8d 68.5px,#ff9696 74.5px,#ffe0e0 86.5px,#ffe9e9 95.5px,#ffcdcd 103.5px,#ff7979 111.5px,#ff4545 116.5px,#ff3f3f 120.5px,#ff7474 126.5px,#fcc 134.5px,#ffdcdc 139.5px,#ffd3d3 142.5px,#ffa9a9 145.5px,#ff4b4b 150.5px,#ff3939 153.5px,#ff5656 156.5px,#ffacac 161.5px,#ffc4c4 165.5px,#ffb3b3 171.5px,#ff9292 174.5px,#ff4d4d 177.5px,#fb1a1a 179.5px,#e60202 181.5px,#b30000 185.5px,#b00000 188.5px,#dc0101 192.5px,#f70f0f 194.5px,#ff7b7b 199.5px,#ff9b9b 203.5px,#ff9797 208.5px,#ff6f6f 211.5px,#f81010 215.5px,#d50000 218.5px,#cf0000 221.5px,#f30505 225.5px,#ff2a2a 228.5px,#ff8484 233.5px,#ffa8a8 237.5px,#ffafaf 242.5px,#ff9696 246.5px,#ff7676 248.5px,#f72222 251.5px,#d30303 253.5px,#920000 256.5px,#800000 259.5px,#860000 275.5px,#a60000 283.5px,#800000 289.5px,#7f0000 322.5px)"></i><i style="background:linear-gradient(90deg,#fff3f3 0.5px,#ffe0e0 8.5px,#ff9292 22.5px,#ff9e9e 27.5px,#fee 37.5px,#fffefe 46.5px,#ffe7e7 55.5px,#ff8c8c 68.5px,#ff9494 74.5px,#ffdede 86.5px,#ffe8e8 95.5px,#ffd2d2 102.5px,#ff9090 109.5px,#ff4141 116.5px,#ff3b3b 120.5px,#ff6565 125.5px,#ffc9c9 134.5px,#ffdada 139.5px,#ffd1d1 142.5px,#ffa6a6 145.5px,#ff4848 150.5px,#ff3636 153.5px,#ff5353 156.5px,#ffa9a9 161.5px,#ffc2c2 165.5px,#ffb0b0 171.5px,#ff9090 174.5px,#ff4949 177.5px,#fa1717 179.5px,#e20202 181.5px,#af0000 185.5px,#ac0000 188.5px,#d80101 192.5px,#f50d0d 194.5px,#ff7878 199.5px,#ff9595 202.5px,#ff9a9a 207.5px,#ff8080 210.5px,#f60e0e 215.5px,#d00000 218.5px,#cb0000 221.5px,#f90a0a 226.5px,#ff5e5e 231.5px,#ff9797 235.5px,#ffaeae 240.5px,#ff9c9c 245.5px,#ff7272 248.5px,#f61e1e 251.5px,#cf0303 253.5px,#8f0000 256.5px,#800000 259.5px,#860000 276.5px,#9f0000 283.5px,#800000 289.5px,#7f0000 322.5px)"></i><i style="background:linear-gradient(90deg,#fff1f1 0.5px,#ffdada 9.5px,#ff9191 22.5px,#ff9696 26.5px,#ffeded 37.5px,#fffdfd 46.5px,#ffe6e6 55.5px,#ff8a8a 68.5px,#ff9292 74.5px,#ffe1e1 87.5px,#ffe6e6 96.5px,#ffcaca 103.5px,#ff7474 111.5px,#ff3e3e 116.5px,#ff3838 120.5px,#ff6363 125.5px,#ffc7c7 134.5px,#ffd9d9 139.5px,#ffcfcf 142.5px,#ffa4a4 145.5px,#ff4545 150.5px,#f33 153.5px,#ff5050 156.5px,#ffa7a7 161.5px,#ffc0c0 165.5px,#ffb5b5 170.5px,#ff8d8d 174.5px,#f91414 179.5px,#df0202 181.5px,#ab0000 185.5px,#a80000 188.5px,#d40000 192.5px,#f30b0b 194.5px,#ff6161 198.5px,#ff8d8d 201.5px,#ff9b9b 206.5px,#ff8b8b 209.5px,#ff4f4f 212.5px,#f40c0c 215.5px,#c50000 219.5px,#c00 222.5px,#f70808 226.5px,#ff4747 230.5px,#ff8a8a 234.5px,#faa 239.5px,#ffa1a1 244.5px,#ff8181 247.5px,#f41a1a 251.5px,#cb0202 253.5px,#8c0000 256.5px,#800000 260.5px,#850000 277.5px,#970000 283.5px,#800000 289.5px,#7f0000 322.5px)"></i><i style="background:linear-gradient(90deg,#fff0f0 0.5px,#ffd9d9 9.5px,#ff8f8f 22.5px,#ff9595 26.5px,#ffecec 37.5px,#fffcfc 46.5px,#ffe5e5 55.5px,#f88 68.5px,#ff9191 74.5px,#ffdfdf 87.5px,#ffe5e5 96.5px,#ffc8c8 103.5px,#ff7171 111.5px,#ff3b3b 116.5px,#ff3535 120.5px,#ff6060 125.5px,#ffc4c4 134.5px,#ffd8d8 139.5px,#ffcdcd 142.5px,#ffa1a1 145.5px,#ff4242 150.5px,#ff3030 153.5px,#ff4c4c 156.5px,#ffa5a5 161.5px,#ffbebe 165.5px,#ffb3b3 170.5px,#ff8a8a 174.5px,#f71111 179.5px,#dc0101 181.5px,#a70000 185.5px,#a40000 188.5px,#d00000 192.5px,#f00909 194.5px,#ff4545 197.5px,#ff8080 200.5px,#f99 204.5px,#ff9191 208.5px,#ff7a7a 210.5px,#fa1919 214.5px,#e30202 216.5px,#c00000 219.5px,#c70000 222.5px,#f40606 226.5px,#ff3030 229.5px,#ff8787 234.5px,#ffa8a8 239.5px,#ff9e9e 244.5px,#ff7e7e 247.5px,#fc3030 250.5px,#e00707 252.5px,#980000 255.5px,#820000 257.5px,#840000 278.5px,#8e0000 284.5px,#800000 290.5px,#7f0000 322.5px)"></i><i style="background:linear-gradient(90deg,#ffefef 0.5px,#ffd8d8 9.5px,#ff8e8e 22.5px,#ff9393 26.5px,#ffebeb 37.5px,#fffcfc 45.5px,#ffe9e9 54.5px,#ff8686 68.5px,#ff8f8f 74.5px,#ffdede 87.5px,#ffe4e4 96.5px,#ffc6c6 103.5px,#ff7b7b 110.5px,#ff3838 116.5px,#ff3232 120.5px,#ff5d5d 125.5px,#ffc2c2 134.5px,#ffd6d6 139.5px,#ffcaca 142.5px,#ff9e9e 145.5px,#ff3f3f 150.5px,#ff2d2d 153.5px,#ff4949 156.5px,#ffa3a3 161.5px,#ffbdbd 165.5px,#ffb1b1 170.5px,#ff8787 174.5px,#f60e0e 179.5px,#c70000 182.5px,#a30000 185.5px,#a00000 188.5px,#bc0000 191.5px,#ed0707 194.5px,#fd2828 196.5px,#ff7d7d 200.5px,#ff9797 204.5px,#ff8f8f 208.5px,#f77 210.5px,#f91717 214.5px,#de0202 216.5px,#b00 219.5px,#c20000 222.5px,#f10505 226.5px,#ff2c2c 229.5px,#ff8484 234.5px,#ffa5a5 239.5px,#ff9c9c 244.5px,#ff7a7a 247.5px,#fb2b2b 250.5px,#dc0606 252.5px,#950000 255.5px,#820000 257.5px,#850000 280.5px,#820000 286.5px,#7f0000 322.5px)"></i><i style="background:linear-gradient(90deg,#fee 0.5px,#ffd7d7 9.5px,#ff8c8c 22.5px,#ff9292 26.5px,#ffeaea 37.5px,#fffbfb 45.5px,#ffe8e8 54.5px,#ff8585 68.5px,#ff8d8d 74.5px,#fdd 87.5px,#ffe3e3 96.5px,#ffc5c5 103.5px,#ff7979 110.5px,#ff3434 116.5px,#ff2f2f 120.5px,#ff5a5a 125.5px,#ffbfbf 134.5px,#ffd5d5 139.5px,#ffc8c8 142.5px,#ff9b9b 145.5px,#ff3c3c 150.5px,#ff2a2a 153.5px,#ff4646 156.5px,#ffa1a1 161.5px,#fbb 165.5px,#ffafaf 170.5px,#ff8484 174.5px,#f40c0c 179.5px,#b40000 183.5px,#9a0000 186.5px,#a20000 189.5px,#d90101 193.5px,#f71111 195.5px,#ff7a7a 200.5px,#ff9595 204.5px,#ff8d8d 208.5px,#ff7373 210.5px,#f71414 214.5px,#da0202 216.5px,#b70000 219.5px,#be0000 222.5px,#f80b0b 227.5px,#ff8080 234.5px,#ff9f9f 238.5px,#ff9e9e 243.5px,#ff8686 246.5px,#fe4444 249.5px,#e11 251.5px,#be0101 253.5px,#910000 255.5px,#800000 258.5px,#7f0000 322.5px)"></i><i style="background:linear-gradient(90deg,#ffeded 0.5px,#ffd5d5 9.5px,#ff8b8b 22.5px,#ff9090 26.5px,#ffe9e9 37.5px,#fffafa 45.5px,#ffe7e7 54.5px,#ff8383 68.5px,#ff8787 73.5px,#ffdcdc 87.5px,#ffe2e2 96.5px,#ffc3c3 103.5px,#ff7676 110.5px,#ff3131 116.5px,#ff2b2b 120.5px,#ff5757 125.5px,#ffbdbd 134.5px,#ffd3d3 139.5px,#ffc5c5 142.5px,#ff9898 145.5px,#ff3a3a 150.5px,#ff2727 153.5px,#ff4343 156.5px,#ff9f9f 161.5px,#ffb9b9 165.5px,#ffadad 170.5px,#ff9292 173.5px,#ff5050 176.5px,#fb1c1c 178.5px,#e30303 180.5px,#a40000 184.5px,#950000 187.5px,#a80000 190.5px,#e70404 194.5px,#fc2020 196.5px,#f77 200.5px,#ff9090 203.5px,#ff9191 207.5px,#ff7070 210.5px,#f61111 214.5px,#c50000 217.5px,#b00000 220.5px,#cd0000 224.5px,#f50808 227.5px,#ff6e6e 233.5px,#ff9898 237.5px,#ffa0a0 242.5px,#ff8282 246.5px,#fe3f3f 249.5px,#eb0e0e 251.5px,#a10000 254.5px,#840000 256.5px,#7f0000 322.5px)"></i><i style="background:linear-gradient(90deg,#ffecec 0.5px,#ffd4d4 9.5px,#ff8989 22.5px,#ff8f8f 26.5px,#ffe8e8 37.5px,#fffafa 45.5px,#ffe6e6 54.5px,#ff8181 68.5px,#ff8585 73.5px,#ffdbdb 87.5px,#ffe0e0 96.5px,#ffc9c9 102.5px,#ff8181 109.5px,#ff3636 115.5px,#ff2525 119.5px,#ff4848 124.5px,#ffbaba 134.5px,#ffd0d0 139.5px,#ffc3c3 142.5px,#ff8181 146.5px,#ff3737 150.5px,#ff2424 153.5px,#ff4040 156.5px,#ff9d9d 161.5px,#ffb7b7 165.5px,#ffabab 170.5px,#ff8f8f 173.5px,#ff4c4c 176.5px,#fa1919 178.5px,#e00202 180.5px,#a00000 184.5px,#910000 187.5px,#a40000 190.5px,#e40303 194.5px,#fb1d1d 196.5px,#ff7373 200.5px,#ff8e8e 203.5px,#ff8f8f 207.5px,#ff6c6c 210.5px,#f40f0f 214.5px,#c00000 217.5px,#ab0000 220.5px,#c80000 224.5px,#f20707 227.5px,#ff4646 231.5px,#ff8686 235.5px,#ff9f9f 240.5px,#ff9494 244.5px,#ff6d6d 247.5px,#f72020 250.5px,#d00303 252.5px,#8c0000 255.5px,#800000 259.5px,#7f0000 322.5px)"></i><i style="background:linear-gradient(90deg,#ffeaea 0.5px,#ffd3d3 9.5px,#ff8787 22.5px,#ff8d8d 26.5px,#ffe7e7 37.5px,#fff9f9 45.5px,#ffe5e5 54.5px,#ff7f7f 68.5px,#ff8383 73.5px,#ffdada 87.5px,#ffdfdf 96.5px,#ffc7c7 102.5px,#ff7f7f 109.5px,#f33 115.5px,#f22 119.5px,#ff4545 124.5px,#ffb8b8 134.5px,#ffcece 139.5px,#ffc0c0 142.5px,#ff7f7f 146.5px,#ff3434 150.5px,#ff2121 153.5px,#ff3d3d 156.5px,#ff9b9b 161.5px,#ffb6b6 165.5px,#ffa9a9 170.5px,#ff8d8d 173.5px,#ff4848 176.5px,#f81616 178.5px,#dd0202 180.5px,#9c0000 184.5px,#8d0000 187.5px,#9f0000 190.5px,#f00a0a 195.5px,#ff4646 198.5px,#ff7e7e 201.5px,#ff9191 205.5px,#ff8787 208.5px,#ff6969 210.5px,#fb1e1e 213.5px,#e00303 215.5px,#af0000 218.5px,#a90000 221.5px,#d10000 225.5px,#f90e0e 228.5px,#ff8383 235.5px,#ff9d9d 240.5px,#ff9191 244.5px,#ff6969 247.5px,#f51c1c 250.5px,#cc0303 252.5px,#900 254.5px,#820000 256.5px,#7f0000 322.5px)"></i><i style="background:linear-gradient(90deg,#ffe9e9 0.5px,#ffd2d2 9.5px,#ff8686 22.5px,#ff8c8c 26.5px,#ffe6e6 37.5px,#fff8f8 45.5px,#ffe4e4 54.5px,#ff7c7c 68.5px,#ff8181 73.5px,#ffd9d9 87.5px,#ffdede 96.5px,#ffc5c5 102.5px,#ff7c7c 109.5px,#ff2f2f 115.5px,#ff1f1f 119.5px,#ff4242 124.5px,#ffb5b5 134.5px,#ffcbcb 139.5px,#ffbebe 142.5px,#ff7c7c 146.5px,#ff3131 150.5px,#ff1e1e 153.5px,#ff3a3a 156.5px,#f99 161.5px,#ffb4b4 165.5px,#ffa7a7 170.5px,#ff8a8a 173.5px,#f44 176.5px,#f71313 178.5px,#d90101 180.5px,#900 184.5px,#890000 187.5px,#9b0000 190.5px,#ed0808 195.5px,#ff4242 198.5px,#ff7b7b 201.5px,#ff8f8f 205.5px,#ff8484 208.5px,#ff6565 210.5px,#fa1b1b 213.5px,#dc0303 215.5px,#a00 218.5px,#a50000 221.5px,#c00 225.5px,#f70c0c 228.5px,#ff7f7f 235.5px,#f99 239.5px,#ff8e8e 244.5px,#ff6464 247.5px,#f41818 250.5px,#c70202 252.5px,#960000 254.5px,#820000 256.5px,#7f0000 322.5px)"></i><i style="background:linear-gradient(90deg,#ffe8e8 0.5px,#ffd1d1 9.5px,#ff8484 22.5px,#ff8a8a 26.5px,#ffe6e6 37.5px,#fff7f7 45.5px,#ffe3e3 54.5px,#ff7a7a 68.5px,#ff7f7f 73.5px,#ffd7d7 87.5px,#fdd 96.5px,#ffc4c4 102.5px,#ff7a7a 109.5px,#ff2c2c 115.5px,#ff1c1c 119.5px,#ff3535 123.5px,#ffb3b3 134.5px,#ffc9c9 139.5px,#fbb 142.5px,#ff7979 146.5px,#ff2e2e 150.5px,#ff1b1b 153.5px,#ff3737 156.5px,#ff9797 161.5px,#ffb2b2 165.5px,#ffa5a5 170.5px,#ff8787 173.5px,#f61010 178.5px,#c30000 181.5px,#8c0000 185.5px,#800 188.5px,#a30000 191.5px,#ea0707 195.5px,#fd2727 197.5px,#f77 201.5px,#ff8d8d 205.5px,#ff8282 208.5px,#ff6161 210.5px,#f81818 213.5px,#d80202 215.5px,#a60000 218.5px,#a00000 221.5px,#c70000 225.5px,#f50909 228.5px,#ff5e5e 233.5px,#ff8686 236.5px,#ff9898 241.5px,#ff8282 245.5px,#fe4747 248.5px,#f21515 250.5px,#c30101 252.5px,#930000 254.5px,#810000 256.5px,#7f0000 322.5px)"></i><i style="background:linear-gradient(90deg,#ffe7e7 0.5px,#ffd0d0 9.5px,#ff8383 22.5px,#f88 26.5px,#ffe5e5 37.5px,#fff7f7 45.5px,#ffe2e2 54.5px,#ff7878 68.5px,#ff7979 72.5px,#ffd9d9 88.5px,#ffdada 97.5px,#ffbaba 103.5px,#f77 109.5px,#ff2929 115.5px,#ff1818 119.5px,#ff3232 123.5px,#ffb0b0 134.5px,#ffc6c6 139.5px,#ffb9b9 142.5px,#f77 146.5px,#ff2b2b 150.5px,#ff1818 153.5px,#f33 156.5px,#ff9595 161.5px,#ffb0b0 165.5px,#ffa4a4 170.5px,#ff8484 173.5px,#f40e0e 178.5px,#bf0000 181.5px,#910000 184.5px,#830000 187.5px,#930000 190.5px,#d40101 194.5px,#f61010 196.5px,#ff7474 201.5px,#ff8a8a 204.5px,#ff8787 207.5px,#ff7171 209.5px,#f61515 213.5px,#d30202 215.5px,#a10000 218.5px,#9b0000 221.5px,#c20000 225.5px,#f20808 228.5px,#ff4848 232.5px,#ff8383 236.5px,#ff9595 241.5px,#ff7e7e 245.5px,#fe4242 248.5px,#f01212 250.5px,#bf0101 252.5px,#900000 254.5px,#800000 257.5px,#7f0000 322.5px)"></i><i style="background:linear-gradient(90deg,#ffe6e6 0.5px,#ffcbcb 10.5px,#ff8181 22.5px,#ff8787 26.5px,#ffe4e4 37.5px,#fff6f6 45.5px,#ffe1e1 54.5px,#ff7575 68.5px,#ff7676 72.5px,#ffd8d8 88.5px,#ffd9d9 97.5px,#ffb0b0 104.5px,#ff6565 110.5px,#ff2626 115.5px,#ff1515 119.5px,#ff2e2e 123.5px,#ffaeae 134.5px,#ffc4c4 139.5px,#ffb6b6 142.5px,#ff7474 146.5px,#ff2828 150.5px,#ff1515 153.5px,#ff3030 156.5px,#ff9393 161.5px,#ffafaf 165.5px,#ffa2a2 170.5px,#ff8282 173.5px,#fb1e1e 177.5px,#e30303 179.5px,#9a0000 183.5px,#820000 186.5px,#8f0000 190.5px,#d00101 194.5px,#f40d0d 196.5px,#ff5f5f 200.5px,#ff8484 203.5px,#ff8585 207.5px,#ff6e6e 209.5px,#f41313 213.5px,#cf0101 215.5px,#9c0000 218.5px,#960000 221.5px,#bd0000 225.5px,#ef0606 228.5px,#ff3232 231.5px,#ff7575 235.5px,#ff9191 239.5px,#ff8c8c 243.5px,#ff6b6b 246.5px,#fa2424 249.5px,#d60404 251.5px,#8d0000 254.5px,#800000 257.5px,#7f0000 322.5px)"></i><i style="background:linear-gradient(90deg,#ffe5e5 0.5px,#ffcaca 10.5px,#ff7f7f 22.5px,#ff8585 26.5px,#ffe3e3 37.5px,#fff5f5 45.5px,#ffe0e0 54.5px,#ff7373 68.5px,#ff7474 72.5px,#ffd7d7 88.5px,#ffd8d8 97.5px,#ffaeae 104.5px,#ff6363 110.5px,#ff2323 115.5px,#ff1212 119.5px,#ff2b2b 123.5px,#ffabab 134.5px,#ffc1c1 139.5px,#ffb4b4 142.5px,#ff7171 146.5px,#ff2626 150.5px,#ff1212 153.5px,#ff2d2d 156.5px,#ff9090 161.5px,#ffadad 165.5px,#ffa0a0 170.5px,#ff7f7f 173.5px,#fa1b1b 177.5px,#e00303 179.5px,#960000 183.5px,#810000 186.5px,#8c0000 190.5px,#b70000 193.5px,#f10b0b 196.5px,#ff4646 199.5px,#ff7979 202.5px,#ff8787 206.5px,#ff6a6a 209.5px,#fc2424 212.5px,#e10505 214.5px,#a30000 217.5px,#8f0000 220.5px,#ab0000 224.5px,#eb0505 228.5px,#ff2e2e 231.5px,#ff7d7d 236.5px,#ff9090 240.5px,#ff8282 244.5px,#ff5252 247.5px,#f82020 249.5px,#d20303 251.5px,#9c0000 253.5px,#830000 255.5px,#7f0000 322.5px)"></i><i style="background:linear-gradient(90deg,#ffe3e3 0.5px,#ffc9c9 10.5px,#ff7a7a 23.5px,#ff9292 28.5px,#ffe2e2 37.5px,#fff4f4 45.5px,#ffdfdf 54.5px,#ff7070 68.5px,#ff7171 72.5px,#ffd6d6 88.5px,#ffd9d9 96.5px,#ffb5b5 103.5px,#ff6f6f 109.5px,#ff2020 115.5px,#ff0f0f 119.5px,#ff2828 123.5px,#ffa9a9 134.5px,#ffbfbf 139.5px,#ffb1b1 142.5px,#ff6f6f 146.5px,#ff2323 150.5px,#ff0f0f 153.5px,#ff2a2a 156.5px,#ff8e8e 161.5px,#ffa8a8 164.5px,#ffa4a4 169.5px,#ff8b8b 172.5px,#ff4b4b 175.5px,#f91818 177.5px,#dd0202 179.5px,#930000 183.5px,#800000 186.5px,#890000 190.5px,#b30000 193.5px,#ee0909 196.5px,#ff4242 199.5px,#ff7676 202.5px,#ff8686 205.5px,#ff7676 208.5px,#fb2020 212.5px,#dd0404 214.5px,#9e0000 217.5px,#8a0000 220.5px,#a60000 224.5px,#f50b0b 229.5px,#ff6d6d 235.5px,#ff8c8c 239.5px,#ff8787 243.5px,#ff6262 246.5px,#f61c1c 249.5px,#ce0303 251.5px,#900 253.5px,#820000 255.5px,#7f0000 322.5px)"></i><i style="background:linear-gradient(90deg,#ffe2e2 0.5px,#ffc8c8 10.5px,#f77 23.5px,#f88 27.5px,#ffe1e1 37.5px,#fff4f4 45.5px,#ffdede 54.5px,#ff6e6e 68.5px,#ff6f6f 72.5px,#ffd5d5 88.5px,#ffd8d8 96.5px,#ffb3b3 103.5px,#ff6c6c 109.5px,#ff1c1c 115.5px,#ff0b0b 119.5px,#ff2525 123.5px,#ffa6a6 134.5px,#ffbcbc 139.5px,#ffaeae 142.5px,#ff6c6c 146.5px,#ff2020 150.5px,#ff0c0c 153.5px,#ff2727 156.5px,#ff8c8c 161.5px,#ffa6a6 164.5px,#ffa2a2 169.5px,#ff8989 172.5px,#ff4747 175.5px,#f81515 177.5px,#d90202 179.5px,#900000 183.5px,#800000 186.5px,#860000 190.5px,#ae0000 193.5px,#eb0808 196.5px,#fd2828 198.5px,#ff7272 202.5px,#ff8484 205.5px,#ff7373 208.5px,#fa1d1d 212.5px,#d90303 214.5px,#9a0000 217.5px,#860000 220.5px,#a10000 224.5px,#f30909 229.5px,#ff4a4a 233.5px,#ff7f7f 237.5px,#ff8b8b 241.5px,#ff7c7c 244.5px,#ff4848 247.5px,#f51919 249.5px,#c90202 251.5px,#960000 253.5px,#810000 255.5px,#7f0000 322.5px)"></i><i style="background:linear-gradient(90deg,#ffe1e1 0.5px,#ffc7c7 10.5px,#ff7575 23.5px,#ff8787 27.5px,#ffe0e0 37.5px,#fff3f3 45.5px,#fdd 54.5px,#ff6b6b 68.5px,#ff6c6c 72.5px,#ffd3d3 88.5px,#ffd7d7 96.5px,#ffb1b1 103.5px,#ff6a6a 109.5px,#ff1919 115.5px,#ff0808 119.5px,#f22 123.5px,#ff9b9b 133.5px,#ffb9b9 138.5px,#ffb4b4 141.5px,#ff9090 144.5px,#ff1d1d 150.5px,#ff0909 153.5px,#ff2424 156.5px,#ff8a8a 161.5px,#ffa5a5 164.5px,#ffa0a0 169.5px,#ff8686 172.5px,#ff4343 175.5px,#f61212 177.5px,#d60101 179.5px,#8d0000 183.5px,#800000 187.5px,#8c0000 191.5px,#be0000 194.5px,#f61212 197.5px,#ff6e6e 202.5px,#ff8181 205.5px,#ff6f6f 208.5px,#f81a1a 212.5px,#d50303 214.5px,#950000 217.5px,#830000 220.5px,#9c0000 224.5px,#f00707 229.5px,#ff3434 232.5px,#ff7272 236.5px,#ff8989 240.5px,#ff7878 244.5px,#f44 247.5px,#f31616 249.5px,#c50202 251.5px,#930000 253.5px,#810000 255.5px,#7f0000 322.5px)"></i><i style="background:linear-gradient(90deg,#ffe0e0 0.5px,#ffc6c6 10.5px,#ff7272 23.5px,#ff8585 27.5px,#ffdfdf 37.5px,#fff2f2 45.5px,#fdd 54.5px,#ff6969 68.5px,#ff6a6a 72.5px,#ffcece 87.5px,#ffd7d7 95.5px,#ffb8b8 102.5px,#ff7676 108.5px,#ff2020 114.5px,#ff0505 118.5px,#ff1515 122.5px,#ffa1a1 134.5px,#ffb8b8 139.5px,#ffa9a9 142.5px,#ff6767 146.5px,#ff1a1a 150.5px,#ff0707 153.5px,#ff2121 156.5px,#ff8787 161.5px,#ffa3a3 164.5px,#ff9e9e 169.5px,#ff8383 172.5px,#ff3f3f 175.5px,#f51010 177.5px,#be0000 180.5px,#8b0000 183.5px,#800000 188.5px,#890000 191.5px,#b90000 194.5px,#f40f0f 197.5px,#ff6a6a 202.5px,#ff7f7f 205.5px,#ff6b6b 208.5px,#f61717 212.5px,#d00202 214.5px,#910000 217.5px,#810000 220.5px,#970000 224.5px,#ec0606 229.5px,#ff3030 232.5px,#ff7878 237.5px,#ff8686 241.5px,#ff7474 244.5px,#fe3f3f 247.5px,#f11212 249.5px,#c00101 251.5px,#900000 253.5px,#800000 256.5px,#7f0000 322.5px)"></i><i style="background:linear-gradient(90deg,#ffdfdf 0.5px,#ffc5c5 10.5px,#ff7070 23.5px,#ff8383 27.5px,#ffdede 37.5px,#fff1f1 45.5px,#ffdcdc 54.5px,#f66 68.5px,#ff6767 72.5px,#ffcdcd 87.5px,#ffd7d7 94.5px,#ffbdbd 101.5px,#ff8282 107.5px,#ff1d1d 114.5px,#fe0303 118.5px,#ff1212 122.5px,#ff9e9e 134.5px,#ffb5b5 139.5px,#ffa7a7 142.5px,#ff6565 146.5px,#ff1818 150.5px,#fe0404 153.5px,#ff1d1d 156.5px,#ff8585 161.5px,#ffa1a1 164.5px,#ff9c9c 169.5px,#ff8181 172.5px,#fc2121 176.5px,#e40404 178.5px,#950000 182.5px,#800000 185.5px,#870000 191.5px,#b50000 194.5px,#f20c0c 197.5px,#ff5656 201.5px,#ff7878 204.5px,#ff7474 207.5px,#ff4040 210.5px,#f51414 212.5px,#cb0202 214.5px,#8d0000 217.5px,#800000 220.5px,#930000 224.5px,#e90404 229.5px,#fd1b1b 231.5px,#ff6a6a 236.5px,#ff8484 240.5px,#ff7a7a 243.5px,#ff5050 246.5px,#fb2323 248.5px,#d80505 250.5px,#8d0000 253.5px,#800000 256.5px,#7f0000 322.5px)"></i><i style="background:linear-gradient(90deg,#ffdede 0.5px,#ffc4c4 10.5px,#ff6d6d 23.5px,#ff8181 27.5px,#fdd 37.5px,#fff1f1 45.5px,#ffdbdb 54.5px,#ff6464 68.5px,#ff6565 72.5px,#ffcbcb 87.5px,#ffd6d6 94.5px,#ffbcbc 101.5px,#ff8080 107.5px,#ff1a1a 114.5px,#fc0101 118.5px,#ff0f0f 122.5px,#ff9c9c 134.5px,#ffb3b3 139.5px,#ffa4a4 142.5px,#ff6262 146.5px,#ff1515 150.5px,#fd0303 153.5px,#ff1a1a 156.5px,#ff8282 161.5px,#ff9f9f 164.5px,#ff9a9a 169.5px,#ff7e7e 172.5px,#fb1e1e 176.5px,#e10303 178.5px,#920000 182.5px,#800000 185.5px,#850000 191.5px,#b00000 194.5px,#f00a0a 197.5px,#ff4040 200.5px,#ff6c6c 203.5px,#f77 206.5px,#ff5151 209.5px,#f31111 212.5px,#ad0000 215.5px,#8a0000 217.5px,#800000 221.5px,#8e0000 224.5px,#d10101 228.5px,#f40a0a 230.5px,#ff4a4a 234.5px,#ff7979 238.5px,#ff7d7d 242.5px,#ff5e5e 245.5px,#f91f1f 248.5px,#d40404 250.5px,#9d0000 252.5px,#820000 254.5px,#7f0000 322.5px)"></i><i style="background:linear-gradient(90deg,#ffdcdc 0.5px,#ffc3c3 10.5px,#ff6b6b 23.5px,#ff7f7f 27.5px,#ffdcdc 37.5px,#fff0f0 45.5px,#ffdada 54.5px,#ff7979 65.5px,#ff5e5e 69.5px,#ff6e6e 74.5px,#ffcaca 87.5px,#ffd5d5 94.5px,#ffbaba 101.5px,#ff7e7e 107.5px,#ff1717 114.5px,#f90101 118.5px,#fe0d0d 122.5px,#f99 134.5px,#ffb0b0 139.5px,#ffa2a2 142.5px,#ff6060 146.5px,#fe1212 150.5px,#fb0202 153.5px,#ff1717 156.5px,#ff8e8e 162.5px,#ffa1a1 166.5px,#ff8989 171.5px,#ff4e4e 174.5px,#fa1b1b 176.5px,#de0202 178.5px,#8f0000 182.5px,#800000 185.5px,#830000 191.5px,#ac0000 194.5px,#ed0808 197.5px,#ff3b3b 200.5px,#ff6868 203.5px,#ff7272 206.5px,#ff4d4d 209.5px,#f10f0f 212.5px,#a90000 215.5px,#800 217.5px,#810000 222.5px,#960000 225.5px,#f10808 230.5px,#ff3535 233.5px,#ff6c6c 237.5px,#ff7d7d 241.5px,#ff6868 244.5px,#f81b1b 248.5px,#d00303 250.5px,#900 252.5px,#820000 254.5px,#7f0000 322.5px)"></i><i style="background:linear-gradient(90deg,#ffdbdb 0.5px,#ffc3c3 10.5px,#ff6868 23.5px,#ff7d7d 27.5px,#ffdbdb 37.5px,#ffefef 45.5px,#ffd9d9 54.5px,#ff8181 64.5px,#ff5b5b 69.5px,#ff6b6b 74.5px,#ffc8c8 87.5px,#ffd4d4 94.5px,#ffb8b8 101.5px,#ff7b7b 107.5px,#ff1414 114.5px,#f60000 118.5px,#fe0a0a 122.5px,#ff9797 134.5px,#ffaeae 139.5px,#ff9f9f 142.5px,#ff5d5d 146.5px,#fe1010 150.5px,#f80101 153.5px,#fe1515 156.5px,#ff8c8c 162.5px,#ffa0a0 166.5px,#ff9090 170.5px,#ff6363 173.5px,#f91818 176.5px,#db0202 178.5px,#8d0000 182.5px,#800000 186.5px,#890000 192.5px,#be0000 195.5px,#f71212 198.5px,#ff6363 203.5px,#ff6e6e 206.5px,#ff4848 209.5px,#fa1d1d 211.5px,#d80303 213.5px,#910000 216.5px,#800000 219.5px,#800 224.5px,#b20000 227.5px,#ee0707 230.5px,#ff3131 233.5px,#ff6868 237.5px,#ff7979 241.5px,#ff6363 244.5px,#f61818 248.5px,#cb0202 250.5px,#960000 252.5px,#810000 254.5px,#7f0000 322.5px)"></i><i style="background:linear-gradient(90deg,#ffdada 0.5px,#ffc2c2 10.5px,#f66 23.5px,#ff7272 26.5px,#ffdada 37.5px,#ffefef 45.5px,#ffd8d8 54.5px,#ff7f7f 64.5px,#ff5858 69.5px,#ff6969 74.5px,#ffc7c7 87.5px,#ffd2d2 94.5px,#ffb7b7 101.5px,#ff7979 107.5px,#fe1111 114.5px,#f30000 118.5px,#fd0808 122.5px,#ff9494 134.5px,#ffabab 139.5px,#ff9c9c 142.5px,#ff5b5b 146.5px,#fd0e0e 150.5px,#f60101 153.5px,#fe1212 156.5px,#ff8a8a 162.5px,#ff9d9d 165.5px,#ff8e8e 170.5px,#ff5f5f 173.5px,#f81515 176.5px,#d80202 178.5px,#8b0000 182.5px,#800000 186.5px,#870000 192.5px,#b90000 195.5px,#f50f0f 198.5px,#ff5f5f 203.5px,#ff6969 206.5px,#f44 209.5px,#f91a1a 211.5px,#d40303 213.5px,#8e0000 216.5px,#800000 219.5px,#850000 224.5px,#ad0000 227.5px,#f70e0e 231.5px,#ff6464 237.5px,#ff7575 241.5px,#ff5f5f 244.5px,#f41515 248.5px,#c70202 250.5px,#930000 252.5px,#810000 254.5px,#7f0000 322.5px)"></i><i style="background:linear-gradient(90deg,#ffd9d9 0.5px,#ffc1c1 10.5px,#ff6363 23.5px,#ff7070 26.5px,#ffdada 37.5px,#fee 45.5px,#ffd7d7 54.5px,#ff7d7d 64.5px,#ff5656 69.5px,#f66 74.5px,#ffc0c0 86.5px,#ffd2d2 93.5px,#ffbcbc 100.5px,#ff8484 106.5px,#fe0e0e 114.5px,#f00000 118.5px,#fb0606 122.5px,#ff4f4f 128.5px,#f99 135.5px,#ffa7a7 140.5px,#ff8e8e 143.5px,#fc0c0c 150.5px,#f60202 154.5px,#ff1f1f 157.5px,#f88 162.5px,#ff9b9b 165.5px,#ff8c8c 170.5px,#ff5b5b 173.5px,#f61212 176.5px,#d50101 178.5px,#890000 182.5px,#800000 188.5px,#850000 192.5px,#b40000 195.5px,#f30d0d 198.5px,#ff4e4e 202.5px,#f66 205.5px,#ff5151 208.5px,#f71717 211.5px,#cf0202 213.5px,#9b0000 215.5px,#830000 217.5px,#830000 224.5px,#a80000 227.5px,#f50c0c 231.5px,#f55 236.5px,#ff7272 240.5px,#ff6565 243.5px,#ff3939 246.5px,#f21212 248.5px,#a50000 251.5px,#840000 253.5px,#7f0000 322.5px)"></i><i style="background:linear-gradient(90deg,#ffd8d8 0.5px,#ffc5c5 9.5px,#ff7c7c 19.5px,#ff6161 23.5px,#ff6d6d 26.5px,#ffd9d9 37.5px,#ffeded 45.5px,#ffd6d6 54.5px,#ff7b7b 64.5px,#ff5757 68.5px,#ff5858 72.5px,#ffc4c4 87.5px,#ffcfcf 94.5px,#ffb3b3 101.5px,#ff8282 106.5px,#fd0c0c 114.5px,#ed0000 119.5px,#fd0b0b 123.5px,#ff8787 133.5px,#ffa5a5 138.5px,#ffa0a0 141.5px,#ff7c7c 144.5px,#fb0b0b 150.5px,#f30101 154.5px,#fe1c1c 157.5px,#ff8585 162.5px,#ff9a9a 165.5px,#ff8a8a 170.5px,#ff5757 173.5px,#f50f0f 176.5px,#bc0000 179.5px,#870000 182.5px,#800000 191.5px,#8c0000 193.5px,#f10a0a 198.5px,#ff3b3b 201.5px,#ff5e5e 204.5px,#ff5959 207.5px,#f51414 211.5px,#cb0202 213.5px,#980000 215.5px,#820000 217.5px,#820000 224.5px,#a30000 227.5px,#f30909 231.5px,#f44 235.5px,#ff6a6a 239.5px,#ff6969 242.5px,#ff4747 245.5px,#fb2020 247.5px,#da0505 249.5px,#8d0000 252.5px,#800000 255.5px,#7f0000 322.5px)"></i><i style="background:linear-gradient(90deg,#ffd7d7 0.5px,#ffc4c4 9.5px,#ff7a7a 19.5px,#ff5e5e 23.5px,#ff6b6b 26.5px,#ffd8d8 37.5px,#ffecec 44.5px,#ffdada 53.5px,#f99 61.5px,#ff5454 68.5px,#f55 72.5px,#ffc2c2 87.5px,#ffcece 94.5px,#ffb2b2 101.5px,#ff8080 106.5px,#fe1414 113.5px,#f20101 116.5px,#ec0000 120.5px,#fc0909 123.5px,#ff8484 133.5px,#ffa2a2 138.5px,#ff9d9d 141.5px,#ff7979 144.5px,#f90909 150.5px,#ed0000 153.5px,#fb0b0b 156.5px,#f44 159.5px,#ff8383 162.5px,#ff9898 165.5px,#ff8787 170.5px,#ff5353 173.5px,#f30d0d 176.5px,#b80000 179.5px,#860000 182.5px,#820000 192.5px,#970000 194.5px,#ee0808 198.5px,#ff3737 201.5px,#ff5959 204.5px,#f55 207.5px,#f31111 211.5px,#a00 214.5px,#870000 216.5px,#810000 224.5px,#9e0000 227.5px,#f00707 231.5px,#ff3131 234.5px,#ff6060 238.5px,#ff6969 241.5px,#ff5151 244.5px,#fa1c1c 247.5px,#d60303 249.5px,#9e0000 251.5px,#820000 253.5px,#7f0000 322.5px)"></i><i style="background:linear-gradient(90deg,#ffd6d6 0.5px,#ffc3c3 9.5px,#ff8181 18.5px,#ff5c5c 23.5px,#ff6868 26.5px,#ffd7d7 37.5px,#ffebeb 44.5px,#ffd9d9 53.5px,#ff9797 61.5px,#ff5252 68.5px,#ff5353 72.5px,#ffc1c1 87.5px,#fcc 94.5px,#ffb0b0 101.5px,#ff7e7e 106.5px,#fe1111 113.5px,#ef0101 116.5px,#e60000 119.5px,#fb0707 123.5px,#ff8282 133.5px,#ffa0a0 138.5px,#ff9b9b 141.5px,#f77 144.5px,#fd1414 149.5px,#ec0000 152.5px,#fa0909 156.5px,#ff4040 159.5px,#ff8080 162.5px,#ff9696 165.5px,#ff8d8d 169.5px,#f66 172.5px,#f20b0b 176.5px,#a00000 180.5px,#850000 182.5px,#810000 192.5px,#940000 194.5px,#eb0707 198.5px,#fd2121 200.5px,#f55 204.5px,#ff5050 207.5px,#fb1f1f 210.5px,#dd0505 212.5px,#910000 215.5px,#800000 218.5px,#830000 225.5px,#ad0000 228.5px,#ec0606 231.5px,#ff2d2d 234.5px,#ff5c5c 238.5px,#ff6464 241.5px,#ff4d4d 244.5px,#f81919 247.5px,#d10303 249.5px,#9a0000 251.5px,#820000 253.5px,#7f0000 322.5px)"></i><i style="background:linear-gradient(90deg,#ffd5d5 0.5px,#ffc2c2 9.5px,#ff8080 18.5px,#ff5959 23.5px,#f66 26.5px,#ffcfcf 36.5px,#ffeaea 43.5px,#fdd 52.5px,#faa 59.5px,#ff4f4f 68.5px,#ff5050 72.5px,#ffbaba 86.5px,#fcc 93.5px,#ffb5b5 100.5px,#ff7c7c 106.5px,#fd0f0f 113.5px,#e60000 117.5px,#e60000 120.5px,#fd0e0e 124.5px,#ff7f7f 133.5px,#ff9d9d 138.5px,#ff9898 141.5px,#ff7474 144.5px,#fc1212 149.5px,#e90000 152.5px,#f90808 156.5px,#ff3d3d 159.5px,#ff7e7e 162.5px,#ff9494 165.5px,#ff8b8b 169.5px,#ff6262 172.5px,#fa1a1a 175.5px,#de0202 177.5px,#8c0000 181.5px,#800000 185.5px,#860000 193.5px,#a30000 195.5px,#e70505 198.5px,#fd1d1d 200.5px,#ff5050 204.5px,#ff4c4c 207.5px,#fb1c1c 210.5px,#d90404 212.5px,#8e0000 215.5px,#800000 218.5px,#820000 225.5px,#950000 227.5px,#e80505 231.5px,#fd1a1a 233.5px,#ff5858 238.5px,#ff6060 241.5px,#ff4949 244.5px,#f61616 247.5px,#cd0202 249.5px,#970000 251.5px,#810000 253.5px,#7f0000 322.5px)"></i><i style="background:linear-gradient(90deg,#ffd4d4 0.5px,#ffc1c1 9.5px,#ff7e7e 18.5px,#ff5757 23.5px,#ff6363 26.5px,#ffcece 36.5px,#ffe9e9 43.5px,#ffdcdc 52.5px,#ffa9a9 59.5px,#ff4d4d 68.5px,#ff4e4e 72.5px,#ffb9b9 86.5px,#ffcaca 93.5px,#ffb4b4 100.5px,#ff7979 106.5px,#fc0c0c 113.5px,#e30000 117.5px,#e20000 120.5px,#fc0c0c 124.5px,#ff7d7d 133.5px,#ff9b9b 138.5px,#ff9696 141.5px,#ff7272 144.5px,#fb1010 149.5px,#e60000 152.5px,#f70606 156.5px,#ff3939 159.5px,#ff7b7b 162.5px,#ff9393 165.5px,#ff8989 169.5px,#ff5e5e 172.5px,#f91717 175.5px,#db0202 177.5px,#8a0000 181.5px,#7f0000 186.5px,#840000 193.5px,#9e0000 195.5px,#f40c0c 199.5px,#ff4343 203.5px,#ff4e4e 206.5px,#fe2a2a 209.5px,#ec0a0a 211.5px,#9d0000 214.5px,#830000 216.5px,#860000 226.5px,#b80000 229.5px,#f40a0a 232.5px,#ff4b4b 237.5px,#ff5c5c 241.5px,#f44 244.5px,#f41212 247.5px,#c80202 249.5px,#930000 251.5px,#810000 253.5px,#7f0000 322.5px)"></i><i style="background:linear-gradient(90deg,#ffd3d3 0.5px,#ffc0c0 9.5px,#ff7c7c 18.5px,#ff5757 22.5px,#ff5959 25.5px,#ffd4d4 37.5px,#ffe9e9 44.5px,#ffd6d6 53.5px,#ff9393 61.5px,#ff4a4a 68.5px,#ff4b4b 72.5px,#ffb7b7 86.5px,#ffc9c9 93.5px,#ffb2b2 100.5px,#ff8585 105.5px,#fb0a0a 113.5px,#dc0000 118.5px,#ed0101 122.5px,#fe1515 125.5px,#ff7a7a 133.5px,#ff9898 138.5px,#ff9393 141.5px,#ff7070 144.5px,#fa0e0e 149.5px,#e30000 152.5px,#ed0101 155.5px,#fb0f0f 157.5px,#ff7979 162.5px,#ff9191 165.5px,#ff8787 169.5px,#ff5a5a 172.5px,#f81414 175.5px,#d80202 177.5px,#890000 181.5px,#7f0000 187.5px,#830000 193.5px,#9a0000 195.5px,#f10909 199.5px,#f33 202.5px,#ff4b4b 205.5px,#ff3636 208.5px,#f81515 210.5px,#d00202 212.5px,#9a0000 214.5px,#820000 216.5px,#840000 226.5px,#9e0000 228.5px,#f10808 232.5px,#ff2f2f 235.5px,#f55 239.5px,#ff5353 242.5px,#ff3030 245.5px,#f20f0f 247.5px,#a60000 250.5px,#840000 252.5px,#7f0000 322.5px)"></i><i style="background:linear-gradient(90deg,#ffd3d3 0.5px,#ffbfbf 9.5px,#ff8484 17.5px,#f55 22.5px,#ff5656 25.5px,#fcc 36.5px,#ffe8e8 43.5px,#ffdada 52.5px,#ffa6a6 59.5px,#ff4e4e 67.5px,#ff4545 71.5px,#ff7070 77.5px,#ffb6b6 86.5px,#ffc8c8 93.5px,#ffb0b0 100.5px,#ff8383 105.5px,#fa0909 113.5px,#d80000 118.5px,#ea0101 122.5px,#fe1212 125.5px,#ff7878 133.5px,#ff9696 138.5px,#ff9191 141.5px,#ff6d6d 144.5px,#f90d0d 149.5px,#df0000 153.5px,#fa0d0d 157.5px,#ff7676 162.5px,#ff8f8f 165.5px,#ff8585 169.5px,#ff5656 172.5px,#f71111 175.5px,#d50101 177.5px,#950000 180.5px,#810000 182.5px,#820000 193.5px,#970000 195.5px,#ee0707 199.5px,#ff2f2f 202.5px,#ff4646 205.5px,#ff3232 208.5px,#f61212 210.5px,#cb0202 212.5px,#960000 214.5px,#810000 216.5px,#830000 226.5px,#900 228.5px,#ee0606 232.5px,#ff2b2b 235.5px,#ff5151 239.5px,#ff4f4f 242.5px,#fe2c2c 245.5px,#f00d0d 247.5px,#8d0000 251.5px,#800000 254.5px,#7f0000 322.5px)"></i><i style="background:linear-gradient(90deg,#ffd2d2 0.5px,#ffbebe 9.5px,#ff8383 17.5px,#ff5252 22.5px,#ff5454 25.5px,#ffcaca 36.5px,#ffe5e5 42.5px,#fdd 51.5px,#ffaeae 58.5px,#ff4b4b 67.5px,#ff4343 71.5px,#ff6d6d 77.5px,#ffb4b4 86.5px,#ffc6c6 93.5px,#ffafaf 100.5px,#ff8080 105.5px,#fd1111 112.5px,#e70000 115.5px,#d50000 119.5px,#f80606 124.5px,#ff7676 133.5px,#ff9393 138.5px,#ff8e8e 141.5px,#ff6b6b 144.5px,#f70b0b 149.5px,#dc0000 153.5px,#f90b0b 157.5px,#ff8181 163.5px,#ff8e8e 166.5px,#ff8282 169.5px,#ff5252 172.5px,#f50f0f 175.5px,#bc0000 178.5px,#860000 181.5px,#810000 193.5px,#930000 195.5px,#eb0606 199.5px,#fd1c1c 201.5px,#ff3e3e 204.5px,#ff3a3a 207.5px,#f40f0f 210.5px,#c60101 212.5px,#930000 214.5px,#810000 216.5px,#820000 226.5px,#950000 228.5px,#ea0505 232.5px,#fd1919 234.5px,#ff4747 238.5px,#ff4f4f 241.5px,#ff3737 244.5px,#fa1818 246.5px,#d60303 248.5px,#9e0000 250.5px,#820000 252.5px,#7f0000 322.5px)"></i><i style="background:linear-gradient(90deg,#ffd1d1 0.5px,#ffbdbd 9.5px,#ff8181 17.5px,#ff5050 22.5px,#ff5151 25.5px,#ffc9c9 36.5px,#ffe5e5 42.5px,#ffdcdc 51.5px,#ffadad 58.5px,#ff4949 67.5px,#ff4040 71.5px,#ff6b6b 77.5px,#ffb3b3 86.5px,#ffc5c5 93.5px,#ffadad 100.5px,#ff7e7e 105.5px,#fc0f0f 112.5px,#dc0000 116.5px,#d20000 119.5px,#f70505 124.5px,#ff7373 133.5px,#ff9191 138.5px,#ff8c8c 141.5px,#ff6868 144.5px,#f60a0a 149.5px,#da0000 152.5px,#e50000 155.5px,#f80909 157.5px,#ff4343 160.5px,#ff7f7f 163.5px,#ff8c8c 166.5px,#ff8080 169.5px,#ff4e4e 172.5px,#f40d0d 175.5px,#b80000 178.5px,#900000 180.5px,#800000 183.5px,#850000 194.5px,#a20000 196.5px,#e70404 199.5px,#fd1818 201.5px,#ff3939 204.5px,#ff3535 207.5px,#f20c0c 210.5px,#900000 214.5px,#800000 216.5px,#860000 227.5px,#b90000 230.5px,#f50a0a 233.5px,#ff4242 238.5px,#ff4b4b 241.5px,#ff3232 244.5px,#f81414 246.5px,#d20202 248.5px,#9a0000 250.5px,#820000 252.5px,#7f0000 322.5px)"></i><i style="background:linear-gradient(90deg,#ffd0d0 0.5px,#ffbdbd 9.5px,#ff7f7f 17.5px,#ff4d4d 22.5px,#ff4f4f 25.5px,#ffc8c8 36.5px,#ffe4e4 42.5px,#ffdbdb 51.5px,#ffacac 58.5px,#ff4646 67.5px,#ff3e3e 71.5px,#ff6969 77.5px,#ffacac 85.5px,#ffc3c3 92.5px,#ffb2b2 99.5px,#ff7c7c 105.5px,#fb0c0c 112.5px,#d80000 116.5px,#ce0000 119.5px,#f50404 124.5px,#ff4242 129.5px,#ff8080 135.5px,#ff8e8e 140.5px,#ff7575 143.5px,#fb1616 148.5px,#e90202 150.5px,#d60000 153.5px,#f60808 157.5px,#ff4040 160.5px,#ff7c7c 163.5px,#ff8a8a 166.5px,#ff7d7d 169.5px,#ff4a4a 172.5px,#f20b0b 175.5px,#9f0000 179.5px,#840000 181.5px,#840000 194.5px,#9e0000 196.5px,#f40a0a 200.5px,#ff3535 204.5px,#ff3131 207.5px,#fb1616 209.5px,#d90303 211.5px,#8d0000 214.5px,#800000 217.5px,#840000 227.5px,#9e0000 229.5px,#f30808 233.5px,#ff3636 237.5px,#ff4646 241.5px,#ff2e2e 244.5px,#f61111 246.5px,#cd0202 248.5px,#970000 250.5px,#810000 252.5px,#7f0000 322.5px)"></i><i style="background:linear-gradient(90deg,#ffd0d0 0.5px,#ffbcbc 9.5px,#ff7e7e 17.5px,#ff4b4b 22.5px,#ff4c4c 25.5px,#ffc7c7 36.5px,#ffe3e3 42.5px,#ffdada 51.5px,#ffabab 58.5px,#f44 67.5px,#ff3b3b 71.5px,#f66 77.5px,#faa 85.5px,#ffc2c2 92.5px,#ffb0b0 99.5px,#ff8787 104.5px,#fa0b0b 112.5px,#cf0000 117.5px,#ce0000 120.5px,#fa0a0a 125.5px,#ff6f6f 133.5px,#ff8c8c 138.5px,#ff8787 141.5px,#ff6464 144.5px,#fa1414 148.5px,#e70202 150.5px,#d30000 153.5px,#f40707 157.5px,#fe2525 159.5px,#ff7979 163.5px,#ff8989 166.5px,#ff7a7a 169.5px,#ff4545 172.5px,#f00909 175.5px,#8c0000 180.5px,#800000 184.5px,#830000 194.5px,#9a0000 196.5px,#f10707 200.5px,#ff2828 203.5px,#f33 206.5px,#f91313 209.5px,#d50202 211.5px,#9d0000 213.5px,#820000 215.5px,#830000 227.5px,#900 229.5px,#ef0606 233.5px,#ff2727 236.5px,#ff4343 240.5px,#ff3535 243.5px,#f40e0e 246.5px,#c70101 248.5px,#930000 250.5px,#810000 252.5px,#7f0000 322.5px)"></i><i style="background:linear-gradient(90deg,#ffcfcf 0.5px,#fbb 9.5px,#ff7c7c 17.5px,#ff4848 22.5px,#ff4a4a 25.5px,#ffc6c6 36.5px,#ffe2e2 42.5px,#ffdada 51.5px,#ffa9a9 58.5px,#ff4141 67.5px,#ff3838 71.5px,#ff6464 77.5px,#ffa9a9 85.5px,#ffc0c0 92.5px,#ffaeae 99.5px,#ff8585 104.5px,#f90909 112.5px,#cb0000 117.5px,#cb0000 120.5px,#f90808 125.5px,#ff6c6c 133.5px,#ff8989 138.5px,#ff8585 141.5px,#ff6161 144.5px,#fa1313 148.5px,#d80000 151.5px,#d40000 154.5px,#f20606 157.5px,#fe2222 159.5px,#f77 163.5px,#ff8787 166.5px,#f77 169.5px,#ff4141 172.5px,#ee0808 175.5px,#8a0000 180.5px,#7f0000 185.5px,#820000 194.5px,#960000 196.5px,#ee0505 200.5px,#ff2424 203.5px,#ff2e2e 206.5px,#f71010 209.5px,#d00202 211.5px,#900 213.5px,#820000 215.5px,#820000 227.5px,#950000 229.5px,#eb0505 233.5px,#fd1717 235.5px,#ff3c3c 239.5px,#ff3939 242.5px,#fb1818 245.5px,#de0404 247.5px,#900000 250.5px,#800000 252.5px,#7f0000 322.5px)"></i><i style="background:linear-gradient(90deg,#ffcece 0.5px,#ffbaba 9.5px,#ff8585 16.5px,#ff4646 22.5px,#ff4747 25.5px,#ffc5c5 36.5px,#ffe2e2 42.5px,#ffd9d9 51.5px,#ffa8a8 58.5px,#ff3f3f 67.5px,#ff3636 71.5px,#ff6161 77.5px,#ffa7a7 85.5px,#ffbfbf 92.5px,#ffadad 99.5px,#ff8383 104.5px,#f70707 112.5px,#c80000 117.5px,#c80000 120.5px,#f70707 125.5px,#ff6a6a 133.5px,#ff8787 138.5px,#ff8282 141.5px,#ff5f5f 144.5px,#f91111 148.5px,#d60000 151.5px,#d10000 154.5px,#f00404 157.5px,#fd1f1f 159.5px,#ff7373 163.5px,#ff8585 166.5px,#ff7474 169.5px,#f81313 174.5px,#d90101 176.5px,#890000 180.5px,#7f0000 186.5px,#860000 195.5px,#a60000 197.5px,#ea0404 200.5px,#fd1515 202.5px,#ff2b2b 205.5px,#fd1919 208.5px,#e50505 210.5px,#960000 213.5px,#810000 215.5px,#860000 228.5px,#a40000 230.5px,#e70303 233.5px,#fd1313 235.5px,#ff3737 239.5px,#ff3535 242.5px,#fa1414 245.5px,#d90303 247.5px,#8d0000 250.5px,#800000 253.5px,#7f0000 322.5px)"></i><i style="background:linear-gradient(90deg,#ffcdcd 0.5px,#ffb9b9 9.5px,#ff8484 16.5px,#ff4343 22.5px,#ff4545 25.5px,#fbb 35.5px,#ffdfdf 41.5px,#ffdede 49.5px,#ffb9b9 56.5px,#ff6b6b 63.5px,#ff3c3c 67.5px,#f33 71.5px,#ff5f5f 77.5px,#ff9f9f 84.5px,#ffbcbc 91.5px,#ffb0b0 98.5px,#ff8181 104.5px,#fc1010 111.5px,#df0000 114.5px,#c10000 118.5px,#cb0000 121.5px,#f50505 125.5px,#ff5252 131.5px,#ff7d7d 136.5px,#ff8484 140.5px,#ff6c6c 143.5px,#f80f0f 148.5px,#d30000 151.5px,#ce0000 154.5px,#f80c0c 158.5px,#ff7070 163.5px,#ff8383 166.5px,#ff7070 169.5px,#f71010 174.5px,#c00000 177.5px,#870000 180.5px,#7f0000 189.5px,#850000 195.5px,#a20000 197.5px,#f50808 201.5px,#ff2626 205.5px,#fc1515 208.5px,#e10404 210.5px,#920000 213.5px,#810000 215.5px,#840000 228.5px,#9f0000 230.5px,#f30707 234.5px,#ff2d2d 238.5px,#ff3535 241.5px,#f91111 245.5px,#d50202 247.5px,#8b0000 250.5px,#800000 254.5px,#7f0000 322.5px)"></i><i style="background:linear-gradient(90deg,#ffcdcd 0.5px,#ffb8b8 9.5px,#ff8282 16.5px,#ff4141 22.5px,#ff4242 25.5px,#ffbaba 35.5px,#ffdede 41.5px,#fdd 49.5px,#ffb8b8 56.5px,#ff6969 63.5px,#ff3a3a 67.5px,#ff3131 71.5px,#ff5c5c 77.5px,#ff9e9e 84.5px,#fbb 91.5px,#ffafaf 98.5px,#ff7f7f 104.5px,#fb0e0e 111.5px,#d10000 115.5px,#be0000 119.5px,#dc0000 123.5px,#fb0c0c 126.5px,#ff6565 133.5px,#ff8282 138.5px,#ff7d7d 141.5px,#ff5a5a 144.5px,#f70e0e 148.5px,#c90000 152.5px,#d40000 155.5px,#f70a0a 158.5px,#ff6d6d 163.5px,#ff8181 166.5px,#ff6c6c 169.5px,#f50d0d 174.5px,#bd0000 177.5px,#860000 180.5px,#800000 194.5px,#8d0000 196.5px,#f20606 201.5px,#f22 205.5px,#fb1111 208.5px,#dc0202 210.5px,#8f0000 213.5px,#800000 215.5px,#830000 228.5px,#9a0000 230.5px,#f00505 234.5px,#ff2121 237.5px,#ff3131 241.5px,#f70e0e 245.5px,#cf0101 247.5px,#9a0000 249.5px,#820000 251.5px,#7f0000 322.5px)"></i><i style="background:linear-gradient(90deg,#fcc 0.5px,#ffb7b7 9.5px,#ff8080 16.5px,#ff4545 21.5px,#ff3b3b 24.5px,#ff5353 27.5px,#ffafaf 34.5px,#ffdada 40.5px,#ffdfdf 48.5px,#ffbfbf 55.5px,#ff7575 62.5px,#ff3737 67.5px,#ff2e2e 71.5px,#ff5a5a 77.5px,#ff9c9c 84.5px,#ffbaba 91.5px,#ffadad 98.5px,#ff7c7c 104.5px,#fa0c0c 111.5px,#cd0000 115.5px,#ba0000 119.5px,#d90000 123.5px,#fa0b0b 126.5px,#ff6363 133.5px,#ff8080 138.5px,#ff7b7b 141.5px,#ff5858 144.5px,#f50c0c 148.5px,#c60000 152.5px,#d10000 155.5px,#f50909 158.5px,#ff6969 163.5px,#ff7f7f 166.5px,#ff6868 169.5px,#fc1c1c 173.5px,#e50303 175.5px,#900000 179.5px,#800000 182.5px,#820000 195.5px,#900 197.5px,#ee0404 201.5px,#ff1a1a 204.5px,#fe1616 207.5px,#ed0606 209.5px,#8d0000 213.5px,#800000 216.5px,#820000 228.5px,#960000 230.5px,#ec0404 234.5px,#ff1d1d 237.5px,#ff2d2d 241.5px,#f40b0b 245.5px,#ca0101 247.5px,#960000 249.5px,#810000 251.5px,#7f0000 322.5px)"></i><i style="background:linear-gradient(90deg,#ffcbcb 0.5px,#ffb6b6 9.5px,#ff7f7f 16.5px,#ff4242 21.5px,#ff3939 24.5px,#ff5151 27.5px,#ffaeae 34.5px,#ffd9d9 40.5px,#ffdede 48.5px,#ffbebe 55.5px,#ff7373 62.5px,#ff3535 67.5px,#ff2c2c 71.5px,#ff5858 77.5px,#ff9b9b 84.5px,#ffb8b8 91.5px,#ffacac 98.5px,#ff8686 103.5px,#f80a0a 111.5px,#ba0000 117.5px,#ba0000 120.5px,#f80909 126.5px,#ff6161 133.5px,#ff7d7d 138.5px,#ff7979 141.5px,#ff5656 144.5px,#f40b0b 148.5px,#c30000 152.5px,#ce0000 155.5px,#f30707 158.5px,#ff3e3e 161.5px,#ff7373 164.5px,#ff7878 167.5px,#ff5454 170.5px,#f20a0a 174.5px,#8e0000 179.5px,#800000 182.5px,#820000 195.5px,#960000 197.5px,#ea0303 201.5px,#ff1515 204.5px,#fd1212 207.5px,#e90404 209.5px,#8b0000 213.5px,#800000 217.5px,#860000 229.5px,#b00 232.5px,#f50707 235.5px,#ff2929 240.5px,#fe1c1c 243.5px,#f20808 245.5px,#920000 249.5px,#810000 251.5px,#7f0000 322.5px)"></i><i style="background:linear-gradient(90deg,#ffcaca 0.5px,#ffb5b5 9.5px,#ff7d7d 16.5px,#ff4040 21.5px,#ff3636 24.5px,#ff4e4e 27.5px,#ffadad 34.5px,#ffd8d8 40.5px,#fdd 48.5px,#ffbdbd 55.5px,#ff8080 61.5px,#ff3232 67.5px,#ff2929 71.5px,#f55 77.5px,#f99 84.5px,#ffb7b7 91.5px,#faa 98.5px,#ff8585 103.5px,#f70808 111.5px,#b70000 117.5px,#b70000 120.5px,#f70707 126.5px,#ff6767 134.5px,#ff7c7c 139.5px,#ff6f6f 142.5px,#ff4141 145.5px,#f20a0a 148.5px,#c00000 152.5px,#cb0000 155.5px,#f10606 158.5px,#ff3a3a 161.5px,#ff6f6f 164.5px,#ff7474 167.5px,#ff5050 170.5px,#fa1616 173.5px,#e00202 175.5px,#8c0000 179.5px,#800000 183.5px,#860000 196.5px,#b00 199.5px,#f40505 202.5px,#ff1313 206.5px,#f50808 208.5px,#cd0101 210.5px,#900 212.5px,#820000 214.5px,#840000 229.5px,#a00000 231.5px,#f20505 235.5px,#f22 239.5px,#ff2020 242.5px,#ee0606 245.5px,#8f0000 249.5px,#800000 252.5px,#7f0000 322.5px)"></i><i style="background:linear-gradient(90deg,#ffcaca 0.5px,#ffb4b4 9.5px,#ff7b7b 16.5px,#ff3d3d 21.5px,#ff3434 24.5px,#ff4c4c 27.5px,#ffacac 34.5px,#ffd7d7 40.5px,#ffdcdc 48.5px,#fbb 55.5px,#ff7e7e 61.5px,#ff3030 67.5px,#ff2727 71.5px,#ff5353 77.5px,#ff9898 84.5px,#ffb5b5 91.5px,#ffa9a9 98.5px,#ff8383 103.5px,#fc1212 110.5px,#dc0000 113.5px,#b40000 117.5px,#b40000 120.5px,#ea0202 125.5px,#fe1d1d 128.5px,#ff6565 134.5px,#ff7a7a 139.5px,#ff6c6c 142.5px,#ff3f3f 145.5px,#f00909 148.5px,#bd0000 152.5px,#c80000 155.5px,#ef0505 158.5px,#fd2121 160.5px,#ff6b6b 164.5px,#ff7070 167.5px,#ff4c4c 170.5px,#f91313 173.5px,#c70000 176.5px,#8b0000 179.5px,#800000 183.5px,#840000 196.5px,#a00000 198.5px,#f10303 202.5px,#ff1010 205.5px,#f20505 208.5px,#950000 212.5px,#810000 214.5px,#830000 229.5px,#9b0000 231.5px,#ee0404 235.5px,#ff1818 238.5px,#ff2020 241.5px,#f80b0b 244.5px,#d50101 246.5px,#8c0000 249.5px,#800000 252.5px,#7f0000 322.5px)"></i><i style="background:linear-gradient(90deg,#ffc9c9 0.5px,#ffb4b4 9.5px,#ff7a7a 16.5px,#ff3b3b 21.5px,#ff3131 24.5px,#ff4949 27.5px,#ffa0a0 33.5px,#ffd2d2 39.5px,#ffdede 46.5px,#ffc8c8 53.5px,#ff8989 60.5px,#ff3636 66.5px,#f22 70.5px,#ff3d3d 75.5px,#ff9696 84.5px,#ffb4b4 91.5px,#ffa7a7 98.5px,#ff8181 103.5px,#fb1010 110.5px,#d90000 113.5px,#b00000 117.5px,#b00000 120.5px,#d90000 124.5px,#fb0e0e 127.5px,#ff6262 134.5px,#ff7878 139.5px,#ff6a6a 142.5px,#fe2828 146.5px,#ef0808 148.5px,#c10000 151.5px,#bd0000 154.5px,#ed0404 158.5px,#fd1e1e 160.5px,#ff6767 164.5px,#ff6c6c 167.5px,#ff4848 170.5px,#f81010 173.5px,#c40000 176.5px,#890000 179.5px,#7f0000 184.5px,#830000 196.5px,#9c0000 198.5px,#ec0202 202.5px,#fe0c0c 205.5px,#ef0303 208.5px,#910000 212.5px,#810000 214.5px,#820000 229.5px,#960000 231.5px,#ea0202 235.5px,#ff1414 238.5px,#ff1c1c 241.5px,#f60808 244.5px,#cf0101 246.5px,#8a0000 249.5px,#7f0000 254.5px,#7f0000 322.5px)"></i><i style="background:linear-gradient(90deg,#ffc8c8 0.5px,#ffb3b3 9.5px,#ff8484 15.5px,#ff3838 21.5px,#ff2e2e 24.5px,#ff4747 27.5px,#ff9e9e 33.5px,#ffd1d1 39.5px,#ffdede 46.5px,#ffc7c7 53.5px,#f88 60.5px,#ff3434 66.5px,#ff2020 70.5px,#ff3a3a 75.5px,#ff9595 84.5px,#ffb2b2 91.5px,#ffa6a6 98.5px,#ff7f7f 103.5px,#fa0e0e 110.5px,#c80000 114.5px,#a00 118.5px,#b40000 121.5px,#f10404 126.5px,#ff3434 130.5px,#ff6767 135.5px,#ff7575 140.5px,#ff5c5c 143.5px,#f81313 147.5px,#cb0000 150.5px,#b50000 153.5px,#ce0000 156.5px,#f70b0b 159.5px,#ff6262 164.5px,#ff6868 167.5px,#ff4343 170.5px,#f70d0d 173.5px,#c10000 176.5px,#800 179.5px,#7f0000 186.5px,#820000 196.5px,#980000 198.5px,#e80101 202.5px,#fe0808 205.5px,#f70505 207.5px,#d60000 209.5px,#8e0000 212.5px,#800000 215.5px,#860000 230.5px,#b00 233.5px,#f30404 236.5px,#ff1818 240.5px,#f30606 244.5px,#970000 248.5px,#820000 250.5px,#7f0000 322.5px)"></i><i style="background:linear-gradient(90deg,#ffc7c7 0.5px,#ffb2b2 9.5px,#ff8383 15.5px,#ff3636 21.5px,#ff2c2c 24.5px,#ff4545 27.5px,#ff9d9d 33.5px,#ffd0d0 39.5px,#fdd 46.5px,#ffc6c6 53.5px,#ff8686 60.5px,#ff3131 66.5px,#ff1d1d 70.5px,#ff3838 75.5px,#ff9393 84.5px,#ffb1b1 91.5px,#ffa4a4 98.5px,#ff7d7d 103.5px,#f90c0c 110.5px,#c50000 114.5px,#a60000 118.5px,#b00000 121.5px,#ef0303 126.5px,#ff2424 129.5px,#ff5e5e 134.5px,#ff7474 139.5px,#f66 142.5px,#fd2323 146.5px,#eb0606 148.5px,#b00 151.5px,#b70000 154.5px,#f50909 159.5px,#ff5e5e 164.5px,#ff6363 167.5px,#ff3f3f 170.5px,#f50b0b 173.5px,#be0000 176.5px,#870000 179.5px,#7f0000 191.5px,#870000 197.5px,#f00101 203.5px,#fb0404 206.5px,#e60101 208.5px,#8c0000 212.5px,#800000 215.5px,#840000 230.5px,#9f0000 232.5px,#ef0303 236.5px,#f11 239.5px,#fe0f0f 242.5px,#ef0404 244.5px,#930000 248.5px,#810000 250.5px,#7f0000 322.5px)"></i><i style="background:linear-gradient(90deg,#ffc7c7 0.5px,#ffb1b1 9.5px,#ff8181 15.5px,#f33 21.5px,#ff2929 24.5px,#ff4242 27.5px,#ff9c9c 33.5px,#ffcfcf 39.5px,#ffdcdc 46.5px,#ffc5c5 53.5px,#ff8484 60.5px,#ff2f2f 66.5px,#ff1b1b 70.5px,#ff3535 75.5px,#ff9292 84.5px,#ffafaf 91.5px,#ffa3a3 98.5px,#ff7a7a 103.5px,#f80a0a 110.5px,#b60000 115.5px,#a30000 118.5px,#ad0000 121.5px,#f70909 127.5px,#ff5c5c 134.5px,#ff7272 139.5px,#ff6464 142.5px,#f61010 147.5px,#c50000 150.5px,#b00000 153.5px,#c80000 156.5px,#f30808 159.5px,#ff4d4d 163.5px,#ff6363 166.5px,#ff4a4a 169.5px,#f40909 173.5px,#920000 178.5px,#800000 181.5px,#850000 197.5px,#b60000 200.5px,#eb0000 203.5px,#f80202 206.5px,#e10000 208.5px,#8a0000 212.5px,#7f0000 217.5px,#830000 230.5px,#9a0000 232.5px,#eb0202 236.5px,#fe0d0d 239.5px,#f70606 243.5px,#d60101 245.5px,#900000 248.5px,#800000 251.5px,#7f0000 322.5px)"></i><i style="background:linear-gradient(90deg,#ffc6c6 0.5px,#ffb0b0 9.5px,#ff7f7f 15.5px,#ff3131 21.5px,#ff2727 24.5px,#ff4040 27.5px,#ff9b9b 33.5px,#ffcece 39.5px,#ffdbdb 46.5px,#ffc4c4 53.5px,#ff8383 60.5px,#ff2c2c 66.5px,#ff1818 70.5px,#f33 75.5px,#ff9090 84.5px,#ffaeae 91.5px,#ffa1a1 98.5px,#ff7878 103.5px,#f60909 110.5px,#a00 116.5px,#a00000 119.5px,#bf0000 123.5px,#f60707 127.5px,#ff5959 134.5px,#ff7070 139.5px,#ff6161 142.5px,#f50e0e 147.5px,#c30000 150.5px,#ae0000 152.5px,#b90000 155.5px,#f10707 159.5px,#ff4949 163.5px,#ff5f5f 166.5px,#ff4646 169.5px,#f20808 173.5px,#900000 178.5px,#800000 181.5px,#840000 197.5px,#b10000 200.5px,#e50000 203.5px,#f50101 205.5px,#ea0000 207.5px,#800 212.5px,#7f0000 220.5px,#820000 230.5px,#960000 232.5px,#f30303 237.5px,#fe0b0b 241.5px,#f40404 243.5px,#b80000 246.5px,#8d0000 248.5px,#800000 251.5px,#7f0000 322.5px)"></i><i style="background:linear-gradient(90deg,#ffc5c5 0.5px,#ffafaf 9.5px,#ff7e7e 15.5px,#ff2e2e 21.5px,#ff2424 24.5px,#ff3d3d 27.5px,#f99 33.5px,#ffcdcd 39.5px,#ffdbdb 46.5px,#ffc3c3 53.5px,#ff8181 60.5px,#ff2a2a 66.5px,#ff1616 70.5px,#ff3030 75.5px,#ff8e8e 84.5px,#ffacac 91.5px,#ffa0a0 98.5px,#ff7676 103.5px,#fc1313 109.5px,#d80000 112.5px,#a60000 116.5px,#9c0000 119.5px,#bc0000 123.5px,#f40606 127.5px,#f44 132.5px,#ff6969 137.5px,#ff6767 141.5px,#ff4343 144.5px,#f40d0d 147.5px,#b20000 151.5px,#ae0000 154.5px,#f00606 159.5px,#ff3434 162.5px,#ff5959 165.5px,#ff4e4e 168.5px,#fa1111 172.5px,#c00 175.5px,#8d0000 178.5px,#800000 181.5px,#820000 197.5px,#980000 199.5px,#df0000 203.5px,#ef0000 205.5px,#e50000 207.5px,#930000 211.5px,#810000 213.5px,#860000 231.5px,#b80000 234.5px,#ee0101 237.5px,#fe0808 240.5px,#f00202 243.5px,#8a0000 248.5px,#7f0000 253.5px,#7f0000 322.5px)"></i><i style="background:linear-gradient(90deg,#ffc4c4 0.5px,#ffaeae 9.5px,#ff7c7c 15.5px,#ff2c2c 21.5px,#f22 24.5px,#ff3b3b 27.5px,#ff9898 33.5px,#fcc 39.5px,#ffdada 46.5px,#ffc2c2 53.5px,#ff7f7f 60.5px,#ff2727 66.5px,#ff1313 70.5px,#ff2e2e 75.5px,#ff8d8d 84.5px,#ffabab 91.5px,#ff9e9e 98.5px,#ff7474 103.5px,#fb1111 109.5px,#d50000 112.5px,#a30000 116.5px,#900 119.5px,#b80000 123.5px,#f20505 127.5px,#ff3535 131.5px,#ff6262 136.5px,#ff6a6a 140.5px,#ff5151 143.5px,#f30b0b 147.5px,#b00000 151.5px,#ab0000 154.5px,#ee0404 159.5px,#ff3030 162.5px,#f55 165.5px,#ff4a4a 168.5px,#f90e0e 172.5px,#c90000 175.5px,#8c0000 178.5px,#800000 182.5px,#820000 197.5px,#940000 199.5px,#d90000 203.5px,#e90000 205.5px,#de0000 207.5px,#8f0000 211.5px,#800000 214.5px,#840000 231.5px,#b20000 234.5px,#e80101 237.5px,#fd0404 240.5px,#eb0101 243.5px,#800 248.5px,#7f0000 255.5px,#7f0000 322.5px)"></i><i style="background:linear-gradient(90deg,#ffc4c4 0.5px,#ffadad 9.5px,#ff7b7b 15.5px,#ff2929 21.5px,#ff1f1f 24.5px,#ff3838 27.5px,#ff9797 33.5px,#ffcbcb 39.5px,#ffd9d9 46.5px,#ffc1c1 53.5px,#ff8b8b 59.5px,#ff2525 66.5px,#ff1010 70.5px,#ff2b2b 75.5px,#ff8b8b 84.5px,#faa 91.5px,#ff9c9c 98.5px,#ff7272 103.5px,#fa0f0f 109.5px,#d20000 112.5px,#a00000 116.5px,#960000 119.5px,#b50000 123.5px,#f00404 127.5px,#ff2525 130.5px,#ff5a5a 135.5px,#ff6868 140.5px,#ff4f4f 143.5px,#fb1919 146.5px,#e00303 148.5px,#ad0000 151.5px,#a80000 154.5px,#dc0101 158.5px,#f70b0b 160.5px,#ff4a4a 164.5px,#ff4e4e 167.5px,#f70c0c 172.5px,#c60000 175.5px,#8a0000 178.5px,#7f0000 183.5px,#860000 198.5px,#d00 204.5px,#e10000 206.5px,#c80000 208.5px,#8c0000 211.5px,#800000 214.5px,#830000 231.5px,#900 233.5px,#e20000 237.5px,#fa0202 240.5px,#e60000 243.5px,#920000 247.5px,#810000 249.5px,#7f0000 322.5px)"></i><i style="background:linear-gradient(90deg,#ffc3c3 0.5px,#ffb1b1 8.5px,#ff8585 14.5px,#ff2727 21.5px,#ff1d1d 24.5px,#ff3636 27.5px,#ff9696 33.5px,#ffcaca 39.5px,#ffd8d8 46.5px,#ffc0c0 53.5px,#ff8a8a 59.5px,#f22 66.5px,#ff0e0e 70.5px,#ff2929 75.5px,#ff8a8a 84.5px,#ffa8a8 91.5px,#ff9b9b 98.5px,#ff6f6f 103.5px,#f90d0d 109.5px,#bf0000 113.5px,#960000 117.5px,#960000 120.5px,#c00000 124.5px,#f80a0a 128.5px,#ff5858 135.5px,#f66 140.5px,#ff4c4c 143.5px,#fa1717 146.5px,#de0202 148.5px,#a00 151.5px,#a50000 154.5px,#da0000 158.5px,#fc1717 161.5px,#ff4545 164.5px,#ff4a4a 167.5px,#f60909 172.5px,#c30000 175.5px,#890000 178.5px,#7f0000 183.5px,#840000 198.5px,#d70000 204.5px,#db0000 206.5px,#c20000 208.5px,#8a0000 211.5px,#7f0000 216.5px,#820000 231.5px,#940000 233.5px,#e80000 238.5px,#f40101 241.5px,#cd0000 244.5px,#8f0000 247.5px,#800000 250.5px,#7f0000 322.5px)"></i><i style="background:linear-gradient(90deg,#ffc2c2 0.5px,#ffb1b1 8.5px,#ff8484 14.5px,#ff2424 21.5px,#ff1a1a 24.5px,#f33 27.5px,#ff9494 33.5px,#ffc9c9 39.5px,#ffd7d7 46.5px,#ffbfbf 53.5px,#f88 59.5px,#ff2020 66.5px,#ff0b0b 70.5px,#ff2626 75.5px,#f88 84.5px,#ffa7a7 91.5px,#f99 98.5px,#ff6d6d 103.5px,#f70b0b 109.5px,#bc0000 113.5px,#920000 117.5px,#930000 120.5px,#bd0000 124.5px,#f70909 128.5px,#ff5656 135.5px,#ff6464 140.5px,#ff4a4a 143.5px,#f91616 146.5px,#db0202 148.5px,#a70000 151.5px,#a20000 154.5px,#d70000 158.5px,#fb1414 161.5px,#ff4141 164.5px,#ff4545 167.5px,#f40808 172.5px,#a00 176.5px,#800 178.5px,#7f0000 185.5px,#830000 198.5px,#a80000 201.5px,#d10000 204.5px,#d40000 206.5px,#a90000 209.5px,#800 211.5px,#7f0000 219.5px,#850000 232.5px,#e10000 238.5px,#ed0000 241.5px,#c70000 244.5px,#8b0000 247.5px,#800000 251.5px,#7f0000 322.5px)"></i><i style="background:linear-gradient(90deg,#ffc1c1 0.5px,#ffb0b0 8.5px,#ff8282 14.5px,#f22 21.5px,#ff1818 24.5px,#ff3131 27.5px,#ff9393 33.5px,#ffc8c8 39.5px,#ffd7d7 46.5px,#ffbebe 53.5px,#ff8686 59.5px,#ff1d1d 66.5px,#ff0909 70.5px,#ff2424 75.5px,#ff8d8d 85.5px,#ffa6a6 92.5px,#ff9292 99.5px,#ff6b6b 103.5px,#f60a0a 109.5px,#9f0000 115.5px,#8c0000 118.5px,#960000 121.5px,#da0000 126.5px,#fc1111 129.5px,#ff5454 135.5px,#ff6161 140.5px,#ff4848 143.5px,#f81414 146.5px,#c40000 149.5px,#9c0000 152.5px,#a80000 155.5px,#f20707 160.5px,#ff3d3d 164.5px,#ff4141 167.5px,#fb1010 171.5px,#d20000 174.5px,#940000 177.5px,#810000 179.5px,#820000 198.5px,#a20000 201.5px,#ca0000 204.5px,#ce0000 206.5px,#a30000 209.5px,#860000 211.5px,#800000 231.5px,#9b0000 234.5px,#da0000 238.5px,#e60000 241.5px,#c00000 244.5px,#890000 247.5px,#7f0000 253.5px,#7f0000 322.5px)"></i><i style="background:linear-gradient(90deg,#ffc1c1 0.5px,#ffafaf 8.5px,#ff8181 14.5px,#ff1f1f 21.5px,#ff1515 24.5px,#ff2e2e 27.5px,#ff9292 33.5px,#ffc7c7 39.5px,#ffd6d6 46.5px,#ffbdbd 53.5px,#ff8585 59.5px,#ff1b1b 66.5px,#ff0606 70.5px,#ff2121 75.5px,#ff8c8c 85.5px,#ffa5a5 92.5px,#ff9191 99.5px,#ff6868 103.5px,#fc1414 108.5px,#d60000 111.5px,#9c0000 115.5px,#800 118.5px,#930000 121.5px,#d70000 126.5px,#fc0f0f 129.5px,#ff5151 135.5px,#ff5f5f 140.5px,#ff4646 143.5px,#f71212 146.5px,#c10000 149.5px,#900 152.5px,#a50000 155.5px,#f10505 160.5px,#ff3939 164.5px,#ff3d3d 167.5px,#fa0d0d 171.5px,#cf0000 174.5px,#920000 177.5px,#800000 180.5px,#850000 199.5px,#c40000 204.5px,#c80000 206.5px,#840000 211.5px,#820000 232.5px,#a60000 235.5px,#dc0000 239.5px,#df0000 241.5px,#b90000 244.5px,#870000 247.5px,#7f0000 262.5px,#7f0000 322.5px)"></i><i style="background:linear-gradient(90deg,#ffc0c0 0.5px,#ffaeae 8.5px,#ff7f7f 14.5px,#ff2727 20.5px,#ff1212 23.5px,#ff2020 26.5px,#ff7272 31.5px,#ffb1b1 36.5px,#ffd2d2 42.5px,#ffcfcf 49.5px,#ffa4a4 56.5px,#ff7474 60.5px,#ff1818 66.5px,#fe0404 70.5px,#ff1f1f 75.5px,#ff8a8a 85.5px,#ffa3a3 92.5px,#ff8f8f 99.5px,#f66 103.5px,#fb1313 108.5px,#d30000 111.5px,#980000 115.5px,#850000 118.5px,#8f0000 121.5px,#d40000 126.5px,#fb0e0e 129.5px,#ff4f4f 135.5px,#ff5d5d 140.5px,#ff4343 143.5px,#f61111 146.5px,#be0000 149.5px,#960000 152.5px,#a20000 155.5px,#ef0404 160.5px,#ff2929 163.5px,#ff3d3d 166.5px,#ff2424 169.5px,#ef0303 172.5px,#8f0000 177.5px,#800000 180.5px,#830000 199.5px,#be0000 204.5px,#c10000 206.5px,#830000 211.5px,#810000 232.5px,#a00000 235.5px,#d50000 239.5px,#d10000 242.5px,#850000 247.5px,#7f0000 322.5px)"></i><i style="background:linear-gradient(90deg,#ffbfbf 0.5px,#ffadad 8.5px,#ff7e7e 14.5px,#ff2424 20.5px,#ff1010 23.5px,#ff1d1d 26.5px,#ff5d5d 30.5px,#ff9b9b 34.5px,#ffcaca 40.5px,#ffd3d3 47.5px,#ffb4b4 54.5px,#ff8282 59.5px,#ff1616 66.5px,#fd0202 70.5px,#ff1c1c 75.5px,#ff8989 85.5px,#ffa2a2 92.5px,#ff8d8d 99.5px,#ff6464 103.5px,#fa1111 108.5px,#d00000 111.5px,#950000 115.5px,#830000 118.5px,#8c0000 121.5px,#d10000 126.5px,#fa0c0c 129.5px,#ff4d4d 135.5px,#ff5b5b 140.5px,#ff4141 143.5px,#f50f0f 146.5px,#b00 149.5px,#930000 152.5px,#9f0000 155.5px,#ed0303 160.5px,#ff2525 163.5px,#ff3939 166.5px,#ff2020 169.5px,#ed0202 172.5px,#8d0000 177.5px,#800000 180.5px,#820000 199.5px,#bc0000 205.5px,#b30000 207.5px,#820000 211.5px,#840000 233.5px,#ce0000 239.5px,#ca0000 242.5px,#830000 247.5px,#7f0000 322.5px)"></i><i style="background:linear-gradient(90deg,#ffbebe 0.5px,#ffacac 8.5px,#ff7c7c 14.5px,#f22 20.5px,#ff0d0d 23.5px,#ff1b1b 26.5px,#ff5a5a 30.5px,#ff9a9a 34.5px,#ffc9c9 40.5px,#ffd2d2 47.5px,#ffb3b3 54.5px,#ff8080 59.5px,#ff1313 66.5px,#fb0101 70.5px,#ff1a1a 75.5px,#ff8787 85.5px,#ffa0a0 92.5px,#ff8c8c 99.5px,#ff6161 103.5px,#f90f0f 108.5px,#cd0000 111.5px,#920000 115.5px,#810000 119.5px,#930000 122.5px,#ee0404 128.5px,#f22 131.5px,#ff5151 136.5px,#ff5959 140.5px,#ff3f3f 143.5px,#f40e0e 146.5px,#a60000 150.5px,#900000 152.5px,#9c0000 155.5px,#f60808 161.5px,#f33 165.5px,#ff2828 168.5px,#f60707 171.5px,#c70000 174.5px,#8c0000 177.5px,#800000 181.5px,#860000 200.5px,#b60000 205.5px,#ac0000 207.5px,#860000 210.5px,#800000 232.5px,#950000 235.5px,#c70000 239.5px,#c30000 242.5px,#800 246.5px,#7f0000 253.5px,#7f0000 322.5px)"></i><i style="background:linear-gradient(90deg,#ffbebe 0.5px,#ffabab 8.5px,#ff7b7b 14.5px,#ff2020 20.5px,#ff0b0b 23.5px,#ff1818 26.5px,#ff5858 30.5px,#f99 34.5px,#ffc9c9 40.5px,#ffd1d1 47.5px,#ffb1b1 54.5px,#ff7e7e 59.5px,#ff1c1c 65.5px,#fa0303 68.5px,#fe0808 73.5px,#ff5050 80.5px,#ff8c8c 86.5px,#ff9f9f 93.5px,#ff8a8a 99.5px,#ff5f5f 103.5px,#f80d0d 108.5px,#b80000 112.5px,#870000 116.5px,#820000 120.5px,#9b0000 123.5px,#f70909 129.5px,#ff4848 135.5px,#ff5757 140.5px,#ff3d3d 143.5px,#f30c0c 146.5px,#a30000 150.5px,#8d0000 152.5px,#900 155.5px,#f50707 161.5px,#ff2f2f 165.5px,#ff2424 168.5px,#f40505 171.5px,#ae0000 175.5px,#8a0000 177.5px,#800000 181.5px,#840000 200.5px,#b00000 205.5px,#9a0000 208.5px,#810000 211.5px,#860000 234.5px,#c00000 239.5px,#bc0000 242.5px,#860000 246.5px,#7f0000 286.5px,#7f0000 322.5px)"></i><i style="background:linear-gradient(90deg,#ffbdbd 0.5px,#ffabab 8.5px,#ff7979 14.5px,#ff1d1d 20.5px,#ff0808 23.5px,#ff1616 26.5px,#ff5656 30.5px,#ff9898 34.5px,#ffc8c8 40.5px,#ffd0d0 47.5px,#ffb0b0 54.5px,#ff7d7d 59.5px,#ff1a1a 65.5px,#f80202 68.5px,#fa0202 72.5px,#ff2929 77.5px,#ff8484 85.5px,#ff9e9e 92.5px,#ff8989 99.5px,#ff5c5c 103.5px,#f70b0b 108.5px,#b50000 112.5px,#850000 116.5px,#850000 121.5px,#b60000 125.5px,#f60707 129.5px,#ff4d4d 136.5px,#f55 140.5px,#ff3b3b 143.5px,#f20b0b 146.5px,#920000 151.5px,#890000 153.5px,#a30000 156.5px,#f30505 161.5px,#ff2b2b 165.5px,#ff1f1f 168.5px,#f20404 171.5px,#ac0000 175.5px,#890000 177.5px,#7f0000 182.5px,#820000 200.5px,#a90000 205.5px,#940000 208.5px,#800000 211.5px,#840000 234.5px,#b90000 239.5px,#b50000 242.5px,#840000 246.5px,#7f0000 322.5px)"></i><i style="background:linear-gradient(90deg,#ffbcbc 0.5px,#faa 8.5px,#ff8484 13.5px,#ff1b1b 20.5px,#ff0606 23.5px,#ff1313 26.5px,#ff5353 30.5px,#ff9696 34.5px,#ffc7c7 40.5px,#ffcfcf 47.5px,#ffafaf 54.5px,#ff7b7b 59.5px,#ff1818 65.5px,#f40202 68.5px,#f10000 71.5px,#ff1212 75.5px,#ff8282 85.5px,#ff9c9c 92.5px,#ff8787 99.5px,#ff5a5a 103.5px,#f60a0a 108.5px,#940000 114.5px,#810000 117.5px,#8a0000 122.5px,#d60000 127.5px,#fc0f0f 130.5px,#ff4a4a 136.5px,#ff5252 140.5px,#ff3838 143.5px,#f10a0a 146.5px,#9d0000 150.5px,#800 152.5px,#940000 155.5px,#f10404 161.5px,#ff2727 165.5px,#ff1b1b 168.5px,#f00303 171.5px,#800 177.5px,#7f0000 184.5px,#850000 201.5px,#a30000 205.5px,#800000 211.5px,#820000 234.5px,#b70000 240.5px,#a30000 243.5px,#820000 246.5px,#7f0000 322.5px)"></i><i style="background:linear-gradient(90deg,#fbb 0.5px,#ffa9a9 8.5px,#ff8383 13.5px,#ff1818 20.5px,#fe0404 23.5px,#f11 26.5px,#ff5151 30.5px,#ff9595 34.5px,#ffc6c6 40.5px,#ffcece 47.5px,#ffaeae 54.5px,#ff7979 59.5px,#fe1515 65.5px,#f00101 68.5px,#ed0000 71.5px,#ff1010 75.5px,#ff8080 85.5px,#ff9b9b 92.5px,#ff8585 99.5px,#ff4848 104.5px,#f40808 108.5px,#910000 114.5px,#800000 117.5px,#800 122.5px,#c10000 126.5px,#f30505 129.5px,#ff3030 133.5px,#ff5050 138.5px,#ff4b4b 141.5px,#fa1616 145.5px,#db0202 147.5px,#9a0000 150.5px,#850000 152.5px,#910000 155.5px,#f90909 162.5px,#f22 165.5px,#ff1717 168.5px,#ee0202 171.5px,#870000 177.5px,#7f0000 189.5px,#830000 201.5px,#9d0000 205.5px,#800000 211.5px,#850000 235.5px,#af0000 240.5px,#9c0000 243.5px,#810000 246.5px,#7f0000 322.5px)"></i><i style="background:linear-gradient(90deg,#fbb 0.5px,#ffa8a8 8.5px,#ff8282 13.5px,#ff1616 20.5px,#fc0202 23.5px,#fe0f0f 26.5px,#ff4f4f 30.5px,#ff9494 34.5px,#ffc5c5 40.5px,#ffcdcd 47.5px,#ffadad 54.5px,#f77 59.5px,#fe1313 65.5px,#ec0101 68.5px,#e90000 71.5px,#fe0e0e 75.5px,#ff7f7f 85.5px,#f99 92.5px,#ff8a8a 98.5px,#ff6464 102.5px,#fb1313 107.5px,#d10000 110.5px,#8f0000 114.5px,#800000 118.5px,#860000 122.5px,#be0000 126.5px,#f10404 129.5px,#ff2e2e 133.5px,#ff4e4e 138.5px,#ff4949 141.5px,#f91414 145.5px,#d90202 147.5px,#970000 150.5px,#830000 153.5px,#9b0000 156.5px,#f80707 162.5px,#ff1f1f 166.5px,#f60404 170.5px,#c00 173.5px,#860000 177.5px,#810000 201.5px,#950000 206.5px,#800000 211.5px,#830000 235.5px,#a80000 240.5px,#960000 243.5px,#810000 246.5px,#7f0000 322.5px)"></i><i style="background:linear-gradient(90deg,#ffbaba 0.5px,#ffa7a7 8.5px,#ff8080 13.5px,#ff1313 20.5px,#f90101 23.5px,#fe0d0d 26.5px,#ff4d4d 30.5px,#ff9393 34.5px,#ffc4c4 40.5px,#fcc 47.5px,#ffacac 54.5px,#ff7575 59.5px,#fd1111 65.5px,#e80000 68.5px,#e40000 71.5px,#fd0c0c 75.5px,#ff8484 86.5px,#ff9898 93.5px,#ff8282 99.5px,#ff4343 104.5px,#fa1111 107.5px,#ce0000 110.5px,#8c0000 114.5px,#800000 118.5px,#850000 122.5px,#a00 125.5px,#ef0404 129.5px,#ff2020 132.5px,#ff4949 137.5px,#ff4747 141.5px,#f81313 145.5px,#d60202 147.5px,#950000 150.5px,#810000 153.5px,#980000 156.5px,#f60505 162.5px,#ff1b1b 166.5px,#f40303 170.5px,#b50000 174.5px,#850000 177.5px,#830000 202.5px,#900000 206.5px,#800000 211.5px,#860000 236.5px,#a10000 240.5px,#800000 246.5px,#7f0000 322.5px)"></i><i style="background:linear-gradient(90deg,#ffb9b9 0.5px,#ffa6a6 8.5px,#ff7f7f 13.5px,#fe1111 20.5px,#f50101 23.5px,#fd0b0b 26.5px,#ff4a4a 30.5px,#ff9191 34.5px,#ffc3c3 40.5px,#ffcbcb 47.5px,#ffabab 54.5px,#ff7373 59.5px,#fd0f0f 65.5px,#d00 69.5px,#e70000 72.5px,#fe1313 76.5px,#ff8282 86.5px,#ff9696 93.5px,#ff8080 99.5px,#ff4040 104.5px,#f90f0f 107.5px,#ca0000 110.5px,#8a0000 114.5px,#800000 119.5px,#8b0000 123.5px,#f80909 130.5px,#ff4242 136.5px,#ff4a4a 140.5px,#ff3030 143.5px,#f71111 145.5px,#d40202 147.5px,#920000 150.5px,#810000 153.5px,#950000 156.5px,#f40404 162.5px,#ff1717 166.5px,#f20202 170.5px,#b30000 174.5px,#840000 177.5px,#840000 203.5px,#860000 207.5px,#800000 232.5px,#800 237.5px,#900 241.5px,#800000 246.5px,#7f0000 322.5px)"></i><i style="background:linear-gradient(90deg,#ffb8b8 0.5px,#ffa5a5 8.5px,#ff7d7d 13.5px,#fe0f0f 20.5px,#f20101 24.5px,#fe1414 27.5px,#ff9090 34.5px,#ffc2c2 40.5px,#ffcaca 47.5px,#faa 54.5px,#ff7272 59.5px,#fc0d0d 65.5px,#d90000 69.5px,#e20000 72.5px,#fe1010 76.5px,#ff8181 86.5px,#ff9595 93.5px,#ff7e7e 99.5px,#ff3e3e 104.5px,#f80d0d 107.5px,#b40000 111.5px,#800 114.5px,#800000 121.5px,#940000 124.5px,#f70707 130.5px,#ff3f3f 136.5px,#ff4848 140.5px,#ff2d2d 143.5px,#f60f0f 145.5px,#b90000 148.5px,#900000 150.5px,#800000 153.5px,#930000 156.5px,#f20202 162.5px,#ff1313 166.5px,#f00101 170.5px,#b00000 174.5px,#8c0000 176.5px,#800000 180.5px,#810000 208.5px,#850000 237.5px,#930000 241.5px,#800000 246.5px,#7f0000 322.5px)"></i><i style="background:linear-gradient(90deg,#ffb8b8 0.5px,#ffa4a4 8.5px,#ff7c7c 13.5px,#fd0d0d 20.5px,#ed0000 24.5px,#fd1212 27.5px,#ff8f8f 34.5px,#ffc1c1 40.5px,#ffc9c9 47.5px,#ffa9a9 54.5px,#ff8080 58.5px,#fe1717 64.5px,#e60101 67.5px,#d20000 70.5px,#fa0606 75.5px,#ff7f7f 86.5px,#ff9393 93.5px,#ff7c7c 99.5px,#ff3b3b 104.5px,#f70c0c 107.5px,#b10000 111.5px,#860000 114.5px,#820000 122.5px,#a10000 125.5px,#f50606 130.5px,#ff3737 135.5px,#ff4646 140.5px,#ff2b2b 143.5px,#f50e0e 145.5px,#9f0000 149.5px,#850000 151.5px,#860000 155.5px,#c20000 159.5px,#f00101 162.5px,#ff0e0e 166.5px,#ee0101 170.5px,#ad0000 174.5px,#8a0000 176.5px,#7f0000 181.5px,#860000 238.5px,#800 242.5px,#7f0000 252.5px,#7f0000 322.5px)"></i><i style="background:linear-gradient(90deg,#ffb7b7 0.5px,#ffa4a4 8.5px,#ff7a7a 13.5px,#fc0b0b 20.5px,#e90000 24.5px,#fc1010 27.5px,#ff8e8e 34.5px,#ffc0c0 40.5px,#ffc8c8 47.5px,#ffa8a8 54.5px,#ff7e7e 58.5px,#fd1515 64.5px,#e20101 67.5px,#ce0000 70.5px,#f80505 75.5px,#ff7d7d 86.5px,#ff9292 92.5px,#ff8282 98.5px,#ff4949 103.5px,#f60a0a 107.5px,#9c0000 112.5px,#810000 115.5px,#860000 123.5px,#c20000 127.5px,#f30505 130.5px,#ff2c2c 134.5px,#ff4545 139.5px,#ff3636 142.5px,#f40c0c 145.5px,#9d0000 149.5px,#840000 151.5px,#850000 155.5px,#ad0000 158.5px,#ee0101 162.5px,#fe0a0a 165.5px,#f50101 169.5px,#be0000 173.5px,#890000 176.5px,#7f0000 181.5px,#850000 239.5px,#7f0000 322.5px)"></i><i style="background:linear-gradient(90deg,#ffb6b6 0.5px,#ffa3a3 8.5px,#ff7979 13.5px,#fe1414 19.5px,#ea0101 22.5px,#e50000 24.5px,#fb0e0e 27.5px,#ff5656 31.5px,#ff8c8c 34.5px,#ffbfbf 40.5px,#ffc7c7 47.5px,#ffa7a7 54.5px,#ff7c7c 58.5px,#fd1313 64.5px,#de0000 67.5px,#c90000 70.5px,#eb0101 74.5px,#fe1414 77.5px,#ff7b7b 86.5px,#ff9090 92.5px,#ff8080 98.5px,#ff4747 103.5px,#f40909 107.5px,#8c0000 113.5px,#800000 117.5px,#840000 123.5px,#ac0000 126.5px,#f20404 130.5px,#ff2a2a 134.5px,#ff4343 139.5px,#f33 142.5px,#f30b0b 145.5px,#8b0000 150.5px,#810000 154.5px,#9a0000 157.5px,#ec0000 162.5px,#fe0707 165.5px,#f20101 169.5px,#b00 173.5px,#800 176.5px,#7f0000 183.5px,#7f0000 322.5px)"></i><i style="background:linear-gradient(90deg,#ffb5b5 0.5px,#ffa2a2 8.5px,#f77 13.5px,#fd1212 19.5px,#e60101 22.5px,#e10000 24.5px,#fa0c0c 27.5px,#ff5454 31.5px,#ff8b8b 34.5px,#ffbebe 40.5px,#ffc7c7 47.5px,#ffa6a6 54.5px,#ff7b7b 58.5px,#fc1111 64.5px,#da0000 67.5px,#c40000 70.5px,#e70101 74.5px,#fe1212 77.5px,#ff7979 86.5px,#ff8f8f 92.5px,#ff7e7e 98.5px,#f44 103.5px,#f20808 107.5px,#8a0000 113.5px,#800000 118.5px,#830000 123.5px,#a90000 126.5px,#f00303 130.5px,#ff1e1e 133.5px,#ff3f3f 138.5px,#ff3a3a 141.5px,#fc1616 144.5px,#e00303 146.5px,#980000 149.5px,#820000 151.5px,#830000 155.5px,#a80000 158.5px,#e90000 162.5px,#fd0404 165.5px,#f00000 169.5px,#b80000 173.5px,#870000 176.5px,#7f0000 188.5px,#7f0000 322.5px)"></i><i style="background:linear-gradient(90deg,#ffb4b4 0.5px,#ffa1a1 8.5px,#ff7575 13.5px,#fd1010 19.5px,#e20000 22.5px,#dc0000 24.5px,#f80a0a 27.5px,#ff5252 31.5px,#ff8a8a 34.5px,#ffb8b8 39.5px,#ffc8c8 45.5px,#ffb2b2 52.5px,#ff8787 57.5px,#fb0f0f 64.5px,#d50000 67.5px,#c00000 70.5px,#e30000 74.5px,#fd1010 77.5px,#f77 86.5px,#ff8e8e 92.5px,#ff7c7c 98.5px,#ff4242 103.5px,#fa1111 106.5px,#c00 109.5px,#800 113.5px,#800000 121.5px,#890000 124.5px,#f80808 131.5px,#ff3a3a 137.5px,#ff3838 141.5px,#fb1414 144.5px,#dd0202 146.5px,#960000 149.5px,#820000 151.5px,#890000 156.5px,#f10000 163.5px,#fc0202 166.5px,#e30000 170.5px,#860000 176.5px,#7f0000 215.5px,#7f0000 322.5px)"></i><i style="background:linear-gradient(90deg,#ffb4b4 0.5px,#ffa0a0 8.5px,#ff8181 12.5px,#fb0f0f 19.5px,#d70000 23.5px,#e00101 25.5px,#fd1515 28.5px,#f88 34.5px,#ffb7b7 39.5px,#ffc7c7 45.5px,#ffb1b1 52.5px,#ff8686 57.5px,#fa0e0e 64.5px,#c40000 68.5px,#bf0000 71.5px,#f70606 76.5px,#ff7575 86.5px,#ff8c8c 92.5px,#ff7a7a 98.5px,#ff3f3f 103.5px,#f91010 106.5px,#c90000 109.5px,#910000 112.5px,#800000 115.5px,#870000 124.5px,#f70707 131.5px,#ff3737 137.5px,#ff3636 141.5px,#fa1313 144.5px,#db0202 146.5px,#940000 149.5px,#810000 151.5px,#870000 156.5px,#ef0000 163.5px,#fa0000 166.5px,#e10000 170.5px,#850000 176.5px,#7f0000 322.5px)"></i><i style="background:linear-gradient(90deg,#ffb3b3 0.5px,#ff9f9f 8.5px,#ff8080 12.5px,#fa0d0d 19.5px,#d30000 23.5px,#dc0000 25.5px,#fc1313 28.5px,#ff8787 34.5px,#ffb6b6 39.5px,#ffc6c6 45.5px,#ffb0b0 52.5px,#ff8484 57.5px,#f80c0c 64.5px,#bf0000 68.5px,#ba0000 71.5px,#f50505 76.5px,#ff3c3c 81.5px,#ff7a7a 87.5px,#ff8b8b 93.5px,#ff7878 98.5px,#ff3d3d 103.5px,#f80e0e 106.5px,#b20000 110.5px,#850000 113.5px,#810000 123.5px,#a00000 126.5px,#f60606 131.5px,#ff3535 137.5px,#ff3434 141.5px,#f91111 144.5px,#d90202 146.5px,#920000 149.5px,#800000 152.5px,#860000 156.5px,#ec0000 163.5px,#f80000 166.5px,#de0000 170.5px,#840000 176.5px,#7f0000 322.5px)"></i><i style="background:linear-gradient(90deg,#ffb2b2 0.5px,#ff9e9e 8.5px,#ff7e7e 12.5px,#f90b0b 19.5px,#ce0000 23.5px,#d70000 25.5px,#fb1111 28.5px,#ff8585 34.5px,#ffb5b5 39.5px,#ffc5c5 45.5px,#ffafaf 52.5px,#ff8383 57.5px,#f70a0a 64.5px,#b00 68.5px,#b60000 71.5px,#fa0a0a 77.5px,#ff7171 86.5px,#ff8989 92.5px,#ff7676 98.5px,#ff3a3a 103.5px,#f70c0c 106.5px,#af0000 110.5px,#840000 113.5px,#850000 124.5px,#b00000 127.5px,#f40505 131.5px,#ff2e2e 136.5px,#ff3737 140.5px,#f81010 144.5px,#d60202 146.5px,#900000 149.5px,#800000 152.5px,#850000 156.5px,#c10000 160.5px,#f10000 164.5px,#f30000 167.5px,#ce0000 171.5px,#8c0000 175.5px,#800000 179.5px,#7f0000 322.5px)"></i><i style="background:linear-gradient(90deg,#ffb1b1 0.5px,#ff9e9e 8.5px,#ff7d7d 12.5px,#f70a0a 19.5px,#ca0000 23.5px,#d30000 25.5px,#f91010 28.5px,#ff8484 34.5px,#ffb4b4 39.5px,#ffc4c4 45.5px,#ffaeae 52.5px,#ff8181 57.5px,#fc1515 63.5px,#d50101 66.5px,#af0000 69.5px,#b90000 72.5px,#f90808 77.5px,#ff7676 87.5px,#f88 93.5px,#ff7474 98.5px,#ff3838 103.5px,#f60b0b 106.5px,#900 111.5px,#800000 114.5px,#840000 124.5px,#ad0000 127.5px,#f20404 131.5px,#ff2525 135.5px,#ff3636 139.5px,#ff2626 142.5px,#f70e0e 144.5px,#d40101 146.5px,#8e0000 149.5px,#800000 152.5px,#840000 156.5px,#ac0000 159.5px,#e70000 163.5px,#f30000 166.5px,#d90000 170.5px,#8a0000 175.5px,#7f0000 180.5px,#7f0000 322.5px)"></i><i style="background:linear-gradient(90deg,#ffb1b1 0.5px,#ff9d9d 8.5px,#ff7c7c 12.5px,#fc1414 18.5px,#d90000 21.5px,#c50000 23.5px,#cf0000 25.5px,#f80e0e 28.5px,#ff8282 34.5px,#ffb3b3 39.5px,#ffc3c3 45.5px,#ffadad 52.5px,#ff8080 57.5px,#fb1313 63.5px,#d10000 66.5px,#a00 69.5px,#b50000 72.5px,#f70707 77.5px,#ff7474 87.5px,#ff8686 93.5px,#ff7272 98.5px,#ff3636 103.5px,#f50909 106.5px,#890000 112.5px,#7f0000 118.5px,#830000 124.5px,#a00 127.5px,#f00303 131.5px,#ff1a1a 134.5px,#ff3434 139.5px,#ff2424 142.5px,#f60d0d 144.5px,#d10101 146.5px,#8d0000 149.5px,#800000 152.5px,#830000 156.5px,#a00 159.5px,#e40000 163.5px,#f10000 166.5px,#d60000 170.5px,#890000 175.5px,#7f0000 181.5px,#7f0000 322.5px)"></i><i style="background:linear-gradient(90deg,#ffb0b0 0.5px,#ff9c9c 8.5px,#ff7a7a 12.5px,#fc1212 18.5px,#d50000 21.5px,#c10000 23.5px,#ca0000 25.5px,#f70c0c 28.5px,#ff8f8f 35.5px,#ffbcbc 41.5px,#ffbebe 48.5px,#ff9595 55.5px,#ff5b5b 59.5px,#fa1111 63.5px,#c00 66.5px,#a50000 69.5px,#b00000 72.5px,#f50606 77.5px,#ff4c4c 83.5px,#ff7e7e 89.5px,#ff8181 95.5px,#ff5c5c 100.5px,#fc1414 105.5px,#e40202 107.5px,#940000 111.5px,#800000 114.5px,#820000 124.5px,#a70000 127.5px,#ee0202 131.5px,#ff1818 134.5px,#ff3232 139.5px,#f22 142.5px,#f60b0b 144.5px,#cf0101 146.5px,#8b0000 149.5px,#800000 153.5px,#890000 157.5px,#e20000 163.5px,#e00 166.5px,#d30000 170.5px,#800 175.5px,#7f0000 183.5px,#7f0000 322.5px)"></i><i style="background:linear-gradient(90deg,#ffafaf 0.5px,#ff9b9b 8.5px,#ff7979 12.5px,#fa1010 18.5px,#d10000 21.5px,#bc0000 23.5px,#c60000 25.5px,#f50b0b 28.5px,#ff5858 32.5px,#ff8e8e 35.5px,#fbb 41.5px,#ffbdbd 48.5px,#ff9494 55.5px,#ff6c6c 58.5px,#f91010 63.5px,#c80000 66.5px,#a00000 69.5px,#ac0000 72.5px,#f30505 77.5px,#ff3030 81.5px,#ff7070 87.5px,#ff8383 92.5px,#ff7575 97.5px,#ff4040 102.5px,#f10707 106.5px,#920000 111.5px,#800000 114.5px,#820000 124.5px,#a40000 127.5px,#ec0202 131.5px,#ff1616 134.5px,#ff2f2f 139.5px,#ff2020 142.5px,#f50a0a 144.5px,#b20000 147.5px,#8a0000 149.5px,#800000 154.5px,#800 157.5px,#df0000 163.5px,#eb0000 166.5px,#d10000 170.5px,#870000 175.5px,#7f0000 189.5px,#7f0000 322.5px)"></i><i style="background:linear-gradient(90deg,#ffaeae 0.5px,#ff9a9a 8.5px,#f77 12.5px,#f90f0f 18.5px,#cd0000 21.5px,#b80000 23.5px,#c10000 25.5px,#f30909 28.5px,#ff5656 32.5px,#ff8c8c 35.5px,#ffbaba 41.5px,#ffbcbc 48.5px,#ff9393 55.5px,#ff6a6a 58.5px,#f80e0e 63.5px,#b10000 67.5px,#9c0000 69.5px,#a70000 72.5px,#f10404 77.5px,#ff2121 80.5px,#ff6e6e 87.5px,#ff8282 92.5px,#ff7373 97.5px,#ff3e3e 102.5px,#fa1010 105.5px,#ca0000 108.5px,#900000 111.5px,#800000 114.5px,#860000 125.5px,#c70000 129.5px,#f60505 132.5px,#ff2c2c 138.5px,#ff2727 141.5px,#f30808 144.5px,#890000 149.5px,#800000 155.5px,#920000 158.5px,#d00 163.5px,#e90000 166.5px,#ce0000 170.5px,#860000 175.5px,#7f0000 246.5px,#7f0000 322.5px)"></i><i style="background:linear-gradient(90deg,#ffaeae 0.5px,#f99 8.5px,#ff7575 12.5px,#f80d0d 18.5px,#b00 22.5px,#b40000 24.5px,#e00202 27.5px,#fb1515 29.5px,#ff8b8b 35.5px,#ffb4b4 40.5px,#ffbfbf 46.5px,#ffa2a2 53.5px,#ff7979 57.5px,#f60c0c 63.5px,#ad0000 67.5px,#970000 69.5px,#a20000 72.5px,#f80909 78.5px,#ff6c6c 87.5px,#ff8080 92.5px,#ff7171 97.5px,#ff3b3b 102.5px,#f90e0e 105.5px,#c70000 108.5px,#8e0000 111.5px,#800000 115.5px,#850000 125.5px,#b10000 128.5px,#f40404 132.5px,#ff2626 137.5px,#ff2525 141.5px,#f20707 144.5px,#960000 148.5px,#820000 150.5px,#860000 157.5px,#da0000 163.5px,#e60000 166.5px,#cb0000 170.5px,#850000 175.5px,#7f0000 322.5px)"></i><i style="background:linear-gradient(90deg,#ffadad 0.5px,#ff9898 8.5px,#ff7474 12.5px,#f60c0c 18.5px,#b60000 22.5px,#af0000 24.5px,#dd0202 27.5px,#fa1313 29.5px,#ff8a8a 35.5px,#ffb3b3 40.5px,#ffbebe 46.5px,#ffa1a1 53.5px,#f77 57.5px,#fc1818 62.5px,#e50303 64.5px,#9a0000 68.5px,#910000 70.5px,#a00 73.5px,#f70707 78.5px,#ff6a6a 87.5px,#ff7f7f 92.5px,#ff6f6f 97.5px,#ff3939 102.5px,#f80d0d 105.5px,#c40000 108.5px,#8c0000 111.5px,#800000 115.5px,#840000 125.5px,#ae0000 128.5px,#f20303 132.5px,#ff1f1f 136.5px,#ff2828 140.5px,#fb0f0f 143.5px,#de0202 145.5px,#950000 148.5px,#810000 150.5px,#850000 157.5px,#d80000 163.5px,#e40000 166.5px,#c90000 170.5px,#840000 175.5px,#7f0000 322.5px)"></i><i style="background:linear-gradient(90deg,#ffacac 0.5px,#ff9797 8.5px,#ff7272 12.5px,#fc1717 17.5px,#e60303 19.5px,#b20000 22.5px,#ab0000 24.5px,#c50000 26.5px,#f81212 29.5px,#ff8989 35.5px,#ffb2b2 40.5px,#ffbdbd 46.5px,#ffa0a0 53.5px,#ff7676 57.5px,#fc1616 62.5px,#e20303 64.5px,#960000 68.5px,#8c0000 70.5px,#a50000 73.5px,#f50606 78.5px,#ff4040 83.5px,#ff7474 89.5px,#ff7b7b 94.5px,#ff5c5c 99.5px,#f70b0b 105.5px,#980000 110.5px,#820000 112.5px,#830000 125.5px,#ab0000 128.5px,#f00202 132.5px,#ff1d1d 136.5px,#ff2525 140.5px,#fa0e0e 143.5px,#db0101 145.5px,#930000 148.5px,#810000 150.5px,#840000 157.5px,#d50000 163.5px,#e10000 166.5px,#c60000 170.5px,#830000 175.5px,#7f0000 322.5px)"></i><i style="background:linear-gradient(90deg,#ffabab 0.5px,#ff9797 8.5px,#ff7070 12.5px,#fc1515 17.5px,#e30202 19.5px,#ad0000 22.5px,#a60000 24.5px,#c00000 26.5px,#f71010 29.5px,#ff8787 35.5px,#ffb1b1 40.5px,#ffbcbc 46.5px,#ff9f9f 53.5px,#ff7474 57.5px,#fb1515 62.5px,#df0202 64.5px,#9f0000 67.5px,#8a0000 69.5px,#950000 72.5px,#f30505 78.5px,#ff3232 82.5px,#ff6c6c 88.5px,#ff7b7b 93.5px,#ff6363 98.5px,#ff2525 103.5px,#f60a0a 105.5px,#800 111.5px,#7f0000 118.5px,#820000 125.5px,#a90000 128.5px,#ef0202 132.5px,#ff1313 135.5px,#ff2525 139.5px,#f90c0c 143.5px,#d90101 145.5px,#910000 148.5px,#810000 150.5px,#830000 157.5px,#b90000 161.5px,#da0000 164.5px,#dc0000 167.5px,#b60000 171.5px,#820000 175.5px,#7f0000 322.5px)"></i><i style="background:linear-gradient(90deg,#ffabab 0.5px,#ff9696 8.5px,#ff6f6f 12.5px,#fb1313 17.5px,#df0202 19.5px,#a90000 22.5px,#a20000 24.5px,#bc0000 26.5px,#f50f0f 29.5px,#ff7676 34.5px,#ffa4a4 38.5px,#ffbcbc 44.5px,#ffabab 51.5px,#ff8181 56.5px,#fa1313 62.5px,#db0202 64.5px,#9b0000 67.5px,#860000 69.5px,#900000 72.5px,#f10404 78.5px,#ff2323 81.5px,#ff6363 87.5px,#ff7979 92.5px,#ff6868 97.5px,#ff3232 102.5px,#f40808 105.5px,#870000 111.5px,#800000 122.5px,#800 126.5px,#ec0101 132.5px,#f11 135.5px,#ff2323 139.5px,#f80b0b 143.5px,#d60101 145.5px,#8f0000 148.5px,#800000 151.5px,#820000 157.5px,#a60000 160.5px,#d70000 164.5px,#d90000 167.5px,#b30000 171.5px,#800 174.5px,#7f0000 181.5px,#7f0000 322.5px)"></i><i style="background:linear-gradient(90deg,#faa 0.5px,#ff9595 8.5px,#ff6d6d 12.5px,#f91212 17.5px,#c60000 20.5px,#a40000 22.5px,#9d0000 24.5px,#b80000 26.5px,#f40d0d 29.5px,#ff6060 33.5px,#ff9191 36.5px,#ffb7b7 42.5px,#ffb3b3 49.5px,#ff8c8c 55.5px,#ff4949 59.5px,#f81111 62.5px,#d80202 64.5px,#970000 67.5px,#820000 70.5px,#980000 73.5px,#f90a0a 79.5px,#ff6161 87.5px,#ff7676 92.5px,#f66 97.5px,#ff3030 102.5px,#f30707 105.5px,#910000 110.5px,#800000 113.5px,#870000 126.5px,#f50303 133.5px,#ff2121 139.5px,#f70909 143.5px,#d40101 145.5px,#8d0000 148.5px,#800000 151.5px,#800 158.5px,#cd0000 163.5px,#d90000 166.5px,#be0000 170.5px,#870000 174.5px,#7f0000 186.5px,#7f0000 322.5px)"></i><i style="background:linear-gradient(90deg,#ffa9a9 0.5px,#ff9494 8.5px,#ff6b6b 12.5px,#f81010 17.5px,#c20000 20.5px,#a00000 22.5px,#900 24.5px,#b30000 26.5px,#f30c0c 29.5px,#ff4747 32.5px,#ff8383 35.5px,#ffafaf 40.5px,#ffb9b9 46.5px,#ff9c9c 53.5px,#ff6e6e 57.5px,#f71010 62.5px,#bc0000 65.5px,#870000 68.5px,#830000 71.5px,#a30000 74.5px,#f70808 79.5px,#ff5f5f 87.5px,#ff7474 92.5px,#ff6464 97.5px,#ff2d2d 102.5px,#f10606 105.5px,#8f0000 110.5px,#800000 113.5px,#860000 126.5px,#c60000 130.5px,#f40303 133.5px,#ff1d1d 138.5px,#ff1818 141.5px,#f60808 143.5px,#d20101 145.5px,#8c0000 148.5px,#800000 151.5px,#870000 158.5px,#cb0000 163.5px,#d70000 166.5px,#b00 170.5px,#860000 174.5px,#7f0000 212.5px,#7f0000 322.5px)"></i><i style="background:linear-gradient(90deg,#ffa8a8 0.5px,#ff9393 8.5px,#ff6969 12.5px,#f70f0f 17.5px,#be0000 20.5px,#9b0000 22.5px,#940000 24.5px,#af0000 26.5px,#f10a0a 29.5px,#f44 32.5px,#ff8181 35.5px,#ffaeae 40.5px,#ffb9b9 46.5px,#ff9b9b 53.5px,#ff6d6d 57.5px,#f60e0e 62.5px,#a10000 66.5px,#850000 68.5px,#870000 72.5px,#b00000 75.5px,#f60707 79.5px,#ff4b4b 85.5px,#ff7171 91.5px,#ff6868 96.5px,#ff3939 101.5px,#f90f0f 104.5px,#c80000 107.5px,#8d0000 110.5px,#800000 114.5px,#850000 126.5px,#b00000 129.5px,#f20202 133.5px,#ff1717 137.5px,#ff1616 141.5px,#f50707 143.5px,#b50000 146.5px,#8b0000 148.5px,#800000 152.5px,#860000 158.5px,#d00000 164.5px,#d20000 167.5px,#ab0000 171.5px,#850000 174.5px,#7f0000 322.5px)"></i><i style="background:linear-gradient(90deg,#ffa8a8 0.5px,#ff9292 8.5px,#f77 11.5px,#f50d0d 17.5px,#a60000 21.5px,#8f0000 23.5px,#9a0000 25.5px,#ef0909 29.5px,#fe2b2b 31.5px,#ff8080 35.5px,#ffadad 40.5px,#ffb8b8 46.5px,#ff9a9a 53.5px,#ff6b6b 57.5px,#f40d0d 62.5px,#9d0000 66.5px,#840000 68.5px,#850000 72.5px,#ac0000 75.5px,#f40606 79.5px,#f33 83.5px,#ff6767 89.5px,#ff6e6e 94.5px,#ff4e4e 99.5px,#f80d0d 104.5px,#c50000 107.5px,#8b0000 110.5px,#800000 114.5px,#840000 126.5px,#ae0000 129.5px,#f00101 133.5px,#ff1515 137.5px,#fe1414 141.5px,#f40606 143.5px,#b30000 146.5px,#8a0000 148.5px,#7f0000 153.5px,#850000 158.5px,#cd0000 164.5px,#cf0000 167.5px,#a90000 171.5px,#840000 174.5px,#7f0000 322.5px)"></i><i style="background:linear-gradient(90deg,#ffa7a7 0.5px,#ff9191 8.5px,#ff7575 11.5px,#fc1a1a 16.5px,#e40404 18.5px,#930000 22.5px,#8c0000 24.5px,#a70000 26.5px,#ec0808 29.5px,#fe2929 31.5px,#ff7f7f 35.5px,#ffacac 40.5px,#ffb7b7 46.5px,#f99 53.5px,#ff6969 57.5px,#fc1919 61.5px,#e10303 63.5px,#9a0000 66.5px,#830000 68.5px,#830000 72.5px,#a80000 75.5px,#f20505 79.5px,#ff3030 83.5px,#ff6565 89.5px,#ff6c6c 94.5px,#ff4c4c 99.5px,#f70b0b 104.5px,#c30000 107.5px,#8a0000 110.5px,#7f0000 115.5px,#830000 126.5px,#ab0000 129.5px,#ee0101 133.5px,#ff0e0e 136.5px,#ff1717 140.5px,#f20505 143.5px,#890000 148.5px,#7f0000 153.5px,#840000 158.5px,#cb0000 164.5px,#c00 167.5px,#a60000 171.5px,#830000 174.5px,#7f0000 322.5px)"></i><i style="background:linear-gradient(90deg,#ffa6a6 0.5px,#ff9090 8.5px,#ff7474 11.5px,#fc1818 16.5px,#e10303 18.5px,#9d0000 21.5px,#870000 23.5px,#910000 25.5px,#ea0808 29.5px,#fd2727 31.5px,#ff7d7d 35.5px,#ffa5a5 39.5px,#ffb7b7 45.5px,#ff9f9f 52.5px,#ff7878 56.5px,#fb1717 61.5px,#de0303 63.5px,#960000 66.5px,#820000 68.5px,#800 73.5px,#cb0000 77.5px,#f90b0b 80.5px,#ff5656 87.5px,#ff6c6c 92.5px,#ff5b5b 97.5px,#ff2424 102.5px,#f60a0a 104.5px,#800 110.5px,#7f0000 116.5px,#820000 126.5px,#a80000 129.5px,#eb0101 133.5px,#fe0c0c 136.5px,#ff1414 140.5px,#f10404 143.5px,#800 148.5px,#800000 155.5px,#8b0000 159.5px,#c80000 164.5px,#ca0000 167.5px,#a30000 171.5px,#820000 174.5px,#7f0000 322.5px)"></i><i style="background:linear-gradient(90deg,#ffa5a5 0.5px,#ff9090 8.5px,#ff7272 11.5px,#fb1616 16.5px,#de0202 18.5px,#900 21.5px,#850000 23.5px,#8e0000 25.5px,#e70707 29.5px,#fd2525 31.5px,#ff7c7c 35.5px,#ffa4a4 39.5px,#ffb6b6 45.5px,#ff9e9e 52.5px,#ff7676 56.5px,#fa1616 61.5px,#db0202 63.5px,#930000 66.5px,#810000 68.5px,#860000 73.5px,#b30000 76.5px,#f80909 80.5px,#ff5b5b 88.5px,#ff6a6a 93.5px,#ff5151 98.5px,#fc1414 103.5px,#e70202 105.5px,#940000 109.5px,#800000 112.5px,#820000 126.5px,#a50000 129.5px,#e90000 133.5px,#fe0a0a 136.5px,#ff1212 140.5px,#ef0303 143.5px,#950000 147.5px,#810000 149.5px,#820000 158.5px,#c50000 164.5px,#c70000 167.5px,#a10000 171.5px,#820000 174.5px,#7f0000 322.5px)"></i><i style="background:linear-gradient(90deg,#ffa5a5 0.5px,#ff8f8f 8.5px,#ff7171 11.5px,#fa1515 16.5px,#da0202 18.5px,#960000 21.5px,#830000 23.5px,#8b0000 25.5px,#cc0101 28.5px,#f51111 30.5px,#ff7a7a 35.5px,#ffa3a3 39.5px,#ffb5b5 45.5px,#ff9d9d 52.5px,#ff7474 56.5px,#f91414 61.5px,#d70202 63.5px,#900000 66.5px,#800000 69.5px,#840000 73.5px,#af0000 76.5px,#f70808 80.5px,#ff5959 88.5px,#ff6767 93.5px,#ff4f4f 98.5px,#fc1212 103.5px,#e40202 105.5px,#920000 109.5px,#800000 112.5px,#870000 127.5px,#f20101 134.5px,#ff1010 138.5px,#f90707 142.5px,#da0101 144.5px,#930000 147.5px,#810000 149.5px,#820000 158.5px,#c30000 164.5px,#c50000 167.5px,#9e0000 171.5px,#810000 174.5px,#7f0000 322.5px)"></i><i style="background:linear-gradient(90deg,#ffa4a4 0.5px,#ff8e8e 8.5px,#ff6f6f 11.5px,#f91313 16.5px,#d70202 18.5px,#920000 21.5px,#820000 23.5px,#890000 25.5px,#ae0000 27.5px,#f41010 30.5px,#ff6565 34.5px,#ff9292 37.5px,#ffb2b2 43.5px,#ffa7a7 50.5px,#ff8181 55.5px,#f81313 61.5px,#d40202 63.5px,#8e0000 66.5px,#800000 69.5px,#8a0000 74.5px,#f50707 80.5px,#ff3e3e 85.5px,#ff6464 91.5px,#ff5b5b 96.5px,#ff2b2b 101.5px,#f20606 104.5px,#900000 109.5px,#800000 112.5px,#860000 127.5px,#f00101 134.5px,#ff0e0e 138.5px,#f80505 142.5px,#d80000 144.5px,#920000 147.5px,#810000 149.5px,#870000 159.5px,#c00000 164.5px,#c20000 167.5px,#9c0000 171.5px,#810000 174.5px,#7f0000 322.5px)"></i><i style="background:linear-gradient(90deg,#ffa3a3 0.5px,#ff8d8d 8.5px,#ff6d6d 11.5px,#f81212 16.5px,#d30202 18.5px,#8f0000 21.5px,#810000 24.5px,#940000 26.5px,#df0404 29.5px,#fc1f1f 31.5px,#f77 35.5px,#ffa1a1 39.5px,#ffb3b3 45.5px,#ff9b9b 52.5px,#ff7171 56.5px,#f71111 61.5px,#d00101 63.5px,#8b0000 66.5px,#800000 70.5px,#800 74.5px,#d10000 78.5px,#f30606 80.5px,#ff3131 84.5px,#ff5f5f 90.5px,#ff5e5e 95.5px,#ff3636 100.5px,#fa0e0e 103.5px,#ca0000 106.5px,#8e0000 109.5px,#800000 112.5px,#850000 127.5px,#c20000 131.5px,#f70202 135.5px,#ff0c0c 140.5px,#f60404 142.5px,#bd0000 145.5px,#900000 147.5px,#800000 150.5px,#860000 159.5px,#be0000 164.5px,#c00000 167.5px,#810000 174.5px,#7f0000 322.5px)"></i><i style="background:linear-gradient(90deg,#ffa2a2 0.5px,#ff8c8c 8.5px,#ff6c6c 11.5px,#f61010 16.5px,#d00101 18.5px,#8d0000 21.5px,#810000 24.5px,#910000 26.5px,#f10d0d 30.5px,#ff4a4a 33.5px,#ff8484 36.5px,#ffabab 41.5px,#ffafaf 47.5px,#ff9393 53.5px,#ff6f6f 56.5px,#f51010 61.5px,#cd0101 63.5px,#9a0000 65.5px,#820000 67.5px,#870000 74.5px,#b80000 77.5px,#f10505 80.5px,#ff2f2f 84.5px,#ff5c5c 90.5px,#ff5c5c 95.5px,#f33 100.5px,#f90d0d 103.5px,#c80000 106.5px,#8c0000 109.5px,#800000 113.5px,#840000 127.5px,#ad0000 130.5px,#eb0000 134.5px,#fe0707 137.5px,#fc0707 141.5px,#e70101 143.5px,#8e0000 147.5px,#800000 150.5px,#850000 159.5px,#b00 164.5px,#bd0000 167.5px,#840000 173.5px,#7f0000 322.5px)"></i><i style="background:linear-gradient(90deg,#ffa2a2 0.5px,#ff9191 7.5px,#ff6a6a 11.5px,#f50f0f 16.5px,#b20000 19.5px,#8a0000 21.5px,#800000 24.5px,#8f0000 26.5px,#ef0b0b 30.5px,#fe3131 32.5px,#ff8383 36.5px,#faa 41.5px,#ffaeae 47.5px,#ff9292 53.5px,#ff6d6d 56.5px,#fc1e1e 60.5px,#e30505 62.5px,#970000 65.5px,#820000 67.5px,#850000 74.5px,#b40000 77.5px,#ef0404 80.5px,#ff2121 83.5px,#ff5656 89.5px,#ff5d5d 94.5px,#ff3c3c 99.5px,#f80b0b 103.5px,#c50000 106.5px,#8a0000 109.5px,#800000 113.5px,#830000 127.5px,#a00 130.5px,#e90000 134.5px,#fd0505 137.5px,#fb0505 141.5px,#e50101 143.5px,#8d0000 147.5px,#800000 150.5px,#840000 159.5px,#b90000 164.5px,#ba0000 167.5px,#830000 173.5px,#7f0000 322.5px)"></i><i style="background:linear-gradient(90deg,#ffa1a1 0.5px,#ff9090 7.5px,#f77 10.5px,#fc1c1c 15.5px,#e20404 17.5px,#970000 20.5px,#820000 22.5px,#830000 25.5px,#9f0000 27.5px,#ed0a0a 30.5px,#fe2f2f 32.5px,#ff8282 36.5px,#ffa9a9 41.5px,#ffaeae 47.5px,#ff9191 53.5px,#ff6b6b 56.5px,#fc1c1c 60.5px,#e00404 62.5px,#940000 65.5px,#810000 67.5px,#840000 74.5px,#9c0000 76.5px,#ec0303 80.5px,#ff1e1e 83.5px,#ff5454 89.5px,#ff5b5b 94.5px,#ff3a3a 99.5px,#f70a0a 103.5px,#c20000 106.5px,#890000 109.5px,#7f0000 115.5px,#820000 127.5px,#a70000 130.5px,#f10000 135.5px,#ff0707 139.5px,#f10202 142.5px,#b50000 145.5px,#8c0000 147.5px,#800000 151.5px,#830000 159.5px,#b60000 164.5px,#b80000 167.5px,#820000 173.5px,#7f0000 322.5px)"></i><i style="background:linear-gradient(90deg,#ffa0a0 0.5px,#ff8f8f 7.5px,#ff7575 10.5px,#fc1a1a 15.5px,#df0404 17.5px,#940000 20.5px,#810000 22.5px,#8a0000 26.5px,#b60000 28.5px,#eb0909 30.5px,#fe2d2d 32.5px,#ff8080 36.5px,#ffa8a8 41.5px,#ffadad 47.5px,#ff8f8f 53.5px,#ff6969 56.5px,#fb1a1a 60.5px,#dd0303 62.5px,#910000 65.5px,#810000 67.5px,#830000 74.5px,#900 76.5px,#ea0202 80.5px,#ff1c1c 83.5px,#ff5151 89.5px,#ff5959 94.5px,#ff3838 99.5px,#f60808 103.5px,#800 109.5px,#7f0000 116.5px,#820000 127.5px,#a50000 130.5px,#e00 135.5px,#ff0505 139.5px,#f00101 142.5px,#8b0000 147.5px,#800000 151.5px,#820000 159.5px,#b80000 165.5px,#af0000 168.5px,#820000 173.5px,#7f0000 322.5px)"></i><i style="background:linear-gradient(90deg,#ff9f9f 0.5px,#ff8e8e 7.5px,#ff7474 10.5px,#fb1919 15.5px,#dd0303 17.5px,#920000 20.5px,#810000 22.5px,#890000 26.5px,#b20000 28.5px,#e80909 30.5px,#fd2b2b 32.5px,#ff7f7f 36.5px,#ffa7a7 41.5px,#ffacac 47.5px,#ff8e8e 53.5px,#ff6868 56.5px,#fb1818 60.5px,#da0303 62.5px,#8f0000 65.5px,#800000 68.5px,#800 75.5px,#f50606 81.5px,#ff3a3a 86.5px,#ff5757 91.5px,#ff4e4e 96.5px,#fe1d1d 101.5px,#f40707 103.5px,#870000 109.5px,#7f0000 121.5px,#870000 128.5px,#ec0000 135.5px,#fe0303 139.5px,#ee0101 142.5px,#8a0000 147.5px,#7f0000 152.5px,#870000 160.5px,#b10000 164.5px,#b30000 167.5px,#810000 173.5px,#7f0000 322.5px)"></i><i style="background:linear-gradient(90deg,#ff9f9f 0.5px,#ff8d8d 7.5px,#ff7272 10.5px,#fa1717 15.5px,#da0303 17.5px,#8f0000 20.5px,#800000 23.5px,#870000 26.5px,#af0000 28.5px,#e60808 30.5px,#fd2929 32.5px,#ff7d7d 36.5px,#ffa1a1 40.5px,#ffadad 46.5px,#ff8d8d 53.5px,#f66 56.5px,#fa1616 60.5px,#d70202 62.5px,#8d0000 65.5px,#800000 68.5px,#870000 75.5px,#b00 78.5px,#f30505 81.5px,#ff2e2e 85.5px,#f55 91.5px,#ff4c4c 96.5px,#fb0f0f 102.5px,#e40202 104.5px,#910000 108.5px,#800000 111.5px,#860000 128.5px,#e90000 135.5px,#fd0202 139.5px,#eb0000 142.5px,#890000 147.5px,#7f0000 153.5px,#860000 160.5px,#b30000 165.5px,#a00 168.5px,#810000 173.5px,#7f0000 322.5px)"></i><i style="background:linear-gradient(90deg,#ff9e9e 0.5px,#ff8d8d 7.5px,#ff7171 10.5px,#f91515 15.5px,#d60202 17.5px,#8d0000 20.5px,#800000 23.5px,#860000 26.5px,#ab0000 28.5px,#e30707 30.5px,#fd2727 32.5px,#ff7c7c 36.5px,#ffa0a0 40.5px,#ffacac 46.5px,#ff8c8c 53.5px,#ff6464 56.5px,#f91515 60.5px,#d40202 62.5px,#9d0000 64.5px,#820000 66.5px,#850000 75.5px,#b70000 78.5px,#f10404 81.5px,#ff2c2c 85.5px,#ff5353 91.5px,#ff4a4a 96.5px,#fa0e0e 102.5px,#cd0000 105.5px,#8f0000 108.5px,#800000 111.5px,#850000 128.5px,#e70000 135.5px,#fc0101 139.5px,#e90000 142.5px,#800 147.5px,#7f0000 155.5px,#850000 160.5px,#b00000 165.5px,#a80000 168.5px,#810000 173.5px,#7f0000 322.5px)"></i><i style="background:linear-gradient(90deg,#ff9d9d 0.5px,#ff8c8c 7.5px,#ff6f6f 10.5px,#f81414 15.5px,#d30202 17.5px,#9d0000 19.5px,#820000 21.5px,#850000 26.5px,#a80000 28.5px,#e10606 30.5px,#fc2525 32.5px,#ff7b7b 36.5px,#ff9f9f 40.5px,#ffabab 46.5px,#ff8b8b 53.5px,#ff6262 56.5px,#f71313 60.5px,#d10202 62.5px,#9b0000 64.5px,#820000 66.5px,#840000 75.5px,#9e0000 77.5px,#ef0404 81.5px,#ff1f1f 84.5px,#ff4d4d 90.5px,#ff4d4d 95.5px,#ff2323 100.5px,#ef0404 103.5px,#8d0000 108.5px,#800000 111.5px,#840000 128.5px,#e40000 135.5px,#fa0000 139.5px,#e60000 142.5px,#870000 147.5px,#800000 158.5px,#8c0000 161.5px,#ad0000 165.5px,#a50000 168.5px,#800000 173.5px,#7f0000 322.5px)"></i><i style="background:linear-gradient(90deg,#ff9c9c 0.5px,#ff8b8b 7.5px,#ff6e6e 10.5px,#f71313 15.5px,#d00202 17.5px,#9a0000 19.5px,#820000 21.5px,#840000 26.5px,#a50000 28.5px,#f31111 31.5px,#ff5151 34.5px,#ff8787 37.5px,#ffa7a7 42.5px,#ffa5a5 48.5px,#ff7f7f 54.5px,#f61212 60.5px,#ce0202 62.5px,#980000 64.5px,#820000 66.5px,#830000 75.5px,#9b0000 77.5px,#ed0303 81.5px,#ff1d1d 84.5px,#ff4c4c 90.5px,#ff4b4b 95.5px,#ff2121 100.5px,#ed0404 103.5px,#8c0000 108.5px,#800000 112.5px,#830000 128.5px,#a90000 131.5px,#e20000 135.5px,#f80000 139.5px,#e40000 142.5px,#930000 146.5px,#810000 148.5px,#840000 160.5px,#ab0000 165.5px,#a30000 168.5px,#820000 172.5px,#7f0000 322.5px)"></i><i style="background:linear-gradient(90deg,#ff9c9c 0.5px,#ff8a8a 7.5px,#ff6c6c 10.5px,#f61212 15.5px,#ce0202 17.5px,#900 19.5px,#820000 21.5px,#830000 26.5px,#a30000 28.5px,#f21010 31.5px,#ff5050 34.5px,#ff8686 37.5px,#ffa6a6 42.5px,#ffa5a5 48.5px,#ff7e7e 54.5px,#f61111 60.5px,#cb0101 62.5px,#960000 64.5px,#810000 66.5px,#820000 75.5px,#900 77.5px,#eb0303 81.5px,#ff1c1c 84.5px,#ff4a4a 90.5px,#ff4949 95.5px,#ff2020 100.5px,#ec0303 103.5px,#8b0000 108.5px,#800000 112.5px,#820000 128.5px,#a70000 131.5px,#e00000 135.5px,#f70000 139.5px,#e20000 142.5px,#920000 146.5px,#810000 148.5px,#830000 160.5px,#a90000 165.5px,#980000 169.5px,#800000 173.5px,#7f0000 322.5px)"></i></div>
<svg width="930" height="439" viewBox="0 0 930 439">
<defs>
<linearGradient id="cb" x1="0" y1="0" x2="0" y2="1">
<stop offset="0" stop-color="#800000"/><stop offset="0.25" stop-color="#ff0000"/><stop offset="0.5" stop-color="#ffffff"/><stop offset="0.75" stop-color="#0000ff"/><stop offset="1" stop-color="#00004d"/>
</linearGradient>
</defs>
<g id="ax" fill="none">
<path d="M79.6 39H408.5" stroke="#7a7a7a" stroke-width="2"/>
<path d="M85 39V389" stroke="#ababab" stroke-width="2.4"/>
<path d="M407.5 39V389" stroke="#6e6e6e" stroke-width="2"/>
<path d="M79.6 383H408.5" stroke="#6a6a6a" stroke-width="2"/>
<path d="M79.6 211H85M247 383V389" stroke="#8a8a8a" stroke-width="1.6"/>
<path d="M498 38.8H827" stroke="#000" stroke-opacity="0.46" stroke-width="1.8"/>
<path d="M826.4 39V389" stroke="#000" stroke-opacity="0.42" stroke-width="2"/>
<path d="M504.4 38V389" stroke="#000" stroke-opacity="0.56" stroke-width="2.6"/>
<path d="M498 383H827" stroke="#333" stroke-width="1.8"/>
<path d="M498 211H504M665.5 383V389" stroke="#444" stroke-width="1.8"/>
</g>
<g id="dots"><circle cx="730.1" cy="176.4" r="2.3" fill="#00004d" opacity="0.9"/><circle cx="708" cy="341" r="1.8" fill="#ff2020" opacity="0.8"/><circle cx="710.7" cy="352.6" r="1.6" fill="#ff2020" opacity="0.7"/></g>
<polyline id="crv" points="85.0,382.6 110.0,382.6 115.0,381.8 118.0,382.6 122.0,382.6 124.0,381.8 127.0,382.6 246.0,382.4 249.1,380.8 252.5,380.5 254.2,378.2 257.1,376.2 260.0,374.2 261.1,369.6 261.7,366.2 262.8,361.7 264.5,354.8 266.8,352.5 269.6,351.4 270.2,345.7 271.1,324.4 272.6,306.7 273.6,303.4 274.8,308.1 276.3,302.2 277.8,288.9 279.0,285.9 280.0,293.3 281.5,296.3 283.0,309.6 284.4,314.8 285.9,305.2 287.4,302.2 288.1,309.6 289.6,314.1 291.1,309.6 292.3,294.8 293.3,280.0 294.5,265.4 295.4,260.8 298.5,233.0 300.0,196.0 301.3,159.8 302.0,135.0 303.8,131.3 305.5,130.0 307.0,100.0 308.8,75.0 309.5,61.3 310.5,67.5 312.0,80.0 313.0,100.0 314.5,113.8 315.8,111.0 316.3,87.5 317.0,85.0 318.0,100.0 318.8,125.0 319.5,150.0 320.3,172.8 321.5,177.0 322.0,200.0 323.0,184.0 325.0,190.0 327.0,202.0 330.5,203.5 331.3,210.0 330.5,234.0 329.4,237.7 331.6,235.4 333.8,250.9 336.2,267.3 337.1,273.6 339.8,272.7 341.1,269.1 342.5,280.9 344.4,294.5 346.2,294.5 348.9,287.3 349.8,294.5 351.6,307.3 355.3,304.5 357.1,310.0 358.9,319.8 360.7,324.2 363.5,319.9 366.4,332.7 369.2,344.1 372.6,341.3 374.9,354.1 377.8,359.8 380.6,358.4 383.5,365.5 386.3,369.8 389.2,366.9 392.0,369.8 394.9,375.5 397.7,372.6 402.0,372.6 404.9,374.0 407.5,372.6" fill="none" stroke="#5c5c5c" stroke-width="1.2" stroke-linejoin="round"/>
<rect id="cbar" x="836.3" y="41" width="16.2" height="341" fill="url(#cb)"/>
<path d="M836.6 41V382" stroke="#000" stroke-opacity="0.4" stroke-width="1.3" fill="none"/>
<path id="cbax" d="M853 40.5V382.5M836 41H858M853 211.5H858M836 382H858" stroke="#3a3a3a" stroke-width="1.6" fill="none"/>
<text id="ta" class="a" x="-2.1" y="24.9" font-size="34">(a)</text>
<text id="tb" class="a" x="428" y="24.4" font-size="34">(b)</text>
<text id="a5" class="s" x="46.6" y="57.3" font-size="44" transform="matrix(0.94 0 0 1 2.8 0)">5</text>
<text id="a0" class="s" x="52.4" y="398.7" font-size="44" transform="matrix(0.96 0 0 1 2.1 0)">0</text>
<text id="a3" class="s" x="71.2" y="427.2" font-size="44" transform="matrix(0.94 0 0 1 4.27 0)">3</text>
<text id="a5b" class="s" x="395" y="427.6" font-size="44" transform="matrix(0.95 0 0 1 19.75 0)">5</text>
<text id="axV" class="s" x="179.2" y="426.4" font-size="42" font-style="italic" transform="matrix(0.9 0 0 1 17.92 0)">V</text>
<text id="axS" class="s" x="201.8" y="436" font-size="29">TG</text>
<text id="axU" class="s" x="249.5" y="427.4" font-size="43" transform="matrix(0.97 0 0 1 7.49 0)">(V)</text>
<text id="ayV" class="s" x="62.8" y="283.8" font-size="44" font-style="italic" transform="rotate(-90 62.8 283.8)">I</text>
<text id="ayS" class="s" x="70.9" y="271.2" font-size="29" transform="rotate(-90 70.9 271.2)">DS</text>
<text id="ayU" class="s" x="61.6" y="219.6" font-size="40" transform="rotate(-90 61.6 219.6)">(nA)</text>
<text id="b5" class="s" x="472.3" y="57" font-size="44" transform="matrix(0.9 0 0 1 47.23 0)">5</text>
<text id="bm5" class="s" x="459.8" y="399" font-size="44" transform="matrix(0.95 0 0 1 22.99 0)">-<tspan dx="-2.4">5</tspan></text>
<text id="bm1" class="s" x="471" y="427.2" font-size="44" transform="matrix(0.97 0 0 1 14.13 0)">-<tspan dx="-4.8">1.0</tspan></text>
<text id="b0" class="s" x="812.3" y="427.2" font-size="44" transform="matrix(0.97 0 0 1 24.37 0)">0</text>
<text id="bxV" class="s" x="603.7" y="426.2" font-size="42" font-style="italic" transform="matrix(0.9 0 0 1 60.37 0)">V</text>
<text id="bxS" class="s" x="624.6" y="434.6" font-size="29">SG</text>
<text id="bxU" class="s" x="672" y="427.4" font-size="43" transform="matrix(0.96 0 0 1 26.88 0)">(V)</text>
<text id="byV" class="s" x="482" y="287.2" font-size="42" font-style="italic" transform="rotate(-90 482 287.2) translate(482 287.2) scale(0.92 1) translate(-482 -287.2)">V</text>
<text id="byS" class="s" x="493.6" y="264.4" font-size="29" transform="rotate(-90 493.6 264.4)">DS</text>
<text id="byU" class="s" x="483" y="218.4" font-size="41.5" transform="rotate(-90 483 218.4)">(mV)</text>
<text id="c1" class="s" x="876.9" y="54.2" font-size="44" transform="matrix(0.96 0 0 1 35.08 0)">1.0</text>
<text id="cm1" class="s" x="863" y="392.4" font-size="44" transform="matrix(0.97 0 0 1 25.89 0)">-<tspan dx="-4.8">1.0</tspan></text>
<text id="cyV" class="s" x="905.2" y="284" font-size="44" font-style="italic" transform="rotate(-90 905.2 284)">I</text>
<text id="cyS" class="s" x="915.2" y="271" font-size="29" transform="rotate(-90 915.2 271)">DS</text>
<text id="cyU" class="s" x="904.2" y="222.6" font-size="40" transform="rotate(-90 904.2 222.6)">(nA)</text>
</svg>
</body></html>
